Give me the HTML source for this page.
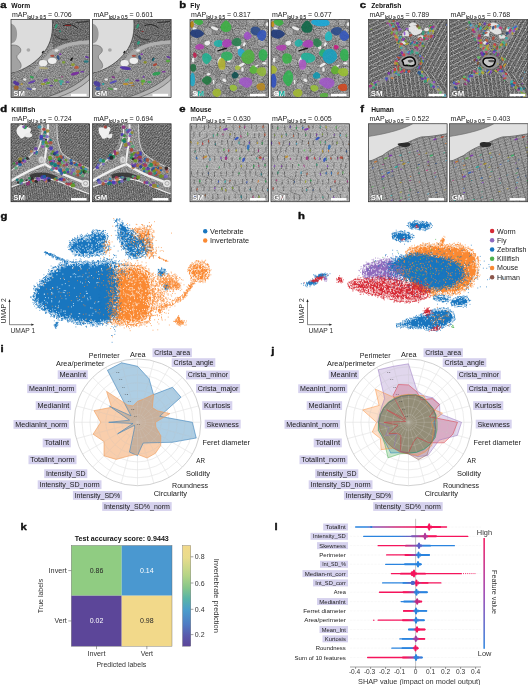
<!DOCTYPE html>
<html lang="en"><head><meta charset="utf-8"><title>Figure</title>
<style>html,body{margin:0;padding:0;background:#fff;}body{width:528px;height:685px;overflow:hidden;}svg{display:block;font-family:"Liberation Sans", sans-serif;}text{white-space:pre;}</style></head><body>
<svg width="528" height="685" viewBox="0 0 528 685">
<rect width="528" height="685" fill="#fff"/>
<defs>
<filter id="nz" x="0" y="0" width="100%" height="100%" color-interpolation-filters="sRGB"><feTurbulence type="fractalNoise" baseFrequency="0.55" numOctaves="2" seed="7"/><feColorMatrix type="matrix" values="0 0 0 0 0.45  0 0 0 0 0.45  0 0 0 0 0.45  2.2 0 0 0 -0.75"/></filter>
<filter id="nzi" x="0" y="0" width="100%" height="100%" color-interpolation-filters="sRGB"><feTurbulence type="fractalNoise" baseFrequency="0.13" numOctaves="3" seed="7"/><feColorMatrix type="matrix" values="1.7 0 0 0 -0.35  1.7 0 0 0 -0.35  1.7 0 0 0 -0.35  0 0 0 0 1"/></filter>
<filter id="nzw" x="0" y="0" width="100%" height="100%" color-interpolation-filters="sRGB"><feTurbulence type="fractalNoise" baseFrequency="0.6" numOctaves="2" seed="11"/><feColorMatrix type="matrix" values="0 0 0 0 1  0 0 0 0 1  0 0 0 0 1  0 2.4 0 0 -0.95"/></filter>
<filter id="bl1" x="-10%" y="-10%" width="120%" height="120%"><feGaussianBlur stdDeviation="1.6"/></filter>
<filter id="bl3" x="-10%" y="-10%" width="120%" height="120%"><feGaussianBlur stdDeviation="3.5"/></filter>
<pattern id="sA" width="27" height="27" patternUnits="userSpaceOnUse" patternTransform="rotate(-25)"><rect x="0" y="0" width="27" height="2.8" fill="#fff" opacity="0.72"/></pattern>
<pattern id="sB" width="27" height="27" patternUnits="userSpaceOnUse" patternTransform="rotate(-62)"><rect x="0" y="0" width="27" height="2.8" fill="#fff" opacity="0.72"/></pattern>
<pattern id="sC" width="27" height="27" patternUnits="userSpaceOnUse" patternTransform="rotate(82)"><rect x="0" y="0" width="27" height="2.8" fill="#fff" opacity="0.72"/></pattern>
<pattern id="sD" width="27" height="27" patternUnits="userSpaceOnUse" patternTransform="rotate(58)"><rect x="0" y="0" width="27" height="2.8" fill="#fff" opacity="0.72"/></pattern>
<pattern id="sE" width="27" height="27" patternUnits="userSpaceOnUse" patternTransform="rotate(-8)"><rect x="0" y="0" width="27" height="2.8" fill="#fff" opacity="0.72"/></pattern>
<pattern id="kA" width="14" height="14" patternUnits="userSpaceOnUse" patternTransform="rotate(-50)"><rect x="0" y="0" width="14" height="3" fill="#ddd" opacity="0.36"/></pattern>
<pattern id="kB" width="14" height="14" patternUnits="userSpaceOnUse" patternTransform="rotate(82)"><rect x="0" y="0" width="14" height="3" fill="#ddd" opacity="0.36"/></pattern>
<pattern id="kC" width="14" height="14" patternUnits="userSpaceOnUse" patternTransform="rotate(-40)"><rect x="0" y="0" width="14" height="3" fill="#ddd" opacity="0.34"/></pattern>
<pattern id="kD" width="14" height="14" patternUnits="userSpaceOnUse" patternTransform="rotate(60)"><rect x="0" y="0" width="14" height="3" fill="#ddd" opacity="0.5"/></pattern>
<pattern id="mH" width="9" height="9" patternUnits="userSpaceOnUse" patternTransform="rotate(0)"><rect x="0" y="0" width="9" height="3" fill="#fff" opacity="0.18"/></pattern>
<pattern id="hA" width="17" height="17" patternUnits="userSpaceOnUse" patternTransform="rotate(-17)"><rect x="0" y="0" width="17" height="3.2" fill="#4a4a4a" opacity="0.5"/></pattern>
<pattern id="hB" width="40" height="40" patternUnits="userSpaceOnUse" patternTransform="rotate(76)"><rect x="0" y="0" width="40" height="5" fill="#3c3c3c" opacity="0.5"/></pattern>
</defs>
<text transform="translate(0.3 7.6) scale(1.14 1)" font-size="9.9" font-weight="bold" fill="#111" stroke="#111" stroke-width=".42" stroke-linejoin="round">a</text>
<text x="11.3" y="7.5" font-size="6.7" font-weight="bold" fill="#111">Worm</text>
<text x="12" y="16.8" font-size="7" fill="#222">mAP<tspan font-size="4.7" dy="1.8" stroke="#222" stroke-width=".12">IoU ≥ 0.5</tspan><tspan dy="-1.8"> = 0.706</tspan></text>
<text x="93.5" y="16.8" font-size="7" fill="#222">mAP<tspan font-size="4.7" dy="1.8" stroke="#222" stroke-width=".12">IoU ≥ 0.5</tspan><tspan dy="-1.8"> = 0.601</tspan></text>
<text transform="translate(179.3 7.6) scale(1.14 1)" font-size="9.9" font-weight="bold" fill="#111" stroke="#111" stroke-width=".42" stroke-linejoin="round">b</text>
<text x="190.3" y="7.5" font-size="6.7" font-weight="bold" fill="#111">Fly</text>
<text x="191" y="16.8" font-size="7" fill="#222">mAP<tspan font-size="4.7" dy="1.8" stroke="#222" stroke-width=".12">IoU ≥ 0.5</tspan><tspan dy="-1.8"> = 0.817</tspan></text>
<text x="272" y="16.8" font-size="7" fill="#222">mAP<tspan font-size="4.7" dy="1.8" stroke="#222" stroke-width=".12">IoU ≥ 0.5</tspan><tspan dy="-1.8"> = 0.677</tspan></text>
<text transform="translate(359.8 7.6) scale(1.14 1)" font-size="9.9" font-weight="bold" fill="#111" stroke="#111" stroke-width=".42" stroke-linejoin="round">c</text>
<text x="371.2" y="7.5" font-size="6.7" font-weight="bold" fill="#111">Zebrafish</text>
<text x="369.5" y="16.8" font-size="7" fill="#222">mAP<tspan font-size="4.7" dy="1.8" stroke="#222" stroke-width=".12">IoU ≥ 0.5</tspan><tspan dy="-1.8"> = 0.789</tspan></text>
<text x="450.6" y="16.8" font-size="7" fill="#222">mAP<tspan font-size="4.7" dy="1.8" stroke="#222" stroke-width=".12">IoU ≥ 0.5</tspan><tspan dy="-1.8"> = 0.768</tspan></text>
<text transform="translate(0.3 111.85) scale(1.14 1)" font-size="9.9" font-weight="bold" fill="#111" stroke="#111" stroke-width=".42" stroke-linejoin="round">d</text>
<text x="11.3" y="111.75" font-size="6.7" font-weight="bold" fill="#111">Killifish</text>
<text x="12" y="121.05" font-size="7" fill="#222">mAP<tspan font-size="4.7" dy="1.8" stroke="#222" stroke-width=".12">IoU ≥ 0.5</tspan><tspan dy="-1.8"> = 0.724</tspan></text>
<text x="93.5" y="121.05" font-size="7" fill="#222">mAP<tspan font-size="4.7" dy="1.8" stroke="#222" stroke-width=".12">IoU ≥ 0.5</tspan><tspan dy="-1.8"> = 0.694</tspan></text>
<text transform="translate(179.3 111.85) scale(1.14 1)" font-size="9.9" font-weight="bold" fill="#111" stroke="#111" stroke-width=".42" stroke-linejoin="round">e</text>
<text x="190.3" y="111.75" font-size="6.7" font-weight="bold" fill="#111">Mouse</text>
<text x="191" y="121.05" font-size="7" fill="#222">mAP<tspan font-size="4.7" dy="1.8" stroke="#222" stroke-width=".12">IoU ≥ 0.5</tspan><tspan dy="-1.8"> = 0.630</tspan></text>
<text x="272" y="121.05" font-size="7" fill="#222">mAP<tspan font-size="4.7" dy="1.8" stroke="#222" stroke-width=".12">IoU ≥ 0.5</tspan><tspan dy="-1.8"> = 0.605</tspan></text>
<text transform="translate(360.2 111.85) scale(1.14 1)" font-size="9.9" font-weight="bold" fill="#111" stroke="#111" stroke-width=".42" stroke-linejoin="round">f</text>
<text x="371.2" y="111.75" font-size="6.7" font-weight="bold" fill="#111">Human</text>
<text x="369.5" y="121.05" font-size="7" fill="#222">mAP<tspan font-size="4.7" dy="1.8" stroke="#222" stroke-width=".12">IoU ≥ 0.5</tspan><tspan dy="-1.8"> = 0.522</tspan></text>
<text x="450.6" y="121.05" font-size="7" fill="#222">mAP<tspan font-size="4.7" dy="1.8" stroke="#222" stroke-width=".12">IoU ≥ 0.5</tspan><tspan dy="-1.8"> = 0.403</tspan></text>
<svg x="11" y="19.5" width="78.6" height="78" viewBox="0 0 506.18 502.32" preserveAspectRatio="none" overflow="hidden">
<rect width="520" height="520" fill="#8a8a8a"/>
<path d="M265,0 L520,0 L520,140 C430,140 340,150 280,200 C250,150 270,60 265,0Z" fill="#6b6b6b"/>
<rect width="520" height="520" filter="url(#nzi)" opacity="0.3" style="mix-blend-mode:overlay"/>
<path d="M0,0 L266,0 C272,75 262,150 212,212 C165,272 95,325 0,345Z" fill="#dcdcdc"/>
<path d="M266,0 C272,75 262,150 212,212 C165,272 95,325 0,345" fill="none" stroke="#3c3c3c" stroke-width="5"/>
<path d="M0,25 C30,35 45,70 38,110 C34,140 20,150 0,155Z" fill="#9a9a9a"/>
<path d="M0,165 C40,160 70,180 62,205 C55,225 30,225 40,250 C55,270 75,290 60,315 C45,335 20,335 0,340Z" fill="#a2a2a2"/>
<path d="M0,165 C40,160 70,180 62,205 C55,225 30,225 40,250 C55,270 75,290 60,315" fill="none" stroke="#666" stroke-width="4"/>
<ellipse cx="112" cy="196" rx="12" ry="11" fill="#a8a8a8" opacity="1"/>
<path d="M262,200 C330,150 420,138 520,132 L520,158 C430,158 350,168 288,215Z" fill="#b0b0b0"/>
<path d="M140,330 C200,270 240,215 262,200 L288,215 C250,245 215,290 160,345Z" fill="#a6a6a6"/>
<path d="M335,40 C370,25 410,35 430,60" fill="none" stroke="#1c1c1c" stroke-width="6"/>
<path d="M275,95 C300,120 330,135 365,130" fill="none" stroke="#2a2a2a" stroke-width="5"/>
<path d="M420,20 L500,12" fill="none" stroke="#222" stroke-width="5"/>
<path d="M150,520 C290,490 430,430 520,335 L520,372 C450,450 330,500 230,520Z" fill="#b2b2b2"/>
<path d="M150,520 C290,490 430,430 520,335" fill="none" stroke="#4a4a4a" stroke-width="4"/>
<path d="M230,520 C330,500 450,450 520,372 L520,520Z" fill="#c6c6c6"/>
<path d="M230,520 C330,500 450,450 520,372" fill="none" stroke="#555" stroke-width="4"/>
<path d="M0,440 C40,470 90,490 150,500 L150,520 L0,520Z" fill="#8c8c8c"/>
<ellipse cx="207" cy="281" rx="27" ry="20" fill="#ececec" opacity="1"/>
<ellipse cx="266" cy="266" rx="28" ry="20" fill="#efefef" opacity="1"/>
<ellipse cx="294" cy="199" rx="12" ry="8" fill="#e6e6e6" opacity="1"/>
<ellipse cx="89" cy="386" rx="10" ry="8" fill="#e6e6e6" opacity="1"/>
<ellipse cx="148" cy="447" rx="14" ry="7" fill="#e2e2e2" opacity="1"/>
<ellipse cx="390" cy="256" rx="6" ry="13" fill="#111" opacity="1" transform="rotate(30 390 256)"/>
<ellipse cx="205" cy="210" rx="5" ry="10" fill="#181818" opacity="1" transform="rotate(35 205 210)"/>
<ellipse cx="291" cy="43" rx="7" ry="16" fill="#2e9e78" opacity="0.9" transform="rotate(25 291 43)"/>
<ellipse cx="366" cy="38" rx="22" ry="4" fill="#8a2020" opacity="0.9"/>
<ellipse cx="316" cy="76" rx="7" ry="5" fill="#1e9e7e" opacity="0.9"/>
<ellipse cx="266" cy="234" rx="14" ry="7" fill="#b04838" opacity="0.9"/>
<ellipse cx="317" cy="223" rx="8" ry="6" fill="#8030b0" opacity="0.9"/>
<ellipse cx="304" cy="246" rx="8" ry="16" fill="#2a4a80" opacity="0.9" transform="rotate(-20 304 246)"/>
<ellipse cx="339" cy="276" rx="10" ry="9" fill="#7aa030" opacity="0.9"/>
<ellipse cx="399" cy="291" rx="12" ry="9" fill="#90a028" opacity="0.9"/>
<ellipse cx="422" cy="308" rx="14" ry="10" fill="#c05838" opacity="0.9"/>
<ellipse cx="412" cy="349" rx="28" ry="9" fill="#7828a0" opacity="0.9" transform="rotate(-15 412 349)"/>
<ellipse cx="459" cy="336" rx="14" ry="5" fill="#7030b0" opacity="0.9"/>
<ellipse cx="489" cy="243" rx="14" ry="6" fill="#6030a0" opacity="0.9" transform="rotate(20 489 243)"/>
<ellipse cx="484" cy="271" rx="16" ry="8" fill="#207880" opacity="0.9"/>
<ellipse cx="209" cy="313" rx="30" ry="7" fill="#b0a878" opacity="0.9" transform="rotate(5 209 313)"/>
<ellipse cx="134" cy="371" rx="14" ry="8" fill="#30a050" opacity="0.9" transform="rotate(20 134 371)"/>
<ellipse cx="134" cy="403" rx="25" ry="7" fill="#6038b0" opacity="0.9" transform="rotate(-20 134 403)"/>
<ellipse cx="222" cy="391" rx="16" ry="8" fill="#7038c0" opacity="0.9" transform="rotate(-25 222 391)"/>
<ellipse cx="206" cy="416" rx="16" ry="7" fill="#98a028" opacity="0.9"/>
<ellipse cx="239" cy="409" rx="14" ry="7" fill="#58a830" opacity="0.9" transform="rotate(-20 239 409)"/>
<ellipse cx="289" cy="393" rx="14" ry="8" fill="#70a838" opacity="0.9"/>
<ellipse cx="324" cy="399" rx="16" ry="10" fill="#40a890" opacity="0.9"/>
<ellipse cx="364" cy="403" rx="14" ry="6" fill="#6848a8" opacity="0.9"/>
<ellipse cx="259" cy="426" rx="12" ry="4" fill="#5828a0" opacity="0.9"/>
<ellipse cx="322" cy="416" rx="6" ry="8" fill="#20b0b0" opacity="0.9"/>
<ellipse cx="34" cy="411" rx="22" ry="12" fill="#5030a0" opacity="0.9" transform="rotate(30 34 411)"/>
<ellipse cx="34" cy="439" rx="16" ry="14" fill="#a06028" opacity="0.9"/>
<ellipse cx="69" cy="416" rx="8" ry="6" fill="#c0a030" opacity="0.9"/>
<ellipse cx="116" cy="446" rx="18" ry="6" fill="#5050b0" opacity="0.9" transform="rotate(15 116 446)"/>
<ellipse cx="329" cy="369" rx="5" ry="5" fill="#a03080" opacity="0.9"/>
</svg>
<text x="13.2" y="96.2" font-size="7.8" font-weight="bold" fill="#000" opacity=".4" stroke="#000" stroke-width="1.2" stroke-opacity=".3">SM</text>
<text x="13.2" y="96.2" font-size="7.8" font-weight="bold" fill="#fff">SM</text>
<rect x="71" y="93.8" width="15.6" height="2.4" fill="#fff"/>
<rect x="11" y="19.5" width="78.6" height="78" fill="none" stroke="#2b2b2b" stroke-width=".7"/>
<svg x="92.5" y="19.5" width="78.6" height="78" viewBox="0 0 506.18 502.32" preserveAspectRatio="none" overflow="hidden">
<rect width="520" height="520" fill="#8a8a8a"/>
<path d="M265,0 L520,0 L520,140 C430,140 340,150 280,200 C250,150 270,60 265,0Z" fill="#6b6b6b"/>
<rect width="520" height="520" filter="url(#nzi)" opacity="0.3" style="mix-blend-mode:overlay"/>
<path d="M0,0 L266,0 C272,75 262,150 212,212 C165,272 95,325 0,345Z" fill="#dcdcdc"/>
<path d="M266,0 C272,75 262,150 212,212 C165,272 95,325 0,345" fill="none" stroke="#3c3c3c" stroke-width="5"/>
<path d="M0,25 C30,35 45,70 38,110 C34,140 20,150 0,155Z" fill="#9a9a9a"/>
<path d="M0,165 C40,160 70,180 62,205 C55,225 30,225 40,250 C55,270 75,290 60,315 C45,335 20,335 0,340Z" fill="#a2a2a2"/>
<path d="M0,165 C40,160 70,180 62,205 C55,225 30,225 40,250 C55,270 75,290 60,315" fill="none" stroke="#666" stroke-width="4"/>
<ellipse cx="112" cy="196" rx="12" ry="11" fill="#a8a8a8" opacity="1"/>
<path d="M262,200 C330,150 420,138 520,132 L520,158 C430,158 350,168 288,215Z" fill="#b0b0b0"/>
<path d="M140,330 C200,270 240,215 262,200 L288,215 C250,245 215,290 160,345Z" fill="#a6a6a6"/>
<path d="M335,40 C370,25 410,35 430,60" fill="none" stroke="#1c1c1c" stroke-width="6"/>
<path d="M275,95 C300,120 330,135 365,130" fill="none" stroke="#2a2a2a" stroke-width="5"/>
<path d="M420,20 L500,12" fill="none" stroke="#222" stroke-width="5"/>
<path d="M150,520 C290,490 430,430 520,335 L520,372 C450,450 330,500 230,520Z" fill="#b2b2b2"/>
<path d="M150,520 C290,490 430,430 520,335" fill="none" stroke="#4a4a4a" stroke-width="4"/>
<path d="M230,520 C330,500 450,450 520,372 L520,520Z" fill="#c6c6c6"/>
<path d="M230,520 C330,500 450,450 520,372" fill="none" stroke="#555" stroke-width="4"/>
<path d="M0,440 C40,470 90,490 150,500 L150,520 L0,520Z" fill="#8c8c8c"/>
<ellipse cx="207" cy="281" rx="27" ry="20" fill="#ececec" opacity="1"/>
<ellipse cx="266" cy="266" rx="28" ry="20" fill="#efefef" opacity="1"/>
<ellipse cx="294" cy="199" rx="12" ry="8" fill="#e6e6e6" opacity="1"/>
<ellipse cx="89" cy="386" rx="10" ry="8" fill="#e6e6e6" opacity="1"/>
<ellipse cx="148" cy="447" rx="14" ry="7" fill="#e2e2e2" opacity="1"/>
<ellipse cx="390" cy="256" rx="6" ry="13" fill="#111" opacity="1" transform="rotate(30 390 256)"/>
<ellipse cx="205" cy="210" rx="5" ry="10" fill="#181818" opacity="1" transform="rotate(35 205 210)"/>
<ellipse cx="291" cy="43" rx="7" ry="16" fill="#2e9e78" opacity="0.9" transform="rotate(25 291 43)"/>
<ellipse cx="322" cy="76" rx="8" ry="4" fill="#903030" opacity="0.9"/>
<ellipse cx="296" cy="150" rx="8" ry="12" fill="#1e9e7e" opacity="0.9" transform="rotate(30 296 150)"/>
<ellipse cx="266" cy="234" rx="14" ry="7" fill="#b04838" opacity="0.9"/>
<ellipse cx="317" cy="223" rx="8" ry="6" fill="#8030b0" opacity="0.9"/>
<ellipse cx="304" cy="246" rx="8" ry="16" fill="#2a4a80" opacity="0.9" transform="rotate(-20 304 246)"/>
<ellipse cx="339" cy="276" rx="10" ry="9" fill="#8a9020" opacity="0.9"/>
<ellipse cx="392" cy="258" rx="6" ry="12" fill="#207888" opacity="0.9" transform="rotate(30 392 258)"/>
<ellipse cx="403" cy="291" rx="14" ry="8" fill="#b04030" opacity="0.9" transform="rotate(-20 403 291)"/>
<ellipse cx="422" cy="308" rx="12" ry="9" fill="#a0a080" opacity="0.9"/>
<ellipse cx="412" cy="349" rx="26" ry="11" fill="#28a050" opacity="0.9" transform="rotate(-10 412 349)"/>
<ellipse cx="459" cy="336" rx="14" ry="5" fill="#8030a0" opacity="0.9"/>
<ellipse cx="489" cy="243" rx="14" ry="6" fill="#6030a0" opacity="0.9" transform="rotate(20 489 243)"/>
<ellipse cx="486" cy="268" rx="14" ry="9" fill="#50a838" opacity="0.9"/>
<ellipse cx="212" cy="313" rx="36" ry="10" fill="#5030a8" opacity="0.9" transform="rotate(8 212 313)"/>
<ellipse cx="134" cy="371" rx="12" ry="6" fill="#803088" opacity="0.9" transform="rotate(20 134 371)"/>
<ellipse cx="134" cy="403" rx="25" ry="7" fill="#5048c0" opacity="0.9" transform="rotate(-20 134 403)"/>
<ellipse cx="222" cy="391" rx="16" ry="8" fill="#50a890" opacity="0.9" transform="rotate(-25 222 391)"/>
<ellipse cx="214" cy="416" rx="20" ry="7" fill="#c09028" opacity="0.9"/>
<ellipse cx="250" cy="409" rx="14" ry="6" fill="#b89030" opacity="0.9" transform="rotate(-10 250 409)"/>
<ellipse cx="289" cy="393" rx="14" ry="7" fill="#602890" opacity="0.9"/>
<ellipse cx="326" cy="397" rx="14" ry="11" fill="#58b030" opacity="0.9"/>
<ellipse cx="366" cy="403" rx="14" ry="7" fill="#38a858" opacity="0.9"/>
<ellipse cx="259" cy="426" rx="12" ry="4" fill="#a07028" opacity="0.9"/>
<ellipse cx="322" cy="416" rx="6" ry="8" fill="#98a830" opacity="0.9"/>
<ellipse cx="30" cy="415" rx="24" ry="16" fill="#4838a0" opacity="0.9" transform="rotate(30 30 415)"/>
<ellipse cx="36" cy="445" rx="16" ry="12" fill="#3858a0" opacity="0.9"/>
<ellipse cx="69" cy="416" rx="8" ry="7" fill="#20a0a0" opacity="0.9"/>
<ellipse cx="116" cy="446" rx="18" ry="7" fill="#509848" opacity="0.9" transform="rotate(15 116 446)"/>
<ellipse cx="329" cy="369" rx="6" ry="6" fill="#7030b0" opacity="0.9"/>
</svg>
<text x="94.7" y="96.2" font-size="7.8" font-weight="bold" fill="#000" opacity=".4" stroke="#000" stroke-width="1.2" stroke-opacity=".3">GM</text>
<text x="94.7" y="96.2" font-size="7.8" font-weight="bold" fill="#fff">GM</text>
<rect x="152.5" y="93.8" width="15.6" height="2.4" fill="#fff"/>
<rect x="92.5" y="19.5" width="78.6" height="78" fill="none" stroke="#2b2b2b" stroke-width=".7"/>
<svg x="190" y="19.5" width="78.6" height="78" viewBox="0 0 506.18 502.32" preserveAspectRatio="none" overflow="hidden">
<rect width="520" height="520" fill="#929292"/>
<path d="M56.3,22.1Q59.2,31.8 57.1,42.2Q55.1,52.7 44.3,59.6Q33.4,66.6 21.9,60.3Q10.3,54.1 4.2,42.9Q-2.0,31.8 6.3,22.6Q14.6,13.5 24.0,7.8Q33.4,2.1 43.4,7.3Q53.4,12.5 56.3,22.1Z" fill="#a0a0a0" stroke="#5e5e5e" stroke-width="3.5"/>
<path d="M89.4,76.0Q94.8,87.1 88.6,97.3Q82.4,107.6 71.8,110.6Q61.2,113.6 48.8,112.4Q36.4,111.1 33.9,99.1Q31.5,87.1 34.3,75.5Q37.2,63.9 49.2,62.8Q61.2,61.7 72.7,63.3Q84.1,65.0 89.4,76.0Z" fill="#9a9a9a" stroke="#5e5e5e" stroke-width="3.5"/>
<path d="M54.0,123.4Q56.2,134.7 52.2,144.2Q48.1,153.7 38.3,161.8Q28.5,169.9 16.0,164.3Q3.6,158.8 1.7,146.7Q-0.2,134.7 1.4,122.3Q2.9,110.0 15.7,107.1Q28.5,104.3 40.1,108.2Q51.8,112.1 54.0,123.4Z" fill="#9a9a9a" stroke="#5e5e5e" stroke-width="3.5"/>
<path d="M80.0,207.5Q87.9,217.3 82.4,229.5Q76.8,241.6 64.2,243.4Q51.7,245.2 41.3,241.3Q30.9,237.5 27.7,227.4Q24.5,217.3 28.5,208.1Q32.6,198.8 42.2,195.4Q51.7,192.0 61.9,194.8Q72.1,197.7 80.0,207.5Z" fill="#8c8c8c" stroke="#5e5e5e" stroke-width="3.5"/>
<path d="M56.0,241.4Q59.0,251.1 56.4,261.1Q53.7,271.2 43.3,275.1Q32.9,279.0 21.2,276.4Q9.4,273.8 7.4,262.5Q5.4,251.1 8.3,240.6Q11.2,230.1 22.0,227.3Q32.9,224.6 42.9,228.2Q52.9,231.7 56.0,241.4Z" fill="#959595" stroke="#5e5e5e" stroke-width="3.5"/>
<path d="M99.4,328.2Q107.1,337.6 98.8,346.3Q90.4,355.1 81.4,362.9Q72.3,370.7 61.9,364.2Q51.4,357.8 45.9,347.7Q40.4,337.6 47.3,328.8Q54.2,320.1 63.3,316.3Q72.3,312.5 82.0,315.6Q91.7,318.8 99.4,328.2Z" fill="#959595" stroke="#5e5e5e" stroke-width="3.5"/>
<path d="M72.6,364.9Q78.5,376.5 73.3,388.8Q68.2,401.1 55.4,403.0Q42.7,404.8 32.4,400.7Q22.0,396.6 16.7,386.6Q11.5,376.5 15.1,364.8Q18.6,353.2 30.7,352.0Q42.7,350.7 54.7,352.1Q66.6,353.4 72.6,364.9Z" fill="#8c8c8c" stroke="#5e5e5e" stroke-width="3.5"/>
<path d="M95.2,443.7Q98.6,455.1 96.3,467.5Q94.0,479.9 81.2,480.9Q68.3,481.9 57.3,479.2Q46.3,476.4 42.6,465.7Q38.9,455.1 44.0,445.8Q49.2,436.5 58.8,432.0Q68.3,427.5 80.1,429.9Q91.8,432.3 95.2,443.7Z" fill="#9a9a9a" stroke="#5e5e5e" stroke-width="3.5"/>
<path d="M45.2,497.7Q46.0,510.2 41.6,519.2Q37.2,528.2 27.9,532.3Q18.6,536.4 6.9,534.6Q-4.8,532.9 -11.4,521.5Q-18.0,510.2 -9.3,500.9Q-0.7,491.6 9.0,488.3Q18.6,485.1 31.5,485.2Q44.3,485.3 45.2,497.7Z" fill="#959595" stroke="#5e5e5e" stroke-width="3.5"/>
<path d="M119.9,10.6Q124.6,22.4 118.1,32.4Q111.6,42.4 101.3,46.0Q90.9,49.7 79.4,47.2Q67.8,44.7 65.9,33.5Q63.9,22.4 64.6,9.9Q65.2,-2.5 78.1,-5.8Q90.9,-9.1 103.1,-5.1Q115.2,-1.2 119.9,10.6Z" fill="#8c8c8c" stroke="#5e5e5e" stroke-width="3.5"/>
<path d="M143.5,67.0Q151.4,76.8 144.8,87.9Q138.3,99.0 126.8,104.5Q115.4,109.9 105.9,102.5Q96.5,95.0 90.8,85.9Q85.1,76.8 90.6,67.5Q96.2,58.3 105.8,50.7Q115.4,43.1 125.5,50.1Q135.7,57.2 143.5,67.0Z" fill="#a0a0a0" stroke="#5e5e5e" stroke-width="3.5"/>
<path d="M116.4,149.7Q125.0,159.0 117.6,169.4Q110.2,179.8 99.5,184.3Q88.7,188.9 76.8,185.4Q65.0,181.9 61.4,170.5Q57.9,159.0 63.2,149.2Q68.4,139.4 78.6,134.7Q88.7,130.0 98.3,135.2Q107.8,140.5 116.4,149.7Z" fill="#8c8c8c" stroke="#5e5e5e" stroke-width="3.5"/>
<path d="M143.2,208.6Q149.0,218.7 143.7,229.3Q138.5,239.9 127.5,243.4Q116.6,246.9 107.2,241.8Q97.9,236.8 93.0,227.7Q88.1,218.7 90.3,207.0Q92.4,195.3 104.5,190.0Q116.6,184.7 127.0,191.6Q137.4,198.5 143.2,208.6Z" fill="#8c8c8c" stroke="#5e5e5e" stroke-width="3.5"/>
<path d="M126.1,261.4Q130.8,272.7 126.4,284.3Q122.0,295.9 110.0,298.6Q98.0,301.2 86.2,298.3Q74.5,295.5 72.0,284.1Q69.5,272.7 72.8,262.1Q76.2,251.6 87.1,245.7Q98.0,239.8 109.7,244.9Q121.4,250.0 126.1,261.4Z" fill="#a0a0a0" stroke="#5e5e5e" stroke-width="3.5"/>
<path d="M141.7,326.3Q146.1,337.5 139.2,346.2Q132.3,355.0 123.3,361.5Q114.2,368.0 104.3,362.4Q94.3,356.8 87.8,347.1Q81.3,337.5 87.0,327.0Q92.6,316.5 103.4,310.3Q114.2,304.1 125.8,309.6Q137.3,315.1 141.7,326.3Z" fill="#8c8c8c" stroke="#5e5e5e" stroke-width="3.5"/>
<path d="M127.9,368.4Q132.0,380.7 127.4,392.6Q122.8,404.5 110.6,406.8Q98.3,409.1 86.0,406.8Q73.7,404.6 68.5,392.7Q63.2,380.7 69.1,369.4Q74.9,358.1 86.6,351.8Q98.3,345.6 111.1,350.8Q123.9,356.0 127.9,368.4Z" fill="#959595" stroke="#5e5e5e" stroke-width="3.5"/>
<path d="M145.7,434.8Q148.1,445.8 144.7,455.9Q141.3,466.0 130.9,472.8Q120.5,479.6 110.4,472.5Q100.3,465.4 97.3,455.6Q94.2,445.8 95.7,434.6Q97.2,423.3 108.9,420.0Q120.5,416.7 131.9,420.2Q143.3,423.7 145.7,434.8Z" fill="#8c8c8c" stroke="#5e5e5e" stroke-width="3.5"/>
<path d="M128.1,494.4Q131.0,505.5 127.8,516.3Q124.6,527.1 113.4,533.3Q102.2,539.4 92.2,532.2Q82.1,524.9 73.9,515.2Q65.7,505.5 74.2,496.0Q82.7,486.6 92.5,480.5Q102.2,474.5 113.7,478.9Q125.1,483.3 128.1,494.4Z" fill="#858585" stroke="#5e5e5e" stroke-width="3.5"/>
<path d="M167.0,22.9Q173.5,32.3 166.4,41.1Q159.4,50.0 150.2,56.0Q141.1,61.9 131.2,56.7Q121.3,51.4 118.2,41.8Q115.0,32.3 118.5,23.0Q122.0,13.8 131.5,9.0Q141.1,4.2 150.8,8.8Q160.5,13.5 167.0,22.9Z" fill="#8c8c8c" stroke="#5e5e5e" stroke-width="3.5"/>
<path d="M198.8,59.7Q200.8,72.0 197.7,83.2Q194.6,94.5 183.0,95.9Q171.4,97.4 161.6,94.2Q151.8,91.0 144.9,81.5Q138.0,72.0 144.2,61.9Q150.5,51.7 161.0,47.7Q171.4,43.6 184.2,45.5Q196.9,47.3 198.8,59.7Z" fill="#858585" stroke="#5e5e5e" stroke-width="3.5"/>
<path d="M187.5,142.9Q189.6,155.3 183.9,164.1Q178.2,172.9 169.1,179.7Q160.0,186.5 150.6,179.9Q141.2,173.4 134.9,164.3Q128.5,155.3 133.9,145.3Q139.3,135.3 149.6,129.8Q160.0,124.4 172.7,127.5Q185.5,130.5 187.5,142.9Z" fill="#a0a0a0" stroke="#5e5e5e" stroke-width="3.5"/>
<path d="M216.6,191.7Q221.5,202.7 215.7,212.8Q209.8,223.0 199.4,225.9Q188.9,228.9 177.6,226.8Q166.2,224.7 161.7,213.7Q157.2,202.7 160.3,190.4Q163.4,178.0 176.2,172.9Q188.9,167.7 200.3,174.2Q211.7,180.7 216.6,191.7Z" fill="#a0a0a0" stroke="#5e5e5e" stroke-width="3.5"/>
<path d="M171.4,265.7Q175.5,276.0 170.9,286.0Q166.4,295.9 156.1,303.2Q145.8,310.5 134.7,304.0Q123.6,297.5 120.2,286.8Q116.8,276.0 118.9,264.0Q120.9,251.9 133.4,248.6Q145.8,245.3 156.5,250.3Q167.2,255.3 171.4,265.7Z" fill="#9a9a9a" stroke="#5e5e5e" stroke-width="3.5"/>
<path d="M222.4,314.2Q229.6,324.8 222.0,335.0Q214.3,345.1 203.8,352.5Q193.3,359.8 180.8,354.5Q168.2,349.2 164.7,337.0Q161.3,324.8 167.3,315.1Q173.3,305.4 183.3,297.5Q193.3,289.6 204.3,296.6Q215.2,303.6 222.4,314.2Z" fill="#858585" stroke="#5e5e5e" stroke-width="3.5"/>
<path d="M175.2,368.3Q178.5,379.9 173.2,389.7Q167.9,399.5 157.8,404.6Q147.6,409.7 138.2,404.0Q128.7,398.3 122.0,389.1Q115.3,379.9 120.7,369.5Q126.2,359.2 136.9,355.7Q147.6,352.2 159.7,354.4Q171.8,356.6 175.2,368.3Z" fill="#959595" stroke="#5e5e5e" stroke-width="3.5"/>
<path d="M215.1,421.6Q220.8,431.4 214.9,441.0Q209.0,450.6 199.1,455.9Q189.2,461.1 180.0,455.1Q170.9,449.0 164.6,440.2Q158.3,431.4 161.4,419.4Q164.5,407.5 176.8,403.3Q189.2,399.0 199.3,405.4Q209.4,411.8 215.1,421.6Z" fill="#a0a0a0" stroke="#5e5e5e" stroke-width="3.5"/>
<path d="M176.4,508.8Q182.4,518.8 177.5,529.8Q172.5,540.8 161.2,546.1Q149.8,551.4 140.3,544.3Q130.9,537.1 123.4,527.9Q115.9,518.8 122.7,508.9Q129.4,499.1 139.6,493.8Q149.8,488.4 160.1,493.6Q170.4,498.8 176.4,508.8Z" fill="#a0a0a0" stroke="#5e5e5e" stroke-width="3.5"/>
<path d="M228.4,16.7Q233.6,25.8 230.7,37.1Q227.7,48.4 216.0,53.8Q204.3,59.2 194.8,51.7Q185.3,44.2 182.1,35.0Q178.9,25.8 180.4,15.0Q182.0,4.2 193.1,-1.0Q204.3,-6.2 213.7,0.7Q223.1,7.6 228.4,16.7Z" fill="#858585" stroke="#5e5e5e" stroke-width="3.5"/>
<path d="M272.8,66.2Q279.4,76.4 273.0,86.7Q266.6,97.0 255.9,102.1Q245.2,107.2 233.5,103.2Q221.7,99.2 217.2,87.8Q212.8,76.4 218.1,65.8Q223.5,55.3 234.4,48.6Q245.2,41.9 255.8,49.0Q266.3,56.0 272.8,66.2Z" fill="#858585" stroke="#5e5e5e" stroke-width="3.5"/>
<path d="M236.2,143.7Q242.4,154.9 235.5,165.3Q228.6,175.8 217.8,181.7Q207.0,187.6 196.8,181.1Q186.6,174.6 184.1,164.7Q181.5,154.9 182.2,143.2Q182.9,131.5 194.9,127.7Q207.0,124.0 218.5,128.2Q230.1,132.5 236.2,143.7Z" fill="#8c8c8c" stroke="#5e5e5e" stroke-width="3.5"/>
<path d="M263.9,190.7Q270.0,199.7 265.8,210.5Q261.5,221.3 250.4,225.5Q239.2,229.7 228.9,224.7Q218.6,219.6 215.4,209.7Q212.1,199.7 214.4,188.8Q216.6,177.8 227.9,172.1Q239.2,166.3 248.5,174.1Q257.7,181.8 263.9,190.7Z" fill="#8c8c8c" stroke="#5e5e5e" stroke-width="3.5"/>
<path d="M231.2,262.0Q235.3,273.9 227.9,282.7Q220.6,291.5 211.5,298.9Q202.4,306.4 189.6,302.6Q176.7,298.8 171.3,286.4Q165.9,273.9 172.4,262.6Q178.9,251.2 190.7,250.0Q202.4,248.8 214.8,249.5Q227.1,250.1 231.2,262.0Z" fill="#9a9a9a" stroke="#5e5e5e" stroke-width="3.5"/>
<path d="M258.4,319.8Q265.5,329.1 258.3,338.3Q251.2,347.5 241.7,352.2Q232.1,356.8 219.5,355.2Q206.9,353.5 206.0,341.3Q205.0,329.1 207.2,318.1Q209.3,307.0 220.7,303.5Q232.1,300.0 241.8,305.2Q251.4,310.5 258.4,319.8Z" fill="#9a9a9a" stroke="#5e5e5e" stroke-width="3.5"/>
<path d="M238.8,363.5Q246.2,372.2 241.8,383.8Q237.3,395.3 225.4,397.6Q213.4,399.8 202.2,396.9Q190.9,394.0 188.8,383.1Q186.7,372.2 189.5,362.0Q192.3,351.8 202.9,346.3Q213.4,340.9 222.5,347.8Q231.5,354.7 238.8,363.5Z" fill="#9a9a9a" stroke="#5e5e5e" stroke-width="3.5"/>
<path d="M255.0,439.6Q259.4,450.2 256.7,462.5Q253.9,474.8 241.3,476.8Q228.6,478.8 219.4,473.4Q210.1,468.0 202.8,459.1Q195.4,450.2 202.4,440.9Q209.4,431.6 219.0,425.2Q228.6,418.8 239.5,423.9Q250.5,428.9 255.0,439.6Z" fill="#858585" stroke="#5e5e5e" stroke-width="3.5"/>
<path d="M247.8,494.5Q249.4,506.5 244.7,515.5Q240.0,524.4 230.7,529.0Q221.5,533.7 209.2,532.0Q196.9,530.3 194.9,518.4Q192.9,506.5 194.4,494.1Q195.8,481.7 208.7,477.5Q221.5,473.2 233.9,477.9Q246.3,482.5 247.8,494.5Z" fill="#a0a0a0" stroke="#5e5e5e" stroke-width="3.5"/>
<path d="M295.3,12.3Q302.1,21.9 297.0,33.1Q291.8,44.3 280.3,45.8Q268.7,47.4 257.1,45.9Q245.4,44.4 243.9,33.1Q242.3,21.9 246.0,12.7Q249.7,3.5 259.2,-2.8Q268.7,-9.1 278.6,-3.2Q288.6,2.7 295.3,12.3Z" fill="#8c8c8c" stroke="#5e5e5e" stroke-width="3.5"/>
<path d="M336.0,72.7Q337.2,84.5 334.9,95.2Q332.7,105.9 321.6,110.4Q310.6,114.9 300.0,109.8Q289.5,104.8 282.6,94.6Q275.7,84.5 280.4,72.1Q285.1,59.8 297.8,57.5Q310.6,55.2 322.7,58.1Q334.8,61.0 336.0,72.7Z" fill="#959595" stroke="#5e5e5e" stroke-width="3.5"/>
<path d="M304.6,123.3Q311.6,133.3 303.8,142.6Q296.1,151.8 286.5,158.3Q277.0,164.7 266.6,159.1Q256.2,153.4 252.6,143.4Q248.9,133.3 252.7,123.4Q256.4,113.4 266.7,107.8Q277.0,102.1 287.4,107.7Q297.7,113.3 304.6,123.3Z" fill="#858585" stroke="#5e5e5e" stroke-width="3.5"/>
<path d="M325.0,183.3Q329.5,194.8 325.3,206.6Q321.1,218.4 309.0,221.2Q296.8,224.1 284.5,221.4Q272.1,218.7 268.9,206.8Q265.6,194.8 269.9,183.9Q274.1,172.9 285.5,168.5Q296.8,164.0 308.7,167.9Q320.6,171.8 325.0,183.3Z" fill="#959595" stroke="#5e5e5e" stroke-width="3.5"/>
<path d="M291.0,243.9Q294.6,253.7 290.6,263.2Q286.6,272.6 276.8,278.1Q267.1,283.6 254.4,280.9Q241.7,278.3 238.0,266.0Q234.3,253.7 240.3,243.7Q246.3,233.7 256.7,229.1Q267.1,224.5 277.2,229.3Q287.4,234.0 291.0,243.9Z" fill="#9a9a9a" stroke="#5e5e5e" stroke-width="3.5"/>
<path d="M337.1,327.5Q342.8,336.8 336.9,345.9Q330.9,355.0 321.5,359.0Q312.2,363.1 302.6,359.2Q292.9,355.4 287.8,346.1Q282.6,336.8 286.9,326.6Q291.2,316.5 301.7,309.6Q312.2,302.7 321.8,310.5Q331.3,318.3 337.1,327.5Z" fill="#959595" stroke="#5e5e5e" stroke-width="3.5"/>
<path d="M289.2,369.8Q296.9,378.8 291.6,390.0Q286.4,401.3 274.8,402.5Q263.1,403.7 250.6,403.4Q238.1,403.0 236.0,390.9Q233.9,378.8 236.5,367.2Q239.2,355.6 251.2,353.2Q263.1,350.8 272.3,355.8Q281.6,360.9 289.2,369.8Z" fill="#8c8c8c" stroke="#5e5e5e" stroke-width="3.5"/>
<path d="M309.1,435.0Q313.3,443.8 311.6,455.0Q309.9,466.3 298.2,468.9Q286.6,471.5 275.0,468.9Q263.3,466.3 258.2,455.1Q253.0,443.8 260.2,434.5Q267.3,425.1 277.0,421.1Q286.6,417.0 295.7,421.6Q304.8,426.2 309.1,435.0Z" fill="#8c8c8c" stroke="#5e5e5e" stroke-width="3.5"/>
<path d="M291.1,482.7Q298.0,493.2 292.0,504.6Q286.0,516.0 274.2,520.6Q262.5,525.1 252.7,518.6Q243.0,512.0 238.0,502.6Q233.0,493.2 238.5,484.2Q244.0,475.3 253.2,466.6Q262.5,457.9 273.3,465.0Q284.1,472.2 291.1,482.7Z" fill="#858585" stroke="#5e5e5e" stroke-width="3.5"/>
<path d="M366.3,5.7Q373.6,15.9 367.2,27.1Q360.8,38.2 349.3,41.7Q337.7,45.2 324.9,43.0Q312.1,40.8 312.1,28.3Q312.2,15.9 315.8,7.0Q319.3,-1.9 328.5,-9.5Q337.7,-17.1 348.3,-10.9Q358.9,-4.6 366.3,5.7Z" fill="#8c8c8c" stroke="#5e5e5e" stroke-width="3.5"/>
<path d="M374.8,75.1Q379.0,86.4 375.8,98.6Q372.6,110.9 360.0,114.8Q347.3,118.7 337.3,112.1Q327.4,105.6 320.1,96.0Q312.9,86.4 320.7,77.3Q328.6,68.3 337.9,62.5Q347.3,56.7 358.9,60.2Q370.6,63.7 374.8,75.1Z" fill="#a0a0a0" stroke="#5e5e5e" stroke-width="3.5"/>
<path d="M358.7,133.6Q360.0,144.9 359.3,156.8Q358.6,168.7 346.3,171.5Q334.0,174.3 322.5,170.8Q311.0,167.2 304.9,156.1Q298.9,144.9 303.7,132.6Q308.6,120.3 321.3,119.3Q334.0,118.2 345.8,120.2Q357.5,122.2 358.7,133.6Z" fill="#9a9a9a" stroke="#5e5e5e" stroke-width="3.5"/>
<path d="M386.9,186.7Q390.3,196.3 387.3,206.2Q384.4,216.1 374.2,219.0Q363.9,222.0 352.8,219.9Q341.7,217.8 335.0,207.0Q328.2,196.3 334.7,185.3Q341.2,174.3 352.6,168.4Q363.9,162.4 373.8,169.8Q383.6,177.2 386.9,186.7Z" fill="#8c8c8c" stroke="#5e5e5e" stroke-width="3.5"/>
<path d="M344.1,254.0Q346.6,266.1 343.6,277.7Q340.5,289.4 328.5,292.9Q316.5,296.4 307.0,290.4Q297.5,284.5 294.2,275.3Q290.9,266.1 291.7,254.5Q292.5,242.9 304.5,238.5Q316.5,234.1 329.0,238.0Q341.5,241.9 344.1,254.0Z" fill="#858585" stroke="#5e5e5e" stroke-width="3.5"/>
<path d="M398.4,316.9Q402.9,326.5 397.8,335.6Q392.7,344.6 383.3,352.0Q374.0,359.5 361.8,354.8Q349.6,350.2 347.3,338.4Q345.1,326.5 350.0,317.3Q355.0,308.1 364.5,304.6Q374.0,301.0 383.9,304.1Q393.9,307.3 398.4,316.9Z" fill="#8c8c8c" stroke="#5e5e5e" stroke-width="3.5"/>
<path d="M347.3,370.9Q351.2,383.0 344.9,392.8Q338.5,402.5 328.4,407.7Q318.4,412.9 308.4,407.6Q298.4,402.3 291.8,392.6Q285.1,383.0 289.6,371.3Q294.1,359.5 306.2,354.2Q318.4,348.9 330.8,353.9Q343.3,358.8 347.3,370.9Z" fill="#a0a0a0" stroke="#5e5e5e" stroke-width="3.5"/>
<path d="M377.1,440.7Q381.8,452.5 376.1,463.4Q370.4,474.2 359.2,480.5Q348.0,486.8 336.4,480.9Q324.9,474.9 319.5,463.7Q314.1,452.5 319.8,441.7Q325.5,430.8 336.8,427.0Q348.0,423.2 360.2,426.0Q372.4,428.9 377.1,440.7Z" fill="#858585" stroke="#5e5e5e" stroke-width="3.5"/>
<path d="M361.0,508.0Q367.6,517.7 361.0,527.5Q354.4,537.2 344.4,544.1Q334.4,551.1 323.9,544.6Q313.4,538.0 310.4,527.9Q307.5,517.7 311.7,508.8Q315.9,499.8 325.1,495.6Q334.4,491.3 344.4,494.8Q354.4,498.3 361.0,508.0Z" fill="#9a9a9a" stroke="#5e5e5e" stroke-width="3.5"/>
<path d="M420.7,9.3Q426.4,19.0 422.6,30.5Q418.7,42.0 406.8,43.0Q394.9,43.9 385.5,40.6Q376.0,37.3 367.3,28.2Q358.7,19.0 364.6,7.1Q370.4,-4.7 382.7,-7.5Q394.9,-10.3 404.9,-5.3Q414.9,-0.4 420.7,9.3Z" fill="#9a9a9a" stroke="#5e5e5e" stroke-width="3.5"/>
<path d="M457.1,62.4Q462.8,71.5 458.2,81.5Q453.5,91.6 443.1,95.6Q432.6,99.6 423.6,94.3Q414.6,89.0 407.6,80.2Q400.7,71.5 404.4,59.6Q408.1,47.8 420.4,43.4Q432.6,39.0 442.0,46.2Q451.4,53.3 457.1,62.4Z" fill="#a0a0a0" stroke="#5e5e5e" stroke-width="3.5"/>
<path d="M416.7,125.4Q421.2,135.8 418.7,148.1Q416.2,160.4 403.5,164.7Q390.8,169.0 381.4,161.5Q371.9,154.1 366.9,144.9Q361.9,135.8 363.8,123.6Q365.7,111.4 378.3,108.8Q390.8,106.2 401.5,110.6Q412.2,115.1 416.7,125.4Z" fill="#8c8c8c" stroke="#5e5e5e" stroke-width="3.5"/>
<path d="M446.9,200.1Q449.7,212.5 446.9,224.9Q444.0,237.3 431.2,240.4Q418.4,243.5 409.0,237.1Q399.6,230.7 391.7,221.6Q383.9,212.5 390.5,202.2Q397.1,191.9 407.7,189.6Q418.4,187.3 431.2,187.5Q444.1,187.6 446.9,200.1Z" fill="#8c8c8c" stroke="#5e5e5e" stroke-width="3.5"/>
<path d="M405.6,255.5Q410.2,267.2 403.9,277.2Q397.7,287.3 387.3,292.0Q376.9,296.8 367.1,291.4Q357.4,286.1 349.8,276.6Q342.3,267.2 349.4,257.3Q356.6,247.4 366.7,242.2Q376.9,237.0 388.9,240.5Q400.9,243.9 405.6,255.5Z" fill="#858585" stroke="#5e5e5e" stroke-width="3.5"/>
<path d="M455.2,311.7Q462.5,321.3 456.8,332.5Q451.2,343.7 439.6,349.7Q428.0,355.7 418.8,347.4Q409.5,339.1 403.3,330.2Q397.0,321.3 402.2,311.2Q407.3,301.2 417.6,298.2Q428.0,295.1 437.9,298.6Q447.8,302.1 455.2,311.7Z" fill="#8c8c8c" stroke="#5e5e5e" stroke-width="3.5"/>
<path d="M412.3,361.6Q413.2,373.6 411.8,385.1Q410.3,396.5 398.5,402.2Q386.7,407.9 376.9,400.2Q367.1,392.5 359.8,383.1Q352.4,373.6 359.3,363.7Q366.2,353.8 376.4,347.7Q386.7,341.7 399.1,345.6Q411.5,349.6 412.3,361.6Z" fill="#858585" stroke="#5e5e5e" stroke-width="3.5"/>
<path d="M451.4,442.4Q456.6,453.4 449.4,462.5Q442.2,471.6 432.8,478.1Q423.4,484.5 412.0,480.0Q400.6,475.5 394.8,464.5Q389.0,453.4 397.1,444.6Q405.3,435.8 414.4,428.7Q423.4,421.5 434.8,426.4Q446.2,431.4 451.4,442.4Z" fill="#858585" stroke="#5e5e5e" stroke-width="3.5"/>
<path d="M418.1,494.3Q423.6,505.0 417.6,515.3Q411.5,525.5 400.9,532.9Q390.4,540.2 378.2,534.4Q366.0,528.7 360.3,516.8Q354.6,505.0 360.8,493.7Q366.9,482.3 378.7,477.8Q390.4,473.2 401.5,478.4Q412.6,483.5 418.1,494.3Z" fill="#a0a0a0" stroke="#5e5e5e" stroke-width="3.5"/>
<path d="M483.6,9.2Q484.0,21.2 483.2,32.8Q482.4,44.4 470.4,46.2Q458.4,48.0 448.2,44.4Q438.1,40.7 435.4,30.9Q432.6,21.2 433.5,9.5Q434.3,-2.1 446.3,-6.1Q458.4,-10.0 470.8,-6.4Q483.1,-2.8 483.6,9.2Z" fill="#a0a0a0" stroke="#5e5e5e" stroke-width="3.5"/>
<path d="M518.3,71.2Q520.8,82.6 518.4,94.0Q516.0,105.4 504.2,106.7Q492.3,107.9 480.4,106.8Q468.4,105.7 463.9,94.1Q459.5,82.6 463.1,70.2Q466.8,57.9 479.6,53.1Q492.3,48.3 504.0,54.1Q515.7,59.9 518.3,71.2Z" fill="#9a9a9a" stroke="#5e5e5e" stroke-width="3.5"/>
<path d="M488.1,139.3Q491.2,151.7 486.2,162.2Q481.3,172.8 470.4,175.0Q459.5,177.3 450.0,173.6Q440.5,170.0 435.4,160.8Q430.2,151.7 432.8,140.0Q435.3,128.3 447.4,125.4Q459.5,122.5 472.3,124.7Q485.1,126.9 488.1,139.3Z" fill="#a0a0a0" stroke="#5e5e5e" stroke-width="3.5"/>
<path d="M514.3,190.2Q520.3,201.6 515.1,213.8Q509.9,225.9 497.4,229.4Q484.8,232.8 474.3,227.4Q463.8,221.9 461.0,211.8Q458.2,201.6 459.8,190.3Q461.4,178.9 473.1,175.0Q484.8,171.0 496.6,174.9Q508.4,178.7 514.3,190.2Z" fill="#a0a0a0" stroke="#5e5e5e" stroke-width="3.5"/>
<path d="M470.5,266.4Q475.2,275.8 473.0,287.6Q470.7,299.3 458.6,304.2Q446.5,309.0 437.2,301.4Q427.9,293.8 419.2,284.8Q410.4,275.8 419.2,266.8Q427.9,257.8 437.2,252.3Q446.5,246.8 456.2,251.9Q465.9,257.0 470.5,266.4Z" fill="#8c8c8c" stroke="#5e5e5e" stroke-width="3.5"/>
<path d="M512.5,315.9Q517.9,327.0 511.8,337.2Q505.6,347.5 495.0,351.8Q484.4,356.2 473.3,352.3Q462.2,348.4 455.5,337.7Q448.8,327.0 456.4,317.1Q464.0,307.3 474.2,303.3Q484.4,299.3 495.7,302.1Q507.1,304.9 512.5,315.9Z" fill="#a0a0a0" stroke="#5e5e5e" stroke-width="3.5"/>
<path d="M488.7,364.5Q490.1,376.2 486.8,386.1Q483.4,395.9 473.2,401.4Q463.1,406.8 451.9,402.4Q440.6,397.9 436.7,387.1Q432.8,376.2 437.7,366.3Q442.5,356.4 452.8,353.4Q463.1,350.5 475.2,351.7Q487.2,352.8 488.7,364.5Z" fill="#9a9a9a" stroke="#5e5e5e" stroke-width="3.5"/>
<path d="M501.2,421.0Q502.2,433.1 499.8,443.8Q497.3,454.5 486.3,456.5Q475.2,458.5 465.5,455.2Q455.8,452.0 450.2,442.6Q444.6,433.1 449.4,423.0Q454.2,412.8 464.7,405.8Q475.2,398.8 487.8,403.9Q500.3,408.9 501.2,421.0Z" fill="#858585" stroke="#5e5e5e" stroke-width="3.5"/>
<path d="M476.7,503.0Q478.7,513.3 477.6,524.6Q476.5,535.9 464.9,537.5Q453.2,539.1 442.9,536.2Q432.6,533.3 428.2,523.3Q423.7,513.3 426.5,501.7Q429.3,490.1 441.2,486.3Q453.2,482.5 464.0,487.6Q474.7,492.6 476.7,503.0Z" fill="#9a9a9a" stroke="#5e5e5e" stroke-width="3.5"/>
<path d="M531.0,23.6Q538.4,32.5 534.4,44.8Q530.3,57.0 517.7,62.2Q505.0,67.5 493.6,61.1Q482.1,54.7 475.5,43.6Q468.8,32.5 477.5,23.5Q486.2,14.4 495.6,10.6Q505.0,6.8 514.3,10.7Q523.5,14.7 531.0,23.6Z" fill="#8c8c8c" stroke="#5e5e5e" stroke-width="3.5"/>
<path d="M562.3,69.0Q567.1,81.5 562.3,94.0Q557.5,106.4 544.7,110.4Q531.8,114.4 521.8,107.6Q511.9,100.8 503.9,91.1Q495.9,81.5 503.0,71.0Q510.1,60.5 521.0,58.7Q531.8,56.8 544.6,56.7Q557.5,56.6 562.3,69.0Z" fill="#858585" stroke="#5e5e5e" stroke-width="3.5"/>
<path d="M547.9,125.6Q553.9,134.7 551.2,147.1Q548.5,159.5 535.7,164.5Q522.9,169.5 513.7,161.1Q504.4,152.7 496.7,143.7Q489.0,134.7 494.2,123.3Q499.3,111.8 511.1,109.4Q522.9,106.9 532.4,111.7Q541.8,116.4 547.9,125.6Z" fill="#9a9a9a" stroke="#5e5e5e" stroke-width="3.5"/>
<path d="M567.4,191.1Q575.1,200.9 567.7,211.1Q560.4,221.2 549.9,224.9Q539.4,228.7 528.5,225.4Q517.5,222.1 511.9,211.5Q506.2,200.9 510.7,189.2Q515.2,177.5 527.3,173.8Q539.4,170.1 549.6,175.7Q559.7,181.3 567.4,191.1Z" fill="#8c8c8c" stroke="#5e5e5e" stroke-width="3.5"/>
<path d="M531.7,263.9Q535.7,274.7 530.4,284.3Q525.1,293.8 515.3,301.9Q505.4,310.0 495.4,302.1Q485.3,294.2 478.6,284.5Q472.0,274.7 479.1,265.5Q486.3,256.2 495.9,248.0Q505.4,239.7 516.6,246.4Q527.8,253.1 531.7,263.9Z" fill="#a0a0a0" stroke="#5e5e5e" stroke-width="3.5"/>
<path d="M567.8,304.2Q573.1,316.0 565.5,325.7Q558.0,335.3 548.1,340.4Q538.1,345.5 528.6,340.0Q519.1,334.4 515.4,325.2Q511.8,316.0 512.7,304.2Q513.7,292.4 525.9,291.2Q538.1,289.9 550.3,291.2Q562.5,292.5 567.8,304.2Z" fill="#858585" stroke="#5e5e5e" stroke-width="3.5"/>
<path d="M526.9,374.4Q531.7,386.7 523.4,395.7Q515.2,404.7 505.9,413.3Q496.6,421.8 486.8,413.7Q477.1,405.6 469.7,396.2Q462.2,386.7 470.4,378.0Q478.5,369.3 487.6,362.9Q496.6,356.5 509.4,359.3Q522.1,362.0 526.9,374.4Z" fill="#858585" stroke="#5e5e5e" stroke-width="3.5"/>
<path d="M569.8,443.3Q573.8,454.5 567.5,463.4Q561.1,472.3 552.0,477.8Q542.8,483.3 530.7,480.6Q518.6,477.8 515.6,466.2Q512.5,454.5 516.3,443.5Q520.1,432.6 531.4,426.4Q542.8,420.2 554.3,426.2Q565.8,432.2 569.8,443.3Z" fill="#858585" stroke="#5e5e5e" stroke-width="3.5"/>
<path d="M541.1,480.2Q543.9,492.0 540.7,503.5Q537.5,514.9 525.6,520.2Q513.8,525.4 501.6,520.5Q489.3,515.7 486.4,503.9Q483.6,492.0 486.2,479.9Q488.7,467.8 501.3,467.5Q513.8,467.2 526.0,467.8Q538.2,468.4 541.1,480.2Z" fill="#9a9a9a" stroke="#5e5e5e" stroke-width="3.5"/>
<rect width="520" height="520" filter="url(#nzi)" opacity="0.28" style="mix-blend-mode:overlay"/>
<ellipse cx="158" cy="57" rx="24" ry="10" fill="#f0f0f0" opacity="0.95" transform="rotate(20 158 57)"/>
<ellipse cx="112" cy="152" rx="18" ry="14" fill="#f0f0f0" opacity="0.95" transform="rotate(-20 112 152)"/>
<ellipse cx="314" cy="178" rx="11" ry="14" fill="#f0f0f0" opacity="0.95"/>
<ellipse cx="190" cy="262" rx="10" ry="22" fill="#f0f0f0" opacity="0.95" transform="rotate(20 190 262)"/>
<ellipse cx="205" cy="315" rx="14" ry="8" fill="#f0f0f0" opacity="0.95"/>
<ellipse cx="332" cy="292" rx="22" ry="9" fill="#f0f0f0" opacity="0.95" transform="rotate(-30 332 292)"/>
<ellipse cx="338" cy="322" rx="8" ry="14" fill="#f0f0f0" opacity="0.95"/>
<ellipse cx="222" cy="392" rx="14" ry="9" fill="#f0f0f0" opacity="0.95" transform="rotate(20 222 392)"/>
<ellipse cx="30" cy="62" rx="14" ry="10" fill="#f0f0f0" opacity="0.95" transform="rotate(30 30 62)"/>
<ellipse cx="478" cy="282" rx="12" ry="8" fill="#f0f0f0" opacity="0.95"/>
<ellipse cx="120" cy="352" rx="12" ry="8" fill="#f0f0f0" opacity="0.95"/>
<ellipse cx="152" cy="402" rx="6" ry="14" fill="#f0f0f0" opacity="0.95"/>
<ellipse cx="250" cy="268" rx="12" ry="8" fill="#f0f0f0" opacity="0.95"/>
<ellipse cx="425" cy="300" rx="18" ry="6" fill="#f0f0f0" opacity="0.95" transform="rotate(-20 425 300)"/>
<ellipse cx="20" cy="262" rx="8" ry="16" fill="#f0f0f0" opacity="0.95"/>
<ellipse cx="500" cy="30" rx="12" ry="12" fill="#f0f0f0" opacity="0.95"/>
<ellipse cx="46" cy="480" rx="20" ry="14" fill="#f0f0f0" opacity="0.95"/>
<ellipse cx="350" cy="160" rx="8" ry="14" fill="#f0f0f0" opacity="0.95" transform="rotate(30 350 160)"/>
<path d="M180,202 L236,184" stroke="#151515" stroke-width="9" stroke-linecap="round"/>
<path d="M24.1,23.7Q25.6,32.0 24.0,40.1Q22.4,48.3 17.2,51.5Q12.0,54.7 7.1,51.0Q2.3,47.3 -1.7,39.6Q-5.8,32.0 -1.5,24.8Q2.8,17.5 7.4,13.1Q12.0,8.6 17.3,12.0Q22.6,15.3 24.1,23.7Z" fill="#b8860b" opacity=".9"/>
<path d="M82.6,10.4Q87.4,17.0 82.9,23.8Q78.3,30.6 68.2,34.4Q58.0,38.2 48.5,33.9Q39.0,29.7 30.8,23.3Q22.6,17.0 27.1,8.2Q31.7,-0.5 44.8,-4.1Q58.0,-7.7 67.9,-1.9Q77.7,3.8 82.6,10.4Z" fill="#3cb043" opacity=".9"/>
<path d="M85.7,81.7Q95.6,92.0 83.8,101.0Q72.1,110.1 58.5,116.1Q45.0,122.2 30.7,116.6Q16.4,111.1 5.8,101.5Q-4.8,92.0 1.8,79.8Q8.4,67.6 26.7,64.2Q45.0,60.7 60.4,66.1Q75.8,71.4 85.7,81.7Z" fill="#1f3a7a" opacity=".9"/>
<path d="M262.8,34.4Q270.5,47.0 265.0,61.9Q259.4,76.7 245.7,79.5Q232.0,82.4 218.9,78.9Q205.8,75.5 198.4,61.2Q190.9,47.0 200.3,34.9Q209.7,22.8 220.8,10.9Q232.0,-0.9 243.6,10.5Q255.1,21.9 262.8,34.4Z" fill="#3cb043" opacity=".9"/>
<path d="M454.0,66.1Q456.5,77.0 454.5,88.3Q452.6,99.7 438.3,102.5Q424.0,105.2 412.1,100.6Q400.1,95.9 394.6,86.5Q389.1,77.0 390.9,64.6Q392.8,52.2 408.4,47.1Q424.0,42.0 437.8,48.6Q451.5,55.1 454.0,66.1Z" fill="#2a4a8a" opacity=".9"/>
<path d="M491.1,88.1Q492.6,104.0 487.7,115.7Q482.7,127.3 473.3,134.5Q464.0,141.6 453.8,135.6Q443.6,129.5 435.6,116.8Q427.5,104.0 434.5,89.9Q441.4,75.8 452.7,70.7Q464.0,65.7 476.7,68.9Q489.5,72.2 491.1,88.1Z" fill="#3355bb" opacity=".9"/>
<path d="M392.8,97.9Q400.9,107.0 393.1,116.5Q385.3,126.0 377.1,129.1Q369.0,132.3 361.3,128.6Q353.7,124.9 348.5,115.9Q343.4,107.0 347.7,97.1Q352.0,87.2 360.5,80.4Q369.0,73.6 376.8,81.2Q384.6,88.8 392.8,97.9Z" fill="#a050c8" opacity=".9"/>
<path d="M89.8,170.6Q92.9,177.0 89.7,183.3Q86.4,189.6 75.2,192.3Q64.0,195.0 50.2,193.7Q36.5,192.5 34.2,184.7Q31.9,177.0 36.3,170.4Q40.6,163.8 52.3,159.1Q64.0,154.4 75.3,159.3Q86.7,164.2 89.8,170.6Z" fill="#b040b0" opacity=".9"/>
<path d="M208.7,141.9Q212.6,152.0 208.6,162.1Q204.7,172.1 192.3,175.7Q180.0,179.4 169.1,174.6Q158.1,169.8 154.3,160.9Q150.5,152.0 156.3,144.7Q162.0,137.3 171.0,134.2Q180.0,131.1 192.4,131.4Q204.9,131.7 208.7,141.9Z" fill="#20b0a8" opacity=".9"/>
<path d="M269.5,143.7Q274.8,154.0 267.9,163.0Q261.1,172.0 249.5,177.5Q238.0,182.9 224.9,178.7Q211.7,174.5 207.7,164.3Q203.7,154.0 208.8,144.6Q213.9,135.2 225.9,128.6Q238.0,122.1 251.1,127.8Q264.3,133.5 269.5,143.7Z" fill="#a840b8" opacity=".9"/>
<path d="M329.4,134.5Q334.1,147.0 328.6,158.7Q323.1,170.5 310.6,171.6Q298.0,172.8 287.5,169.7Q277.0,166.6 269.9,156.8Q262.8,147.0 270.4,137.7Q278.1,128.4 288.0,121.9Q298.0,115.5 311.4,118.7Q324.8,122.0 329.4,134.5Z" fill="#2a8050" opacity=".9"/>
<path d="M42.1,224.5Q44.8,230.0 42.9,236.5Q40.9,243.0 36.0,245.8Q31.0,248.7 26.8,244.9Q22.5,241.1 20.9,235.6Q19.3,230.0 19.9,223.1Q20.4,216.2 25.7,213.3Q31.0,210.5 35.2,214.7Q39.4,219.0 42.1,224.5Z" fill="#c02050" opacity=".9"/>
<path d="M136.6,238.8Q144.9,250.0 136.5,261.1Q128.1,272.1 118.1,282.4Q108.0,292.7 96.7,283.7Q85.4,274.8 81.0,262.4Q76.5,250.0 78.9,235.3Q81.2,220.6 94.6,216.9Q108.0,213.3 118.2,220.4Q128.4,227.6 136.6,238.8Z" fill="#20b090" opacity=".9"/>
<path d="M273.5,227.7Q276.1,240.0 271.3,250.7Q266.5,261.4 252.3,264.3Q238.0,267.2 223.7,264.3Q209.5,261.4 204.3,250.7Q199.2,240.0 200.9,226.7Q202.7,213.5 220.3,208.6Q238.0,203.7 254.4,209.5Q270.8,215.4 273.5,227.7Z" fill="#30b060" opacity=".9"/>
<path d="M352.6,203.6Q359.3,212.0 355.3,223.5Q351.3,235.1 341.2,239.4Q331.0,243.8 322.0,238.2Q312.9,232.5 309.3,222.3Q305.7,212.0 308.2,200.5Q310.8,189.0 320.9,187.3Q331.0,185.6 338.4,190.4Q345.8,195.2 352.6,203.6Z" fill="#28a8d0" opacity=".9"/>
<path d="M413.2,219.8Q420.2,237.0 415.0,256.2Q409.8,275.4 391.9,282.5Q374.0,289.6 356.2,282.4Q338.4,275.1 331.3,256.1Q324.1,237.0 335.6,222.6Q347.0,208.1 360.5,198.3Q374.0,188.4 390.0,195.5Q406.1,202.6 413.2,219.8Z" fill="#50b040" opacity=".9"/>
<path d="M497.4,215.6Q501.6,230.0 496.8,243.5Q491.9,257.1 481.4,263.7Q471.0,270.4 460.2,264.3Q449.3,258.1 443.8,244.1Q438.4,230.0 443.1,215.0Q447.9,200.0 459.4,193.7Q471.0,187.4 482.1,194.3Q493.2,201.3 497.4,215.6Z" fill="#30b050" opacity=".9"/>
<path d="M227.2,275.1Q228.0,290.0 227.3,305.1Q226.6,320.1 216.3,323.1Q206.0,326.1 196.4,322.1Q186.8,318.0 182.7,304.0Q178.7,290.0 181.5,274.3Q184.4,258.5 195.2,251.1Q206.0,243.6 216.2,252.0Q226.4,260.3 227.2,275.1Z" fill="#b0b030" opacity=".9"/>
<path d="M39.6,301.5Q41.4,312.0 38.8,321.5Q36.2,331.0 28.6,334.4Q21.0,337.8 13.2,334.6Q5.5,331.4 2.9,321.7Q0.4,312.0 1.6,300.6Q2.8,289.2 11.9,287.6Q21.0,286.0 29.4,288.5Q37.8,291.0 39.6,301.5Z" fill="#207040" opacity=".9"/>
<path d="M324.2,305.2Q328.1,310.0 324.9,315.3Q321.6,320.6 314.8,323.6Q308.0,326.7 299.6,324.9Q291.2,323.1 290.3,316.5Q289.3,310.0 291.2,304.2Q293.1,298.4 300.6,296.5Q308.0,294.6 314.1,297.5Q320.3,300.5 324.2,305.2Z" fill="#a8c040" opacity=".9"/>
<path d="M433.4,315.4Q441.5,324.0 435.2,334.5Q428.9,344.9 418.5,348.1Q408.0,351.3 398.0,347.6Q388.1,343.9 384.6,334.0Q381.2,324.0 385.9,315.3Q390.6,306.6 399.3,299.0Q408.0,291.4 416.6,299.1Q425.2,306.8 433.4,315.4Z" fill="#58b838" opacity=".9"/>
<path d="M488.8,323.9Q491.6,337.0 488.8,350.0Q485.9,363.0 471.9,364.7Q458.0,366.4 448.4,360.6Q438.8,354.9 432.1,345.9Q425.3,337.0 429.5,325.6Q433.6,314.3 445.8,309.9Q458.0,305.6 472.0,308.2Q486.0,310.8 488.8,323.9Z" fill="#90b838" opacity=".9"/>
<path d="M311.3,352.3Q314.8,360.0 311.4,367.8Q308.0,375.6 299.5,378.5Q291.0,381.4 281.3,379.6Q271.6,377.8 269.2,368.9Q266.8,360.0 270.1,351.9Q273.4,343.9 282.2,339.0Q291.0,334.2 299.3,339.5Q307.7,344.7 311.3,352.3Z" fill="#105050" opacity=".9"/>
<path d="M31.4,370.0Q33.6,387.0 31.9,405.0Q30.2,423.1 22.1,427.6Q14.0,432.1 6.9,425.3Q-0.2,418.5 -4.0,402.8Q-7.8,387.0 -2.9,373.8Q2.1,360.6 8.1,348.6Q14.0,336.6 21.7,344.8Q29.3,352.9 31.4,370.0Z" fill="#20a8c8" opacity=".9"/>
<path d="M139.0,381.9Q141.3,392.0 136.8,400.3Q132.2,408.6 121.6,416.4Q111.0,424.2 99.4,417.1Q87.8,410.1 79.7,401.0Q71.5,392.0 80.2,383.4Q88.9,374.7 100.0,367.8Q111.0,360.9 123.9,366.4Q136.8,371.9 139.0,381.9Z" fill="#207840" opacity=".9"/>
<path d="M398.7,392.4Q403.9,404.0 399.0,415.8Q394.1,427.7 378.5,435.7Q363.0,443.7 349.0,434.5Q335.1,425.3 322.1,414.6Q309.2,404.0 316.9,389.4Q324.6,374.8 343.8,372.8Q363.0,370.9 378.3,375.8Q393.5,380.8 398.7,392.4Z" fill="#a058c8" opacity=".9"/>
<path d="M481.7,421.2Q484.4,432.0 483.0,443.9Q481.5,455.8 467.3,457.4Q453.0,459.0 443.2,453.7Q433.4,448.4 429.3,440.2Q425.2,432.0 429.4,423.9Q433.6,415.8 443.3,412.2Q453.0,408.5 466.0,409.4Q479.0,410.3 481.7,421.2Z" fill="#b88820" opacity=".9"/>
<path d="M301.8,433.6Q307.2,442.0 301.0,449.6Q294.8,457.2 286.4,460.7Q278.0,464.1 270.8,459.6Q263.6,455.1 258.8,448.6Q254.1,442.0 255.8,432.7Q257.5,423.4 267.8,421.3Q278.0,419.2 287.2,422.2Q296.5,425.2 301.8,433.6Z" fill="#98c038" opacity=".9"/>
<path d="M199.4,460.4Q204.6,472.0 198.1,482.3Q191.6,492.6 181.3,497.1Q171.0,501.6 161.8,496.0Q152.6,490.4 146.9,481.2Q141.1,472.0 146.4,462.4Q151.8,452.8 161.4,448.3Q171.0,443.8 182.6,446.3Q194.2,448.8 199.4,460.4Z" fill="#a0b830" opacity=".9"/>
</svg>
<text x="192.2" y="96.2" font-size="7.8" font-weight="bold" fill="#000" opacity=".4" stroke="#000" stroke-width="1.2" stroke-opacity=".3">SM</text>
<text x="192.2" y="96.2" font-size="7.8" font-weight="bold" fill="#fff">SM</text>
<text x="197.4" y="96.2" font-size="7.8" font-weight="bold" fill="#18b0a0">M</text>
<rect x="250" y="93.8" width="15.6" height="2.4" fill="#fff"/>
<rect x="190" y="19.5" width="78.6" height="78" fill="none" stroke="#2b2b2b" stroke-width=".7"/>
<svg x="271" y="19.5" width="78.6" height="78" viewBox="0 0 506.18 502.32" preserveAspectRatio="none" overflow="hidden">
<rect width="520" height="520" fill="#929292"/>
<path d="M56.3,22.1Q59.2,31.8 57.1,42.2Q55.1,52.7 44.3,59.6Q33.4,66.6 21.9,60.3Q10.3,54.1 4.2,42.9Q-2.0,31.8 6.3,22.6Q14.6,13.5 24.0,7.8Q33.4,2.1 43.4,7.3Q53.4,12.5 56.3,22.1Z" fill="#a0a0a0" stroke="#5e5e5e" stroke-width="3.5"/>
<path d="M89.4,76.0Q94.8,87.1 88.6,97.3Q82.4,107.6 71.8,110.6Q61.2,113.6 48.8,112.4Q36.4,111.1 33.9,99.1Q31.5,87.1 34.3,75.5Q37.2,63.9 49.2,62.8Q61.2,61.7 72.7,63.3Q84.1,65.0 89.4,76.0Z" fill="#9a9a9a" stroke="#5e5e5e" stroke-width="3.5"/>
<path d="M54.0,123.4Q56.2,134.7 52.2,144.2Q48.1,153.7 38.3,161.8Q28.5,169.9 16.0,164.3Q3.6,158.8 1.7,146.7Q-0.2,134.7 1.4,122.3Q2.9,110.0 15.7,107.1Q28.5,104.3 40.1,108.2Q51.8,112.1 54.0,123.4Z" fill="#9a9a9a" stroke="#5e5e5e" stroke-width="3.5"/>
<path d="M80.0,207.5Q87.9,217.3 82.4,229.5Q76.8,241.6 64.2,243.4Q51.7,245.2 41.3,241.3Q30.9,237.5 27.7,227.4Q24.5,217.3 28.5,208.1Q32.6,198.8 42.2,195.4Q51.7,192.0 61.9,194.8Q72.1,197.7 80.0,207.5Z" fill="#8c8c8c" stroke="#5e5e5e" stroke-width="3.5"/>
<path d="M56.0,241.4Q59.0,251.1 56.4,261.1Q53.7,271.2 43.3,275.1Q32.9,279.0 21.2,276.4Q9.4,273.8 7.4,262.5Q5.4,251.1 8.3,240.6Q11.2,230.1 22.0,227.3Q32.9,224.6 42.9,228.2Q52.9,231.7 56.0,241.4Z" fill="#959595" stroke="#5e5e5e" stroke-width="3.5"/>
<path d="M99.4,328.2Q107.1,337.6 98.8,346.3Q90.4,355.1 81.4,362.9Q72.3,370.7 61.9,364.2Q51.4,357.8 45.9,347.7Q40.4,337.6 47.3,328.8Q54.2,320.1 63.3,316.3Q72.3,312.5 82.0,315.6Q91.7,318.8 99.4,328.2Z" fill="#959595" stroke="#5e5e5e" stroke-width="3.5"/>
<path d="M72.6,364.9Q78.5,376.5 73.3,388.8Q68.2,401.1 55.4,403.0Q42.7,404.8 32.4,400.7Q22.0,396.6 16.7,386.6Q11.5,376.5 15.1,364.8Q18.6,353.2 30.7,352.0Q42.7,350.7 54.7,352.1Q66.6,353.4 72.6,364.9Z" fill="#8c8c8c" stroke="#5e5e5e" stroke-width="3.5"/>
<path d="M95.2,443.7Q98.6,455.1 96.3,467.5Q94.0,479.9 81.2,480.9Q68.3,481.9 57.3,479.2Q46.3,476.4 42.6,465.7Q38.9,455.1 44.0,445.8Q49.2,436.5 58.8,432.0Q68.3,427.5 80.1,429.9Q91.8,432.3 95.2,443.7Z" fill="#9a9a9a" stroke="#5e5e5e" stroke-width="3.5"/>
<path d="M45.2,497.7Q46.0,510.2 41.6,519.2Q37.2,528.2 27.9,532.3Q18.6,536.4 6.9,534.6Q-4.8,532.9 -11.4,521.5Q-18.0,510.2 -9.3,500.9Q-0.7,491.6 9.0,488.3Q18.6,485.1 31.5,485.2Q44.3,485.3 45.2,497.7Z" fill="#959595" stroke="#5e5e5e" stroke-width="3.5"/>
<path d="M119.9,10.6Q124.6,22.4 118.1,32.4Q111.6,42.4 101.3,46.0Q90.9,49.7 79.4,47.2Q67.8,44.7 65.9,33.5Q63.9,22.4 64.6,9.9Q65.2,-2.5 78.1,-5.8Q90.9,-9.1 103.1,-5.1Q115.2,-1.2 119.9,10.6Z" fill="#8c8c8c" stroke="#5e5e5e" stroke-width="3.5"/>
<path d="M143.5,67.0Q151.4,76.8 144.8,87.9Q138.3,99.0 126.8,104.5Q115.4,109.9 105.9,102.5Q96.5,95.0 90.8,85.9Q85.1,76.8 90.6,67.5Q96.2,58.3 105.8,50.7Q115.4,43.1 125.5,50.1Q135.7,57.2 143.5,67.0Z" fill="#a0a0a0" stroke="#5e5e5e" stroke-width="3.5"/>
<path d="M116.4,149.7Q125.0,159.0 117.6,169.4Q110.2,179.8 99.5,184.3Q88.7,188.9 76.8,185.4Q65.0,181.9 61.4,170.5Q57.9,159.0 63.2,149.2Q68.4,139.4 78.6,134.7Q88.7,130.0 98.3,135.2Q107.8,140.5 116.4,149.7Z" fill="#8c8c8c" stroke="#5e5e5e" stroke-width="3.5"/>
<path d="M143.2,208.6Q149.0,218.7 143.7,229.3Q138.5,239.9 127.5,243.4Q116.6,246.9 107.2,241.8Q97.9,236.8 93.0,227.7Q88.1,218.7 90.3,207.0Q92.4,195.3 104.5,190.0Q116.6,184.7 127.0,191.6Q137.4,198.5 143.2,208.6Z" fill="#8c8c8c" stroke="#5e5e5e" stroke-width="3.5"/>
<path d="M126.1,261.4Q130.8,272.7 126.4,284.3Q122.0,295.9 110.0,298.6Q98.0,301.2 86.2,298.3Q74.5,295.5 72.0,284.1Q69.5,272.7 72.8,262.1Q76.2,251.6 87.1,245.7Q98.0,239.8 109.7,244.9Q121.4,250.0 126.1,261.4Z" fill="#a0a0a0" stroke="#5e5e5e" stroke-width="3.5"/>
<path d="M141.7,326.3Q146.1,337.5 139.2,346.2Q132.3,355.0 123.3,361.5Q114.2,368.0 104.3,362.4Q94.3,356.8 87.8,347.1Q81.3,337.5 87.0,327.0Q92.6,316.5 103.4,310.3Q114.2,304.1 125.8,309.6Q137.3,315.1 141.7,326.3Z" fill="#8c8c8c" stroke="#5e5e5e" stroke-width="3.5"/>
<path d="M127.9,368.4Q132.0,380.7 127.4,392.6Q122.8,404.5 110.6,406.8Q98.3,409.1 86.0,406.8Q73.7,404.6 68.5,392.7Q63.2,380.7 69.1,369.4Q74.9,358.1 86.6,351.8Q98.3,345.6 111.1,350.8Q123.9,356.0 127.9,368.4Z" fill="#959595" stroke="#5e5e5e" stroke-width="3.5"/>
<path d="M145.7,434.8Q148.1,445.8 144.7,455.9Q141.3,466.0 130.9,472.8Q120.5,479.6 110.4,472.5Q100.3,465.4 97.3,455.6Q94.2,445.8 95.7,434.6Q97.2,423.3 108.9,420.0Q120.5,416.7 131.9,420.2Q143.3,423.7 145.7,434.8Z" fill="#8c8c8c" stroke="#5e5e5e" stroke-width="3.5"/>
<path d="M128.1,494.4Q131.0,505.5 127.8,516.3Q124.6,527.1 113.4,533.3Q102.2,539.4 92.2,532.2Q82.1,524.9 73.9,515.2Q65.7,505.5 74.2,496.0Q82.7,486.6 92.5,480.5Q102.2,474.5 113.7,478.9Q125.1,483.3 128.1,494.4Z" fill="#858585" stroke="#5e5e5e" stroke-width="3.5"/>
<path d="M167.0,22.9Q173.5,32.3 166.4,41.1Q159.4,50.0 150.2,56.0Q141.1,61.9 131.2,56.7Q121.3,51.4 118.2,41.8Q115.0,32.3 118.5,23.0Q122.0,13.8 131.5,9.0Q141.1,4.2 150.8,8.8Q160.5,13.5 167.0,22.9Z" fill="#8c8c8c" stroke="#5e5e5e" stroke-width="3.5"/>
<path d="M198.8,59.7Q200.8,72.0 197.7,83.2Q194.6,94.5 183.0,95.9Q171.4,97.4 161.6,94.2Q151.8,91.0 144.9,81.5Q138.0,72.0 144.2,61.9Q150.5,51.7 161.0,47.7Q171.4,43.6 184.2,45.5Q196.9,47.3 198.8,59.7Z" fill="#858585" stroke="#5e5e5e" stroke-width="3.5"/>
<path d="M187.5,142.9Q189.6,155.3 183.9,164.1Q178.2,172.9 169.1,179.7Q160.0,186.5 150.6,179.9Q141.2,173.4 134.9,164.3Q128.5,155.3 133.9,145.3Q139.3,135.3 149.6,129.8Q160.0,124.4 172.7,127.5Q185.5,130.5 187.5,142.9Z" fill="#a0a0a0" stroke="#5e5e5e" stroke-width="3.5"/>
<path d="M216.6,191.7Q221.5,202.7 215.7,212.8Q209.8,223.0 199.4,225.9Q188.9,228.9 177.6,226.8Q166.2,224.7 161.7,213.7Q157.2,202.7 160.3,190.4Q163.4,178.0 176.2,172.9Q188.9,167.7 200.3,174.2Q211.7,180.7 216.6,191.7Z" fill="#a0a0a0" stroke="#5e5e5e" stroke-width="3.5"/>
<path d="M171.4,265.7Q175.5,276.0 170.9,286.0Q166.4,295.9 156.1,303.2Q145.8,310.5 134.7,304.0Q123.6,297.5 120.2,286.8Q116.8,276.0 118.9,264.0Q120.9,251.9 133.4,248.6Q145.8,245.3 156.5,250.3Q167.2,255.3 171.4,265.7Z" fill="#9a9a9a" stroke="#5e5e5e" stroke-width="3.5"/>
<path d="M222.4,314.2Q229.6,324.8 222.0,335.0Q214.3,345.1 203.8,352.5Q193.3,359.8 180.8,354.5Q168.2,349.2 164.7,337.0Q161.3,324.8 167.3,315.1Q173.3,305.4 183.3,297.5Q193.3,289.6 204.3,296.6Q215.2,303.6 222.4,314.2Z" fill="#858585" stroke="#5e5e5e" stroke-width="3.5"/>
<path d="M175.2,368.3Q178.5,379.9 173.2,389.7Q167.9,399.5 157.8,404.6Q147.6,409.7 138.2,404.0Q128.7,398.3 122.0,389.1Q115.3,379.9 120.7,369.5Q126.2,359.2 136.9,355.7Q147.6,352.2 159.7,354.4Q171.8,356.6 175.2,368.3Z" fill="#959595" stroke="#5e5e5e" stroke-width="3.5"/>
<path d="M215.1,421.6Q220.8,431.4 214.9,441.0Q209.0,450.6 199.1,455.9Q189.2,461.1 180.0,455.1Q170.9,449.0 164.6,440.2Q158.3,431.4 161.4,419.4Q164.5,407.5 176.8,403.3Q189.2,399.0 199.3,405.4Q209.4,411.8 215.1,421.6Z" fill="#a0a0a0" stroke="#5e5e5e" stroke-width="3.5"/>
<path d="M176.4,508.8Q182.4,518.8 177.5,529.8Q172.5,540.8 161.2,546.1Q149.8,551.4 140.3,544.3Q130.9,537.1 123.4,527.9Q115.9,518.8 122.7,508.9Q129.4,499.1 139.6,493.8Q149.8,488.4 160.1,493.6Q170.4,498.8 176.4,508.8Z" fill="#a0a0a0" stroke="#5e5e5e" stroke-width="3.5"/>
<path d="M228.4,16.7Q233.6,25.8 230.7,37.1Q227.7,48.4 216.0,53.8Q204.3,59.2 194.8,51.7Q185.3,44.2 182.1,35.0Q178.9,25.8 180.4,15.0Q182.0,4.2 193.1,-1.0Q204.3,-6.2 213.7,0.7Q223.1,7.6 228.4,16.7Z" fill="#858585" stroke="#5e5e5e" stroke-width="3.5"/>
<path d="M272.8,66.2Q279.4,76.4 273.0,86.7Q266.6,97.0 255.9,102.1Q245.2,107.2 233.5,103.2Q221.7,99.2 217.2,87.8Q212.8,76.4 218.1,65.8Q223.5,55.3 234.4,48.6Q245.2,41.9 255.8,49.0Q266.3,56.0 272.8,66.2Z" fill="#858585" stroke="#5e5e5e" stroke-width="3.5"/>
<path d="M236.2,143.7Q242.4,154.9 235.5,165.3Q228.6,175.8 217.8,181.7Q207.0,187.6 196.8,181.1Q186.6,174.6 184.1,164.7Q181.5,154.9 182.2,143.2Q182.9,131.5 194.9,127.7Q207.0,124.0 218.5,128.2Q230.1,132.5 236.2,143.7Z" fill="#8c8c8c" stroke="#5e5e5e" stroke-width="3.5"/>
<path d="M263.9,190.7Q270.0,199.7 265.8,210.5Q261.5,221.3 250.4,225.5Q239.2,229.7 228.9,224.7Q218.6,219.6 215.4,209.7Q212.1,199.7 214.4,188.8Q216.6,177.8 227.9,172.1Q239.2,166.3 248.5,174.1Q257.7,181.8 263.9,190.7Z" fill="#8c8c8c" stroke="#5e5e5e" stroke-width="3.5"/>
<path d="M231.2,262.0Q235.3,273.9 227.9,282.7Q220.6,291.5 211.5,298.9Q202.4,306.4 189.6,302.6Q176.7,298.8 171.3,286.4Q165.9,273.9 172.4,262.6Q178.9,251.2 190.7,250.0Q202.4,248.8 214.8,249.5Q227.1,250.1 231.2,262.0Z" fill="#9a9a9a" stroke="#5e5e5e" stroke-width="3.5"/>
<path d="M258.4,319.8Q265.5,329.1 258.3,338.3Q251.2,347.5 241.7,352.2Q232.1,356.8 219.5,355.2Q206.9,353.5 206.0,341.3Q205.0,329.1 207.2,318.1Q209.3,307.0 220.7,303.5Q232.1,300.0 241.8,305.2Q251.4,310.5 258.4,319.8Z" fill="#9a9a9a" stroke="#5e5e5e" stroke-width="3.5"/>
<path d="M238.8,363.5Q246.2,372.2 241.8,383.8Q237.3,395.3 225.4,397.6Q213.4,399.8 202.2,396.9Q190.9,394.0 188.8,383.1Q186.7,372.2 189.5,362.0Q192.3,351.8 202.9,346.3Q213.4,340.9 222.5,347.8Q231.5,354.7 238.8,363.5Z" fill="#9a9a9a" stroke="#5e5e5e" stroke-width="3.5"/>
<path d="M255.0,439.6Q259.4,450.2 256.7,462.5Q253.9,474.8 241.3,476.8Q228.6,478.8 219.4,473.4Q210.1,468.0 202.8,459.1Q195.4,450.2 202.4,440.9Q209.4,431.6 219.0,425.2Q228.6,418.8 239.5,423.9Q250.5,428.9 255.0,439.6Z" fill="#858585" stroke="#5e5e5e" stroke-width="3.5"/>
<path d="M247.8,494.5Q249.4,506.5 244.7,515.5Q240.0,524.4 230.7,529.0Q221.5,533.7 209.2,532.0Q196.9,530.3 194.9,518.4Q192.9,506.5 194.4,494.1Q195.8,481.7 208.7,477.5Q221.5,473.2 233.9,477.9Q246.3,482.5 247.8,494.5Z" fill="#a0a0a0" stroke="#5e5e5e" stroke-width="3.5"/>
<path d="M295.3,12.3Q302.1,21.9 297.0,33.1Q291.8,44.3 280.3,45.8Q268.7,47.4 257.1,45.9Q245.4,44.4 243.9,33.1Q242.3,21.9 246.0,12.7Q249.7,3.5 259.2,-2.8Q268.7,-9.1 278.6,-3.2Q288.6,2.7 295.3,12.3Z" fill="#8c8c8c" stroke="#5e5e5e" stroke-width="3.5"/>
<path d="M336.0,72.7Q337.2,84.5 334.9,95.2Q332.7,105.9 321.6,110.4Q310.6,114.9 300.0,109.8Q289.5,104.8 282.6,94.6Q275.7,84.5 280.4,72.1Q285.1,59.8 297.8,57.5Q310.6,55.2 322.7,58.1Q334.8,61.0 336.0,72.7Z" fill="#959595" stroke="#5e5e5e" stroke-width="3.5"/>
<path d="M304.6,123.3Q311.6,133.3 303.8,142.6Q296.1,151.8 286.5,158.3Q277.0,164.7 266.6,159.1Q256.2,153.4 252.6,143.4Q248.9,133.3 252.7,123.4Q256.4,113.4 266.7,107.8Q277.0,102.1 287.4,107.7Q297.7,113.3 304.6,123.3Z" fill="#858585" stroke="#5e5e5e" stroke-width="3.5"/>
<path d="M325.0,183.3Q329.5,194.8 325.3,206.6Q321.1,218.4 309.0,221.2Q296.8,224.1 284.5,221.4Q272.1,218.7 268.9,206.8Q265.6,194.8 269.9,183.9Q274.1,172.9 285.5,168.5Q296.8,164.0 308.7,167.9Q320.6,171.8 325.0,183.3Z" fill="#959595" stroke="#5e5e5e" stroke-width="3.5"/>
<path d="M291.0,243.9Q294.6,253.7 290.6,263.2Q286.6,272.6 276.8,278.1Q267.1,283.6 254.4,280.9Q241.7,278.3 238.0,266.0Q234.3,253.7 240.3,243.7Q246.3,233.7 256.7,229.1Q267.1,224.5 277.2,229.3Q287.4,234.0 291.0,243.9Z" fill="#9a9a9a" stroke="#5e5e5e" stroke-width="3.5"/>
<path d="M337.1,327.5Q342.8,336.8 336.9,345.9Q330.9,355.0 321.5,359.0Q312.2,363.1 302.6,359.2Q292.9,355.4 287.8,346.1Q282.6,336.8 286.9,326.6Q291.2,316.5 301.7,309.6Q312.2,302.7 321.8,310.5Q331.3,318.3 337.1,327.5Z" fill="#959595" stroke="#5e5e5e" stroke-width="3.5"/>
<path d="M289.2,369.8Q296.9,378.8 291.6,390.0Q286.4,401.3 274.8,402.5Q263.1,403.7 250.6,403.4Q238.1,403.0 236.0,390.9Q233.9,378.8 236.5,367.2Q239.2,355.6 251.2,353.2Q263.1,350.8 272.3,355.8Q281.6,360.9 289.2,369.8Z" fill="#8c8c8c" stroke="#5e5e5e" stroke-width="3.5"/>
<path d="M309.1,435.0Q313.3,443.8 311.6,455.0Q309.9,466.3 298.2,468.9Q286.6,471.5 275.0,468.9Q263.3,466.3 258.2,455.1Q253.0,443.8 260.2,434.5Q267.3,425.1 277.0,421.1Q286.6,417.0 295.7,421.6Q304.8,426.2 309.1,435.0Z" fill="#8c8c8c" stroke="#5e5e5e" stroke-width="3.5"/>
<path d="M291.1,482.7Q298.0,493.2 292.0,504.6Q286.0,516.0 274.2,520.6Q262.5,525.1 252.7,518.6Q243.0,512.0 238.0,502.6Q233.0,493.2 238.5,484.2Q244.0,475.3 253.2,466.6Q262.5,457.9 273.3,465.0Q284.1,472.2 291.1,482.7Z" fill="#858585" stroke="#5e5e5e" stroke-width="3.5"/>
<path d="M366.3,5.7Q373.6,15.9 367.2,27.1Q360.8,38.2 349.3,41.7Q337.7,45.2 324.9,43.0Q312.1,40.8 312.1,28.3Q312.2,15.9 315.8,7.0Q319.3,-1.9 328.5,-9.5Q337.7,-17.1 348.3,-10.9Q358.9,-4.6 366.3,5.7Z" fill="#8c8c8c" stroke="#5e5e5e" stroke-width="3.5"/>
<path d="M374.8,75.1Q379.0,86.4 375.8,98.6Q372.6,110.9 360.0,114.8Q347.3,118.7 337.3,112.1Q327.4,105.6 320.1,96.0Q312.9,86.4 320.7,77.3Q328.6,68.3 337.9,62.5Q347.3,56.7 358.9,60.2Q370.6,63.7 374.8,75.1Z" fill="#a0a0a0" stroke="#5e5e5e" stroke-width="3.5"/>
<path d="M358.7,133.6Q360.0,144.9 359.3,156.8Q358.6,168.7 346.3,171.5Q334.0,174.3 322.5,170.8Q311.0,167.2 304.9,156.1Q298.9,144.9 303.7,132.6Q308.6,120.3 321.3,119.3Q334.0,118.2 345.8,120.2Q357.5,122.2 358.7,133.6Z" fill="#9a9a9a" stroke="#5e5e5e" stroke-width="3.5"/>
<path d="M386.9,186.7Q390.3,196.3 387.3,206.2Q384.4,216.1 374.2,219.0Q363.9,222.0 352.8,219.9Q341.7,217.8 335.0,207.0Q328.2,196.3 334.7,185.3Q341.2,174.3 352.6,168.4Q363.9,162.4 373.8,169.8Q383.6,177.2 386.9,186.7Z" fill="#8c8c8c" stroke="#5e5e5e" stroke-width="3.5"/>
<path d="M344.1,254.0Q346.6,266.1 343.6,277.7Q340.5,289.4 328.5,292.9Q316.5,296.4 307.0,290.4Q297.5,284.5 294.2,275.3Q290.9,266.1 291.7,254.5Q292.5,242.9 304.5,238.5Q316.5,234.1 329.0,238.0Q341.5,241.9 344.1,254.0Z" fill="#858585" stroke="#5e5e5e" stroke-width="3.5"/>
<path d="M398.4,316.9Q402.9,326.5 397.8,335.6Q392.7,344.6 383.3,352.0Q374.0,359.5 361.8,354.8Q349.6,350.2 347.3,338.4Q345.1,326.5 350.0,317.3Q355.0,308.1 364.5,304.6Q374.0,301.0 383.9,304.1Q393.9,307.3 398.4,316.9Z" fill="#8c8c8c" stroke="#5e5e5e" stroke-width="3.5"/>
<path d="M347.3,370.9Q351.2,383.0 344.9,392.8Q338.5,402.5 328.4,407.7Q318.4,412.9 308.4,407.6Q298.4,402.3 291.8,392.6Q285.1,383.0 289.6,371.3Q294.1,359.5 306.2,354.2Q318.4,348.9 330.8,353.9Q343.3,358.8 347.3,370.9Z" fill="#a0a0a0" stroke="#5e5e5e" stroke-width="3.5"/>
<path d="M377.1,440.7Q381.8,452.5 376.1,463.4Q370.4,474.2 359.2,480.5Q348.0,486.8 336.4,480.9Q324.9,474.9 319.5,463.7Q314.1,452.5 319.8,441.7Q325.5,430.8 336.8,427.0Q348.0,423.2 360.2,426.0Q372.4,428.9 377.1,440.7Z" fill="#858585" stroke="#5e5e5e" stroke-width="3.5"/>
<path d="M361.0,508.0Q367.6,517.7 361.0,527.5Q354.4,537.2 344.4,544.1Q334.4,551.1 323.9,544.6Q313.4,538.0 310.4,527.9Q307.5,517.7 311.7,508.8Q315.9,499.8 325.1,495.6Q334.4,491.3 344.4,494.8Q354.4,498.3 361.0,508.0Z" fill="#9a9a9a" stroke="#5e5e5e" stroke-width="3.5"/>
<path d="M420.7,9.3Q426.4,19.0 422.6,30.5Q418.7,42.0 406.8,43.0Q394.9,43.9 385.5,40.6Q376.0,37.3 367.3,28.2Q358.7,19.0 364.6,7.1Q370.4,-4.7 382.7,-7.5Q394.9,-10.3 404.9,-5.3Q414.9,-0.4 420.7,9.3Z" fill="#9a9a9a" stroke="#5e5e5e" stroke-width="3.5"/>
<path d="M457.1,62.4Q462.8,71.5 458.2,81.5Q453.5,91.6 443.1,95.6Q432.6,99.6 423.6,94.3Q414.6,89.0 407.6,80.2Q400.7,71.5 404.4,59.6Q408.1,47.8 420.4,43.4Q432.6,39.0 442.0,46.2Q451.4,53.3 457.1,62.4Z" fill="#a0a0a0" stroke="#5e5e5e" stroke-width="3.5"/>
<path d="M416.7,125.4Q421.2,135.8 418.7,148.1Q416.2,160.4 403.5,164.7Q390.8,169.0 381.4,161.5Q371.9,154.1 366.9,144.9Q361.9,135.8 363.8,123.6Q365.7,111.4 378.3,108.8Q390.8,106.2 401.5,110.6Q412.2,115.1 416.7,125.4Z" fill="#8c8c8c" stroke="#5e5e5e" stroke-width="3.5"/>
<path d="M446.9,200.1Q449.7,212.5 446.9,224.9Q444.0,237.3 431.2,240.4Q418.4,243.5 409.0,237.1Q399.6,230.7 391.7,221.6Q383.9,212.5 390.5,202.2Q397.1,191.9 407.7,189.6Q418.4,187.3 431.2,187.5Q444.1,187.6 446.9,200.1Z" fill="#8c8c8c" stroke="#5e5e5e" stroke-width="3.5"/>
<path d="M405.6,255.5Q410.2,267.2 403.9,277.2Q397.7,287.3 387.3,292.0Q376.9,296.8 367.1,291.4Q357.4,286.1 349.8,276.6Q342.3,267.2 349.4,257.3Q356.6,247.4 366.7,242.2Q376.9,237.0 388.9,240.5Q400.9,243.9 405.6,255.5Z" fill="#858585" stroke="#5e5e5e" stroke-width="3.5"/>
<path d="M455.2,311.7Q462.5,321.3 456.8,332.5Q451.2,343.7 439.6,349.7Q428.0,355.7 418.8,347.4Q409.5,339.1 403.3,330.2Q397.0,321.3 402.2,311.2Q407.3,301.2 417.6,298.2Q428.0,295.1 437.9,298.6Q447.8,302.1 455.2,311.7Z" fill="#8c8c8c" stroke="#5e5e5e" stroke-width="3.5"/>
<path d="M412.3,361.6Q413.2,373.6 411.8,385.1Q410.3,396.5 398.5,402.2Q386.7,407.9 376.9,400.2Q367.1,392.5 359.8,383.1Q352.4,373.6 359.3,363.7Q366.2,353.8 376.4,347.7Q386.7,341.7 399.1,345.6Q411.5,349.6 412.3,361.6Z" fill="#858585" stroke="#5e5e5e" stroke-width="3.5"/>
<path d="M451.4,442.4Q456.6,453.4 449.4,462.5Q442.2,471.6 432.8,478.1Q423.4,484.5 412.0,480.0Q400.6,475.5 394.8,464.5Q389.0,453.4 397.1,444.6Q405.3,435.8 414.4,428.7Q423.4,421.5 434.8,426.4Q446.2,431.4 451.4,442.4Z" fill="#858585" stroke="#5e5e5e" stroke-width="3.5"/>
<path d="M418.1,494.3Q423.6,505.0 417.6,515.3Q411.5,525.5 400.9,532.9Q390.4,540.2 378.2,534.4Q366.0,528.7 360.3,516.8Q354.6,505.0 360.8,493.7Q366.9,482.3 378.7,477.8Q390.4,473.2 401.5,478.4Q412.6,483.5 418.1,494.3Z" fill="#a0a0a0" stroke="#5e5e5e" stroke-width="3.5"/>
<path d="M483.6,9.2Q484.0,21.2 483.2,32.8Q482.4,44.4 470.4,46.2Q458.4,48.0 448.2,44.4Q438.1,40.7 435.4,30.9Q432.6,21.2 433.5,9.5Q434.3,-2.1 446.3,-6.1Q458.4,-10.0 470.8,-6.4Q483.1,-2.8 483.6,9.2Z" fill="#a0a0a0" stroke="#5e5e5e" stroke-width="3.5"/>
<path d="M518.3,71.2Q520.8,82.6 518.4,94.0Q516.0,105.4 504.2,106.7Q492.3,107.9 480.4,106.8Q468.4,105.7 463.9,94.1Q459.5,82.6 463.1,70.2Q466.8,57.9 479.6,53.1Q492.3,48.3 504.0,54.1Q515.7,59.9 518.3,71.2Z" fill="#9a9a9a" stroke="#5e5e5e" stroke-width="3.5"/>
<path d="M488.1,139.3Q491.2,151.7 486.2,162.2Q481.3,172.8 470.4,175.0Q459.5,177.3 450.0,173.6Q440.5,170.0 435.4,160.8Q430.2,151.7 432.8,140.0Q435.3,128.3 447.4,125.4Q459.5,122.5 472.3,124.7Q485.1,126.9 488.1,139.3Z" fill="#a0a0a0" stroke="#5e5e5e" stroke-width="3.5"/>
<path d="M514.3,190.2Q520.3,201.6 515.1,213.8Q509.9,225.9 497.4,229.4Q484.8,232.8 474.3,227.4Q463.8,221.9 461.0,211.8Q458.2,201.6 459.8,190.3Q461.4,178.9 473.1,175.0Q484.8,171.0 496.6,174.9Q508.4,178.7 514.3,190.2Z" fill="#a0a0a0" stroke="#5e5e5e" stroke-width="3.5"/>
<path d="M470.5,266.4Q475.2,275.8 473.0,287.6Q470.7,299.3 458.6,304.2Q446.5,309.0 437.2,301.4Q427.9,293.8 419.2,284.8Q410.4,275.8 419.2,266.8Q427.9,257.8 437.2,252.3Q446.5,246.8 456.2,251.9Q465.9,257.0 470.5,266.4Z" fill="#8c8c8c" stroke="#5e5e5e" stroke-width="3.5"/>
<path d="M512.5,315.9Q517.9,327.0 511.8,337.2Q505.6,347.5 495.0,351.8Q484.4,356.2 473.3,352.3Q462.2,348.4 455.5,337.7Q448.8,327.0 456.4,317.1Q464.0,307.3 474.2,303.3Q484.4,299.3 495.7,302.1Q507.1,304.9 512.5,315.9Z" fill="#a0a0a0" stroke="#5e5e5e" stroke-width="3.5"/>
<path d="M488.7,364.5Q490.1,376.2 486.8,386.1Q483.4,395.9 473.2,401.4Q463.1,406.8 451.9,402.4Q440.6,397.9 436.7,387.1Q432.8,376.2 437.7,366.3Q442.5,356.4 452.8,353.4Q463.1,350.5 475.2,351.7Q487.2,352.8 488.7,364.5Z" fill="#9a9a9a" stroke="#5e5e5e" stroke-width="3.5"/>
<path d="M501.2,421.0Q502.2,433.1 499.8,443.8Q497.3,454.5 486.3,456.5Q475.2,458.5 465.5,455.2Q455.8,452.0 450.2,442.6Q444.6,433.1 449.4,423.0Q454.2,412.8 464.7,405.8Q475.2,398.8 487.8,403.9Q500.3,408.9 501.2,421.0Z" fill="#858585" stroke="#5e5e5e" stroke-width="3.5"/>
<path d="M476.7,503.0Q478.7,513.3 477.6,524.6Q476.5,535.9 464.9,537.5Q453.2,539.1 442.9,536.2Q432.6,533.3 428.2,523.3Q423.7,513.3 426.5,501.7Q429.3,490.1 441.2,486.3Q453.2,482.5 464.0,487.6Q474.7,492.6 476.7,503.0Z" fill="#9a9a9a" stroke="#5e5e5e" stroke-width="3.5"/>
<path d="M531.0,23.6Q538.4,32.5 534.4,44.8Q530.3,57.0 517.7,62.2Q505.0,67.5 493.6,61.1Q482.1,54.7 475.5,43.6Q468.8,32.5 477.5,23.5Q486.2,14.4 495.6,10.6Q505.0,6.8 514.3,10.7Q523.5,14.7 531.0,23.6Z" fill="#8c8c8c" stroke="#5e5e5e" stroke-width="3.5"/>
<path d="M562.3,69.0Q567.1,81.5 562.3,94.0Q557.5,106.4 544.7,110.4Q531.8,114.4 521.8,107.6Q511.9,100.8 503.9,91.1Q495.9,81.5 503.0,71.0Q510.1,60.5 521.0,58.7Q531.8,56.8 544.6,56.7Q557.5,56.6 562.3,69.0Z" fill="#858585" stroke="#5e5e5e" stroke-width="3.5"/>
<path d="M547.9,125.6Q553.9,134.7 551.2,147.1Q548.5,159.5 535.7,164.5Q522.9,169.5 513.7,161.1Q504.4,152.7 496.7,143.7Q489.0,134.7 494.2,123.3Q499.3,111.8 511.1,109.4Q522.9,106.9 532.4,111.7Q541.8,116.4 547.9,125.6Z" fill="#9a9a9a" stroke="#5e5e5e" stroke-width="3.5"/>
<path d="M567.4,191.1Q575.1,200.9 567.7,211.1Q560.4,221.2 549.9,224.9Q539.4,228.7 528.5,225.4Q517.5,222.1 511.9,211.5Q506.2,200.9 510.7,189.2Q515.2,177.5 527.3,173.8Q539.4,170.1 549.6,175.7Q559.7,181.3 567.4,191.1Z" fill="#8c8c8c" stroke="#5e5e5e" stroke-width="3.5"/>
<path d="M531.7,263.9Q535.7,274.7 530.4,284.3Q525.1,293.8 515.3,301.9Q505.4,310.0 495.4,302.1Q485.3,294.2 478.6,284.5Q472.0,274.7 479.1,265.5Q486.3,256.2 495.9,248.0Q505.4,239.7 516.6,246.4Q527.8,253.1 531.7,263.9Z" fill="#a0a0a0" stroke="#5e5e5e" stroke-width="3.5"/>
<path d="M567.8,304.2Q573.1,316.0 565.5,325.7Q558.0,335.3 548.1,340.4Q538.1,345.5 528.6,340.0Q519.1,334.4 515.4,325.2Q511.8,316.0 512.7,304.2Q513.7,292.4 525.9,291.2Q538.1,289.9 550.3,291.2Q562.5,292.5 567.8,304.2Z" fill="#858585" stroke="#5e5e5e" stroke-width="3.5"/>
<path d="M526.9,374.4Q531.7,386.7 523.4,395.7Q515.2,404.7 505.9,413.3Q496.6,421.8 486.8,413.7Q477.1,405.6 469.7,396.2Q462.2,386.7 470.4,378.0Q478.5,369.3 487.6,362.9Q496.6,356.5 509.4,359.3Q522.1,362.0 526.9,374.4Z" fill="#858585" stroke="#5e5e5e" stroke-width="3.5"/>
<path d="M569.8,443.3Q573.8,454.5 567.5,463.4Q561.1,472.3 552.0,477.8Q542.8,483.3 530.7,480.6Q518.6,477.8 515.6,466.2Q512.5,454.5 516.3,443.5Q520.1,432.6 531.4,426.4Q542.8,420.2 554.3,426.2Q565.8,432.2 569.8,443.3Z" fill="#858585" stroke="#5e5e5e" stroke-width="3.5"/>
<path d="M541.1,480.2Q543.9,492.0 540.7,503.5Q537.5,514.9 525.6,520.2Q513.8,525.4 501.6,520.5Q489.3,515.7 486.4,503.9Q483.6,492.0 486.2,479.9Q488.7,467.8 501.3,467.5Q513.8,467.2 526.0,467.8Q538.2,468.4 541.1,480.2Z" fill="#9a9a9a" stroke="#5e5e5e" stroke-width="3.5"/>
<rect width="520" height="520" filter="url(#nzi)" opacity="0.28" style="mix-blend-mode:overlay"/>
<ellipse cx="158" cy="57" rx="24" ry="10" fill="#f0f0f0" opacity="0.95" transform="rotate(20 158 57)"/>
<ellipse cx="112" cy="152" rx="18" ry="14" fill="#f0f0f0" opacity="0.95" transform="rotate(-20 112 152)"/>
<ellipse cx="314" cy="178" rx="11" ry="14" fill="#f0f0f0" opacity="0.95"/>
<ellipse cx="190" cy="262" rx="10" ry="22" fill="#f0f0f0" opacity="0.95" transform="rotate(20 190 262)"/>
<ellipse cx="205" cy="315" rx="14" ry="8" fill="#f0f0f0" opacity="0.95"/>
<ellipse cx="332" cy="292" rx="22" ry="9" fill="#f0f0f0" opacity="0.95" transform="rotate(-30 332 292)"/>
<ellipse cx="338" cy="322" rx="8" ry="14" fill="#f0f0f0" opacity="0.95"/>
<ellipse cx="222" cy="392" rx="14" ry="9" fill="#f0f0f0" opacity="0.95" transform="rotate(20 222 392)"/>
<ellipse cx="30" cy="62" rx="14" ry="10" fill="#f0f0f0" opacity="0.95" transform="rotate(30 30 62)"/>
<ellipse cx="478" cy="282" rx="12" ry="8" fill="#f0f0f0" opacity="0.95"/>
<ellipse cx="120" cy="352" rx="12" ry="8" fill="#f0f0f0" opacity="0.95"/>
<ellipse cx="152" cy="402" rx="6" ry="14" fill="#f0f0f0" opacity="0.95"/>
<ellipse cx="250" cy="268" rx="12" ry="8" fill="#f0f0f0" opacity="0.95"/>
<ellipse cx="425" cy="300" rx="18" ry="6" fill="#f0f0f0" opacity="0.95" transform="rotate(-20 425 300)"/>
<ellipse cx="20" cy="262" rx="8" ry="16" fill="#f0f0f0" opacity="0.95"/>
<ellipse cx="500" cy="30" rx="12" ry="12" fill="#f0f0f0" opacity="0.95"/>
<ellipse cx="46" cy="480" rx="20" ry="14" fill="#f0f0f0" opacity="0.95"/>
<ellipse cx="350" cy="160" rx="8" ry="14" fill="#f0f0f0" opacity="0.95" transform="rotate(30 350 160)"/>
<path d="M180,202 L236,184" stroke="#151515" stroke-width="9" stroke-linecap="round"/>
<path d="M20.4,22.4Q21.6,30.0 20.3,37.4Q18.9,44.8 14.4,47.7Q10.0,50.6 5.8,47.3Q1.7,43.9 -1.8,36.9Q-5.2,30.0 -1.6,23.4Q2.1,16.8 6.1,12.8Q10.0,8.8 14.5,11.8Q19.1,14.8 20.4,22.4Z" fill="#c89010" opacity=".9"/>
<path d="M78.2,12.8Q83.4,20.0 78.5,27.5Q73.7,34.9 62.8,39.1Q52.0,43.3 41.9,38.6Q31.7,34.0 23.0,27.0Q14.2,20.0 19.1,10.4Q23.9,0.7 38.0,-3.2Q52.0,-7.2 62.5,-0.8Q73.1,5.5 78.2,12.8Z" fill="#3cb043" opacity=".9"/>
<path d="M84.6,84.0Q95.0,95.0 82.7,104.7Q70.4,114.3 56.2,120.9Q42.0,127.4 27.0,121.4Q12.0,115.4 0.9,105.2Q-10.2,95.0 -3.2,81.9Q3.7,68.9 22.9,65.2Q42.0,61.5 58.2,67.2Q74.3,73.0 84.6,84.0Z" fill="#1f3a7a" opacity=".9"/>
<path d="M263.7,36.8Q271.6,50.0 265.9,65.6Q260.1,81.3 246.1,84.2Q232.0,87.2 218.5,83.6Q205.0,80.0 197.4,65.0Q189.8,50.0 199.4,37.2Q209.0,24.5 220.5,12.0Q232.0,-0.4 243.9,11.6Q255.8,23.6 263.7,36.8Z" fill="#0e6848" opacity=".9"/>
<path d="M374.7,13.1Q379.2,22.0 375.7,31.2Q372.1,40.5 346.1,42.8Q320.0,45.0 298.3,41.2Q276.5,37.4 266.4,29.7Q256.3,22.0 259.7,11.9Q263.1,1.8 291.6,-2.3Q320.0,-6.5 345.1,-1.2Q370.2,4.2 374.7,13.1Z" fill="#18a8d8" opacity=".9"/>
<path d="M456.9,64.7Q458.8,77.0 452.7,86.0Q446.7,95.0 435.3,100.5Q424.0,106.0 411.6,101.4Q399.2,96.7 389.5,86.9Q379.7,77.0 388.1,66.1Q396.6,55.2 410.3,51.3Q424.0,47.4 439.5,49.9Q454.9,52.4 456.9,64.7Z" fill="#2a4a8a" opacity=".9"/>
<path d="M499.7,96.3Q509.8,108.0 500.1,120.2Q490.3,132.4 480.2,136.5Q470.0,140.5 460.4,135.7Q450.9,131.0 444.4,119.5Q437.9,108.0 443.3,95.2Q448.7,82.5 459.4,73.8Q470.0,65.0 479.8,74.8Q489.5,84.6 499.7,96.3Z" fill="#3355bb" opacity=".9"/>
<path d="M393.0,99.4Q395.5,110.0 392.8,120.5Q390.2,131.0 381.1,135.5Q372.0,140.0 360.8,137.9Q349.6,135.8 347.8,122.9Q346.0,110.0 349.5,99.0Q353.0,88.1 362.5,80.2Q372.0,72.3 381.2,80.5Q390.4,88.7 393.0,99.4Z" fill="#20b8c0" opacity=".9"/>
<path d="M98.0,171.7Q102.6,180.0 97.9,188.2Q93.2,196.4 78.6,199.4Q64.0,202.4 51.0,198.5Q38.1,194.6 33.5,187.3Q29.0,180.0 35.9,174.0Q42.7,168.0 53.3,165.4Q64.0,162.9 78.7,163.2Q93.5,163.4 98.0,171.7Z" fill="#b040b0" opacity=".9"/>
<path d="M203.6,143.0Q207.9,152.0 202.3,159.9Q196.7,167.9 187.4,172.7Q178.0,177.5 167.3,173.8Q156.6,170.1 153.4,161.0Q150.2,152.0 154.3,143.7Q158.4,135.4 168.2,129.7Q178.0,123.9 188.7,128.9Q199.3,133.9 203.6,143.0Z" fill="#20b0a8" opacity=".9"/>
<path d="M270.6,146.4Q275.7,158.0 269.7,168.9Q263.6,179.8 249.8,180.9Q236.0,181.9 224.4,179.1Q212.9,176.2 205.1,167.1Q197.3,158.0 205.7,149.4Q214.1,140.7 225.0,134.7Q236.0,128.7 250.7,131.8Q265.5,134.8 270.6,146.4Z" fill="#a840b8" opacity=".9"/>
<path d="M323.7,140.9Q329.9,150.0 325.4,160.7Q320.9,171.4 309.4,176.1Q298.0,180.8 288.2,174.6Q278.4,168.3 274.7,159.2Q271.1,150.0 272.3,138.6Q273.6,127.3 285.8,122.5Q298.0,117.8 307.7,124.8Q317.4,131.9 323.7,140.9Z" fill="#2a8050" opacity=".9"/>
<path d="M435.3,173.6Q439.7,178.0 435.2,182.4Q430.7,186.7 425.4,190.8Q420.0,194.8 414.0,191.3Q408.0,187.8 405.6,182.9Q403.2,178.0 404.5,172.2Q405.7,166.4 412.9,165.0Q420.0,163.5 425.4,166.4Q430.9,169.2 435.3,173.6Z" fill="#c81880" opacity=".9"/>
<path d="M134.1,241.0Q136.4,255.0 132.3,267.1Q128.2,279.2 116.1,282.5Q104.0,285.8 91.9,282.6Q79.7,279.3 75.4,267.1Q71.0,255.0 72.5,240.0Q74.0,225.0 89.0,219.4Q104.0,213.8 118.0,220.5Q131.9,227.1 134.1,241.0Z" fill="#38b048" opacity=".9"/>
<path d="M279.2,233.9Q292.1,244.0 284.4,257.9Q276.8,271.7 257.4,276.9Q238.0,282.1 220.7,275.4Q203.5,268.7 196.6,256.3Q189.7,244.0 194.6,230.2Q199.4,216.4 218.7,214.4Q238.0,212.3 252.1,218.1Q266.3,223.8 279.2,233.9Z" fill="#20b098" opacity=".9"/>
<path d="M352.5,204.8Q356.2,214.0 353.5,224.2Q350.8,234.5 341.4,238.3Q332.0,242.1 322.7,238.2Q313.4,234.3 309.6,224.2Q305.9,214.0 311.9,206.3Q317.9,198.6 324.9,193.3Q332.0,188.1 340.4,191.9Q348.8,195.7 352.5,204.8Z" fill="#28b070" opacity=".9"/>
<path d="M423.0,219.9Q429.9,238.0 422.0,255.0Q414.0,272.0 397.0,280.4Q380.0,288.8 362.3,281.1Q344.6,273.4 335.7,255.7Q326.9,238.0 334.6,219.1Q342.3,200.3 361.1,192.3Q380.0,184.4 398.1,193.1Q416.1,201.9 423.0,219.9Z" fill="#18a0c0" opacity=".9"/>
<path d="M498.7,216.7Q499.6,232.0 498.9,247.5Q498.1,263.0 486.0,266.1Q474.0,269.2 462.8,265.0Q451.6,260.8 446.9,246.4Q442.1,232.0 445.5,215.8Q448.8,199.6 461.4,192.0Q474.0,184.3 485.9,192.9Q497.8,201.4 498.7,216.7Z" fill="#30b050" opacity=".9"/>
<path d="M226.3,277.7Q228.4,292.0 225.4,305.0Q222.3,317.9 213.1,322.5Q204.0,327.1 194.7,322.8Q185.3,318.4 182.3,305.2Q179.3,292.0 180.7,276.5Q182.1,261.0 193.1,258.8Q204.0,256.6 214.1,260.0Q224.2,263.4 226.3,277.7Z" fill="#a858c0" opacity=".9"/>
<path d="M35.8,313.1Q40.6,322.0 36.6,331.8Q32.6,341.6 24.3,347.3Q16.0,352.9 5.7,349.6Q-4.5,346.2 -5.7,334.1Q-6.8,322.0 -4.5,311.2Q-2.2,300.5 6.9,296.9Q16.0,293.4 23.5,298.8Q31.0,304.3 35.8,313.1Z" fill="#a8b830" opacity=".9"/>
<path d="M438.4,317.1Q446.9,326.0 440.3,336.9Q433.7,347.7 422.9,351.1Q412.0,354.4 401.6,350.6Q391.3,346.7 387.7,336.4Q384.1,326.0 389.0,317.0Q393.9,307.9 403.0,300.0Q412.0,292.0 420.9,300.1Q429.9,308.1 438.4,317.1Z" fill="#60b030" opacity=".9"/>
<path d="M494.9,327.8Q497.9,340.0 494.8,352.1Q491.8,364.2 476.9,365.7Q462.0,367.3 451.8,362.0Q441.6,356.6 434.3,348.3Q427.1,340.0 431.6,329.4Q436.0,318.9 449.0,314.9Q462.0,310.8 477.0,313.3Q491.9,315.7 494.9,327.8Z" fill="#98c030" opacity=".9"/>
<path d="M316.0,354.3Q319.8,362.0 316.1,369.8Q312.4,377.6 303.2,380.5Q294.0,383.4 283.5,381.6Q273.0,379.8 270.4,370.9Q267.8,362.0 271.4,353.9Q274.9,345.9 284.5,341.0Q294.0,336.2 303.0,341.5Q312.1,346.7 316.0,354.3Z" fill="#1098b0" opacity=".9"/>
<path d="M33.4,377.1Q35.7,395.0 33.9,413.9Q32.0,432.9 23.0,437.6Q14.0,442.3 6.1,435.2Q-1.8,428.1 -6.0,411.5Q-10.3,395.0 -4.7,381.1Q0.8,367.2 7.4,354.7Q14.0,342.1 22.5,350.6Q31.0,359.2 33.4,377.1Z" fill="#3050c0" opacity=".9"/>
<path d="M141.8,359.5Q144.1,378.0 139.4,393.3Q134.6,408.5 123.3,422.9Q112.0,437.2 99.7,424.2Q87.4,411.3 78.7,394.6Q70.0,378.0 79.3,362.1Q88.5,346.2 100.3,333.5Q112.0,320.8 125.7,330.9Q139.4,340.9 141.8,359.5Z" fill="#30b050" opacity=".9"/>
<path d="M406.8,395.7Q412.7,408.0 407.1,420.6Q401.5,433.1 383.8,441.6Q366.0,450.1 350.0,440.4Q334.1,430.6 319.3,419.3Q304.5,408.0 313.4,392.5Q322.2,377.0 344.1,374.9Q366.0,372.8 383.4,378.0Q400.9,383.3 406.8,395.7Z" fill="#a058c8" opacity=".9"/>
<path d="M488.6,425.6Q491.5,436.0 490.0,447.4Q488.4,458.8 473.2,460.3Q458.0,461.9 447.5,456.8Q437.1,451.7 432.7,443.9Q428.3,436.0 432.8,428.2Q437.3,420.5 447.7,417.0Q458.0,413.5 471.9,414.3Q485.7,415.2 488.6,425.6Z" fill="#d04820" opacity=".9"/>
<path d="M304.0,435.6Q309.8,444.0 303.1,451.6Q296.3,459.2 287.1,462.7Q278.0,466.1 270.1,461.6Q262.2,457.1 257.1,450.6Q252.0,444.0 253.8,434.7Q255.7,425.4 266.8,423.3Q278.0,421.2 288.1,424.2Q298.2,427.2 304.0,435.6Z" fill="#98c038" opacity=".9"/>
<path d="M200.4,462.4Q206.0,474.0 199.1,484.3Q192.1,494.6 181.0,499.1Q170.0,503.6 160.1,498.0Q150.3,492.4 144.1,483.2Q138.0,474.0 143.7,464.4Q149.4,454.8 159.7,450.3Q170.0,445.8 182.4,448.3Q194.9,450.8 200.4,462.4Z" fill="#a0b830" opacity=".9"/>
<path d="M367.5,481.7Q368.2,488.0 366.7,493.9Q365.2,499.8 352.6,502.2Q340.0,504.7 328.7,501.6Q317.4,498.6 314.5,493.3Q311.6,488.0 314.8,482.9Q318.1,477.8 329.0,475.2Q340.0,472.6 353.4,474.0Q366.8,475.5 367.5,481.7Z" fill="#58b040" opacity=".9"/>
</svg>
<text x="273.2" y="96.2" font-size="7.8" font-weight="bold" fill="#000" opacity=".4" stroke="#000" stroke-width="1.2" stroke-opacity=".3">GM</text>
<text x="273.2" y="96.2" font-size="7.8" font-weight="bold" fill="#fff">GM</text>
<text x="278.4" y="96.2" font-size="7.8" font-weight="bold" fill="#18b0a0">M</text>
<rect x="331" y="93.8" width="15.6" height="2.4" fill="#fff"/>
<rect x="271" y="19.5" width="78.6" height="78" fill="none" stroke="#2b2b2b" stroke-width=".7"/>
<svg x="368.5" y="19.5" width="78.6" height="78" viewBox="0 0 506.18 502.32" preserveAspectRatio="none" overflow="hidden">
<rect width="520" height="520" fill="#686868"/>
<path d="M0,0 L150,0 L235,210 L195,300 L0,440Z" fill="url(#sA)"/>
<path d="M400,0 L520,0 L520,420 L345,315 L320,210Z" fill="url(#sB)"/>
<path d="M0,440 L195,300 L300,345 L520,520 L0,520Z" fill="url(#sC)"/>
<path d="M345,315 L520,420 L520,520 L300,345Z" fill="url(#sD)"/>
<path d="M0,0 L150,0 L235,210 L195,300 L0,440Z" fill="url(#sD)" opacity=".18"/>
<path d="M400,0 L520,0 L520,420 L345,315 L320,210Z" fill="url(#sA)" opacity=".18"/>
<path d="M0,440 L195,300 L300,345 L520,520 L0,520Z" fill="url(#sE)" opacity=".18"/>
<path d="M120,0 L440,0 L420,60 L320,215 L235,215 L150,40Z" fill="#7e7e7e"/>
<rect width="520" height="520" filter="url(#nzi)" opacity="0.35" style="mix-blend-mode:overlay"/>
<path d="M338.4,64.4Q353.0,70.0 345.1,78.8Q337.2,87.6 326.1,93.8Q315.0,100.0 299.3,101.4Q283.6,102.7 278.7,92.5Q273.9,82.3 264.8,76.2Q255.7,70.0 256.4,59.9Q257.2,49.8 270.6,43.8Q284.0,37.9 298.5,40.9Q313.1,43.8 318.4,51.3Q323.8,58.8 338.4,64.4Z" fill="#ececec" opacity=".9"/>
<path d="M257.9,86.9Q260.4,92.0 262.6,100.2Q264.8,108.4 254.7,106.7Q244.6,105.0 239.4,106.6Q234.2,108.3 225.0,108.1Q215.8,108.0 217.3,100.0Q218.9,92.0 222.6,87.5Q226.4,83.0 230.3,79.4Q234.2,75.8 241.6,71.3Q249.0,66.8 252.2,74.3Q255.5,81.8 257.9,86.9Z" fill="#ececec" opacity=".9"/>
<path d="M353.8,106.6Q353.8,112.0 353.3,117.2Q352.8,122.4 347.8,126.7Q342.7,130.9 335.8,129.0Q328.9,127.1 326.5,122.7Q324.2,118.3 319.0,115.1Q313.8,112.0 319.3,109.0Q324.8,106.1 327.8,103.9Q330.8,101.7 335.2,101.1Q339.6,100.6 346.7,100.8Q353.7,101.1 353.8,106.6Z" fill="#ececec" opacity=".9"/>
<path d="M238.6,147.7Q241.2,150.0 242.1,154.4Q242.9,158.8 237.3,158.9Q231.6,159.0 228.1,158.8Q224.6,158.6 222.3,156.7Q220.0,154.7 214.7,152.4Q209.4,150.0 210.4,145.1Q211.3,140.2 217.8,140.3Q224.2,140.4 228.0,140.3Q231.9,140.2 233.9,142.8Q235.9,145.3 238.6,147.7Z" fill="#ececec" opacity=".9"/>
<path d="M311.3,28.7Q316.2,32.0 310.1,35.0Q304.0,37.9 297.6,39.0Q291.1,40.1 283.2,42.4Q275.3,44.8 267.9,42.2Q260.5,39.6 259.4,35.8Q258.2,32.0 263.4,29.5Q268.6,26.9 272.0,23.1Q275.4,19.3 284.7,19.7Q294.0,20.1 300.2,22.7Q306.4,25.3 311.3,28.7Z" fill="#ececec" opacity=".9"/>
<path d="M387.4,58.7Q386.7,62.0 389.5,66.3Q392.4,70.7 386.9,73.1Q381.4,75.5 375.3,74.8Q369.3,74.1 363.1,72.5Q356.9,71.0 357.4,66.5Q358.0,62.0 360.8,59.2Q363.7,56.3 367.6,55.5Q371.6,54.7 376.0,52.7Q380.4,50.6 384.3,53.0Q388.1,55.4 387.4,58.7Z" fill="#ececec" opacity=".9"/>
<path d="M125,10 L240,225" stroke="#969696" stroke-width="26" stroke-linecap="round" opacity=".75"/>
<path d="M430,45 L300,215" stroke="#969696" stroke-width="26" stroke-linecap="round" opacity=".75"/>
<path d="M10,440 L215,325" stroke="#969696" stroke-width="26" stroke-linecap="round" opacity=".75"/>
<path d="M325,335 L495,495" stroke="#969696" stroke-width="26" stroke-linecap="round" opacity=".75"/>
<ellipse cx="260" cy="274" rx="62" ry="46" fill="#969696" opacity="0.95"/>
<path d="M298.1,264.3Q300.7,272.0 302.2,281.4Q303.8,290.7 291.5,296.2Q279.3,301.6 266.1,298.1Q252.9,294.6 238.4,295.8Q223.9,297.1 224.9,287.5Q225.9,278.0 219.3,270.8Q212.7,263.5 222.2,258.1Q231.7,252.7 241.4,247.0Q251.0,241.2 265.6,241.1Q280.2,241.0 287.9,248.8Q295.6,256.6 298.1,264.3Z" fill="#c6c6c6" stroke="#060606" stroke-width="10" stroke-linejoin="round"/>
<path d="M287.8,264.8Q295.5,268.0 287.8,271.2Q280.0,274.3 272.3,277.1Q264.6,279.8 259.7,275.7Q254.7,271.7 252.7,267.5Q250.7,263.4 258.2,260.9Q265.6,258.3 272.9,260.0Q280.2,261.6 287.8,264.8Z" fill="#2a2a2a" opacity=".7"/>
<ellipse cx="203.57" cy="174.6" rx="7.52" ry="7.65" fill="#98a028" opacity="0.88" transform="rotate(119.46 203.57 174.6)"/>
<ellipse cx="210.69" cy="181.96" rx="8.17" ry="7.05" fill="#30b0b0" opacity="0.88" transform="rotate(2.19 210.69 181.96)"/>
<ellipse cx="134.76" cy="11.36" rx="7.81" ry="6.25" fill="#7aa030" opacity="0.88" transform="rotate(75.42 134.76 11.36)"/>
<ellipse cx="149.71" cy="26.98" rx="7.59" ry="5.96" fill="#30a050" opacity="0.88" transform="rotate(17.5 149.71 26.98)"/>
<ellipse cx="144.25" cy="34.37" rx="7.5" ry="6.95" fill="#c05838" opacity="0.88" transform="rotate(33.94 144.25 34.37)"/>
<ellipse cx="193.92" cy="148.5" rx="9.43" ry="8.39" fill="#98a028" opacity="0.88" transform="rotate(37.26 193.92 148.5)"/>
<ellipse cx="185.23" cy="150.03" rx="7.03" ry="5.25" fill="#c0a030" opacity="0.88" transform="rotate(67.18 185.23 150.03)"/>
<ellipse cx="222.06" cy="226.28" rx="9.38" ry="8.35" fill="#c04080" opacity="0.88" transform="rotate(145.83 222.06 226.28)"/>
<ellipse cx="161.69" cy="8.8" rx="7.06" ry="7.93" fill="#b04838" opacity="0.88" transform="rotate(166.06 161.69 8.8)"/>
<ellipse cx="182.24" cy="130.65" rx="12.8" ry="7.86" fill="#c05838" opacity="0.88" transform="rotate(49.97 182.24 130.65)"/>
<ellipse cx="194.27" cy="141.39" rx="12.91" ry="5.85" fill="#207880" opacity="0.88" transform="rotate(111.29 194.27 141.39)"/>
<ellipse cx="171.87" cy="97.22" rx="10.61" ry="7.33" fill="#a03080" opacity="0.88" transform="rotate(142.13 171.87 97.22)"/>
<ellipse cx="173.62" cy="106.43" rx="10.74" ry="8.6" fill="#d08040" opacity="0.88" transform="rotate(71.52 173.62 106.43)"/>
<ellipse cx="160.05" cy="61.59" rx="11.8" ry="8.71" fill="#b04838" opacity="0.88" transform="rotate(104.75 160.05 61.59)"/>
<ellipse cx="180.63" cy="116.29" rx="9.7" ry="8.55" fill="#c0a030" opacity="0.88" transform="rotate(37.18 180.63 116.29)"/>
<ellipse cx="123.4" cy="25.34" rx="7.81" ry="5.36" fill="#a03080" opacity="0.88" transform="rotate(3.63 123.4 25.34)"/>
<ellipse cx="138.15" cy="35.58" rx="11.65" ry="5.03" fill="#9050d0" opacity="0.88" transform="rotate(65.42 138.15 35.58)"/>
<ellipse cx="179.67" cy="127.41" rx="7.11" ry="6.73" fill="#c04080" opacity="0.88" transform="rotate(44.5 179.67 127.41)"/>
<ellipse cx="180.82" cy="88.3" rx="11.21" ry="6.16" fill="#60c060" opacity="0.88" transform="rotate(116.82 180.82 88.3)"/>
<ellipse cx="229.98" cy="228.35" rx="10.72" ry="8.09" fill="#d04040" opacity="0.88" transform="rotate(88.8 229.98 228.35)"/>
<ellipse cx="153.69" cy="92.13" rx="12.11" ry="6.94" fill="#a03080" opacity="0.88" transform="rotate(153.5 153.69 92.13)"/>
<ellipse cx="150.74" cy="86.84" rx="12.37" ry="8.61" fill="#7aa030" opacity="0.88" transform="rotate(115.04 150.74 86.84)"/>
<ellipse cx="211.73" cy="158.03" rx="11.51" ry="7.99" fill="#d04040" opacity="0.88" transform="rotate(7.02 211.73 158.03)"/>
<ellipse cx="159.79" cy="43.78" rx="9.34" ry="7.19" fill="#30b0b0" opacity="0.88" transform="rotate(55.27 159.79 43.78)"/>
<ellipse cx="359.14" cy="117.68" rx="7.77" ry="8.52" fill="#4060d0" opacity="0.88" transform="rotate(120.25 359.14 117.68)"/>
<ellipse cx="399.75" cy="42.56" rx="11.68" ry="6.36" fill="#30a050" opacity="0.88" transform="rotate(179.4 399.75 42.56)"/>
<ellipse cx="337.04" cy="152.14" rx="7.58" ry="6.22" fill="#b04838" opacity="0.88" transform="rotate(89.15 337.04 152.14)"/>
<ellipse cx="360.36" cy="127.54" rx="9.85" ry="6.57" fill="#805030" opacity="0.88" transform="rotate(133.15 360.36 127.54)"/>
<ellipse cx="401.95" cy="49.22" rx="8.86" ry="7.2" fill="#c05838" opacity="0.88" transform="rotate(82.01 401.95 49.22)"/>
<ellipse cx="351.92" cy="169.97" rx="11.66" ry="6.93" fill="#7aa030" opacity="0.88" transform="rotate(32.08 351.92 169.97)"/>
<ellipse cx="395.55" cy="72.87" rx="9.81" ry="8.41" fill="#98a028" opacity="0.88" transform="rotate(114.55 395.55 72.87)"/>
<ellipse cx="407.54" cy="58.69" rx="8.3" ry="8.6" fill="#207880" opacity="0.88" transform="rotate(130.96 407.54 58.69)"/>
<ellipse cx="314.74" cy="191.01" rx="9.61" ry="6.89" fill="#a03080" opacity="0.88" transform="rotate(93.35 314.74 191.01)"/>
<ellipse cx="324.52" cy="165.91" rx="12.84" ry="7.24" fill="#a03080" opacity="0.88" transform="rotate(146.57 324.52 165.91)"/>
<ellipse cx="415.52" cy="74.57" rx="8.71" ry="8.67" fill="#b0b030" opacity="0.88" transform="rotate(23.16 415.52 74.57)"/>
<ellipse cx="412.72" cy="49.67" rx="10.57" ry="7.02" fill="#8030b0" opacity="0.88" transform="rotate(20.95 412.72 49.67)"/>
<ellipse cx="413.21" cy="107.6" rx="10.2" ry="7.41" fill="#9050d0" opacity="0.88" transform="rotate(79.55 413.21 107.6)"/>
<ellipse cx="365.88" cy="105.73" rx="11.3" ry="7.87" fill="#c05838" opacity="0.88" transform="rotate(149.67 365.88 105.73)"/>
<ellipse cx="309.37" cy="175.19" rx="10.38" ry="7.51" fill="#c05838" opacity="0.88" transform="rotate(43.75 309.37 175.19)"/>
<ellipse cx="385.11" cy="84.83" rx="8.4" ry="5.38" fill="#30b0b0" opacity="0.88" transform="rotate(96.45 385.11 84.83)"/>
<ellipse cx="375.98" cy="123.75" rx="11.38" ry="7.04" fill="#c04080" opacity="0.88" transform="rotate(15.91 375.98 123.75)"/>
<ellipse cx="420.26" cy="44.21" rx="7.18" ry="6.02" fill="#a03080" opacity="0.88" transform="rotate(47.31 420.26 44.21)"/>
<ellipse cx="404.37" cy="108.19" rx="12.4" ry="8.71" fill="#b04838" opacity="0.88" transform="rotate(121.71 404.37 108.19)"/>
<ellipse cx="385.78" cy="109.12" rx="7.37" ry="7.96" fill="#c05838" opacity="0.88" transform="rotate(28.37 385.78 109.12)"/>
<ellipse cx="348.03" cy="154.49" rx="7.26" ry="7.41" fill="#207880" opacity="0.88" transform="rotate(70.05 348.03 154.49)"/>
<ellipse cx="196.3" cy="322.38" rx="10.37" ry="6.85" fill="#98a028" opacity="0.88" transform="rotate(137.35 196.3 322.38)"/>
<ellipse cx="194.45" cy="356.28" rx="11.67" ry="7.11" fill="#40a890" opacity="0.88" transform="rotate(18.86 194.45 356.28)"/>
<ellipse cx="42.25" cy="406.7" rx="10.73" ry="5.48" fill="#8030b0" opacity="0.88" transform="rotate(154.53 42.25 406.7)"/>
<ellipse cx="49.47" cy="420.49" rx="7" ry="5.21" fill="#30a050" opacity="0.88" transform="rotate(163.74 49.47 420.49)"/>
<ellipse cx="215.97" cy="333.08" rx="10.81" ry="6.51" fill="#6038b0" opacity="0.88" transform="rotate(109.82 215.97 333.08)"/>
<ellipse cx="131.3" cy="346.96" rx="8.91" ry="8.74" fill="#8030b0" opacity="0.88" transform="rotate(1.96 131.3 346.96)"/>
<ellipse cx="21.3" cy="415.6" rx="10.03" ry="6.9" fill="#7aa030" opacity="0.88" transform="rotate(37.86 21.3 415.6)"/>
<ellipse cx="209.84" cy="323.75" rx="12.88" ry="8.05" fill="#2a4a80" opacity="0.88" transform="rotate(30.79 209.84 323.75)"/>
<ellipse cx="210.18" cy="333.5" rx="8.82" ry="6.87" fill="#b04838" opacity="0.88" transform="rotate(21.42 210.18 333.5)"/>
<ellipse cx="10.83" cy="428.39" rx="12.69" ry="8.89" fill="#a03080" opacity="0.88" transform="rotate(172.01 10.83 428.39)"/>
<ellipse cx="177.06" cy="336.17" rx="8.56" ry="5.11" fill="#2e9e78" opacity="0.88" transform="rotate(57.35 177.06 336.17)"/>
<ellipse cx="62.68" cy="396.82" rx="8.86" ry="5.1" fill="#8030b0" opacity="0.88" transform="rotate(15.24 62.68 396.82)"/>
<ellipse cx="115.53" cy="383.39" rx="8.85" ry="6.12" fill="#60c060" opacity="0.88" transform="rotate(165.05 115.53 383.39)"/>
<ellipse cx="32.05" cy="438.51" rx="9.58" ry="7.82" fill="#2e9e78" opacity="0.88" transform="rotate(159.72 32.05 438.51)"/>
<ellipse cx="155.78" cy="334.07" rx="8.55" ry="5.06" fill="#9050d0" opacity="0.88" transform="rotate(94.69 155.78 334.07)"/>
<ellipse cx="177.1" cy="345.67" rx="8.89" ry="5.41" fill="#3070c0" opacity="0.88" transform="rotate(18.79 177.1 345.67)"/>
<ellipse cx="115.29" cy="379.76" rx="11.4" ry="7.74" fill="#4060d0" opacity="0.88" transform="rotate(178.93 115.29 379.76)"/>
<ellipse cx="152.33" cy="377.37" rx="9.71" ry="6.39" fill="#d08040" opacity="0.88" transform="rotate(12.58 152.33 377.37)"/>
<ellipse cx="118.76" cy="382.79" rx="7.7" ry="5.26" fill="#6038b0" opacity="0.88" transform="rotate(104.2 118.76 382.79)"/>
<ellipse cx="170.21" cy="322.96" rx="11.86" ry="8.22" fill="#d04040" opacity="0.88" transform="rotate(83.13 170.21 322.96)"/>
<ellipse cx="47.28" cy="419.14" rx="7.95" ry="7.09" fill="#207880" opacity="0.88" transform="rotate(100.72 47.28 419.14)"/>
<ellipse cx="167.52" cy="338.73" rx="8.21" ry="6.15" fill="#7aa030" opacity="0.88" transform="rotate(166.38 167.52 338.73)"/>
<ellipse cx="204.04" cy="321.19" rx="11.99" ry="7.91" fill="#60c060" opacity="0.88" transform="rotate(82.09 204.04 321.19)"/>
<ellipse cx="450.23" cy="451.98" rx="8.8" ry="5.47" fill="#b0b030" opacity="0.88" transform="rotate(35.54 450.23 451.98)"/>
<ellipse cx="373.01" cy="380.54" rx="12.17" ry="7.39" fill="#30b0b0" opacity="0.88" transform="rotate(148.98 373.01 380.54)"/>
<ellipse cx="417.24" cy="432.08" rx="12.19" ry="8.49" fill="#6038b0" opacity="0.88" transform="rotate(32.34 417.24 432.08)"/>
<ellipse cx="331.29" cy="339.89" rx="10.02" ry="7.52" fill="#2a4a80" opacity="0.88" transform="rotate(33.8 331.29 339.89)"/>
<ellipse cx="399.77" cy="417.68" rx="12.95" ry="5.23" fill="#30a050" opacity="0.88" transform="rotate(51.19 399.77 417.68)"/>
<ellipse cx="493.7" cy="489.12" rx="8.99" ry="5.98" fill="#50b0d0" opacity="0.88" transform="rotate(76.87 493.7 489.12)"/>
<ellipse cx="331.53" cy="350.19" rx="8.3" ry="7.89" fill="#c04080" opacity="0.88" transform="rotate(149.78 331.53 350.19)"/>
<ellipse cx="383.59" cy="383.65" rx="9.74" ry="7.15" fill="#c0a030" opacity="0.88" transform="rotate(174.81 383.59 383.65)"/>
<ellipse cx="325.72" cy="342.81" rx="10.49" ry="7.05" fill="#50b0d0" opacity="0.88" transform="rotate(128.97 325.72 342.81)"/>
<ellipse cx="320.87" cy="340.2" rx="10.08" ry="5.16" fill="#2a4a80" opacity="0.88" transform="rotate(119.44 320.87 340.2)"/>
<ellipse cx="480" cy="504.09" rx="12.59" ry="6.55" fill="#2e9e78" opacity="0.88" transform="rotate(98.79 480 504.09)"/>
<ellipse cx="346.49" cy="381.4" rx="10.85" ry="7.23" fill="#6038b0" opacity="0.88" transform="rotate(173.09 346.49 381.4)"/>
<ellipse cx="360.79" cy="371.08" rx="8.52" ry="7.61" fill="#60c060" opacity="0.88" transform="rotate(133.73 360.79 371.08)"/>
<ellipse cx="405.68" cy="427.89" rx="11.15" ry="6.36" fill="#40a890" opacity="0.88" transform="rotate(133.63 405.68 427.89)"/>
<ellipse cx="331.67" cy="355.36" rx="8.08" ry="5.5" fill="#30b0b0" opacity="0.88" transform="rotate(27.26 331.67 355.36)"/>
<ellipse cx="343.9" cy="361.47" rx="8.36" ry="7.37" fill="#2e9e78" opacity="0.88" transform="rotate(38 343.9 361.47)"/>
<ellipse cx="375.43" cy="393.89" rx="7.82" ry="7.87" fill="#c0a030" opacity="0.88" transform="rotate(19.66 375.43 393.89)"/>
<ellipse cx="366.19" cy="377.07" rx="12" ry="7.25" fill="#8030b0" opacity="0.88" transform="rotate(57.4 366.19 377.07)"/>
<ellipse cx="345.02" cy="337.82" rx="7.74" ry="7.53" fill="#b0b030" opacity="0.88" transform="rotate(39.82 345.02 337.82)"/>
<ellipse cx="463.48" cy="471.32" rx="10.81" ry="7" fill="#60c060" opacity="0.88" transform="rotate(127.22 463.48 471.32)"/>
<ellipse cx="365.98" cy="398.37" rx="12.1" ry="8.68" fill="#2e9e78" opacity="0.88" transform="rotate(159.73 365.98 398.37)"/>
<ellipse cx="422.19" cy="403.08" rx="7.25" ry="8.65" fill="#9050d0" opacity="0.88" transform="rotate(75.45 422.19 403.08)"/>
<ellipse cx="329.51" cy="347.32" rx="10.97" ry="8.13" fill="#2a4a80" opacity="0.88" transform="rotate(59.01 329.51 347.32)"/>
<ellipse cx="278.78" cy="149.41" rx="10.63" ry="5.89" fill="#98a028" opacity="0.88" transform="rotate(2.5 278.78 149.41)"/>
<ellipse cx="314.17" cy="161.8" rx="10.33" ry="5.83" fill="#c04080" opacity="0.88" transform="rotate(72.49 314.17 161.8)"/>
<ellipse cx="333.26" cy="116.96" rx="9.5" ry="5.54" fill="#805030" opacity="0.88" transform="rotate(170.74 333.26 116.96)"/>
<ellipse cx="315.67" cy="43.25" rx="10.5" ry="8.33" fill="#805030" opacity="0.88" transform="rotate(95.94 315.67 43.25)"/>
<ellipse cx="323.16" cy="126.95" rx="8.5" ry="6.54" fill="#b04838" opacity="0.88" transform="rotate(159.41 323.16 126.95)"/>
<ellipse cx="358.33" cy="119.59" rx="8.31" ry="5.16" fill="#30a050" opacity="0.88" transform="rotate(23.54 358.33 119.59)"/>
<ellipse cx="193.84" cy="46.64" rx="9.86" ry="7.22" fill="#6038b0" opacity="0.88" transform="rotate(30.3 193.84 46.64)"/>
<ellipse cx="187.79" cy="25.75" rx="11.66" ry="8.63" fill="#8030b0" opacity="0.88" transform="rotate(34.78 187.79 25.75)"/>
<ellipse cx="247.88" cy="157.33" rx="12.8" ry="6.31" fill="#b0b030" opacity="0.88" transform="rotate(154.23 247.88 157.33)"/>
<ellipse cx="353.33" cy="78.96" rx="9.3" ry="5.42" fill="#2e9e78" opacity="0.88" transform="rotate(171.4 353.33 78.96)"/>
<ellipse cx="297.87" cy="147.54" rx="8.08" ry="7.54" fill="#c04080" opacity="0.88" transform="rotate(101.13 297.87 147.54)"/>
<ellipse cx="273.88" cy="154.92" rx="10.8" ry="6.72" fill="#207880" opacity="0.88" transform="rotate(134.31 273.88 154.92)"/>
<ellipse cx="311.89" cy="167.47" rx="12.33" ry="7.24" fill="#7aa030" opacity="0.88" transform="rotate(175.59 311.89 167.47)"/>
<ellipse cx="271.84" cy="102.21" rx="12.07" ry="7.41" fill="#b04838" opacity="0.88" transform="rotate(146.56 271.84 102.21)"/>
<ellipse cx="351.04" cy="92.49" rx="9.99" ry="8.9" fill="#2e9e78" opacity="0.88" transform="rotate(4.08 351.04 92.49)"/>
<ellipse cx="178.92" cy="55.39" rx="11.14" ry="7.39" fill="#805030" opacity="0.88" transform="rotate(97.23 178.92 55.39)"/>
<ellipse cx="204.36" cy="114.05" rx="11.02" ry="6.57" fill="#30b0b0" opacity="0.88" transform="rotate(142.66 204.36 114.05)"/>
<ellipse cx="342.57" cy="128.7" rx="8.23" ry="8.89" fill="#c04080" opacity="0.88" transform="rotate(119.17 342.57 128.7)"/>
<ellipse cx="265.06" cy="212.6" rx="10.62" ry="5.43" fill="#4060d0" opacity="0.88" transform="rotate(99.77 265.06 212.6)"/>
<ellipse cx="282.59" cy="147.93" rx="7.87" ry="6.2" fill="#4060d0" opacity="0.88" transform="rotate(104.77 282.59 147.93)"/>
<ellipse cx="305.9" cy="179.25" rx="10.99" ry="6.16" fill="#a03080" opacity="0.88" transform="rotate(178.88 305.9 179.25)"/>
<ellipse cx="312.11" cy="151.49" rx="9.04" ry="7.75" fill="#207880" opacity="0.88" transform="rotate(43.56 312.11 151.49)"/>
<ellipse cx="279.89" cy="203.78" rx="9.92" ry="6.36" fill="#207880" opacity="0.88" transform="rotate(103.45 279.89 203.78)"/>
<ellipse cx="296.63" cy="161.92" rx="10.46" ry="5.88" fill="#40a890" opacity="0.88" transform="rotate(178.66 296.63 161.92)"/>
<ellipse cx="237.54" cy="137.81" rx="10.85" ry="7.5" fill="#7aa030" opacity="0.88" transform="rotate(46.86 237.54 137.81)"/>
<ellipse cx="201.2" cy="64.24" rx="11.97" ry="7.75" fill="#9050d0" opacity="0.88" transform="rotate(172.05 201.2 64.24)"/>
<ellipse cx="225.78" cy="128.7" rx="9.28" ry="8.69" fill="#8030b0" opacity="0.88" transform="rotate(145.37 225.78 128.7)"/>
<ellipse cx="248.56" cy="60.26" rx="10.1" ry="6.33" fill="#9050d0" opacity="0.88" transform="rotate(6.19 248.56 60.26)"/>
<ellipse cx="232.03" cy="89.79" rx="12.61" ry="6.01" fill="#9050d0" opacity="0.88" transform="rotate(88.81 232.03 89.79)"/>
<ellipse cx="326.41" cy="53.37" rx="10.87" ry="8.96" fill="#7aa030" opacity="0.88" transform="rotate(129.52 326.41 53.37)"/>
<ellipse cx="282.48" cy="208.59" rx="11.1" ry="8.31" fill="#2e9e78" opacity="0.88" transform="rotate(69.59 282.48 208.59)"/>
<ellipse cx="203.18" cy="231.55" rx="12.64" ry="5.68" fill="#2a4a80" opacity="0.88" transform="rotate(172.46 203.18 231.55)"/>
<ellipse cx="240.72" cy="336.52" rx="8.86" ry="7.44" fill="#3070c0" opacity="0.88" transform="rotate(21.42 240.72 336.52)"/>
<ellipse cx="323.87" cy="308.68" rx="11.49" ry="6.63" fill="#30b0b0" opacity="0.88" transform="rotate(150.08 323.87 308.68)"/>
<ellipse cx="336.09" cy="283.62" rx="9.12" ry="7.95" fill="#c05838" opacity="0.88" transform="rotate(106.25 336.09 283.62)"/>
<ellipse cx="266.45" cy="218.55" rx="11.82" ry="8.8" fill="#40a890" opacity="0.88" transform="rotate(1.11 266.45 218.55)"/>
<ellipse cx="173.58" cy="279.5" rx="12.02" ry="8.91" fill="#d08040" opacity="0.88" transform="rotate(111.75 173.58 279.5)"/>
<ellipse cx="228.65" cy="328.88" rx="11.33" ry="8.93" fill="#c05838" opacity="0.88" transform="rotate(48.99 228.65 328.88)"/>
<ellipse cx="348.58" cy="243.33" rx="11.24" ry="6.83" fill="#98a028" opacity="0.88" transform="rotate(123.01 348.58 243.33)"/>
<ellipse cx="263.24" cy="333.81" rx="8.73" ry="6.21" fill="#c05838" opacity="0.88" transform="rotate(105.06 263.24 333.81)"/>
<ellipse cx="348.43" cy="245.74" rx="9.55" ry="5.32" fill="#9050d0" opacity="0.88" transform="rotate(67.36 348.43 245.74)"/>
<ellipse cx="183.51" cy="284.26" rx="12.69" ry="6.91" fill="#98a028" opacity="0.88" transform="rotate(63.79 183.51 284.26)"/>
<ellipse cx="259.41" cy="217.71" rx="8.56" ry="8.64" fill="#c04080" opacity="0.88" transform="rotate(76.21 259.41 217.71)"/>
<ellipse cx="258.33" cy="213.4" rx="8.79" ry="5.03" fill="#4060d0" opacity="0.88" transform="rotate(85.12 258.33 213.4)"/>
<ellipse cx="251.67" cy="210.43" rx="7.15" ry="6.78" fill="#50b0d0" opacity="0.88" transform="rotate(110.79 251.67 210.43)"/>
<ellipse cx="346.61" cy="271.75" rx="8.9" ry="6.41" fill="#98a028" opacity="0.88" transform="rotate(103.63 346.61 271.75)"/>
<ellipse cx="333.44" cy="313.78" rx="8.99" ry="5.37" fill="#805030" opacity="0.88" transform="rotate(113.44 333.44 313.78)"/>
<ellipse cx="344.19" cy="269.62" rx="7.8" ry="6.77" fill="#7aa030" opacity="0.88" transform="rotate(176.39 344.19 269.62)"/>
<ellipse cx="334.09" cy="236.98" rx="7.7" ry="6.96" fill="#6038b0" opacity="0.88" transform="rotate(179.13 334.09 236.98)"/>
<ellipse cx="258.06" cy="334.22" rx="7.8" ry="7.42" fill="#d04040" opacity="0.88" transform="rotate(118.16 258.06 334.22)"/>
<ellipse cx="331.19" cy="232.36" rx="7.95" ry="5.34" fill="#50b0d0" opacity="0.88" transform="rotate(76.04 331.19 232.36)"/>
<ellipse cx="215.4" cy="212.99" rx="9.57" ry="7.2" fill="#8030b0" opacity="0.88" transform="rotate(49.21 215.4 212.99)"/>
<ellipse cx="193.63" cy="321.68" rx="12.99" ry="6.44" fill="#b04838" opacity="0.88" transform="rotate(80.69 193.63 321.68)"/>
<ellipse cx="326.79" cy="308.55" rx="13" ry="5.81" fill="#8030b0" opacity="0.88" transform="rotate(108.56 326.79 308.55)"/>
<ellipse cx="193.75" cy="246.74" rx="12.1" ry="7.92" fill="#b04838" opacity="0.88" transform="rotate(7.2 193.75 246.74)"/>
<ellipse cx="214.05" cy="335.5" rx="12.64" ry="5.97" fill="#c04080" opacity="0.88" transform="rotate(154.33 214.05 335.5)"/>
<ellipse cx="192.14" cy="301.89" rx="8.8" ry="6.57" fill="#b04838" opacity="0.88" transform="rotate(131.73 192.14 301.89)"/>
<ellipse cx="179.33" cy="267.25" rx="11.24" ry="5.93" fill="#c04080" opacity="0.88" transform="rotate(18.19 179.33 267.25)"/>
<ellipse cx="352.19" cy="268.32" rx="8.69" ry="6.06" fill="#3070c0" opacity="0.88" transform="rotate(95.71 352.19 268.32)"/>
<ellipse cx="311.96" cy="215.93" rx="11.71" ry="8.53" fill="#40a890" opacity="0.88" transform="rotate(11.99 311.96 215.93)"/>
<ellipse cx="259.53" cy="292.09" rx="5" ry="4" fill="#60c060" opacity="0.85"/>
<ellipse cx="168.49" cy="299.91" rx="5" ry="4" fill="#a03080" opacity="0.85"/>
<ellipse cx="222.43" cy="135.61" rx="5" ry="4" fill="#9050d0" opacity="0.85"/>
<ellipse cx="241.78" cy="189.81" rx="5" ry="4" fill="#207880" opacity="0.85"/>
<ellipse cx="445.49" cy="432.47" rx="5" ry="4" fill="#3070c0" opacity="0.85"/>
<ellipse cx="502.32" cy="35.23" rx="5" ry="4" fill="#4060d0" opacity="0.85"/>
<ellipse cx="150.41" cy="38.21" rx="5" ry="4" fill="#805030" opacity="0.85"/>
<ellipse cx="415.41" cy="88.39" rx="5" ry="4" fill="#b0b030" opacity="0.85"/>
<ellipse cx="64.74" cy="394.52" rx="5" ry="4" fill="#7aa030" opacity="0.85"/>
<ellipse cx="17.87" cy="63.1" rx="5" ry="4" fill="#7aa030" opacity="0.85"/>
<ellipse cx="183.57" cy="252.04" rx="5" ry="4" fill="#4060d0" opacity="0.85"/>
<ellipse cx="115.27" cy="393.25" rx="5" ry="4" fill="#6038b0" opacity="0.85"/>
</svg>
<text x="370.7" y="96.2" font-size="7.8" font-weight="bold" fill="#000" opacity=".4" stroke="#000" stroke-width="1.2" stroke-opacity=".3">SM</text>
<text x="370.7" y="96.2" font-size="7.8" font-weight="bold" fill="#fff">SM</text>
<rect x="428.5" y="93.8" width="15.6" height="2.4" fill="#fff"/>
<rect x="368.5" y="19.5" width="78.6" height="78" fill="none" stroke="#2b2b2b" stroke-width=".7"/>
<svg x="449.6" y="19.5" width="78.4" height="78" viewBox="0 0 504.9 502.32" preserveAspectRatio="none" overflow="hidden">
<rect width="520" height="520" fill="#686868"/>
<path d="M0,0 L150,0 L235,210 L195,300 L0,440Z" fill="url(#sA)"/>
<path d="M400,0 L520,0 L520,420 L345,315 L320,210Z" fill="url(#sB)"/>
<path d="M0,440 L195,300 L300,345 L520,520 L0,520Z" fill="url(#sC)"/>
<path d="M345,315 L520,420 L520,520 L300,345Z" fill="url(#sD)"/>
<path d="M0,0 L150,0 L235,210 L195,300 L0,440Z" fill="url(#sD)" opacity=".18"/>
<path d="M400,0 L520,0 L520,420 L345,315 L320,210Z" fill="url(#sA)" opacity=".18"/>
<path d="M0,440 L195,300 L300,345 L520,520 L0,520Z" fill="url(#sE)" opacity=".18"/>
<path d="M120,0 L440,0 L420,60 L320,215 L235,215 L150,40Z" fill="#7e7e7e"/>
<rect width="520" height="520" filter="url(#nzi)" opacity="0.35" style="mix-blend-mode:overlay"/>
<path d="M327.4,64.0Q329.3,70.0 333.3,78.8Q337.3,87.6 325.5,92.5Q313.7,97.4 300.8,95.9Q287.8,94.3 281.4,88.1Q275.0,81.8 262.8,75.9Q250.6,70.0 255.2,60.5Q259.7,51.0 273.6,48.0Q287.5,45.0 300.0,45.1Q312.4,45.2 319.0,51.6Q325.5,57.9 327.4,64.0Z" fill="#ececec" opacity=".9"/>
<path d="M257.2,85.0Q253.3,92.0 254.6,97.3Q256.0,102.5 251.6,107.4Q247.3,112.3 241.4,108.4Q235.5,104.5 226.8,105.5Q218.0,106.5 220.4,99.3Q222.7,92.0 224.4,87.4Q226.0,82.8 230.8,81.4Q235.7,79.9 242.6,72.7Q249.5,65.4 255.4,71.7Q261.2,78.0 257.2,85.0Z" fill="#ececec" opacity=".9"/>
<path d="M358.1,106.1Q361.0,112.0 356.8,117.1Q352.7,122.3 345.8,121.9Q338.9,121.5 334.3,123.3Q329.7,125.1 324.3,123.3Q318.9,121.4 320.0,116.7Q321.1,112.0 317.1,105.6Q313.0,99.2 321.2,98.8Q329.5,98.4 334.5,99.7Q339.5,101.0 347.4,100.6Q355.3,100.2 358.1,106.1Z" fill="#ececec" opacity=".9"/>
<path d="M238.7,147.0Q239.2,150.0 242.3,155.1Q245.4,160.3 239.1,161.1Q232.8,161.9 227.8,162.4Q222.9,162.9 219.8,159.8Q216.7,156.7 214.4,153.3Q212.2,150.0 215.2,147.1Q218.3,144.3 221.6,143.2Q224.9,142.2 229.6,138.1Q234.4,134.0 236.3,139.0Q238.2,144.0 238.7,147.0Z" fill="#ececec" opacity=".9"/>
<path d="M313.3,28.5Q319.3,32.0 310.8,34.7Q302.4,37.4 299.6,42.6Q296.9,47.7 285.3,47.4Q273.6,47.0 265.7,43.8Q257.7,40.5 254.4,36.2Q251.1,32.0 256.0,28.2Q260.9,24.5 267.8,21.5Q274.8,18.5 282.9,21.3Q291.0,24.0 299.1,24.6Q307.2,25.1 313.3,28.5Z" fill="#ececec" opacity=".9"/>
<path d="M391.0,59.1Q395.2,62.0 390.0,64.5Q384.8,66.9 383.2,71.5Q381.6,76.0 375.1,75.9Q368.5,75.7 365.8,71.9Q363.0,68.0 361.9,65.0Q360.7,62.0 361.6,58.9Q362.6,55.8 366.5,54.1Q370.5,52.5 376.2,49.9Q381.9,47.4 384.3,51.8Q386.8,56.1 391.0,59.1Z" fill="#ececec" opacity=".9"/>
<path d="M125,10 L240,225" stroke="#969696" stroke-width="26" stroke-linecap="round" opacity=".75"/>
<path d="M430,45 L300,215" stroke="#969696" stroke-width="26" stroke-linecap="round" opacity=".75"/>
<path d="M10,440 L215,325" stroke="#969696" stroke-width="26" stroke-linecap="round" opacity=".75"/>
<path d="M325,335 L495,495" stroke="#969696" stroke-width="26" stroke-linecap="round" opacity=".75"/>
<ellipse cx="260" cy="274" rx="62" ry="46" fill="#969696" opacity="0.95"/>
<path d="M294.0,264.2Q292.0,272.0 289.9,278.1Q287.8,284.2 283.0,292.2Q278.2,300.1 264.2,303.2Q250.3,306.3 239.7,299.7Q229.2,293.1 222.6,286.5Q216.0,279.9 215.4,271.9Q214.8,263.9 220.3,256.1Q225.8,248.3 239.2,248.2Q252.6,248.0 264.9,246.6Q277.2,245.2 286.6,250.8Q296.0,256.5 294.0,264.2Z" fill="#c6c6c6" stroke="#060606" stroke-width="10" stroke-linejoin="round"/>
<path d="M289.1,263.4Q293.6,268.0 287.4,271.5Q281.1,275.0 273.6,275.8Q266.1,276.6 259.0,274.5Q252.0,272.3 248.5,267.2Q245.1,262.0 255.3,260.1Q265.6,258.3 275.0,258.6Q284.5,258.9 289.1,263.4Z" fill="#2a2a2a" opacity=".7"/>
<ellipse cx="156.89" cy="77.72" rx="11.88" ry="8.11" fill="#a03080" opacity="0.88" transform="rotate(28.78 156.89 77.72)"/>
<ellipse cx="126.67" cy="19.26" rx="10.12" ry="7.63" fill="#30a050" opacity="0.88" transform="rotate(73.26 126.67 19.26)"/>
<ellipse cx="223.88" cy="230.61" rx="12.3" ry="6.96" fill="#c0a030" opacity="0.88" transform="rotate(120.05 223.88 230.61)"/>
<ellipse cx="236.35" cy="209.34" rx="8.48" ry="7.25" fill="#c04080" opacity="0.88" transform="rotate(144.95 236.35 209.34)"/>
<ellipse cx="235.71" cy="164.78" rx="7.31" ry="6.03" fill="#98a028" opacity="0.88" transform="rotate(6.26 235.71 164.78)"/>
<ellipse cx="151.28" cy="64.68" rx="9.37" ry="8.48" fill="#d04040" opacity="0.88" transform="rotate(161.85 151.28 64.68)"/>
<ellipse cx="238.44" cy="221.26" rx="8.51" ry="8.84" fill="#805030" opacity="0.88" transform="rotate(164.06 238.44 221.26)"/>
<ellipse cx="193.18" cy="106" rx="12.72" ry="8.6" fill="#a03080" opacity="0.88" transform="rotate(143.14 193.18 106)"/>
<ellipse cx="236.08" cy="194.32" rx="10.49" ry="8.4" fill="#98a028" opacity="0.88" transform="rotate(24.98 236.08 194.32)"/>
<ellipse cx="199.85" cy="132.67" rx="7.84" ry="7.88" fill="#c0a030" opacity="0.88" transform="rotate(123.35 199.85 132.67)"/>
<ellipse cx="219.49" cy="223.24" rx="10.86" ry="8.41" fill="#4060d0" opacity="0.88" transform="rotate(75.8 219.49 223.24)"/>
<ellipse cx="201.3" cy="158.09" rx="11.51" ry="8.25" fill="#7aa030" opacity="0.88" transform="rotate(24.04 201.3 158.09)"/>
<ellipse cx="133.75" cy="31.54" rx="9.68" ry="5.56" fill="#2a4a80" opacity="0.88" transform="rotate(117.96 133.75 31.54)"/>
<ellipse cx="138.11" cy="37.98" rx="10.23" ry="6.3" fill="#50b0d0" opacity="0.88" transform="rotate(159.83 138.11 37.98)"/>
<ellipse cx="187.01" cy="148.6" rx="8.21" ry="7.98" fill="#8030b0" opacity="0.88" transform="rotate(108.7 187.01 148.6)"/>
<ellipse cx="162.49" cy="129.55" rx="11.47" ry="5.23" fill="#2e9e78" opacity="0.88" transform="rotate(69.78 162.49 129.55)"/>
<ellipse cx="236.3" cy="189.5" rx="12.13" ry="5.93" fill="#30b0b0" opacity="0.88" transform="rotate(108.93 236.3 189.5)"/>
<ellipse cx="201.9" cy="175.09" rx="8.47" ry="5.62" fill="#b0b030" opacity="0.88" transform="rotate(162.14 201.9 175.09)"/>
<ellipse cx="173.4" cy="65.69" rx="12.69" ry="5.39" fill="#60c060" opacity="0.88" transform="rotate(10.81 173.4 65.69)"/>
<ellipse cx="193.68" cy="137.72" rx="8.94" ry="7.07" fill="#98a028" opacity="0.88" transform="rotate(125.9 193.68 137.72)"/>
<ellipse cx="189.33" cy="120.98" rx="11.89" ry="8.91" fill="#a03080" opacity="0.88" transform="rotate(11.76 189.33 120.98)"/>
<ellipse cx="202.21" cy="150.63" rx="9.52" ry="8.47" fill="#d04040" opacity="0.88" transform="rotate(13.2 202.21 150.63)"/>
<ellipse cx="217.87" cy="185.5" rx="10.73" ry="5.08" fill="#d04040" opacity="0.88" transform="rotate(127.02 217.87 185.5)"/>
<ellipse cx="191.62" cy="104.57" rx="10.08" ry="8.5" fill="#b04838" opacity="0.88" transform="rotate(40.59 191.62 104.57)"/>
<ellipse cx="430.77" cy="58.74" rx="11.23" ry="8.27" fill="#b0b030" opacity="0.88" transform="rotate(76.87 430.77 58.74)"/>
<ellipse cx="323.17" cy="178.2" rx="9.39" ry="6.31" fill="#30a050" opacity="0.88" transform="rotate(113.73 323.17 178.2)"/>
<ellipse cx="294.65" cy="200.97" rx="9.95" ry="7.87" fill="#207880" opacity="0.88" transform="rotate(140.31 294.65 200.97)"/>
<ellipse cx="342.48" cy="146.94" rx="11.55" ry="7.67" fill="#60c060" opacity="0.88" transform="rotate(125.82 342.48 146.94)"/>
<ellipse cx="340.53" cy="160.59" rx="9.32" ry="7.46" fill="#805030" opacity="0.88" transform="rotate(173.47 340.53 160.59)"/>
<ellipse cx="278.39" cy="195.57" rx="7.04" ry="6.25" fill="#98a028" opacity="0.88" transform="rotate(157.62 278.39 195.57)"/>
<ellipse cx="331.47" cy="162.66" rx="10.13" ry="7.48" fill="#c0a030" opacity="0.88" transform="rotate(133.62 331.47 162.66)"/>
<ellipse cx="366.44" cy="120.95" rx="7.65" ry="8.82" fill="#30b0b0" opacity="0.88" transform="rotate(77.99 366.44 120.95)"/>
<ellipse cx="351.23" cy="167.6" rx="8.13" ry="5.33" fill="#2e9e78" opacity="0.88" transform="rotate(57.98 351.23 167.6)"/>
<ellipse cx="387.13" cy="80.71" rx="12.07" ry="5.61" fill="#9050d0" opacity="0.88" transform="rotate(91.27 387.13 80.71)"/>
<ellipse cx="405.22" cy="90.27" rx="7.94" ry="6.57" fill="#c0a030" opacity="0.88" transform="rotate(78.64 405.22 90.27)"/>
<ellipse cx="364.95" cy="161.5" rx="8.68" ry="5.7" fill="#c0a030" opacity="0.88" transform="rotate(111.91 364.95 161.5)"/>
<ellipse cx="410.03" cy="56.39" rx="9.1" ry="7.52" fill="#30b0b0" opacity="0.88" transform="rotate(66.18 410.03 56.39)"/>
<ellipse cx="421.38" cy="58.58" rx="10.48" ry="6.59" fill="#c04080" opacity="0.88" transform="rotate(126.07 421.38 58.58)"/>
<ellipse cx="385.84" cy="75.95" rx="7.57" ry="6.24" fill="#c04080" opacity="0.88" transform="rotate(66.7 385.84 75.95)"/>
<ellipse cx="428.99" cy="45.04" rx="8" ry="7.28" fill="#3070c0" opacity="0.88" transform="rotate(95.29 428.99 45.04)"/>
<ellipse cx="419.6" cy="50.29" rx="10.31" ry="5.9" fill="#4060d0" opacity="0.88" transform="rotate(166.53 419.6 50.29)"/>
<ellipse cx="305.45" cy="187.79" rx="7.11" ry="7.33" fill="#b04838" opacity="0.88" transform="rotate(78.44 305.45 187.79)"/>
<ellipse cx="306.65" cy="175.02" rx="7.91" ry="6.99" fill="#805030" opacity="0.88" transform="rotate(109.17 306.65 175.02)"/>
<ellipse cx="350.4" cy="151.24" rx="9.83" ry="8.2" fill="#40a890" opacity="0.88" transform="rotate(27.49 350.4 151.24)"/>
<ellipse cx="413.54" cy="73.76" rx="7.06" ry="8.23" fill="#9050d0" opacity="0.88" transform="rotate(12.17 413.54 73.76)"/>
<ellipse cx="122.38" cy="394.47" rx="11.07" ry="5.76" fill="#6038b0" opacity="0.88" transform="rotate(63.43 122.38 394.47)"/>
<ellipse cx="39.52" cy="414.74" rx="11.74" ry="6.6" fill="#8030b0" opacity="0.88" transform="rotate(18.74 39.52 414.74)"/>
<ellipse cx="198.62" cy="329.02" rx="10.23" ry="6.63" fill="#30b0b0" opacity="0.88" transform="rotate(34.84 198.62 329.02)"/>
<ellipse cx="201.34" cy="322.75" rx="8.31" ry="7.01" fill="#b0b030" opacity="0.88" transform="rotate(63.41 201.34 322.75)"/>
<ellipse cx="121.38" cy="382.69" rx="10.77" ry="5.7" fill="#30b0b0" opacity="0.88" transform="rotate(66.33 121.38 382.69)"/>
<ellipse cx="111.91" cy="391.78" rx="7.11" ry="6.12" fill="#8030b0" opacity="0.88" transform="rotate(39.12 111.91 391.78)"/>
<ellipse cx="165.05" cy="342.77" rx="12.42" ry="7.13" fill="#2a4a80" opacity="0.88" transform="rotate(174.63 165.05 342.77)"/>
<ellipse cx="101.79" cy="416.19" rx="11.76" ry="5.04" fill="#a03080" opacity="0.88" transform="rotate(31.2 101.79 416.19)"/>
<ellipse cx="59.84" cy="401.45" rx="7.15" ry="6.5" fill="#b0b030" opacity="0.88" transform="rotate(29.07 59.84 401.45)"/>
<ellipse cx="189.98" cy="313.65" rx="8.24" ry="8.99" fill="#d08040" opacity="0.88" transform="rotate(51.47 189.98 313.65)"/>
<ellipse cx="99.74" cy="383.78" rx="11.6" ry="8.82" fill="#b04838" opacity="0.88" transform="rotate(43.18 99.74 383.78)"/>
<ellipse cx="128.07" cy="362.52" rx="12.2" ry="7.29" fill="#2e9e78" opacity="0.88" transform="rotate(164.1 128.07 362.52)"/>
<ellipse cx="212.14" cy="341.7" rx="11.53" ry="8.94" fill="#b0b030" opacity="0.88" transform="rotate(37.96 212.14 341.7)"/>
<ellipse cx="37.83" cy="438.18" rx="12.37" ry="7.06" fill="#2a4a80" opacity="0.88" transform="rotate(29 37.83 438.18)"/>
<ellipse cx="142.88" cy="358.72" rx="10.68" ry="6.86" fill="#50b0d0" opacity="0.88" transform="rotate(135.25 142.88 358.72)"/>
<ellipse cx="143.3" cy="364.97" rx="9.27" ry="6.96" fill="#6038b0" opacity="0.88" transform="rotate(7.29 143.3 364.97)"/>
<ellipse cx="191.75" cy="351.42" rx="8.23" ry="8.16" fill="#40a890" opacity="0.88" transform="rotate(105.56 191.75 351.42)"/>
<ellipse cx="173.83" cy="346.37" rx="12.96" ry="6.51" fill="#c0a030" opacity="0.88" transform="rotate(5.89 173.83 346.37)"/>
<ellipse cx="160.71" cy="335.09" rx="12.2" ry="6.19" fill="#c04080" opacity="0.88" transform="rotate(35.45 160.71 335.09)"/>
<ellipse cx="55.61" cy="412.12" rx="9.9" ry="5.22" fill="#a03080" opacity="0.88" transform="rotate(164.95 55.61 412.12)"/>
<ellipse cx="27.31" cy="407.33" rx="9" ry="6.42" fill="#4060d0" opacity="0.88" transform="rotate(113.13 27.31 407.33)"/>
<ellipse cx="128.92" cy="364.44" rx="11.51" ry="6.5" fill="#6038b0" opacity="0.88" transform="rotate(132.17 128.92 364.44)"/>
<ellipse cx="93.96" cy="369.25" rx="7.75" ry="8.58" fill="#60c060" opacity="0.88" transform="rotate(152.58 93.96 369.25)"/>
<ellipse cx="470.16" cy="484.13" rx="10.8" ry="5.58" fill="#6038b0" opacity="0.88" transform="rotate(18.76 470.16 484.13)"/>
<ellipse cx="426.61" cy="437.23" rx="10.88" ry="7.06" fill="#7aa030" opacity="0.88" transform="rotate(89.56 426.61 437.23)"/>
<ellipse cx="443.71" cy="451.76" rx="9.01" ry="7.6" fill="#a03080" opacity="0.88" transform="rotate(1.65 443.71 451.76)"/>
<ellipse cx="456" cy="482.88" rx="8.7" ry="6.05" fill="#3070c0" opacity="0.88" transform="rotate(10.88 456 482.88)"/>
<ellipse cx="461.44" cy="447.6" rx="12.98" ry="5.93" fill="#30b0b0" opacity="0.88" transform="rotate(79.88 461.44 447.6)"/>
<ellipse cx="415.98" cy="408.86" rx="12.77" ry="6.5" fill="#d04040" opacity="0.88" transform="rotate(3.83 415.98 408.86)"/>
<ellipse cx="481.48" cy="492.71" rx="9.66" ry="7.59" fill="#b0b030" opacity="0.88" transform="rotate(92.48 481.48 492.71)"/>
<ellipse cx="356.48" cy="377.68" rx="11.74" ry="5.08" fill="#d04040" opacity="0.88" transform="rotate(161.58 356.48 377.68)"/>
<ellipse cx="465.67" cy="472.88" rx="11.49" ry="6.38" fill="#7aa030" opacity="0.88" transform="rotate(29.71 465.67 472.88)"/>
<ellipse cx="478.37" cy="444.24" rx="8.96" ry="6.31" fill="#207880" opacity="0.88" transform="rotate(173.62 478.37 444.24)"/>
<ellipse cx="402.3" cy="408.46" rx="7.95" ry="5.61" fill="#d08040" opacity="0.88" transform="rotate(20.12 402.3 408.46)"/>
<ellipse cx="414.73" cy="421.72" rx="7.69" ry="6.62" fill="#2a4a80" opacity="0.88" transform="rotate(36.57 414.73 421.72)"/>
<ellipse cx="447.3" cy="443.37" rx="8.46" ry="7.4" fill="#2a4a80" opacity="0.88" transform="rotate(44.05 447.3 443.37)"/>
<ellipse cx="399.25" cy="403.21" rx="11.73" ry="8.71" fill="#30b0b0" opacity="0.88" transform="rotate(119.43 399.25 403.21)"/>
<ellipse cx="328.88" cy="333.97" rx="12.48" ry="6.43" fill="#3070c0" opacity="0.88" transform="rotate(6.18 328.88 333.97)"/>
<ellipse cx="402.92" cy="421.98" rx="12.35" ry="8.09" fill="#4060d0" opacity="0.88" transform="rotate(86.79 402.92 421.98)"/>
<ellipse cx="340.52" cy="331.43" rx="8.54" ry="6.89" fill="#6038b0" opacity="0.88" transform="rotate(95.51 340.52 331.43)"/>
<ellipse cx="363.92" cy="349.5" rx="9.05" ry="7.66" fill="#d04040" opacity="0.88" transform="rotate(47.54 363.92 349.5)"/>
<ellipse cx="481.88" cy="480.48" rx="10.51" ry="6.95" fill="#7aa030" opacity="0.88" transform="rotate(135.62 481.88 480.48)"/>
<ellipse cx="346.47" cy="363.07" rx="8.85" ry="5.45" fill="#9050d0" opacity="0.88" transform="rotate(121.89 346.47 363.07)"/>
<ellipse cx="466.15" cy="493.83" rx="11.96" ry="7.05" fill="#2a4a80" opacity="0.88" transform="rotate(112.99 466.15 493.83)"/>
<ellipse cx="401.38" cy="415.17" rx="10.34" ry="6.46" fill="#207880" opacity="0.88" transform="rotate(8.41 401.38 415.17)"/>
<ellipse cx="438.28" cy="427.92" rx="11.62" ry="5.07" fill="#805030" opacity="0.88" transform="rotate(36.04 438.28 427.92)"/>
<ellipse cx="183.2" cy="62.33" rx="12.21" ry="6.35" fill="#9050d0" opacity="0.88" transform="rotate(139.23 183.2 62.33)"/>
<ellipse cx="194.58" cy="28.72" rx="8.49" ry="6.42" fill="#c0a030" opacity="0.88" transform="rotate(34.16 194.58 28.72)"/>
<ellipse cx="242.31" cy="48.67" rx="8.09" ry="6.47" fill="#7aa030" opacity="0.88" transform="rotate(59.13 242.31 48.67)"/>
<ellipse cx="197" cy="52.4" rx="7.87" ry="7.72" fill="#30b0b0" opacity="0.88" transform="rotate(121.64 197 52.4)"/>
<ellipse cx="173.54" cy="42.44" rx="8.48" ry="8.99" fill="#40a890" opacity="0.88" transform="rotate(100.78 173.54 42.44)"/>
<ellipse cx="223.28" cy="68.86" rx="11.33" ry="5.11" fill="#4060d0" opacity="0.88" transform="rotate(49.12 223.28 68.86)"/>
<ellipse cx="371.57" cy="88.56" rx="10.68" ry="7.98" fill="#2a4a80" opacity="0.88" transform="rotate(156.98 371.57 88.56)"/>
<ellipse cx="199.04" cy="57.23" rx="12.87" ry="7" fill="#30b0b0" opacity="0.88" transform="rotate(119.85 199.04 57.23)"/>
<ellipse cx="226.32" cy="59.33" rx="12.41" ry="6.52" fill="#98a028" opacity="0.88" transform="rotate(138.6 226.32 59.33)"/>
<ellipse cx="295.77" cy="46.18" rx="11.28" ry="8.02" fill="#c05838" opacity="0.88" transform="rotate(81.78 295.77 46.18)"/>
<ellipse cx="361.68" cy="55.97" rx="10.82" ry="5.45" fill="#805030" opacity="0.88" transform="rotate(104.92 361.68 55.97)"/>
<ellipse cx="258.45" cy="56.36" rx="8.75" ry="8.07" fill="#b0b030" opacity="0.88" transform="rotate(99.74 258.45 56.36)"/>
<ellipse cx="226.04" cy="27.36" rx="9.46" ry="8.17" fill="#6038b0" opacity="0.88" transform="rotate(83.39 226.04 27.36)"/>
<ellipse cx="188.61" cy="44.2" rx="8.59" ry="6.4" fill="#805030" opacity="0.88" transform="rotate(62.1 188.61 44.2)"/>
<ellipse cx="241.69" cy="156.78" rx="10.79" ry="8.27" fill="#6038b0" opacity="0.88" transform="rotate(142.99 241.69 156.78)"/>
<ellipse cx="380" cy="55.34" rx="7.26" ry="8.16" fill="#30b0b0" opacity="0.88" transform="rotate(38.36 380 55.34)"/>
<ellipse cx="249.2" cy="188.69" rx="8.04" ry="7.29" fill="#d08040" opacity="0.88" transform="rotate(41.74 249.2 188.69)"/>
<ellipse cx="221.7" cy="89.46" rx="11.3" ry="7.43" fill="#207880" opacity="0.88" transform="rotate(17.55 221.7 89.46)"/>
<ellipse cx="248.82" cy="166.56" rx="8.52" ry="5.87" fill="#c0a030" opacity="0.88" transform="rotate(69.13 248.82 166.56)"/>
<ellipse cx="286.31" cy="174.49" rx="12.57" ry="5.16" fill="#98a028" opacity="0.88" transform="rotate(57.82 286.31 174.49)"/>
<ellipse cx="281.97" cy="120.34" rx="12.25" ry="8.98" fill="#b04838" opacity="0.88" transform="rotate(111.22 281.97 120.34)"/>
<ellipse cx="238.67" cy="134.22" rx="11.27" ry="8.73" fill="#c05838" opacity="0.88" transform="rotate(33.64 238.67 134.22)"/>
<ellipse cx="255.83" cy="34.3" rx="12.28" ry="8.65" fill="#b04838" opacity="0.88" transform="rotate(162.27 255.83 34.3)"/>
<ellipse cx="281.01" cy="53.31" rx="12.6" ry="8.27" fill="#2a4a80" opacity="0.88" transform="rotate(110.93 281.01 53.31)"/>
<ellipse cx="240.54" cy="180.14" rx="12.93" ry="7.08" fill="#b0b030" opacity="0.88" transform="rotate(114.38 240.54 180.14)"/>
<ellipse cx="327.3" cy="53.67" rx="12.71" ry="8.86" fill="#c04080" opacity="0.88" transform="rotate(16.2 327.3 53.67)"/>
<ellipse cx="311.86" cy="42.2" rx="12.18" ry="8.15" fill="#50b0d0" opacity="0.88" transform="rotate(134.96 311.86 42.2)"/>
<ellipse cx="234.65" cy="86.59" rx="11.58" ry="5.9" fill="#b04838" opacity="0.88" transform="rotate(166.89 234.65 86.59)"/>
<ellipse cx="390.98" cy="66.85" rx="10.92" ry="7.23" fill="#a03080" opacity="0.88" transform="rotate(70.63 390.98 66.85)"/>
<ellipse cx="291.59" cy="161.06" rx="10.06" ry="8.65" fill="#d04040" opacity="0.88" transform="rotate(36.39 291.59 161.06)"/>
<ellipse cx="265.14" cy="334.93" rx="8.75" ry="8.35" fill="#9050d0" opacity="0.88" transform="rotate(99.24 265.14 334.93)"/>
<ellipse cx="245.11" cy="331.49" rx="10.43" ry="6.27" fill="#4060d0" opacity="0.88" transform="rotate(134.18 245.11 331.49)"/>
<ellipse cx="168.12" cy="259.4" rx="10.8" ry="8.71" fill="#6038b0" opacity="0.88" transform="rotate(36.65 168.12 259.4)"/>
<ellipse cx="298.06" cy="332.31" rx="12.76" ry="5.66" fill="#b0b030" opacity="0.88" transform="rotate(33.4 298.06 332.31)"/>
<ellipse cx="303.41" cy="218.88" rx="10.58" ry="6.08" fill="#805030" opacity="0.88" transform="rotate(46.27 303.41 218.88)"/>
<ellipse cx="320.68" cy="224.41" rx="10.77" ry="5.46" fill="#98a028" opacity="0.88" transform="rotate(101.37 320.68 224.41)"/>
<ellipse cx="352.23" cy="301.73" rx="8.02" ry="5.04" fill="#d08040" opacity="0.88" transform="rotate(91.12 352.23 301.73)"/>
<ellipse cx="287.15" cy="210.81" rx="10.84" ry="7.79" fill="#9050d0" opacity="0.88" transform="rotate(152.53 287.15 210.81)"/>
<ellipse cx="187.64" cy="313.8" rx="8.08" ry="5.77" fill="#30b0b0" opacity="0.88" transform="rotate(52.53 187.64 313.8)"/>
<ellipse cx="202.25" cy="314.89" rx="11.02" ry="8.97" fill="#b0b030" opacity="0.88" transform="rotate(113.33 202.25 314.89)"/>
<ellipse cx="314.78" cy="224.25" rx="10.52" ry="8.57" fill="#8030b0" opacity="0.88" transform="rotate(120.81 314.78 224.25)"/>
<ellipse cx="258.83" cy="345.81" rx="10.18" ry="7.05" fill="#6038b0" opacity="0.88" transform="rotate(122.23 258.83 345.81)"/>
<ellipse cx="338.63" cy="258.13" rx="8.11" ry="6.34" fill="#30a050" opacity="0.88" transform="rotate(30.8 338.63 258.13)"/>
<ellipse cx="187.09" cy="244.4" rx="10.16" ry="8.68" fill="#60c060" opacity="0.88" transform="rotate(15.2 187.09 244.4)"/>
<ellipse cx="352.8" cy="255.2" rx="9.89" ry="8.44" fill="#60c060" opacity="0.88" transform="rotate(32.8 352.8 255.2)"/>
<ellipse cx="342.42" cy="258.8" rx="8.82" ry="8.14" fill="#c05838" opacity="0.88" transform="rotate(26.29 342.42 258.8)"/>
<ellipse cx="338.42" cy="250" rx="10.76" ry="5.66" fill="#c0a030" opacity="0.88" transform="rotate(61.72 338.42 250)"/>
<ellipse cx="221.93" cy="222.24" rx="10.08" ry="5.72" fill="#2a4a80" opacity="0.88" transform="rotate(176.47 221.93 222.24)"/>
<ellipse cx="356.14" cy="291.7" rx="11.8" ry="6.35" fill="#c0a030" opacity="0.88" transform="rotate(143.21 356.14 291.7)"/>
<ellipse cx="182.78" cy="282.04" rx="11.36" ry="6.61" fill="#805030" opacity="0.88" transform="rotate(103.66 182.78 282.04)"/>
<ellipse cx="313.3" cy="325.12" rx="7.53" ry="8.37" fill="#c04080" opacity="0.88" transform="rotate(71.72 313.3 325.12)"/>
<ellipse cx="206.84" cy="216.41" rx="11.57" ry="8.54" fill="#8030b0" opacity="0.88" transform="rotate(74.05 206.84 216.41)"/>
<ellipse cx="212.37" cy="229.86" rx="11.76" ry="7.83" fill="#6038b0" opacity="0.88" transform="rotate(43.44 212.37 229.86)"/>
<ellipse cx="252.32" cy="338.85" rx="10.36" ry="5.93" fill="#b0b030" opacity="0.88" transform="rotate(139.98 252.32 338.85)"/>
<ellipse cx="198.56" cy="315.76" rx="12.67" ry="8.62" fill="#207880" opacity="0.88" transform="rotate(56.35 198.56 315.76)"/>
<ellipse cx="304.85" cy="223.52" rx="11.95" ry="7.74" fill="#2e9e78" opacity="0.88" transform="rotate(173.1 304.85 223.52)"/>
<ellipse cx="329.66" cy="306.15" rx="10.99" ry="8.63" fill="#d04040" opacity="0.88" transform="rotate(84.49 329.66 306.15)"/>
<ellipse cx="284.88" cy="204.28" rx="8.98" ry="5.91" fill="#6038b0" opacity="0.88" transform="rotate(13.61 284.88 204.28)"/>
<ellipse cx="306.91" cy="226.79" rx="11.5" ry="5.31" fill="#a03080" opacity="0.88" transform="rotate(113.18 306.91 226.79)"/>
<ellipse cx="162.55" cy="260.58" rx="10.08" ry="6.96" fill="#805030" opacity="0.88" transform="rotate(135.42 162.55 260.58)"/>
<ellipse cx="82.59" cy="379.75" rx="5" ry="4" fill="#c0a030" opacity="0.85"/>
<ellipse cx="483.48" cy="339.15" rx="5" ry="4" fill="#50b0d0" opacity="0.85"/>
<ellipse cx="105.5" cy="376.4" rx="5" ry="4" fill="#30a050" opacity="0.85"/>
<ellipse cx="148.12" cy="104.81" rx="5" ry="4" fill="#c05838" opacity="0.85"/>
<ellipse cx="334.23" cy="103.22" rx="5" ry="4" fill="#40a890" opacity="0.85"/>
<ellipse cx="309.39" cy="285.01" rx="5" ry="4" fill="#b0b030" opacity="0.85"/>
<ellipse cx="108.85" cy="60.93" rx="5" ry="4" fill="#c0a030" opacity="0.85"/>
<ellipse cx="150.63" cy="52.83" rx="5" ry="4" fill="#4060d0" opacity="0.85"/>
<ellipse cx="467.94" cy="413.53" rx="5" ry="4" fill="#8030b0" opacity="0.85"/>
<ellipse cx="353.79" cy="393.48" rx="5" ry="4" fill="#30a050" opacity="0.85"/>
<ellipse cx="468.92" cy="376.74" rx="5" ry="4" fill="#3070c0" opacity="0.85"/>
<ellipse cx="182.59" cy="181.96" rx="5" ry="4" fill="#50b0d0" opacity="0.85"/>
</svg>
<text x="451.8" y="96.2" font-size="7.8" font-weight="bold" fill="#000" opacity=".4" stroke="#000" stroke-width="1.2" stroke-opacity=".3">GM</text>
<text x="451.8" y="96.2" font-size="7.8" font-weight="bold" fill="#fff">GM</text>
<rect x="509.6" y="93.8" width="15.6" height="2.4" fill="#fff"/>
<rect x="449.6" y="19.5" width="78.4" height="78" fill="none" stroke="#2b2b2b" stroke-width=".7"/>
<svg x="11" y="123.75" width="78.6" height="78" viewBox="0 0 506.18 502.32" preserveAspectRatio="none" overflow="hidden">
<rect width="520" height="520" fill="#8e8e8e"/>
<path d="M0,0 L186,0 C184,60 176,110 150,160 C110,215 55,255 0,300Z" fill="#666"/>
<path d="M0,0 L186,0 C184,60 176,110 150,160 C110,215 55,255 0,300Z" fill="url(#kC)"/>
<path d="M298,0 L520,0 L520,292 C450,272 380,232 330,190 C300,150 296,80 298,0Z" fill="#666"/>
<path d="M298,0 L520,0 L520,292 C450,272 380,232 330,190 C300,150 296,80 298,0Z" fill="url(#kA)"/>
<path d="M0,412 C60,386 140,362 225,358 C290,360 350,392 400,416 C440,434 480,448 520,460 L520,520 L0,520Z" fill="#666"/>
<path d="M0,412 C60,386 140,362 225,358 C290,360 350,392 400,416 C440,434 480,448 520,460 L520,520 L0,520Z" fill="url(#kB)"/>
<rect width="520" height="520" filter="url(#nzi)" opacity="0.32" style="mix-blend-mode:overlay"/>
<path d="M120,330 C170,306 250,310 300,342 L292,364 C240,340 178,338 128,352Z" fill="#2e2e2e" opacity=".85"/>
<path d="M330,300 C380,320 440,335 500,350 L500,372 C430,356 370,340 322,318Z" fill="#6a6a6a" opacity=".7"/>
<path d="M238,0 C244,80 228,160 214,250" fill="none" stroke="#efefef" stroke-width="13"/>
<path d="M200,0 C204,70 196,130 170,175" fill="none" stroke="#efefef" stroke-width="7"/>
<path d="M0,368 C60,332 130,292 214,262" fill="none" stroke="#efefef" stroke-width="15"/>
<path d="M214,256 C300,318 400,352 520,396" fill="none" stroke="#efefef" stroke-width="15"/>
<path d="M0,408 C90,366 210,340 300,368 C360,392 440,432 520,456" fill="none" stroke="#efefef" stroke-width="7"/>
<path d="M160,172 C120,222 60,262 0,302" fill="none" stroke="#dcdcdc" stroke-width="7"/>
<path d="M296,0 C296,80 300,150 332,192 C380,232 450,272 520,292" fill="none" stroke="#d8d8d8" stroke-width="6"/>
<path d="M128.5,41.1Q125.4,56.0 117.7,65.1Q109.9,74.2 99.4,76.8Q88.8,79.4 78.6,89.8Q68.4,100.2 59.9,89.9Q51.5,79.6 45.0,72.4Q38.4,65.2 36.0,55.4Q33.5,45.6 37.4,34.1Q41.2,22.5 53.9,12.1Q66.6,1.7 81.0,11.2Q95.4,20.7 113.4,23.5Q131.5,26.3 128.5,41.1Z" fill="#f0f0f0"/>
<path d="M136.1,69.2Q140.7,78.0 131.5,83.1Q122.4,88.1 116.2,89.0Q110.0,89.8 104.3,88.6Q98.7,87.3 90.3,82.6Q82.0,78.0 87.6,71.1Q93.2,64.3 101.6,59.1Q110.0,54.0 120.7,57.2Q131.4,60.5 136.1,69.2Z" fill="#eaeaea"/>
<ellipse cx="196" cy="232" rx="20" ry="24" fill="#bcbcbc" opacity="1"/>
<ellipse cx="196" cy="232" rx="12" ry="16" fill="none" stroke="#f2f2f2" stroke-width="4"/>
<ellipse cx="480" cy="384" rx="26" ry="24" fill="#e4e4e4" opacity="1"/>
<ellipse cx="480" cy="384" rx="13" ry="12" fill="none" stroke="#8a8a8a" stroke-width="4"/>
<ellipse cx="225.72" cy="103.7" rx="7.87" ry="6.74" fill="#282828" opacity="0.9"/>
<ellipse cx="210.75" cy="108.34" rx="10.61" ry="10.81" fill="#7a68c0" opacity="0.9"/>
<ellipse cx="194.63" cy="95.59" rx="10.87" ry="11.78" fill="#2060a8" opacity="0.9"/>
<ellipse cx="206.22" cy="130.72" rx="8.89" ry="7.73" fill="#3898b0" opacity="0.9"/>
<ellipse cx="254.65" cy="105.62" rx="7.66" ry="8.26" fill="#0f7878" opacity="0.9"/>
<ellipse cx="219.42" cy="55.87" rx="8.53" ry="8.62" fill="#0f7878" opacity="0.9"/>
<ellipse cx="213.46" cy="77.49" rx="9.33" ry="8.72" fill="#2f9080" opacity="0.9"/>
<ellipse cx="203.82" cy="145.96" rx="10.11" ry="9.82" fill="#8850b0" opacity="0.9"/>
<ellipse cx="236.51" cy="46.81" rx="11.32" ry="11.54" fill="#908a30" opacity="0.9"/>
<ellipse cx="230.72" cy="126.91" rx="9.81" ry="8.89" fill="#8a2f78" opacity="0.9"/>
<ellipse cx="195.29" cy="83.72" rx="12.44" ry="13.11" fill="#4a38b8" opacity="0.9"/>
<ellipse cx="233.28" cy="82.75" rx="10.94" ry="10.34" fill="#7a68c0" opacity="0.9"/>
<ellipse cx="233.55" cy="126.92" rx="9.21" ry="8.14" fill="#908a30" opacity="0.9"/>
<ellipse cx="232.2" cy="144.44" rx="9.26" ry="9.47" fill="#3a8a3a" opacity="0.9"/>
<ellipse cx="226.26" cy="119.89" rx="10.7" ry="11.56" fill="#6a981f" opacity="0.9"/>
<ellipse cx="207.8" cy="116.15" rx="10.42" ry="10.69" fill="#2f9080" opacity="0.9"/>
<ellipse cx="211.49" cy="35.41" rx="10.87" ry="10.25" fill="#b0403a" opacity="0.9"/>
<ellipse cx="255.77" cy="122.51" rx="12.27" ry="11.63" fill="#a85038" opacity="0.9"/>
<ellipse cx="241.27" cy="114.5" rx="7.64" ry="7.28" fill="#8850b0" opacity="0.9"/>
<ellipse cx="183.19" cy="20.16" rx="12.8" ry="11.08" fill="#3898b0" opacity="0.9"/>
<ellipse cx="90.18" cy="23.12" rx="11.73" ry="11.77" fill="#1f8f4f" opacity="0.9"/>
<ellipse cx="81.84" cy="19.74" rx="9.96" ry="8.72" fill="#8850b0" opacity="0.9"/>
<ellipse cx="253.4" cy="231.07" rx="11.5" ry="10.12" fill="#1f8f4f" opacity="0.9"/>
<ellipse cx="287.91" cy="190.06" rx="8.6" ry="8.9" fill="#3a8a3a" opacity="0.9"/>
<ellipse cx="280.75" cy="195.6" rx="11.36" ry="10.63" fill="#282828" opacity="0.9"/>
<ellipse cx="316.7" cy="213.61" rx="12.3" ry="11.6" fill="#c07a48" opacity="0.9"/>
<ellipse cx="274.13" cy="254.87" rx="8.32" ry="7.55" fill="#58a878" opacity="0.9"/>
<ellipse cx="297.28" cy="200.52" rx="9.94" ry="9.93" fill="#3898b0" opacity="0.9"/>
<ellipse cx="275.37" cy="241.34" rx="8.54" ry="7.91" fill="#8a2f78" opacity="0.9"/>
<ellipse cx="306.96" cy="227.72" rx="9.78" ry="9.02" fill="#6a981f" opacity="0.9"/>
<ellipse cx="262.04" cy="192.4" rx="8.16" ry="7.49" fill="#3a8a3a" opacity="0.9"/>
<ellipse cx="296.16" cy="212.49" rx="10.56" ry="10.21" fill="#a85038" opacity="0.9"/>
<ellipse cx="268.68" cy="246.06" rx="10.95" ry="11.02" fill="#8a2f78" opacity="0.9"/>
<ellipse cx="296.52" cy="199.9" rx="10.15" ry="10.56" fill="#2f9080" opacity="0.9"/>
<ellipse cx="293.59" cy="188.73" rx="8.51" ry="8.17" fill="#8850b0" opacity="0.9"/>
<ellipse cx="279.67" cy="257.54" rx="8.55" ry="7.41" fill="#2f9080" opacity="0.9"/>
<ellipse cx="297.54" cy="180.95" rx="8.09" ry="8.15" fill="#4a38b8" opacity="0.9"/>
<ellipse cx="251.27" cy="218.74" rx="12.78" ry="13.09" fill="#6a981f" opacity="0.9"/>
<ellipse cx="264.72" cy="241.45" rx="12.96" ry="11.05" fill="#7a68c0" opacity="0.9"/>
<ellipse cx="257.35" cy="158.44" rx="12.63" ry="13.28" fill="#4a38b8" opacity="0.9"/>
<ellipse cx="270.91" cy="180.76" rx="8.49" ry="7.36" fill="#6a981f" opacity="0.9"/>
<ellipse cx="283.09" cy="190.41" rx="10.62" ry="11.35" fill="#2a4098" opacity="0.9"/>
<ellipse cx="255.63" cy="247.04" rx="10.88" ry="10.55" fill="#a83a58" opacity="0.9"/>
<ellipse cx="262.4" cy="256.25" rx="11.73" ry="11.89" fill="#0f7878" opacity="0.9"/>
<ellipse cx="311.79" cy="269.35" rx="12.83" ry="12.1" fill="#3898b0" opacity="0.9"/>
<ellipse cx="281.67" cy="266.59" rx="11.07" ry="9.66" fill="#2f9080" opacity="0.9"/>
<ellipse cx="324.47" cy="250.11" rx="11.36" ry="11.45" fill="#58a878" opacity="0.9"/>
<ellipse cx="299.34" cy="286.81" rx="8.34" ry="8.89" fill="#7a68c0" opacity="0.9"/>
<ellipse cx="481.15" cy="293.77" rx="10.43" ry="11.15" fill="#3898b0" opacity="0.9"/>
<ellipse cx="261.84" cy="295.28" rx="10.37" ry="9.07" fill="#3898b0" opacity="0.9"/>
<ellipse cx="463.46" cy="299.16" rx="11.74" ry="10.8" fill="#3a8a3a" opacity="0.9"/>
<ellipse cx="291.34" cy="288.03" rx="8.5" ry="9.35" fill="#a83a58" opacity="0.9"/>
<ellipse cx="336.68" cy="250.44" rx="7.78" ry="7.05" fill="#58a878" opacity="0.9"/>
<ellipse cx="358.81" cy="261.95" rx="9.53" ry="9.85" fill="#8a2f78" opacity="0.9"/>
<ellipse cx="285.54" cy="266.68" rx="11.27" ry="11.92" fill="#0f7878" opacity="0.9"/>
<ellipse cx="313.71" cy="242.9" rx="10.13" ry="9.13" fill="#4a38b8" opacity="0.9"/>
<ellipse cx="362.46" cy="296.18" rx="12.39" ry="12.55" fill="#2f9080" opacity="0.9"/>
<ellipse cx="269.31" cy="288.21" rx="11.4" ry="11.04" fill="#58a878" opacity="0.9"/>
<ellipse cx="454.58" cy="283.82" rx="9.2" ry="8.92" fill="#2a4098" opacity="0.9"/>
<ellipse cx="333.19" cy="217.95" rx="7.98" ry="8.15" fill="#2a4098" opacity="0.9"/>
<ellipse cx="417.21" cy="260.9" rx="12.21" ry="10.57" fill="#2060a8" opacity="0.9"/>
<ellipse cx="322.57" cy="247.45" rx="8.39" ry="7.36" fill="#58a878" opacity="0.9"/>
<ellipse cx="340.53" cy="268.16" rx="8.42" ry="8.05" fill="#a85038" opacity="0.9"/>
<ellipse cx="399.61" cy="293.89" rx="9.63" ry="8.88" fill="#1f8f4f" opacity="0.9"/>
<ellipse cx="386.17" cy="236.22" rx="9.17" ry="8.75" fill="#2060a8" opacity="0.9"/>
<ellipse cx="316.95" cy="231.66" rx="11.09" ry="10.61" fill="#1f8f4f" opacity="0.9"/>
<ellipse cx="313.92" cy="264.33" rx="12.54" ry="13.16" fill="#908a30" opacity="0.9"/>
<ellipse cx="388.29" cy="254.7" rx="10.59" ry="10.71" fill="#2a4098" opacity="0.9"/>
<ellipse cx="343.4" cy="242.49" rx="7.87" ry="7.48" fill="#8850b0" opacity="0.9"/>
<ellipse cx="317.66" cy="227.15" rx="12.23" ry="11.57" fill="#4a38b8" opacity="0.9"/>
<ellipse cx="305.65" cy="268.55" rx="8.09" ry="7.66" fill="#2a4098" opacity="0.9"/>
<ellipse cx="321.49" cy="215.46" rx="12.47" ry="12.32" fill="#a85038" opacity="0.9"/>
<ellipse cx="314.31" cy="251.08" rx="7.75" ry="8.02" fill="#8a2f78" opacity="0.9"/>
<ellipse cx="274.1" cy="287.73" rx="9.43" ry="8.41" fill="#8850b0" opacity="0.9"/>
<ellipse cx="429.65" cy="265.66" rx="9.31" ry="7.97" fill="#1f8f4f" opacity="0.9"/>
<ellipse cx="408.77" cy="252.87" rx="7.97" ry="7.06" fill="#a85038" opacity="0.9"/>
<ellipse cx="313.12" cy="235.32" rx="10.97" ry="9.93" fill="#282828" opacity="0.9"/>
<ellipse cx="311.05" cy="226.83" rx="9.91" ry="10.69" fill="#1f8f4f" opacity="0.9"/>
<ellipse cx="304.7" cy="255.22" rx="8.71" ry="9.32" fill="#a85038" opacity="0.9"/>
<ellipse cx="443.32" cy="266.14" rx="12.66" ry="11.08" fill="#a83a58" opacity="0.9"/>
<ellipse cx="464.7" cy="278.74" rx="9.94" ry="9.01" fill="#6a981f" opacity="0.9"/>
<ellipse cx="354.02" cy="235.11" rx="8.02" ry="8.71" fill="#6a981f" opacity="0.9"/>
<ellipse cx="326.03" cy="318.86" rx="11.36" ry="10.44" fill="#2a4098" opacity="0.9"/>
<ellipse cx="319.39" cy="316.23" rx="7.85" ry="7.27" fill="#2f9080" opacity="0.9"/>
<ellipse cx="323.11" cy="304.39" rx="9.99" ry="9.84" fill="#4a38b8" opacity="0.9"/>
<ellipse cx="316.01" cy="300.12" rx="12.62" ry="12.79" fill="#2060a8" opacity="0.9"/>
<ellipse cx="367.88" cy="310.94" rx="7.65" ry="8.29" fill="#4a38b8" opacity="0.9"/>
<ellipse cx="399.16" cy="298.23" rx="11.83" ry="12.49" fill="#7a68c0" opacity="0.9"/>
<ellipse cx="471.65" cy="309.94" rx="11.24" ry="9.87" fill="#282828" opacity="0.9"/>
<ellipse cx="461.83" cy="334.21" rx="9.51" ry="10.3" fill="#58a878" opacity="0.9"/>
<ellipse cx="392.02" cy="318.85" rx="9.86" ry="10.27" fill="#8850b0" opacity="0.9"/>
<ellipse cx="337.74" cy="300.72" rx="9.22" ry="10" fill="#c07a48" opacity="0.9"/>
<ellipse cx="404.78" cy="322.12" rx="9.59" ry="8.86" fill="#58a878" opacity="0.9"/>
<ellipse cx="501.1" cy="311.84" rx="8.64" ry="7.97" fill="#58a878" opacity="0.9"/>
<ellipse cx="480.89" cy="308.27" rx="9.53" ry="8.86" fill="#3a8a3a" opacity="0.9"/>
<ellipse cx="447.22" cy="312.17" rx="12.38" ry="12.55" fill="#0f7878" opacity="0.9"/>
<ellipse cx="439.96" cy="307.72" rx="9.5" ry="8.26" fill="#908a30" opacity="0.9"/>
<ellipse cx="345.04" cy="313.08" rx="9.6" ry="10.42" fill="#1f8f4f" opacity="0.9"/>
<ellipse cx="430.05" cy="329.82" rx="9.42" ry="10.27" fill="#a85038" opacity="0.9"/>
<ellipse cx="429.95" cy="308.19" rx="11.1" ry="11.2" fill="#b07030" opacity="0.9"/>
<ellipse cx="32.25" cy="283.62" rx="10.94" ry="10.59" fill="#58a878" opacity="0.9"/>
<ellipse cx="131.22" cy="178.22" rx="8.14" ry="7.69" fill="#c07a48" opacity="0.9"/>
<ellipse cx="151.9" cy="188.63" rx="8.19" ry="8.17" fill="#6840a8" opacity="0.9"/>
<ellipse cx="67.82" cy="251.33" rx="9.81" ry="8.41" fill="#a83a58" opacity="0.9"/>
<ellipse cx="19.54" cy="255.5" rx="7.81" ry="8.1" fill="#3a8a3a" opacity="0.9"/>
<ellipse cx="92.81" cy="224.38" rx="7.72" ry="7.37" fill="#2f9080" opacity="0.9"/>
<ellipse cx="165.41" cy="181.93" rx="7.96" ry="7.9" fill="#2060a8" opacity="0.9"/>
<ellipse cx="164.72" cy="191.97" rx="8.06" ry="7.1" fill="#2f9080" opacity="0.9"/>
<ellipse cx="60.09" cy="265.03" rx="7.66" ry="7.65" fill="#3898b0" opacity="0.9"/>
<ellipse cx="159.68" cy="161.42" rx="12.05" ry="10.94" fill="#6840a8" opacity="0.9"/>
<ellipse cx="87.58" cy="241.13" rx="10.96" ry="11.42" fill="#8850b0" opacity="0.9"/>
<ellipse cx="76.51" cy="236.12" rx="8.79" ry="8.52" fill="#2a4098" opacity="0.9"/>
<ellipse cx="38.8" cy="252.82" rx="8.93" ry="7.8" fill="#8a2f78" opacity="0.9"/>
<ellipse cx="59.8" cy="228.74" rx="12.88" ry="13.12" fill="#908a30" opacity="0.9"/>
<ellipse cx="57.19" cy="261.24" rx="12.36" ry="12.64" fill="#2060a8" opacity="0.9"/>
<ellipse cx="55.44" cy="245.13" rx="9.64" ry="9.49" fill="#282828" opacity="0.9"/>
<ellipse cx="106.03" cy="223.2" rx="9.79" ry="10.22" fill="#282828" opacity="0.9"/>
<ellipse cx="65.09" cy="381.17" rx="12.58" ry="11.65" fill="#7a68c0" opacity="0.9"/>
<ellipse cx="162.41" cy="370.7" rx="12.51" ry="10.98" fill="#282828" opacity="0.9"/>
<ellipse cx="217.28" cy="339.61" rx="10.34" ry="10.98" fill="#282828" opacity="0.9"/>
<ellipse cx="201.56" cy="345.39" rx="12.86" ry="13.62" fill="#4a38b8" opacity="0.9"/>
<ellipse cx="230.5" cy="363.81" rx="8.33" ry="7.79" fill="#7a68c0" opacity="0.9"/>
<ellipse cx="46.06" cy="379.25" rx="8.26" ry="7.42" fill="#282828" opacity="0.9"/>
<ellipse cx="136.27" cy="356.3" rx="12.08" ry="12.26" fill="#282828" opacity="0.9"/>
<ellipse cx="294.78" cy="362.39" rx="9.59" ry="8.55" fill="#a83a58" opacity="0.9"/>
<ellipse cx="290.1" cy="352.34" rx="10.58" ry="9.07" fill="#2f9080" opacity="0.9"/>
<ellipse cx="223.53" cy="361.69" rx="11.04" ry="11.79" fill="#4a38b8" opacity="0.9"/>
<ellipse cx="67.01" cy="365.25" rx="12.65" ry="11.06" fill="#1f8f4f" opacity="0.9"/>
<ellipse cx="233.11" cy="350.42" rx="9" ry="8.6" fill="#8850b0" opacity="0.9"/>
<ellipse cx="235.81" cy="365.96" rx="12.32" ry="12.94" fill="#4a38b8" opacity="0.9"/>
<ellipse cx="214.96" cy="341.74" rx="12.07" ry="12.98" fill="#2060a8" opacity="0.9"/>
<ellipse cx="59.92" cy="380.71" rx="8.9" ry="8" fill="#2f9080" opacity="0.9"/>
<ellipse cx="176.41" cy="357.39" rx="12.52" ry="12.52" fill="#8850b0" opacity="0.9"/>
<ellipse cx="39.72" cy="361" rx="8.77" ry="8.76" fill="#0f7878" opacity="0.9"/>
<ellipse cx="225.97" cy="369.26" rx="10.73" ry="11.49" fill="#c07a48" opacity="0.9"/>
<ellipse cx="216.59" cy="361.71" rx="9" ry="9.47" fill="#8850b0" opacity="0.9"/>
<ellipse cx="245.21" cy="355.54" rx="11.91" ry="12.11" fill="#2a4098" opacity="0.9"/>
<ellipse cx="99.54" cy="363.72" rx="7.58" ry="6.65" fill="#282828" opacity="0.9"/>
<ellipse cx="121.29" cy="370.35" rx="9.5" ry="9.84" fill="#2a4098" opacity="0.9"/>
<ellipse cx="283.16" cy="357.83" rx="9.28" ry="9.4" fill="#908a30" opacity="0.9"/>
<ellipse cx="130.54" cy="374.6" rx="8.08" ry="7.28" fill="#58a878" opacity="0.9"/>
<ellipse cx="245.29" cy="365.47" rx="9.63" ry="9.94" fill="#282828" opacity="0.9"/>
<ellipse cx="116.38" cy="375.21" rx="7.77" ry="6.69" fill="#b0403a" opacity="0.9"/>
<ellipse cx="143.17" cy="367.71" rx="9.37" ry="8.3" fill="#a85038" opacity="0.9"/>
<ellipse cx="108.6" cy="385.85" rx="12.63" ry="12.41" fill="#8a2f78" opacity="0.9"/>
<ellipse cx="119.66" cy="351.39" rx="8.49" ry="8.01" fill="#1f8f4f" opacity="0.9"/>
<ellipse cx="168.23" cy="351.19" rx="7.58" ry="6.96" fill="#6840a8" opacity="0.9"/>
<ellipse cx="371.59" cy="386.8" rx="10.66" ry="9.24" fill="#2060a8" opacity="0.9"/>
<ellipse cx="327.28" cy="358.15" rx="12.26" ry="11.21" fill="#4a38b8" opacity="0.9"/>
<ellipse cx="341.17" cy="360.37" rx="9.97" ry="9.74" fill="#b0403a" opacity="0.9"/>
<ellipse cx="314.26" cy="357.52" rx="8.19" ry="7.95" fill="#2a4098" opacity="0.9"/>
<ellipse cx="370.68" cy="388.57" rx="11.71" ry="10.2" fill="#a83a58" opacity="0.9"/>
<ellipse cx="400.71" cy="387.41" rx="8.75" ry="8.53" fill="#1f8f4f" opacity="0.9"/>
<ellipse cx="357.27" cy="387.14" rx="8.22" ry="7.28" fill="#b0403a" opacity="0.9"/>
<ellipse cx="386.62" cy="387.46" rx="10" ry="11" fill="#b0403a" opacity="0.9"/>
<ellipse cx="397.5" cy="396.65" rx="11.85" ry="10.32" fill="#3898b0" opacity="0.9"/>
<ellipse cx="398" cy="398" rx="15" ry="12.8" fill="#6a981f" opacity="0.9"/>
</svg>
<text x="13.2" y="200.45" font-size="7.8" font-weight="bold" fill="#000" opacity=".4" stroke="#000" stroke-width="1.2" stroke-opacity=".3">SM</text>
<text x="13.2" y="200.45" font-size="7.8" font-weight="bold" fill="#fff">SM</text>
<rect x="71" y="198.05" width="15.6" height="2.4" fill="#fff"/>
<rect x="11" y="123.75" width="78.6" height="78" fill="none" stroke="#2b2b2b" stroke-width=".7"/>
<svg x="92.5" y="123.75" width="78.6" height="78" viewBox="0 0 506.18 502.32" preserveAspectRatio="none" overflow="hidden">
<rect width="520" height="520" fill="#8e8e8e"/>
<path d="M0,0 L186,0 C184,60 176,110 150,160 C110,215 55,255 0,300Z" fill="#666"/>
<path d="M0,0 L186,0 C184,60 176,110 150,160 C110,215 55,255 0,300Z" fill="url(#kC)"/>
<path d="M298,0 L520,0 L520,292 C450,272 380,232 330,190 C300,150 296,80 298,0Z" fill="#666"/>
<path d="M298,0 L520,0 L520,292 C450,272 380,232 330,190 C300,150 296,80 298,0Z" fill="url(#kA)"/>
<path d="M0,412 C60,386 140,362 225,358 C290,360 350,392 400,416 C440,434 480,448 520,460 L520,520 L0,520Z" fill="#666"/>
<path d="M0,412 C60,386 140,362 225,358 C290,360 350,392 400,416 C440,434 480,448 520,460 L520,520 L0,520Z" fill="url(#kB)"/>
<rect width="520" height="520" filter="url(#nzi)" opacity="0.32" style="mix-blend-mode:overlay"/>
<path d="M120,330 C170,306 250,310 300,342 L292,364 C240,340 178,338 128,352Z" fill="#2e2e2e" opacity=".85"/>
<path d="M330,300 C380,320 440,335 500,350 L500,372 C430,356 370,340 322,318Z" fill="#6a6a6a" opacity=".7"/>
<path d="M238,0 C244,80 228,160 214,250" fill="none" stroke="#efefef" stroke-width="13"/>
<path d="M200,0 C204,70 196,130 170,175" fill="none" stroke="#efefef" stroke-width="7"/>
<path d="M0,368 C60,332 130,292 214,262" fill="none" stroke="#efefef" stroke-width="15"/>
<path d="M214,256 C300,318 400,352 520,396" fill="none" stroke="#efefef" stroke-width="15"/>
<path d="M0,408 C90,366 210,340 300,368 C360,392 440,432 520,456" fill="none" stroke="#efefef" stroke-width="7"/>
<path d="M160,172 C120,222 60,262 0,302" fill="none" stroke="#dcdcdc" stroke-width="7"/>
<path d="M296,0 C296,80 300,150 332,192 C380,232 450,272 520,292" fill="none" stroke="#d8d8d8" stroke-width="6"/>
<path d="M113.8,43.9Q106.2,56.0 105.3,63.6Q104.5,71.3 99.4,80.3Q94.3,89.4 81.3,95.3Q68.2,101.1 60.7,89.5Q53.2,77.9 48.4,70.9Q43.5,64.0 41.4,55.5Q39.3,47.0 38.9,33.4Q38.4,19.9 54.7,23.4Q71.0,27.0 85.3,20.0Q99.6,13.0 110.5,22.3Q121.4,31.7 113.8,43.9Z" fill="#f0f0f0"/>
<path d="M128.3,69.4Q125.6,78.0 125.8,84.5Q126.0,91.1 118.0,93.2Q110.0,95.2 102.8,92.5Q95.5,89.8 87.4,83.9Q79.3,78.0 89.4,73.7Q99.5,69.4 104.8,68.2Q110.0,66.9 120.5,63.9Q131.0,60.8 128.3,69.4Z" fill="#eaeaea"/>
<ellipse cx="196" cy="232" rx="20" ry="24" fill="#bcbcbc" opacity="1"/>
<ellipse cx="196" cy="232" rx="12" ry="16" fill="none" stroke="#f2f2f2" stroke-width="4"/>
<ellipse cx="480" cy="384" rx="26" ry="24" fill="#e4e4e4" opacity="1"/>
<ellipse cx="480" cy="384" rx="13" ry="12" fill="none" stroke="#8a8a8a" stroke-width="4"/>
<ellipse cx="243.34" cy="66.39" rx="9.32" ry="8.77" fill="#3898b0" opacity="0.9"/>
<ellipse cx="238.25" cy="40.57" rx="10.72" ry="10.58" fill="#6840a8" opacity="0.9"/>
<ellipse cx="241.49" cy="126.78" rx="8.62" ry="9.13" fill="#6a981f" opacity="0.9"/>
<ellipse cx="199.8" cy="21.44" rx="12.28" ry="12.43" fill="#8a2f78" opacity="0.9"/>
<ellipse cx="223.7" cy="42.37" rx="9.52" ry="8.88" fill="#3898b0" opacity="0.9"/>
<ellipse cx="240.56" cy="77.72" rx="9.11" ry="9.05" fill="#8850b0" opacity="0.9"/>
<ellipse cx="205.32" cy="105.66" rx="12.79" ry="13.99" fill="#3a8a3a" opacity="0.9"/>
<ellipse cx="243.83" cy="119.7" rx="8.47" ry="8.52" fill="#c07a48" opacity="0.9"/>
<ellipse cx="245.55" cy="126.13" rx="8.45" ry="7.25" fill="#58a878" opacity="0.9"/>
<ellipse cx="191.75" cy="70.14" rx="11.18" ry="10.3" fill="#4a38b8" opacity="0.9"/>
<ellipse cx="194.92" cy="107.56" rx="8.58" ry="8.27" fill="#1f8f4f" opacity="0.9"/>
<ellipse cx="204.46" cy="77.91" rx="10.59" ry="9.31" fill="#3a8a3a" opacity="0.9"/>
<ellipse cx="223.24" cy="134.24" rx="12.78" ry="11.51" fill="#908a30" opacity="0.9"/>
<ellipse cx="205.45" cy="114.85" rx="10.12" ry="9.86" fill="#0f7878" opacity="0.9"/>
<ellipse cx="229.14" cy="51.26" rx="10.87" ry="10.97" fill="#6840a8" opacity="0.9"/>
<ellipse cx="233.07" cy="130.22" rx="11.89" ry="11.9" fill="#8850b0" opacity="0.9"/>
<ellipse cx="216.47" cy="149.04" rx="8.9" ry="9.27" fill="#8850b0" opacity="0.9"/>
<ellipse cx="254.85" cy="57.2" rx="9.56" ry="8.8" fill="#908a30" opacity="0.9"/>
<ellipse cx="259.61" cy="145.41" rx="10.62" ry="10.66" fill="#58a878" opacity="0.9"/>
<ellipse cx="213.3" cy="137.6" rx="12.71" ry="13.55" fill="#908a30" opacity="0.9"/>
<ellipse cx="86.09" cy="20.7" rx="10.32" ry="10.61" fill="#0f7878" opacity="0.9"/>
<ellipse cx="83.03" cy="20.29" rx="11.44" ry="11.05" fill="#b0403a" opacity="0.9"/>
<ellipse cx="275.47" cy="222.03" rx="10.37" ry="9.72" fill="#8a2f78" opacity="0.9"/>
<ellipse cx="253.31" cy="199.34" rx="10.69" ry="9.53" fill="#3a8a3a" opacity="0.9"/>
<ellipse cx="308.49" cy="217.78" rx="8.85" ry="9.48" fill="#8a2f78" opacity="0.9"/>
<ellipse cx="295.69" cy="222.06" rx="10.48" ry="9.54" fill="#b07030" opacity="0.9"/>
<ellipse cx="270.07" cy="189.16" rx="7.68" ry="7.71" fill="#b07030" opacity="0.9"/>
<ellipse cx="269.63" cy="193.27" rx="11.98" ry="11.27" fill="#6a981f" opacity="0.9"/>
<ellipse cx="251.62" cy="218.21" rx="11.39" ry="10.36" fill="#1f8f4f" opacity="0.9"/>
<ellipse cx="302.26" cy="228.04" rx="9.53" ry="9.93" fill="#a85038" opacity="0.9"/>
<ellipse cx="250.76" cy="168.82" rx="11.31" ry="12.13" fill="#b0403a" opacity="0.9"/>
<ellipse cx="254.74" cy="261.63" rx="8.5" ry="7.3" fill="#8850b0" opacity="0.9"/>
<ellipse cx="262.25" cy="278.93" rx="12.08" ry="13.23" fill="#b07030" opacity="0.9"/>
<ellipse cx="299.35" cy="217.37" rx="9.15" ry="9.87" fill="#282828" opacity="0.9"/>
<ellipse cx="305" cy="200.56" rx="12.83" ry="11.67" fill="#2060a8" opacity="0.9"/>
<ellipse cx="261.5" cy="226.54" rx="9.26" ry="8.09" fill="#282828" opacity="0.9"/>
<ellipse cx="306.08" cy="188.48" rx="12.48" ry="12.15" fill="#4a38b8" opacity="0.9"/>
<ellipse cx="275.74" cy="238.43" rx="12.22" ry="11.33" fill="#6a981f" opacity="0.9"/>
<ellipse cx="281.06" cy="201.92" rx="12.38" ry="12.89" fill="#6840a8" opacity="0.9"/>
<ellipse cx="263.99" cy="272.48" rx="11.38" ry="9.81" fill="#2a4098" opacity="0.9"/>
<ellipse cx="275.26" cy="267.24" rx="12.91" ry="13.54" fill="#6840a8" opacity="0.9"/>
<ellipse cx="303.66" cy="224.19" rx="11.68" ry="11.18" fill="#6840a8" opacity="0.9"/>
<ellipse cx="305.06" cy="214.73" rx="12.64" ry="11.46" fill="#b0403a" opacity="0.9"/>
<ellipse cx="292.93" cy="188.8" rx="10.21" ry="9.89" fill="#b07030" opacity="0.9"/>
<ellipse cx="410.31" cy="252" rx="11.27" ry="12.12" fill="#7a68c0" opacity="0.9"/>
<ellipse cx="320.14" cy="266.11" rx="7.99" ry="8.51" fill="#6840a8" opacity="0.9"/>
<ellipse cx="410.14" cy="293.64" rx="12.28" ry="12.34" fill="#8a2f78" opacity="0.9"/>
<ellipse cx="310.72" cy="241.8" rx="11.26" ry="11.94" fill="#6840a8" opacity="0.9"/>
<ellipse cx="409.28" cy="288.29" rx="11.63" ry="10.29" fill="#0f7878" opacity="0.9"/>
<ellipse cx="403.03" cy="291" rx="10.56" ry="11.05" fill="#b0403a" opacity="0.9"/>
<ellipse cx="476.59" cy="294.42" rx="9.19" ry="9.44" fill="#8a2f78" opacity="0.9"/>
<ellipse cx="357.19" cy="287.48" rx="8.76" ry="8.19" fill="#2a4098" opacity="0.9"/>
<ellipse cx="310.33" cy="277.48" rx="10.79" ry="11.38" fill="#2a4098" opacity="0.9"/>
<ellipse cx="324.9" cy="265.74" rx="8.74" ry="8" fill="#908a30" opacity="0.9"/>
<ellipse cx="476.44" cy="288.36" rx="11.4" ry="10.57" fill="#b0403a" opacity="0.9"/>
<ellipse cx="304.51" cy="256.79" rx="8.02" ry="8.42" fill="#c07a48" opacity="0.9"/>
<ellipse cx="393.8" cy="287.03" rx="8.29" ry="7.95" fill="#2060a8" opacity="0.9"/>
<ellipse cx="408.21" cy="293.8" rx="9.23" ry="9.79" fill="#c07a48" opacity="0.9"/>
<ellipse cx="337.53" cy="294.09" rx="11.29" ry="11.98" fill="#3898b0" opacity="0.9"/>
<ellipse cx="389.9" cy="255.14" rx="11.72" ry="10.73" fill="#c07a48" opacity="0.9"/>
<ellipse cx="373.53" cy="269.58" rx="9.93" ry="9.23" fill="#58a878" opacity="0.9"/>
<ellipse cx="440.93" cy="297.53" rx="7.91" ry="7.94" fill="#2060a8" opacity="0.9"/>
<ellipse cx="341.49" cy="231.2" rx="12.78" ry="13.17" fill="#2060a8" opacity="0.9"/>
<ellipse cx="304.44" cy="242.59" rx="8.45" ry="8.26" fill="#282828" opacity="0.9"/>
<ellipse cx="377.71" cy="264.43" rx="12.44" ry="13.13" fill="#1f8f4f" opacity="0.9"/>
<ellipse cx="345.87" cy="298.69" rx="11.69" ry="12.05" fill="#8850b0" opacity="0.9"/>
<ellipse cx="475.07" cy="285.75" rx="11.39" ry="11.79" fill="#282828" opacity="0.9"/>
<ellipse cx="304.99" cy="249.66" rx="8.24" ry="8.89" fill="#7a68c0" opacity="0.9"/>
<ellipse cx="329.54" cy="259.99" rx="7.86" ry="6.72" fill="#6840a8" opacity="0.9"/>
<ellipse cx="428.49" cy="284.79" rx="8.49" ry="7.37" fill="#2a4098" opacity="0.9"/>
<ellipse cx="414.74" cy="258.48" rx="12.8" ry="12.16" fill="#3a8a3a" opacity="0.9"/>
<ellipse cx="358.22" cy="293.49" rx="10.33" ry="9.2" fill="#6840a8" opacity="0.9"/>
<ellipse cx="415.89" cy="265.59" rx="9.67" ry="8.92" fill="#3a8a3a" opacity="0.9"/>
<ellipse cx="339.64" cy="267.46" rx="12.28" ry="12.3" fill="#a83a58" opacity="0.9"/>
<ellipse cx="400.72" cy="247.83" rx="12.96" ry="13.12" fill="#b07030" opacity="0.9"/>
<ellipse cx="367.01" cy="271.12" rx="8.83" ry="7.97" fill="#2f9080" opacity="0.9"/>
<ellipse cx="438.15" cy="285.14" rx="11.07" ry="9.7" fill="#b07030" opacity="0.9"/>
<ellipse cx="407.09" cy="265.99" rx="9.39" ry="8.36" fill="#b0403a" opacity="0.9"/>
<ellipse cx="289.66" cy="269.9" rx="9.03" ry="8.48" fill="#b07030" opacity="0.9"/>
<ellipse cx="388.71" cy="296.85" rx="11.44" ry="10.8" fill="#2a4098" opacity="0.9"/>
<ellipse cx="420.7" cy="258.5" rx="11.5" ry="9.82" fill="#c07a48" opacity="0.9"/>
<ellipse cx="352.85" cy="233.64" rx="12.73" ry="12.32" fill="#a85038" opacity="0.9"/>
<ellipse cx="408.48" cy="322.48" rx="12.72" ry="13.53" fill="#b0403a" opacity="0.9"/>
<ellipse cx="405.64" cy="315.63" rx="10.54" ry="8.96" fill="#0f7878" opacity="0.9"/>
<ellipse cx="441.48" cy="337.62" rx="12.69" ry="11.68" fill="#6a981f" opacity="0.9"/>
<ellipse cx="364.67" cy="306.69" rx="8.37" ry="8.38" fill="#6a981f" opacity="0.9"/>
<ellipse cx="346.43" cy="305.34" rx="8.77" ry="8.76" fill="#58a878" opacity="0.9"/>
<ellipse cx="415.36" cy="310.46" rx="8.93" ry="8.2" fill="#7a68c0" opacity="0.9"/>
<ellipse cx="480.47" cy="308.95" rx="9.68" ry="8.33" fill="#c07a48" opacity="0.9"/>
<ellipse cx="330.56" cy="289.18" rx="10.29" ry="10.39" fill="#6a981f" opacity="0.9"/>
<ellipse cx="458.33" cy="338.59" rx="8.44" ry="7.89" fill="#908a30" opacity="0.9"/>
<ellipse cx="428.89" cy="313.65" rx="12.35" ry="10.86" fill="#b07030" opacity="0.9"/>
<ellipse cx="423.47" cy="301.73" rx="8.69" ry="7.49" fill="#c07a48" opacity="0.9"/>
<ellipse cx="397.06" cy="304.41" rx="11.4" ry="11.86" fill="#6a981f" opacity="0.9"/>
<ellipse cx="414.41" cy="299.92" rx="7.68" ry="6.91" fill="#b07030" opacity="0.9"/>
<ellipse cx="332.57" cy="305.6" rx="7.98" ry="6.93" fill="#2060a8" opacity="0.9"/>
<ellipse cx="371.33" cy="319.67" rx="12.93" ry="12.04" fill="#a83a58" opacity="0.9"/>
<ellipse cx="466.63" cy="342.17" rx="7.77" ry="6.93" fill="#2a4098" opacity="0.9"/>
<ellipse cx="472.43" cy="338.96" rx="13" ry="12.66" fill="#7a68c0" opacity="0.9"/>
<ellipse cx="400.76" cy="320.77" rx="8.75" ry="8.58" fill="#2f9080" opacity="0.9"/>
<ellipse cx="152.76" cy="193.09" rx="12.06" ry="13.25" fill="#58a878" opacity="0.9"/>
<ellipse cx="104.47" cy="221.74" rx="8.31" ry="8.01" fill="#2060a8" opacity="0.9"/>
<ellipse cx="112.31" cy="215.67" rx="12.3" ry="12.58" fill="#6a981f" opacity="0.9"/>
<ellipse cx="116.33" cy="203.12" rx="11.65" ry="11.31" fill="#0f7878" opacity="0.9"/>
<ellipse cx="148.75" cy="194.21" rx="10.82" ry="10.27" fill="#a83a58" opacity="0.9"/>
<ellipse cx="36.53" cy="263.73" rx="8.33" ry="7.08" fill="#2060a8" opacity="0.9"/>
<ellipse cx="143.83" cy="179.68" rx="10.24" ry="10.61" fill="#8a2f78" opacity="0.9"/>
<ellipse cx="133.9" cy="211.72" rx="11.91" ry="12.22" fill="#1f8f4f" opacity="0.9"/>
<ellipse cx="30.54" cy="281.48" rx="11.18" ry="10.61" fill="#4a38b8" opacity="0.9"/>
<ellipse cx="148.41" cy="188.41" rx="9.55" ry="10.23" fill="#8a2f78" opacity="0.9"/>
<ellipse cx="37.26" cy="266.19" rx="9.83" ry="9.14" fill="#7a68c0" opacity="0.9"/>
<ellipse cx="53.06" cy="234.8" rx="11.88" ry="12.73" fill="#3898b0" opacity="0.9"/>
<ellipse cx="112.56" cy="220.43" rx="12.25" ry="10.53" fill="#4a38b8" opacity="0.9"/>
<ellipse cx="159.07" cy="189.06" rx="10.33" ry="10.32" fill="#b07030" opacity="0.9"/>
<ellipse cx="69.51" cy="258.65" rx="9.89" ry="9.87" fill="#7a68c0" opacity="0.9"/>
<ellipse cx="121.65" cy="218.54" rx="12.83" ry="14.1" fill="#282828" opacity="0.9"/>
<ellipse cx="70.49" cy="239.62" rx="11.08" ry="11.87" fill="#1f8f4f" opacity="0.9"/>
<ellipse cx="138.69" cy="382.21" rx="11.47" ry="10.88" fill="#7a68c0" opacity="0.9"/>
<ellipse cx="38.24" cy="363.16" rx="10.71" ry="9.92" fill="#2a4098" opacity="0.9"/>
<ellipse cx="152.38" cy="379.06" rx="9.89" ry="9.2" fill="#908a30" opacity="0.9"/>
<ellipse cx="68.94" cy="386.36" rx="11.59" ry="10.51" fill="#a85038" opacity="0.9"/>
<ellipse cx="272.72" cy="345.16" rx="9.89" ry="9.68" fill="#8850b0" opacity="0.9"/>
<ellipse cx="216.36" cy="357.49" rx="11.26" ry="9.84" fill="#7a68c0" opacity="0.9"/>
<ellipse cx="103.77" cy="385.06" rx="9.8" ry="10.74" fill="#0f7878" opacity="0.9"/>
<ellipse cx="114.52" cy="381.26" rx="12.33" ry="12.74" fill="#1f8f4f" opacity="0.9"/>
<ellipse cx="188.33" cy="345.15" rx="9.37" ry="9.26" fill="#2060a8" opacity="0.9"/>
<ellipse cx="206.46" cy="352.54" rx="8.59" ry="7.91" fill="#2f9080" opacity="0.9"/>
<ellipse cx="207.3" cy="354.65" rx="12.2" ry="10.88" fill="#282828" opacity="0.9"/>
<ellipse cx="230.47" cy="356.7" rx="12.19" ry="12.03" fill="#58a878" opacity="0.9"/>
<ellipse cx="114.47" cy="367.52" rx="10.04" ry="8.63" fill="#b0403a" opacity="0.9"/>
<ellipse cx="174.55" cy="376.45" rx="8.5" ry="8.78" fill="#0f7878" opacity="0.9"/>
<ellipse cx="148.58" cy="380.38" rx="9.28" ry="9.79" fill="#8850b0" opacity="0.9"/>
<ellipse cx="40.54" cy="373.35" rx="7.67" ry="8.28" fill="#4a38b8" opacity="0.9"/>
<ellipse cx="112.63" cy="355.99" rx="8.05" ry="8.77" fill="#3898b0" opacity="0.9"/>
<ellipse cx="45.91" cy="376.3" rx="12.6" ry="13.1" fill="#7a68c0" opacity="0.9"/>
<ellipse cx="110.59" cy="377.12" rx="9.38" ry="8.86" fill="#2060a8" opacity="0.9"/>
<ellipse cx="272.34" cy="349.19" rx="8.25" ry="8.11" fill="#8850b0" opacity="0.9"/>
<ellipse cx="261.28" cy="339.71" rx="9.4" ry="8.66" fill="#58a878" opacity="0.9"/>
<ellipse cx="189.24" cy="370.32" rx="11.41" ry="11.14" fill="#7a68c0" opacity="0.9"/>
<ellipse cx="271.19" cy="350.69" rx="7.79" ry="7.15" fill="#a85038" opacity="0.9"/>
<ellipse cx="194.88" cy="348.24" rx="11.81" ry="11.49" fill="#6840a8" opacity="0.9"/>
<ellipse cx="154.85" cy="347.78" rx="12.24" ry="11.03" fill="#a83a58" opacity="0.9"/>
<ellipse cx="294.81" cy="344.31" rx="12.49" ry="12.72" fill="#6a981f" opacity="0.9"/>
<ellipse cx="85.85" cy="370.83" rx="8.94" ry="8.26" fill="#8850b0" opacity="0.9"/>
<ellipse cx="134.27" cy="376.34" rx="12.06" ry="12.34" fill="#4a38b8" opacity="0.9"/>
<ellipse cx="193.69" cy="345.88" rx="8.23" ry="8.27" fill="#58a878" opacity="0.9"/>
<ellipse cx="159.19" cy="359.32" rx="10.54" ry="11.27" fill="#c07a48" opacity="0.9"/>
<ellipse cx="374.24" cy="395.67" rx="9.42" ry="9.21" fill="#6840a8" opacity="0.9"/>
<ellipse cx="360.12" cy="382.93" rx="7.91" ry="8.66" fill="#58a878" opacity="0.9"/>
<ellipse cx="336.58" cy="378.42" rx="9.04" ry="9.87" fill="#a83a58" opacity="0.9"/>
<ellipse cx="350.18" cy="379.7" rx="11.38" ry="11.33" fill="#6840a8" opacity="0.9"/>
<ellipse cx="393.76" cy="404.88" rx="9.67" ry="8.34" fill="#c07a48" opacity="0.9"/>
<ellipse cx="414.5" cy="405.35" rx="9.46" ry="9.24" fill="#908a30" opacity="0.9"/>
<ellipse cx="418.78" cy="401.43" rx="8.52" ry="7.76" fill="#3898b0" opacity="0.9"/>
<ellipse cx="404.3" cy="405.18" rx="7.75" ry="7.38" fill="#c07a48" opacity="0.9"/>
<ellipse cx="394.16" cy="384.94" rx="8.02" ry="7.59" fill="#8850b0" opacity="0.9"/>
<ellipse cx="398" cy="398" rx="15" ry="13.26" fill="#908a30" opacity="0.9"/>
</svg>
<text x="94.7" y="200.45" font-size="7.8" font-weight="bold" fill="#000" opacity=".4" stroke="#000" stroke-width="1.2" stroke-opacity=".3">GM</text>
<text x="94.7" y="200.45" font-size="7.8" font-weight="bold" fill="#fff">GM</text>
<rect x="152.5" y="198.05" width="15.6" height="2.4" fill="#fff"/>
<rect x="92.5" y="123.75" width="78.6" height="78" fill="none" stroke="#2b2b2b" stroke-width=".7"/>
<svg x="190" y="123.75" width="78.6" height="78" viewBox="0 0 506.18 502.32" preserveAspectRatio="none" overflow="hidden">
<rect width="520" height="520" fill="#a6a6a6"/>
<rect width="520" height="520" fill="url(#mH)"/>
<path d="M92.47,35.97L62.28,57.7M193.4,38.75L176.95,59.2M232.82,35.7L289.24,61.34M320.47,30.12L327.57,64.09M471.37,29.17L481.99,60.4M509.28,38.11L524.02,63.49M25.18,79.85L5.08,108.62M109.57,83.54L52.15,112.68M149.85,88.73L80.51,112.81M258.53,85.02L242.18,106.32M289.24,85.34L271.23,115.5M327.57,88.09L316.4,106.07M370.46,79.19L316.4,106.07M415.7,89.33L383.81,106.24M481.99,84.4L464.87,109.16M52.15,136.68L32.63,165.36M80.51,136.81L60.59,155.89M119.66,128.23L109.94,157.75M161.71,138.92L217.97,160.3M242.18,130.32L250.5,164.26M271.23,139.5L296.66,157.07M316.4,130.07L377.06,154.26M383.81,130.24L414.96,161.06M503.67,131.72L488.15,155.35M109.94,181.75L127.25,213.17M217.97,184.3L233.46,204.35M250.5,188.26L233.46,204.35M377.06,178.26L355.22,206.77M414.96,185.06L391.38,208.68M440.58,182.39L391.38,208.68M488.15,179.35L428.84,214.92M524.24,184.73L471.23,215.19M127.25,237.17L108.87,265.26M199.77,236.24L257.86,258.08M391.38,232.68L441.66,254.82M508.63,233.73L483.96,255.11M136.13,285.56L117.47,309.28M186.55,288.72L158.34,313.07M296.12,282.29L275.59,309.67M328.95,285.15L355.6,309.02M365.62,279.61L355.6,309.02M410.69,286.88L386.19,304.59M441.66,278.82L460.19,312.36M529.21,281.53L546.74,306.92M10.54,333.18L62.8,359.02M81.21,335.16L138.4,359.11M117.47,333.28L102.21,362.38M200.33,335.21L225.35,358.93M355.6,333.02L365.49,362.18M421.99,328.15L488.76,355.51M460.19,336.36L488.76,355.51M546.74,330.92L526.18,357.91M62.8,383.02L91.44,406.51M102.21,386.38L45.55,409.8M184.06,386.31L159.75,406.43M225.35,382.93L204.23,409.57M258.04,380.4L204.23,409.57M292.56,387.08L275.15,406.14M339.25,382.62L275.15,406.14M440.79,385.64L426.54,405.76M488.76,379.51L468.41,407.71M526.18,381.91L499.83,414.34M45.55,433.8L63.82,458.72M159.75,430.43L178.77,455.99M275.15,430.14L331.53,461.79M315.2,429.73L331.53,461.79M388.49,431.56L405.47,459.54M426.54,429.76L443.15,462.58M468.41,431.71L489.23,463.49M547.01,430.17L516.74,460.19M63.82,482.72L81.11,514.59M147.46,482.32L81.11,514.59M178.77,479.99L121.2,510.41M224.27,487.64L200.73,514.13M331.53,485.79L355.59,514.18M364.41,480.67L309.79,514.26M443.15,486.58L424.18,515.25M489.23,487.49L471.47,511.85M516.74,484.19L471.47,511.85M565.95,483.96L538.06,510.93" fill="none" stroke="#505050" stroke-width="3.4" opacity=".6"/>
<path d="M9.42,13.53l1.75,26M41.45,6.39l-1.71,26M92.47,10.97l0.34,26M118.8,7.18l1.52,26M167.32,8.29l-2.43,26M193.4,13.75l-2.41,26M232.82,10.7l-2.57,26M277.67,8.53l1.99,26M320.47,5.12l2.16,26M353.47,4.36l-3,26M396.52,4.74l1.33,26M428.18,12.99l-2.41,26M471.37,4.17l0.03,26M509.28,13.11l-0.1,26M539.42,12.08l-0.5,26M25.18,54.85l-0.36,26M62.28,56.7l0.36,26M109.57,58.54l-1.55,26M149.85,63.73l-0.08,26M176.95,58.2l2.24,26M212.9,60l0.1,26M258.53,60.02l-1.86,26M289.24,60.34l0.2,26M327.57,63.09l1.1,26M370.46,54.19l1.97,26M415.7,64.33l2.14,26M444.64,64.16l-0.82,26M481.99,59.4l-2.21,26M554.98,53.45l-0.95,26M5.08,107.62l2.98,26M80.51,111.81l0.38,26M119.66,103.23l2.04,26M161.71,113.92l1.99,26M205.68,108.28l-1,26M242.18,105.32l1.89,26M271.23,114.5l-2.27,26M316.4,105.07l1.22,26M349.72,112.27l-2.33,26M383.81,105.24l2.8,26M432.25,105.83l-1.54,26M464.87,108.16l-0.29,26M503.67,106.72l0.85,26M538.48,112.61l2.25,26M32.63,164.36l-0.86,26M60.59,154.89l2.24,26M109.94,156.75l1.35,26M179.51,161.04l2.89,26M217.97,159.3l1.19,26M250.5,163.26l0.15,26M296.66,156.07l0.88,26M332.65,160.67l1.54,26M377.06,153.26l2.68,26M414.96,160.06l-1.88,26M440.58,157.39l0.9,26M488.15,154.35l1.7,26M524.24,159.73l0.62,26M562.04,153.32l-1.57,26M43.31,205.23l-0.68,26M86.97,203.22l1.51,26M127.25,212.17l0.01,26M159.71,210.22l0.01,26M199.77,211.24l2.97,26M233.46,203.35l-0.54,26M270.32,214.2l1.76,26M320.8,206.17l1.63,26M355.22,205.77l-2.81,26M471.23,214.19l-2.49,26M508.63,208.73l1.88,26M537.8,212.94l-0.09,26M108.87,264.26l-2,26M222.22,254.44l-1.62,26M257.86,257.08l-2.08,26M296.12,257.29l2.42,26M328.95,260.15l1.24,26M365.62,254.61l-0.68,26M410.69,261.88l-0.65,26M441.66,253.82l2.71,26M483.96,254.11l0.09,26M529.21,256.53l2.49,26M554.19,258.81l-1.76,26M10.54,308.18l0.26,26M49.06,303.88l1.28,26M81.21,310.16l-0.62,26M117.47,308.28l1.16,26M158.34,312.07l-1.2,26M200.33,310.21l1.15,26M235.16,308.92l-0.49,26M275.59,308.67l0.44,26M315.5,308.96l-2.32,26M355.6,308.02l1.55,26M386.19,303.59l0.72,26M421.99,303.15l1.53,26M460.19,311.36l2.9,26M506.09,306.63l-2.64,26M546.74,305.92l-2.6,26M27.64,361.34l-1.88,26M62.8,358.02l-2.33,26M102.21,361.38l1.28,26M138.4,358.11l-1.47,26M184.06,361.31l-2.3,26M225.35,357.93l2.36,26M258.04,355.4l-1.1,26M292.56,362.08l-2.95,26M339.25,357.62l-0.22,26M365.49,361.18l0.76,26M403.19,356.21l-2.35,26M488.76,354.51l-0.37,26M526.18,356.91l1.45,26M560.02,359.74l0.36,26M10.06,409.75l-2.91,26M45.55,408.8l-2.7,26M91.44,405.51l-2.23,26M123.65,405.99l0.43,26M159.75,405.43l-0.32,26M204.23,408.57l2.77,26M231.56,412.77l1.16,26M275.15,405.14l0.42,26M315.2,404.73l1.56,26M352.61,411.54l1.28,26M388.49,406.56l2.75,26M426.54,404.76l-2.32,26M468.41,406.71l-2.97,26M499.83,413.34l-1.44,26M547.01,405.17l1.58,26M31.01,454.94l2.71,26M63.82,457.72l2.39,26M99.02,453.15l-1.02,26M147.46,457.32l-0.94,26M178.77,454.99l1.88,26M224.27,462.64l-1.63,26M251.34,464.12l0.06,26M291.39,453.73l0.15,26M331.53,460.79l-2.3,26M364.41,455.67l-0.86,26M405.47,458.54l-2.03,26M443.15,461.58l-2.54,26M489.23,462.49l-2.77,26M516.74,459.19l-1.41,26M565.95,458.96l-0.21,26M10.43,513.13l-2.67,26M51.29,505.01l-2.02,26M81.11,513.59l-2.51,26M121.2,509.41l-1.37,26M164.2,507.39l-1.03,26M200.73,513.13l-2.3,26M238.87,508.55l-0.38,26M272.43,510.94l-0.02,26M309.79,513.26l2.55,26M355.59,513.18l0.43,26M391.07,514.1l-0.88,26M424.18,514.25l-0.22,26M471.47,510.85l1.03,26M497.72,506.17l0.86,26M538.06,509.93l1.49,26" fill="none" stroke="#444" stroke-width="4.6" opacity=".75" stroke-linecap="round"/>
<rect width="520" height="520" filter="url(#nzi)" opacity="0.26" style="mix-blend-mode:overlay"/>
<ellipse cx="195.08" cy="24.01" rx="3.5" ry="6.96" fill="#d08040" opacity="0.85" transform="rotate(-11.3 195.08 24.01)"/>
<ellipse cx="318.95" cy="19.44" rx="4.4" ry="6.56" fill="#c05838" opacity="0.85" transform="rotate(-6.03 318.95 19.44)"/>
<ellipse cx="352.8" cy="21.47" rx="3.81" ry="8.52" fill="#a03080" opacity="0.85" transform="rotate(10 352.8 21.47)"/>
<ellipse cx="470.19" cy="20" rx="4.59" ry="8.04" fill="#c05838" opacity="0.85" transform="rotate(-4.04 470.19 20)"/>
<ellipse cx="151.09" cy="76.45" rx="3.87" ry="8.81" fill="#40a890" opacity="0.85" transform="rotate(-12.84 151.09 76.45)"/>
<ellipse cx="175.42" cy="70.61" rx="3.94" ry="6.58" fill="#30a050" opacity="0.85" transform="rotate(19.92 175.42 70.61)"/>
<ellipse cx="212.25" cy="68.08" rx="3.71" ry="6.07" fill="#c04080" opacity="0.85" transform="rotate(9.59 212.25 68.08)"/>
<ellipse cx="259.14" cy="68.22" rx="4.11" ry="6.51" fill="#98a028" opacity="0.85" transform="rotate(20.01 259.14 68.22)"/>
<ellipse cx="327.69" cy="80.81" rx="3.65" ry="9.52" fill="#c04080" opacity="0.85" transform="rotate(-22.58 327.69 80.81)"/>
<ellipse cx="371.56" cy="65.3" rx="3.6" ry="9.06" fill="#60c060" opacity="0.85" transform="rotate(4.95 371.56 65.3)"/>
<ellipse cx="482.26" cy="70.9" rx="4.54" ry="9.09" fill="#c05838" opacity="0.85" transform="rotate(-4.94 482.26 70.9)"/>
<ellipse cx="555.13" cy="67.5" rx="5.01" ry="8.1" fill="#c0a030" opacity="0.85" transform="rotate(-2.49 555.13 67.5)"/>
<ellipse cx="5.52" cy="118.17" rx="4.08" ry="8.05" fill="#c0a030" opacity="0.85" transform="rotate(-22.33 5.52 118.17)"/>
<ellipse cx="50.28" cy="125.57" rx="5.02" ry="8.9" fill="#c0a030" opacity="0.85" transform="rotate(2.57 50.28 125.57)"/>
<ellipse cx="81.65" cy="128.68" rx="4.22" ry="8.57" fill="#d04040" opacity="0.85" transform="rotate(-7.84 81.65 128.68)"/>
<ellipse cx="119.31" cy="112.18" rx="4.3" ry="7.87" fill="#b04838" opacity="0.85" transform="rotate(-3.52 119.31 112.18)"/>
<ellipse cx="162.63" cy="131.42" rx="3.35" ry="7.72" fill="#207880" opacity="0.85" transform="rotate(9.04 162.63 131.42)"/>
<ellipse cx="315.8" cy="123.06" rx="4.01" ry="9.65" fill="#30b0b0" opacity="0.85" transform="rotate(4.82 315.8 123.06)"/>
<ellipse cx="382.2" cy="122.45" rx="4.84" ry="8.12" fill="#6038b0" opacity="0.85" transform="rotate(-0.16 382.2 122.45)"/>
<ellipse cx="434.02" cy="123.48" rx="4.6" ry="6.47" fill="#c0a030" opacity="0.85" transform="rotate(2.43 434.02 123.48)"/>
<ellipse cx="464.84" cy="125.85" rx="3.93" ry="9.41" fill="#30a050" opacity="0.85" transform="rotate(7.35 464.84 125.85)"/>
<ellipse cx="539.58" cy="123.47" rx="3.48" ry="8.66" fill="#8030b0" opacity="0.85" transform="rotate(15.57 539.58 123.47)"/>
<ellipse cx="32.75" cy="178.68" rx="3.22" ry="6.29" fill="#2e9e78" opacity="0.85" transform="rotate(8.13 32.75 178.68)"/>
<ellipse cx="218.92" cy="167.39" rx="4.43" ry="8.93" fill="#60c060" opacity="0.85" transform="rotate(23.9 218.92 167.39)"/>
<ellipse cx="249.12" cy="173.3" rx="4.06" ry="8.36" fill="#d04040" opacity="0.85" transform="rotate(0.97 249.12 173.3)"/>
<ellipse cx="297.63" cy="172.12" rx="4.29" ry="8.48" fill="#b0b030" opacity="0.85" transform="rotate(15.43 297.63 172.12)"/>
<ellipse cx="375.42" cy="166.43" rx="3.46" ry="7.86" fill="#30a050" opacity="0.85" transform="rotate(2.56 375.42 166.43)"/>
<ellipse cx="440.85" cy="174" rx="3.72" ry="7.66" fill="#a03080" opacity="0.85" transform="rotate(7.31 440.85 174)"/>
<ellipse cx="42.7" cy="220.66" rx="5.18" ry="8.12" fill="#3070c0" opacity="0.85" transform="rotate(-24.95 42.7 220.66)"/>
<ellipse cx="85.03" cy="219.16" rx="4.06" ry="6.09" fill="#c05838" opacity="0.85" transform="rotate(-10.96 85.03 219.16)"/>
<ellipse cx="129.14" cy="229.59" rx="4.82" ry="9.37" fill="#50b0d0" opacity="0.85" transform="rotate(1.05 129.14 229.59)"/>
<ellipse cx="198.86" cy="220.62" rx="4.52" ry="7.26" fill="#9050d0" opacity="0.85" transform="rotate(-0.89 198.86 220.62)"/>
<ellipse cx="233.69" cy="213.58" rx="4.85" ry="7.13" fill="#3070c0" opacity="0.85" transform="rotate(18 233.69 213.58)"/>
<ellipse cx="321.43" cy="222.47" rx="5.05" ry="8.6" fill="#30a050" opacity="0.85" transform="rotate(23.52 321.43 222.47)"/>
<ellipse cx="429.4" cy="224.33" rx="4.83" ry="6.84" fill="#2e9e78" opacity="0.85" transform="rotate(-19.6 429.4 224.33)"/>
<ellipse cx="471.95" cy="227.49" rx="3.99" ry="6.82" fill="#8030b0" opacity="0.85" transform="rotate(15.72 471.95 227.49)"/>
<ellipse cx="507.79" cy="216.94" rx="4.21" ry="7.15" fill="#3070c0" opacity="0.85" transform="rotate(-3.22 507.79 216.94)"/>
<ellipse cx="110.06" cy="275.8" rx="4.55" ry="7.68" fill="#30a050" opacity="0.85" transform="rotate(0.17 110.06 275.8)"/>
<ellipse cx="188.4" cy="280.68" rx="3.62" ry="7.59" fill="#30a050" opacity="0.85" transform="rotate(10.69 188.4 280.68)"/>
<ellipse cx="330.48" cy="272.9" rx="4.55" ry="6.81" fill="#b0b030" opacity="0.85" transform="rotate(6.69 330.48 272.9)"/>
<ellipse cx="410.73" cy="273.09" rx="4.61" ry="9.27" fill="#30a050" opacity="0.85" transform="rotate(12.67 410.73 273.09)"/>
<ellipse cx="442.46" cy="271.37" rx="4.38" ry="6.1" fill="#c04080" opacity="0.85" transform="rotate(-10.86 442.46 271.37)"/>
<ellipse cx="482.58" cy="266.39" rx="4.51" ry="7.16" fill="#30a050" opacity="0.85" transform="rotate(6.12 482.58 266.39)"/>
<ellipse cx="528.61" cy="273.7" rx="3.42" ry="8.02" fill="#c05838" opacity="0.85" transform="rotate(14.27 528.61 273.7)"/>
<ellipse cx="118.27" cy="318.46" rx="3.92" ry="6.41" fill="#2a4a80" opacity="0.85" transform="rotate(-2.12 118.27 318.46)"/>
<ellipse cx="315.54" cy="319.49" rx="3.68" ry="7.41" fill="#30a050" opacity="0.85" transform="rotate(23.81 315.54 319.49)"/>
<ellipse cx="458.71" cy="325.71" rx="4.24" ry="8.86" fill="#207880" opacity="0.85" transform="rotate(-0.87 458.71 325.71)"/>
<ellipse cx="546.15" cy="320.24" rx="4.91" ry="7.04" fill="#50b0d0" opacity="0.85" transform="rotate(-24.92 546.15 320.24)"/>
<ellipse cx="63.4" cy="369.95" rx="5.19" ry="8.75" fill="#30a050" opacity="0.85" transform="rotate(-6.93 63.4 369.95)"/>
<ellipse cx="183.44" cy="372.41" rx="4" ry="7.92" fill="#4060d0" opacity="0.85" transform="rotate(17.54 183.44 372.41)"/>
<ellipse cx="225.85" cy="372.95" rx="4.11" ry="9.02" fill="#30b0b0" opacity="0.85" transform="rotate(21.89 225.85 372.95)"/>
<ellipse cx="257.38" cy="367.91" rx="3.31" ry="6.67" fill="#c05838" opacity="0.85" transform="rotate(21.5 257.38 367.91)"/>
<ellipse cx="366.41" cy="376.86" rx="3.77" ry="7.87" fill="#4060d0" opacity="0.85" transform="rotate(7.29 366.41 376.86)"/>
<ellipse cx="439.46" cy="370.68" rx="4.25" ry="9.92" fill="#d08040" opacity="0.85" transform="rotate(16 439.46 370.68)"/>
<ellipse cx="487.28" cy="371.36" rx="4.49" ry="6.88" fill="#30a050" opacity="0.85" transform="rotate(-7.4 487.28 371.36)"/>
<ellipse cx="46.22" cy="421.91" rx="3.89" ry="8.56" fill="#c05838" opacity="0.85" transform="rotate(17.05 46.22 421.91)"/>
<ellipse cx="159.97" cy="414.36" rx="4.07" ry="7.38" fill="#9050d0" opacity="0.85" transform="rotate(19.02 159.97 414.36)"/>
<ellipse cx="205.75" cy="419.8" rx="4.26" ry="9.35" fill="#7aa030" opacity="0.85" transform="rotate(11.17 205.75 419.8)"/>
<ellipse cx="230.28" cy="429.2" rx="4.02" ry="8.49" fill="#b0b030" opacity="0.85" transform="rotate(-13.19 230.28 429.2)"/>
<ellipse cx="274.14" cy="413.89" rx="4.86" ry="8.12" fill="#7aa030" opacity="0.85" transform="rotate(-23.4 274.14 413.89)"/>
<ellipse cx="387.84" cy="423.72" rx="4.85" ry="6.3" fill="#207880" opacity="0.85" transform="rotate(17.68 387.84 423.72)"/>
<ellipse cx="500.36" cy="425.78" rx="4.16" ry="6.03" fill="#50b0d0" opacity="0.85" transform="rotate(-3.27 500.36 425.78)"/>
<ellipse cx="548.62" cy="422.15" rx="4.11" ry="8.47" fill="#c05838" opacity="0.85" transform="rotate(-7.48 548.62 422.15)"/>
<ellipse cx="31.04" cy="467.48" rx="4.33" ry="7.18" fill="#4060d0" opacity="0.85" transform="rotate(0.34 31.04 467.48)"/>
<ellipse cx="97.83" cy="461.77" rx="4.72" ry="7.22" fill="#805030" opacity="0.85" transform="rotate(6.22 97.83 461.77)"/>
<ellipse cx="330.01" cy="470.9" rx="4.53" ry="9.92" fill="#207880" opacity="0.85" transform="rotate(-11.32 330.01 470.9)"/>
<ellipse cx="407.08" cy="471.21" rx="3.25" ry="8.56" fill="#c04080" opacity="0.85" transform="rotate(-8.24 407.08 471.21)"/>
<ellipse cx="444.74" cy="470.82" rx="4.92" ry="8.59" fill="#7aa030" opacity="0.85" transform="rotate(-2.34 444.74 470.82)"/>
<ellipse cx="517.94" cy="467.61" rx="4.11" ry="9.27" fill="#98a028" opacity="0.85" transform="rotate(-16.08 517.94 467.61)"/>
<ellipse cx="566.43" cy="467.15" rx="4.85" ry="6.49" fill="#98a028" opacity="0.85" transform="rotate(-19.85 566.43 467.15)"/>
<ellipse cx="82.64" cy="527.09" rx="4.13" ry="8.8" fill="#207880" opacity="0.85" transform="rotate(13.64 82.64 527.09)"/>
<ellipse cx="121.84" cy="517.63" rx="3.45" ry="8.17" fill="#d08040" opacity="0.85" transform="rotate(20.06 121.84 517.63)"/>
<ellipse cx="163.23" cy="524.74" rx="4.57" ry="9.95" fill="#40a890" opacity="0.85" transform="rotate(-4.65 163.23 524.74)"/>
<ellipse cx="353.61" cy="524.83" rx="3.21" ry="9.46" fill="#3070c0" opacity="0.85" transform="rotate(9.59 353.61 524.83)"/>
<ellipse cx="390.22" cy="529.87" rx="4.04" ry="9.33" fill="#7aa030" opacity="0.85" transform="rotate(-20.13 390.22 529.87)"/>
<ellipse cx="536.42" cy="523.83" rx="4.7" ry="9.17" fill="#30a050" opacity="0.85" transform="rotate(-18.38 536.42 523.83)"/>
<ellipse cx="300" cy="95" rx="15" ry="8" fill="#3050c0" opacity="0.9" transform="rotate(-30 300 95)"/>
<ellipse cx="375" cy="150" rx="9" ry="17" fill="#3070c0" opacity="0.9" transform="rotate(10 375 150)"/>
<ellipse cx="345" cy="232" rx="8" ry="15" fill="#3050c0" opacity="0.9" transform="rotate(20 345 232)"/>
<ellipse cx="232" cy="222" rx="8" ry="12" fill="#a03080" opacity="0.9"/>
<ellipse cx="100" cy="212" rx="12" ry="7" fill="#c09030" opacity="0.9" transform="rotate(-20 100 212)"/>
<ellipse cx="452" cy="218" rx="10" ry="9" fill="#b04838" opacity="0.9"/>
<ellipse cx="228" cy="35" rx="16" ry="7" fill="#8030b0" opacity="0.9" transform="rotate(-15 228 35)"/>
</svg>
<text x="192.2" y="200.45" font-size="7.8" font-weight="bold" fill="#000" opacity=".4" stroke="#000" stroke-width="1.2" stroke-opacity=".3">SM</text>
<text x="192.2" y="200.45" font-size="7.8" font-weight="bold" fill="#fff">SM</text>
<rect x="250" y="198.05" width="15.6" height="2.4" fill="#fff"/>
<rect x="190" y="123.75" width="78.6" height="78" fill="none" stroke="#2b2b2b" stroke-width=".7"/>
<svg x="271" y="123.75" width="78.6" height="78" viewBox="0 0 506.18 502.32" preserveAspectRatio="none" overflow="hidden">
<rect width="520" height="520" fill="#a6a6a6"/>
<rect width="520" height="520" fill="url(#mH)"/>
<path d="M87.09,36.28L98.75,57.81M124.74,32.6L176.55,64.65M165.24,34.92L176.55,64.65M203.94,35.94L223.85,57.62M317.12,30.01L364.3,55.62M383.83,37.41L408.42,62.74M421.46,38.4L445.96,62.93M470.77,30.59L445.96,62.93M507.17,36.79L555.94,54.79M144.68,85.3L80.53,111.93M176.55,88.65L201.53,109.02M252.04,86.01L242.88,115.54M332.91,82.74L272.38,109.25M364.3,79.62L317.27,112.16M408.42,86.74L350.75,109.4M445.96,86.93L462.88,114.77M525.17,81.86L540.32,114.62M80.53,135.93L63,155.97M118.79,138.67L98.43,156.17M242.88,139.54L253.2,162.11M272.38,133.25L289.66,165.97M350.75,133.4L334.38,162.56M396.55,131.31L371.74,159.97M462.88,138.77L486.25,165.3M501.56,139.1L563.1,156.12M63,179.97L42,210.12M177.32,184.8L167.69,207.69M289.66,189.97L239.57,213.95M334.38,186.56L315.22,207.64M415.59,188.72L386.35,210M486.25,189.3L498.01,209.94M563.1,180.12L498.01,209.94M87.33,232.22L70.03,262.5M195.12,238.25L214.41,264.41M461.55,233.69L450.73,262.72M70.03,286.5L43.66,306.17M98.38,287.12L85.78,313.05M178.51,282.4L161.15,312.56M253.11,288.47L194.49,308.66M335.17,284.37L317.53,308.47M364.38,287.88L317.53,308.47M405.79,278.29L388.19,308.21M450.73,286.72L461.23,305.07M483.4,280.23L461.23,305.07M563.65,283.87L508.8,307.78M85.78,337.05L148.55,364.97M128.24,338.24L148.55,364.97M161.15,336.56L148.55,364.97M194.49,332.66L187.49,357.31M283,336.04L300.59,359.67M433.1,330.08L490.66,356.95M461.23,329.07L490.66,356.95M547.64,331.76L561.31,356.32M33.71,380.34L44.51,414.24M254.84,380.02L272.27,415.15M300.59,383.67L231.17,411.78M370.77,381.03L351.3,411.86M443.81,386.3L383.53,406.43M490.66,380.95L425.15,408.43M44.51,438.24L104.4,454.99M128.84,439.94L185.27,462.27M159.28,432.86L148.5,464.75M200.62,437.03L223.38,465.5M272.27,439.15L263.61,463.24M312.81,439.33L333.95,459.43M351.3,435.86L370.03,457.25M383.53,430.43L448.65,455.04M425.15,432.43L448.65,455.04M548.48,438.29L528.11,460.45M30.71,489.78L8.19,515.47M70.2,485.61L53.87,514.78M104.4,478.99L126.62,507.47M185.27,486.27L157.58,515.82M223.38,489.5L237.89,505.06M263.61,487.24L237.89,505.06M333.95,483.43L356.23,507.22M370.03,481.25L318.61,504.98M402.48,485.42L394.03,513.61M490.92,488.84L434.38,506.09M528.11,484.45L541.92,504.98" fill="none" stroke="#505050" stroke-width="3.4" opacity=".6"/>
<path d="M8.33,5.77l2.6,26M43.32,13.97l-2.46,26M87.09,11.28l2.7,26M124.74,7.6l-2.03,26M165.24,9.92l-1.72,26M203.94,10.94l0.06,26M242.75,8.27l2.46,26M271.17,4.8l-1.18,26M317.12,5.01l-2.09,26M354.17,10.45l2.68,26M421.46,13.4l0.24,26M507.17,11.79l2.4,26M23.73,63.96l-1.62,26M69.64,64.76l0.84,26M98.75,56.81l1.69,26M144.68,60.3l2.75,26M176.55,63.65l-0.51,26M223.85,56.62l-0.4,26M252.04,61.01l2.38,26M293.7,60.96l-1.04,26M332.91,57.74l-2.66,26M364.3,54.62l-1.33,26M408.42,61.74l-0.41,26M445.96,61.93l-2.87,26M485.56,63.56l1.02,26M525.17,56.86l0.72,26M3.55,113.35l-1.06,26M80.53,110.93l-2.94,26M118.79,113.67l1.24,26M164.18,112l0.65,26M201.53,108.02l-2.05,26M242.88,114.54l0.79,26M272.38,108.25l-1.86,26M317.27,111.16l1.59,26M350.75,108.4l-2.19,26M396.55,106.31l2.88,26M423.96,111.23l-1,26M462.88,113.77l1.76,26M501.56,114.1l1.91,26M540.32,113.62l-1.24,26M32.52,161.78l-0.38,26M63,154.97l0.06,26M98.43,155.17l-2.87,26M145.33,153.77l-1.41,26M177.32,159.8l0.84,26M253.2,161.11l-0.32,26M334.38,161.56l0.83,26M371.74,158.97l-1.71,26M415.59,163.72l-1.28,26M451.51,153.36l-1.97,26M486.25,164.3l0.62,26M563.1,155.12l2.24,26M13.19,212.4l1.07,26M42,209.12l0.28,26M87.33,207.22l0.67,26M167.69,206.69l-2.89,26M195.12,213.25l-0.99,26M239.57,212.95l2.31,26M281.16,206.35l2.97,26M315.22,206.64l1.85,26M356.16,211.3l2.02,26M386.35,209l1.54,26M429.32,205.8l-1.71,26M461.55,208.69l2.45,26M498.01,208.94l-0.06,26M548.16,212.91l2.55,26M22.76,262.91l0.16,26M70.03,261.5l-0.51,26M98.38,262.12l-0.6,26M138.74,262.64l-1.24,26M295.19,254.78l-1.42,26M364.38,262.88l-0.9,26M405.79,253.29l-2.09,26M450.73,261.72l-1.49,26M483.4,255.23l-2.83,26M523.38,260.04l2.77,26M563.65,258.87l-2.52,26M10.95,311.65l-0.22,26M43.66,305.17l-1.34,26M85.78,312.05l1.99,26M161.15,311.56l-1.2,26M194.49,307.66l-0.4,26M231.94,313.02l-1.65,26M283,311.04l2.34,26M317.53,307.47l2.07,26M356.13,304.02l0.55,26M388.19,307.21l2.08,26M433.1,305.08l-1.58,26M461.23,304.07l-0.54,26M508.8,306.78l0.72,26M547.64,306.76l-0.49,26M33.71,355.34l-1.24,26M72.63,364.68l-1.6,26M110.3,361.3l1.02,26M148.55,363.97l-2.53,26M187.49,356.31l1.74,26M254.84,355.02l0.85,26M300.59,358.67l2.16,26M333.42,363.64l-0.16,26M370.77,356.03l0.47,26M411.6,359.39l2.54,26M443.81,361.3l-1.96,26M490.66,355.95l1.17,26M527.38,362.04l2.57,26M561.31,355.32l-1.35,26M12.31,406.38l0.6,26M82.79,404.11l-2.51,26M128.84,414.94l-1.75,26M200.62,412.03l2.61,26M231.17,410.78l-1.53,26M272.27,414.15l-2.67,26M312.81,414.33l2.6,26M383.53,405.43l-0.12,26M425.15,407.43l0.91,26M461.42,408.05l1.67,26M498.23,409.8l-0.04,26M548.48,413.29l-2.87,26M30.71,464.78l-1.46,26M70.2,460.61l0.27,26M104.4,453.99l-2.71,26M148.5,463.75l0.89,26M185.27,461.27l-0.5,26M263.61,462.24l-1.29,26M288.23,464.37l1.15,26M333.95,458.43l1.48,26M370.03,456.25l-0.8,26M402.48,460.42l2.33,26M448.65,454.04l-2.3,26M490.92,463.84l-2.74,26M528.11,459.45l2.31,26M559.39,458.65l-2.75,26M8.19,514.47l0.34,26M53.87,513.78l-2.67,26M86.28,509.13l2.04,26M126.62,506.47l1.71,26M157.58,514.82l-2.53,26M196.77,506.24l1.95,26M237.89,504.06l1.54,26M276.33,504.92l-1.98,26M318.61,503.98l0.15,26M356.23,506.22l-1.02,26M394.03,512.61l-0.49,26M434.38,505.09l2.97,26M472.79,504.78l0.63,26M501.92,503.09l3,26M541.92,503.98l-0.39,26" fill="none" stroke="#444" stroke-width="4.6" opacity=".75" stroke-linecap="round"/>
<rect width="520" height="520" filter="url(#nzi)" opacity="0.26" style="mix-blend-mode:overlay"/>
<ellipse cx="43.96" cy="27.4" rx="4.2" ry="6.17" fill="#30a050" opacity="0.85" transform="rotate(19.1 43.96 27.4)"/>
<ellipse cx="123.47" cy="20.11" rx="3.95" ry="9.06" fill="#6038b0" opacity="0.85" transform="rotate(1.89 123.47 20.11)"/>
<ellipse cx="163.95" cy="27.25" rx="4.13" ry="7.96" fill="#30a050" opacity="0.85" transform="rotate(19.72 163.95 27.25)"/>
<ellipse cx="205.4" cy="26" rx="5.06" ry="6.49" fill="#3070c0" opacity="0.85" transform="rotate(18.67 205.4 26)"/>
<ellipse cx="243.21" cy="19" rx="3.88" ry="8.06" fill="#805030" opacity="0.85" transform="rotate(-15.53 243.21 19)"/>
<ellipse cx="318.07" cy="20.2" rx="4.14" ry="6.45" fill="#40a890" opacity="0.85" transform="rotate(8.26 318.07 20.2)"/>
<ellipse cx="354.97" cy="21.79" rx="3.92" ry="9.39" fill="#b0b030" opacity="0.85" transform="rotate(-11.44 354.97 21.79)"/>
<ellipse cx="419.8" cy="24.26" rx="3.86" ry="8.27" fill="#60c060" opacity="0.85" transform="rotate(17.01 419.8 24.26)"/>
<ellipse cx="23.64" cy="73.46" rx="3.7" ry="6.19" fill="#7aa030" opacity="0.85" transform="rotate(-19.76 23.64 73.46)"/>
<ellipse cx="69.35" cy="80.88" rx="3.35" ry="9.02" fill="#98a028" opacity="0.85" transform="rotate(13.14 69.35 80.88)"/>
<ellipse cx="97.5" cy="69.36" rx="3.63" ry="6.74" fill="#40a890" opacity="0.85" transform="rotate(-23.7 97.5 69.36)"/>
<ellipse cx="145.39" cy="78.24" rx="3.21" ry="7.63" fill="#c05838" opacity="0.85" transform="rotate(-1.51 145.39 78.24)"/>
<ellipse cx="224.12" cy="72.55" rx="3.31" ry="6.91" fill="#30a050" opacity="0.85" transform="rotate(-21.52 224.12 72.55)"/>
<ellipse cx="294.23" cy="70.05" rx="4.09" ry="7.87" fill="#8030b0" opacity="0.85" transform="rotate(4.73 294.23 70.05)"/>
<ellipse cx="331.22" cy="68.35" rx="4.37" ry="6.46" fill="#7aa030" opacity="0.85" transform="rotate(-16.47 331.22 68.35)"/>
<ellipse cx="406.78" cy="70.75" rx="3.43" ry="6.43" fill="#9050d0" opacity="0.85" transform="rotate(11.98 406.78 70.75)"/>
<ellipse cx="446.47" cy="73.71" rx="4.14" ry="6.86" fill="#50b0d0" opacity="0.85" transform="rotate(-1.92 446.47 73.71)"/>
<ellipse cx="484.56" cy="76.62" rx="3.8" ry="7.75" fill="#60c060" opacity="0.85" transform="rotate(16.74 484.56 76.62)"/>
<ellipse cx="3.33" cy="125.02" rx="4.63" ry="9.71" fill="#6038b0" opacity="0.85" transform="rotate(-5.37 3.33 125.02)"/>
<ellipse cx="53.38" cy="125.66" rx="5.04" ry="9.63" fill="#c05838" opacity="0.85" transform="rotate(-21.57 53.38 125.66)"/>
<ellipse cx="119.13" cy="130.08" rx="3.8" ry="6.02" fill="#6038b0" opacity="0.85" transform="rotate(23.69 119.13 130.08)"/>
<ellipse cx="164.7" cy="128.51" rx="4.82" ry="6.23" fill="#50b0d0" opacity="0.85" transform="rotate(18.91 164.7 128.51)"/>
<ellipse cx="241.13" cy="125.21" rx="3.88" ry="7.18" fill="#805030" opacity="0.85" transform="rotate(17.35 241.13 125.21)"/>
<ellipse cx="317.97" cy="119.61" rx="4.22" ry="8.14" fill="#60c060" opacity="0.85" transform="rotate(-13.04 317.97 119.61)"/>
<ellipse cx="349.57" cy="119.26" rx="3.45" ry="8.1" fill="#40a890" opacity="0.85" transform="rotate(-24.85 349.57 119.26)"/>
<ellipse cx="425.77" cy="123.7" rx="3.67" ry="8.66" fill="#7aa030" opacity="0.85" transform="rotate(1.42 425.77 123.7)"/>
<ellipse cx="501.64" cy="131.25" rx="3.25" ry="6.19" fill="#805030" opacity="0.85" transform="rotate(8.46 501.64 131.25)"/>
<ellipse cx="215.26" cy="172.08" rx="4.99" ry="7.44" fill="#60c060" opacity="0.85" transform="rotate(-24.73 215.26 172.08)"/>
<ellipse cx="252.11" cy="171.53" rx="3.37" ry="8.06" fill="#7aa030" opacity="0.85" transform="rotate(-10.21 252.11 171.53)"/>
<ellipse cx="332.66" cy="177.31" rx="4.18" ry="9.98" fill="#c0a030" opacity="0.85" transform="rotate(-13.25 332.66 177.31)"/>
<ellipse cx="370.43" cy="174" rx="3.93" ry="7.76" fill="#d08040" opacity="0.85" transform="rotate(-14.96 370.43 174)"/>
<ellipse cx="486.09" cy="178.3" rx="5.03" ry="7.21" fill="#2a4a80" opacity="0.85" transform="rotate(-4.01 486.09 178.3)"/>
<ellipse cx="525.31" cy="172.96" rx="3.61" ry="7.61" fill="#c04080" opacity="0.85" transform="rotate(6.18 525.31 172.96)"/>
<ellipse cx="126.17" cy="226.21" rx="3.64" ry="7.22" fill="#a03080" opacity="0.85" transform="rotate(-10.43 126.17 226.21)"/>
<ellipse cx="280.63" cy="222.79" rx="5" ry="8.04" fill="#d04040" opacity="0.85" transform="rotate(-10.88 280.63 222.79)"/>
<ellipse cx="314" cy="223.48" rx="3.27" ry="9.76" fill="#9050d0" opacity="0.85" transform="rotate(6.84 314 223.48)"/>
<ellipse cx="356.41" cy="228.09" rx="3.4" ry="9.32" fill="#40a890" opacity="0.85" transform="rotate(9.78 356.41 228.09)"/>
<ellipse cx="385.19" cy="222.25" rx="5" ry="6.9" fill="#c05838" opacity="0.85" transform="rotate(-9.29 385.19 222.25)"/>
<ellipse cx="429.95" cy="222.99" rx="3.45" ry="7.37" fill="#a03080" opacity="0.85" transform="rotate(22.92 429.95 222.99)"/>
<ellipse cx="460.43" cy="221.78" rx="3.22" ry="8.92" fill="#805030" opacity="0.85" transform="rotate(11.77 460.43 221.78)"/>
<ellipse cx="547.44" cy="225" rx="4.01" ry="7.82" fill="#b0b030" opacity="0.85" transform="rotate(17.67 547.44 225)"/>
<ellipse cx="22.49" cy="272.39" rx="4.17" ry="7.81" fill="#9050d0" opacity="0.85" transform="rotate(23.79 22.49 272.39)"/>
<ellipse cx="68.06" cy="273.6" rx="3.65" ry="7" fill="#8030b0" opacity="0.85" transform="rotate(16.14 68.06 273.6)"/>
<ellipse cx="177.88" cy="265.82" rx="4.46" ry="6.86" fill="#30a050" opacity="0.85" transform="rotate(-19.05 177.88 265.82)"/>
<ellipse cx="212.86" cy="271.79" rx="3.49" ry="9.86" fill="#a03080" opacity="0.85" transform="rotate(-13.9 212.86 271.79)"/>
<ellipse cx="295.48" cy="263.79" rx="4.79" ry="7.49" fill="#2e9e78" opacity="0.85" transform="rotate(-16.22 295.48 263.79)"/>
<ellipse cx="364.26" cy="273.13" rx="4.7" ry="6.64" fill="#9050d0" opacity="0.85" transform="rotate(5.67 364.26 273.13)"/>
<ellipse cx="563.03" cy="269.1" rx="4.3" ry="8.26" fill="#c0a030" opacity="0.85" transform="rotate(10.21 563.03 269.1)"/>
<ellipse cx="45.12" cy="314.75" rx="4.17" ry="8.54" fill="#2e9e78" opacity="0.85" transform="rotate(4.5 45.12 314.75)"/>
<ellipse cx="193.83" cy="315.67" rx="4.07" ry="9.78" fill="#50b0d0" opacity="0.85" transform="rotate(5.64 193.83 315.67)"/>
<ellipse cx="232.2" cy="323.6" rx="3.9" ry="8.16" fill="#c05838" opacity="0.85" transform="rotate(10.33 232.2 323.6)"/>
<ellipse cx="317.9" cy="325.33" rx="3.47" ry="8.91" fill="#9050d0" opacity="0.85" transform="rotate(-22.65 317.9 325.33)"/>
<ellipse cx="355.09" cy="318.92" rx="4.65" ry="7.74" fill="#3070c0" opacity="0.85" transform="rotate(13.51 355.09 318.92)"/>
<ellipse cx="389.36" cy="318.8" rx="4.27" ry="9.67" fill="#3070c0" opacity="0.85" transform="rotate(2.19 389.36 318.8)"/>
<ellipse cx="431.42" cy="319.33" rx="4.2" ry="8.8" fill="#d08040" opacity="0.85" transform="rotate(21.59 431.42 319.33)"/>
<ellipse cx="463.01" cy="314.63" rx="3.85" ry="8.08" fill="#60c060" opacity="0.85" transform="rotate(7.84 463.01 314.63)"/>
<ellipse cx="507.13" cy="323.3" rx="3.24" ry="9.47" fill="#c05838" opacity="0.85" transform="rotate(-19.63 507.13 323.3)"/>
<ellipse cx="35.28" cy="364.22" rx="4.47" ry="6.14" fill="#c04080" opacity="0.85" transform="rotate(-12.96 35.28 364.22)"/>
<ellipse cx="150.5" cy="374.31" rx="3.53" ry="7.31" fill="#2a4a80" opacity="0.85" transform="rotate(9.57 150.5 374.31)"/>
<ellipse cx="222.93" cy="372.65" rx="4.52" ry="9.7" fill="#98a028" opacity="0.85" transform="rotate(11.64 222.93 372.65)"/>
<ellipse cx="256.69" cy="366.45" rx="5.09" ry="6.89" fill="#30a050" opacity="0.85" transform="rotate(0.01 256.69 366.45)"/>
<ellipse cx="411.53" cy="371.51" rx="3.89" ry="7.63" fill="#d04040" opacity="0.85" transform="rotate(20.83 411.53 371.51)"/>
<ellipse cx="492.22" cy="371.45" rx="3.99" ry="7.57" fill="#a03080" opacity="0.85" transform="rotate(2.9 492.22 371.45)"/>
<ellipse cx="560.6" cy="372.19" rx="4.55" ry="7.55" fill="#d08040" opacity="0.85" transform="rotate(7.26 560.6 372.19)"/>
<ellipse cx="14.15" cy="416.51" rx="5.15" ry="7.79" fill="#b04838" opacity="0.85" transform="rotate(-2.01 14.15 416.51)"/>
<ellipse cx="229.24" cy="426.42" rx="3.55" ry="7.06" fill="#30b0b0" opacity="0.85" transform="rotate(-9.66 229.24 426.42)"/>
<ellipse cx="271.52" cy="427.58" rx="3.39" ry="6.18" fill="#2a4a80" opacity="0.85" transform="rotate(16.44 271.52 427.58)"/>
<ellipse cx="383.98" cy="422.67" rx="3.42" ry="7.19" fill="#4060d0" opacity="0.85" transform="rotate(-3.86 383.98 422.67)"/>
<ellipse cx="549.26" cy="427.42" rx="4.13" ry="6.61" fill="#50b0d0" opacity="0.85" transform="rotate(14.34 549.26 427.42)"/>
<ellipse cx="69.51" cy="475.7" rx="4.88" ry="6.66" fill="#d04040" opacity="0.85" transform="rotate(8.77 69.51 475.7)"/>
<ellipse cx="333.77" cy="473.07" rx="4.11" ry="6.36" fill="#40a890" opacity="0.85" transform="rotate(-20.16 333.77 473.07)"/>
<ellipse cx="404.06" cy="475.31" rx="4.56" ry="7.23" fill="#9050d0" opacity="0.85" transform="rotate(0.65 404.06 475.31)"/>
<ellipse cx="557.77" cy="470.2" rx="3.5" ry="8.98" fill="#b0b030" opacity="0.85" transform="rotate(2.2 557.77 470.2)"/>
<ellipse cx="53.39" cy="524.78" rx="3.28" ry="6.21" fill="#60c060" opacity="0.85" transform="rotate(-4.82 53.39 524.78)"/>
<ellipse cx="84.8" cy="524.74" rx="4.32" ry="9.94" fill="#2a4a80" opacity="0.85" transform="rotate(10.94 84.8 524.74)"/>
<ellipse cx="124.77" cy="519.76" rx="3.37" ry="6.93" fill="#4060d0" opacity="0.85" transform="rotate(21.65 124.77 519.76)"/>
<ellipse cx="155.83" cy="526.34" rx="4.1" ry="9.79" fill="#30a050" opacity="0.85" transform="rotate(17.05 155.83 526.34)"/>
<ellipse cx="195.21" cy="523.4" rx="4.14" ry="8.14" fill="#b04838" opacity="0.85" transform="rotate(-18.83 195.21 523.4)"/>
<ellipse cx="317.41" cy="515.6" rx="4.22" ry="8.59" fill="#2a4a80" opacity="0.85" transform="rotate(-7.95 317.41 515.6)"/>
<ellipse cx="355.36" cy="522.5" rx="4.26" ry="9.76" fill="#30a050" opacity="0.85" transform="rotate(-11.91 355.36 522.5)"/>
<ellipse cx="392.74" cy="528.87" rx="3.84" ry="9.39" fill="#6038b0" opacity="0.85" transform="rotate(5.57 392.74 528.87)"/>
<ellipse cx="501.13" cy="513.5" rx="3.44" ry="6.39" fill="#d08040" opacity="0.85" transform="rotate(4.85 501.13 513.5)"/>
<ellipse cx="300" cy="95" rx="15" ry="8" fill="#3050c0" opacity="0.9" transform="rotate(-30 300 95)"/>
<ellipse cx="375" cy="150" rx="9" ry="17" fill="#3070c0" opacity="0.9" transform="rotate(10 375 150)"/>
<ellipse cx="345" cy="232" rx="8" ry="15" fill="#3050c0" opacity="0.9" transform="rotate(20 345 232)"/>
<ellipse cx="232" cy="222" rx="8" ry="12" fill="#a03080" opacity="0.9"/>
<ellipse cx="100" cy="212" rx="12" ry="7" fill="#c09030" opacity="0.9" transform="rotate(-20 100 212)"/>
<ellipse cx="452" cy="218" rx="10" ry="9" fill="#b04838" opacity="0.9"/>
<ellipse cx="228" cy="35" rx="16" ry="7" fill="#8030b0" opacity="0.9" transform="rotate(-15 228 35)"/>
</svg>
<text x="273.2" y="200.45" font-size="7.8" font-weight="bold" fill="#000" opacity=".4" stroke="#000" stroke-width="1.2" stroke-opacity=".3">GM</text>
<text x="273.2" y="200.45" font-size="7.8" font-weight="bold" fill="#fff">GM</text>
<rect x="331" y="198.05" width="15.6" height="2.4" fill="#fff"/>
<rect x="271" y="123.75" width="78.6" height="78" fill="none" stroke="#2b2b2b" stroke-width=".7"/>
<svg x="368.5" y="123.75" width="78.6" height="78" viewBox="0 0 506.18 502.32" preserveAspectRatio="none" overflow="hidden">
<rect width="520" height="520" fill="#9a9a9a"/>
<rect width="520" height="520" fill="url(#hA)"/>
<rect width="520" height="520" fill="url(#hB)"/>
<rect width="520" height="520" filter="url(#nzi)" opacity="0.22" style="mix-blend-mode:overlay"/>
<path d="M0,240 C30,240 60,215 90,205 C140,165 180,150 215,135 C260,120 300,95 340,85 C400,84 450,74 520,62 L520,0 L0,0Z" fill="#e0e0e0"/>
<path d="M0,0 L285,0 C225,34 130,62 0,82Z" fill="#8e8e8e"/>
<path d="M285,0 C225,34 130,62 0,82" fill="none" stroke="#6a6a6a" stroke-width="4"/>
<path d="M0,240 C30,240 60,215 90,205 C140,165 180,150 215,135 C260,120 300,95 340,85 C400,84 450,74 520,62" fill="none" stroke="#5a5a5a" stroke-width="5"/>
<path d="M270.5,129.1Q273.9,135.0 267.2,139.8Q260.4,144.6 250.1,148.8Q239.8,152.9 226.7,150.4Q213.7,147.8 203.4,144.3Q193.1,140.7 188.2,134.3Q183.3,127.8 199.3,125.6Q215.4,123.3 227.0,121.6Q238.6,119.8 252.8,121.4Q267.0,123.1 270.5,129.1Z" fill="#2c2c2c"/>
<ellipse cx="206.08" cy="203.29" rx="8.66" ry="3.55" fill="#30b0b0" opacity="0.85" transform="rotate(-18 206.08 203.29)"/>
<ellipse cx="264.08" cy="184.01" rx="8.33" ry="2.21" fill="#40a890" opacity="0.85" transform="rotate(-18 264.08 184.01)"/>
<ellipse cx="315.32" cy="175.16" rx="5.42" ry="3.48" fill="#6038b0" opacity="0.85" transform="rotate(-18 315.32 175.16)"/>
<ellipse cx="497.65" cy="126.68" rx="5.47" ry="3.58" fill="#d08040" opacity="0.85" transform="rotate(-18 497.65 126.68)"/>
<ellipse cx="29.92" cy="284.65" rx="8.27" ry="2.38" fill="#4060d0" opacity="0.85" transform="rotate(-18 29.92 284.65)"/>
<ellipse cx="94.53" cy="261.61" rx="8.03" ry="2.41" fill="#a03080" opacity="0.85" transform="rotate(-18 94.53 261.61)"/>
<ellipse cx="213.57" cy="236.2" rx="8.21" ry="2.51" fill="#b0b030" opacity="0.85" transform="rotate(-18 213.57 236.2)"/>
<ellipse cx="326.2" cy="198.03" rx="5.19" ry="3.4" fill="#d04040" opacity="0.85" transform="rotate(-18 326.2 198.03)"/>
<ellipse cx="372.74" cy="189.12" rx="6.86" ry="2.79" fill="#c0a030" opacity="0.85" transform="rotate(-18 372.74 189.12)"/>
<ellipse cx="84.94" cy="295.74" rx="6.99" ry="2.62" fill="#3070c0" opacity="0.85" transform="rotate(-18 84.94 295.74)"/>
<ellipse cx="139.93" cy="283.86" rx="5.04" ry="2.39" fill="#7aa030" opacity="0.85" transform="rotate(-18 139.93 283.86)"/>
<ellipse cx="194.59" cy="264.23" rx="6.42" ry="2.45" fill="#8030b0" opacity="0.85" transform="rotate(-18 194.59 264.23)"/>
<ellipse cx="256.82" cy="250.79" rx="7.79" ry="2.24" fill="#50b0d0" opacity="0.85" transform="rotate(-18 256.82 250.79)"/>
<ellipse cx="486.91" cy="186.01" rx="6.14" ry="3.33" fill="#40a890" opacity="0.85" transform="rotate(-18 486.91 186.01)"/>
<ellipse cx="88.29" cy="319.47" rx="5.11" ry="2.62" fill="#50b0d0" opacity="0.85" transform="rotate(-18 88.29 319.47)"/>
<ellipse cx="153.38" cy="305" rx="7.45" ry="3.58" fill="#6038b0" opacity="0.85" transform="rotate(-18 153.38 305)"/>
<ellipse cx="210.62" cy="292.88" rx="6" ry="3.57" fill="#8030b0" opacity="0.85" transform="rotate(-18 210.62 292.88)"/>
<ellipse cx="323.92" cy="262.69" rx="7.93" ry="2.98" fill="#2a4a80" opacity="0.85" transform="rotate(-18 323.92 262.69)"/>
<ellipse cx="384.07" cy="246" rx="6.94" ry="3.26" fill="#8030b0" opacity="0.85" transform="rotate(-18 384.07 246)"/>
<ellipse cx="91.49" cy="355.61" rx="8.26" ry="3.53" fill="#207880" opacity="0.85" transform="rotate(-18 91.49 355.61)"/>
<ellipse cx="153.96" cy="336.27" rx="8.47" ry="2.51" fill="#2a4a80" opacity="0.85" transform="rotate(-18 153.96 336.27)"/>
<ellipse cx="317.76" cy="284.69" rx="8.57" ry="2.7" fill="#60c060" opacity="0.85" transform="rotate(-18 317.76 284.69)"/>
<ellipse cx="384.91" cy="268.52" rx="6.25" ry="3.29" fill="#805030" opacity="0.85" transform="rotate(-18 384.91 268.52)"/>
<ellipse cx="435.62" cy="254.96" rx="7.77" ry="2.97" fill="#2a4a80" opacity="0.85" transform="rotate(-18 435.62 254.96)"/>
<ellipse cx="499.82" cy="237.46" rx="7.66" ry="2.95" fill="#50b0d0" opacity="0.85" transform="rotate(-18 499.82 237.46)"/>
<ellipse cx="25.8" cy="405.48" rx="7.25" ry="3.22" fill="#60c060" opacity="0.85" transform="rotate(-18 25.8 405.48)"/>
<ellipse cx="270.52" cy="339.89" rx="5.28" ry="3.25" fill="#d08040" opacity="0.85" transform="rotate(-18 270.52 339.89)"/>
<ellipse cx="326.09" cy="318.02" rx="6.72" ry="2.86" fill="#2e9e78" opacity="0.85" transform="rotate(-18 326.09 318.02)"/>
<ellipse cx="376.56" cy="299.71" rx="8.16" ry="3.37" fill="#c04080" opacity="0.85" transform="rotate(-18 376.56 299.71)"/>
<ellipse cx="96.68" cy="412.82" rx="6.34" ry="3.45" fill="#60c060" opacity="0.85" transform="rotate(-18 96.68 412.82)"/>
<ellipse cx="206.85" cy="378.34" rx="7.26" ry="3.44" fill="#c0a030" opacity="0.85" transform="rotate(-18 206.85 378.34)"/>
<ellipse cx="267.32" cy="365.52" rx="8.02" ry="2.66" fill="#a03080" opacity="0.85" transform="rotate(-18 267.32 365.52)"/>
<ellipse cx="426.86" cy="316.18" rx="7.66" ry="2.84" fill="#a03080" opacity="0.85" transform="rotate(-18 426.86 316.18)"/>
<ellipse cx="328.44" cy="375.39" rx="5.51" ry="3.16" fill="#c05838" opacity="0.85" transform="rotate(-18 328.44 375.39)"/>
<ellipse cx="431.67" cy="342.2" rx="6" ry="3.45" fill="#3070c0" opacity="0.85" transform="rotate(-18 431.67 342.2)"/>
<ellipse cx="83.88" cy="479.02" rx="6.42" ry="3.23" fill="#30a050" opacity="0.85" transform="rotate(-18 83.88 479.02)"/>
<ellipse cx="147.78" cy="462.55" rx="6.55" ry="3.07" fill="#30b0b0" opacity="0.85" transform="rotate(-18 147.78 462.55)"/>
<ellipse cx="207.57" cy="440.7" rx="8.76" ry="3.13" fill="#b0b030" opacity="0.85" transform="rotate(-18 207.57 440.7)"/>
<ellipse cx="268.43" cy="426.15" rx="7.08" ry="3.03" fill="#30a050" opacity="0.85" transform="rotate(-18 268.43 426.15)"/>
<ellipse cx="150.67" cy="492.32" rx="8.21" ry="2.66" fill="#6038b0" opacity="0.85" transform="rotate(-18 150.67 492.32)"/>
<ellipse cx="209.81" cy="475.87" rx="6.3" ry="3.44" fill="#60c060" opacity="0.85" transform="rotate(-18 209.81 475.87)"/>
<ellipse cx="259.32" cy="458.96" rx="7.91" ry="3.2" fill="#30b0b0" opacity="0.85" transform="rotate(-18 259.32 458.96)"/>
<ellipse cx="319.72" cy="443.08" rx="5.12" ry="2.21" fill="#4060d0" opacity="0.85" transform="rotate(-18 319.72 443.08)"/>
<ellipse cx="30.91" cy="545.25" rx="8.98" ry="3.19" fill="#9050d0" opacity="0.85" transform="rotate(-18 30.91 545.25)"/>
<ellipse cx="81.82" cy="535.65" rx="8.96" ry="2.83" fill="#60c060" opacity="0.85" transform="rotate(-18 81.82 535.65)"/>
<ellipse cx="204.74" cy="496.51" rx="8.1" ry="2.79" fill="#a03080" opacity="0.85" transform="rotate(-18 204.74 496.51)"/>
<ellipse cx="261.76" cy="485.33" rx="6.57" ry="2.67" fill="#50b0d0" opacity="0.85" transform="rotate(-18 261.76 485.33)"/>
<ellipse cx="384.18" cy="451.38" rx="6.94" ry="2.89" fill="#50b0d0" opacity="0.85" transform="rotate(-18 384.18 451.38)"/>
<ellipse cx="436.35" cy="443.5" rx="8.92" ry="2.37" fill="#2a4a80" opacity="0.85" transform="rotate(-18 436.35 443.5)"/>
<ellipse cx="491.87" cy="425.93" rx="5.7" ry="2.44" fill="#c0a030" opacity="0.85" transform="rotate(-18 491.87 425.93)"/>
<ellipse cx="45" cy="245" rx="12" ry="5" fill="#c07030" opacity="0.9" transform="rotate(-22 45 245)"/>
<ellipse cx="112" cy="222" rx="12" ry="5" fill="#58a838" opacity="0.9" transform="rotate(-22 112 222)"/>
<ellipse cx="142" cy="205" rx="12" ry="5" fill="#8030b0" opacity="0.9" transform="rotate(-22 142 205)"/>
<ellipse cx="178" cy="278" rx="12" ry="5" fill="#20a8a0" opacity="0.9" transform="rotate(-22 178 278)"/>
<ellipse cx="228" cy="258" rx="12" ry="5" fill="#b09028" opacity="0.9" transform="rotate(-22 228 258)"/>
<ellipse cx="128" cy="315" rx="12" ry="5" fill="#3060c0" opacity="0.9" transform="rotate(-22 128 315)"/>
<ellipse cx="405" cy="205" rx="12" ry="5" fill="#30b060" opacity="0.9" transform="rotate(-22 405 205)"/>
<ellipse cx="95" cy="340" rx="12" ry="5" fill="#7038c0" opacity="0.9" transform="rotate(-22 95 340)"/>
<ellipse cx="428" cy="100" rx="12" ry="5" fill="#8030b0" opacity="0.9" transform="rotate(-22 428 100)"/>
<ellipse cx="475" cy="85" rx="12" ry="5" fill="#b04838" opacity="0.9" transform="rotate(-22 475 85)"/>
</svg>
<text x="370.7" y="200.45" font-size="7.8" font-weight="bold" fill="#000" opacity=".4" stroke="#000" stroke-width="1.2" stroke-opacity=".3">SM</text>
<text x="370.7" y="200.45" font-size="7.8" font-weight="bold" fill="#fff">SM</text>
<rect x="428.5" y="198.05" width="15.6" height="2.4" fill="#fff"/>
<rect x="368.5" y="123.75" width="78.6" height="78" fill="none" stroke="#2b2b2b" stroke-width=".7"/>
<svg x="449.6" y="123.75" width="78.4" height="78" viewBox="0 0 504.9 502.32" preserveAspectRatio="none" overflow="hidden">
<rect width="520" height="520" fill="#9a9a9a"/>
<rect width="520" height="520" fill="url(#hA)"/>
<rect width="520" height="520" fill="url(#hB)"/>
<rect width="520" height="520" filter="url(#nzi)" opacity="0.22" style="mix-blend-mode:overlay"/>
<path d="M0,240 C30,240 60,215 90,205 C140,165 180,150 215,135 C260,120 300,95 340,85 C400,84 450,74 520,62 L520,0 L0,0Z" fill="#e0e0e0"/>
<path d="M0,0 L285,0 C225,34 130,62 0,82Z" fill="#8e8e8e"/>
<path d="M285,0 C225,34 130,62 0,82" fill="none" stroke="#6a6a6a" stroke-width="4"/>
<path d="M0,240 C30,240 60,215 90,205 C140,165 180,150 215,135 C260,120 300,95 340,85 C400,84 450,74 520,62" fill="none" stroke="#5a5a5a" stroke-width="5"/>
<path d="M270.2,128.3Q268.6,135.0 266.4,140.5Q264.2,145.9 251.1,147.4Q238.1,148.9 222.8,150.5Q207.6,152.1 202.7,146.1Q197.8,140.0 194.7,134.5Q191.5,129.0 199.0,123.1Q206.5,117.1 222.7,118.1Q238.9,119.1 255.3,120.3Q271.7,121.5 270.2,128.3Z" fill="#2c2c2c"/>
<ellipse cx="34.63" cy="250.58" rx="7.34" ry="2.7" fill="#6038b0" opacity="0.85" transform="rotate(-18 34.63 250.58)"/>
<ellipse cx="86.08" cy="239.81" rx="5.11" ry="2.56" fill="#50b0d0" opacity="0.85" transform="rotate(-18 86.08 239.81)"/>
<ellipse cx="199.99" cy="201.39" rx="8.42" ry="3.11" fill="#2e9e78" opacity="0.85" transform="rotate(-18 199.99 201.39)"/>
<ellipse cx="260.76" cy="190.05" rx="8.63" ry="3.58" fill="#b0b030" opacity="0.85" transform="rotate(-18 260.76 190.05)"/>
<ellipse cx="503.21" cy="117.34" rx="7.2" ry="2.45" fill="#a03080" opacity="0.85" transform="rotate(-18 503.21 117.34)"/>
<ellipse cx="39.8" cy="279.94" rx="6.76" ry="2.21" fill="#3070c0" opacity="0.85" transform="rotate(-18 39.8 279.94)"/>
<ellipse cx="94.6" cy="267.43" rx="8.73" ry="3.1" fill="#d08040" opacity="0.85" transform="rotate(-18 94.6 267.43)"/>
<ellipse cx="204.63" cy="231.52" rx="6.31" ry="2.94" fill="#4060d0" opacity="0.85" transform="rotate(-18 204.63 231.52)"/>
<ellipse cx="269.26" cy="214.9" rx="6.11" ry="3.47" fill="#50b0d0" opacity="0.85" transform="rotate(-18 269.26 214.9)"/>
<ellipse cx="321.73" cy="196.56" rx="5.21" ry="2.85" fill="#d08040" opacity="0.85" transform="rotate(-18 321.73 196.56)"/>
<ellipse cx="499.59" cy="152.6" rx="8.54" ry="2.45" fill="#98a028" opacity="0.85" transform="rotate(-18 499.59 152.6)"/>
<ellipse cx="91.21" cy="296.13" rx="7.23" ry="2.9" fill="#98a028" opacity="0.85" transform="rotate(-18 91.21 296.13)"/>
<ellipse cx="202.93" cy="260.58" rx="7.75" ry="2.4" fill="#9050d0" opacity="0.85" transform="rotate(-18 202.93 260.58)"/>
<ellipse cx="379.42" cy="215.84" rx="7.21" ry="2.77" fill="#b0b030" opacity="0.85" transform="rotate(-18 379.42 215.84)"/>
<ellipse cx="502.82" cy="180.7" rx="8.23" ry="2.57" fill="#c0a030" opacity="0.85" transform="rotate(-18 502.82 180.7)"/>
<ellipse cx="83.48" cy="329.17" rx="5.01" ry="3.54" fill="#b04838" opacity="0.85" transform="rotate(-18 83.48 329.17)"/>
<ellipse cx="147.99" cy="310.74" rx="7.21" ry="2.69" fill="#6038b0" opacity="0.85" transform="rotate(-18 147.99 310.74)"/>
<ellipse cx="195.59" cy="291.82" rx="8.36" ry="2.54" fill="#3070c0" opacity="0.85" transform="rotate(-18 195.59 291.82)"/>
<ellipse cx="255.72" cy="279.65" rx="8.53" ry="3.51" fill="#b0b030" opacity="0.85" transform="rotate(-18 255.72 279.65)"/>
<ellipse cx="328.53" cy="261.37" rx="8.08" ry="2.42" fill="#4060d0" opacity="0.85" transform="rotate(-18 328.53 261.37)"/>
<ellipse cx="377.55" cy="239.62" rx="7.15" ry="2.79" fill="#50b0d0" opacity="0.85" transform="rotate(-18 377.55 239.62)"/>
<ellipse cx="444.83" cy="232.15" rx="5.3" ry="3.58" fill="#2a4a80" opacity="0.85" transform="rotate(-18 444.83 232.15)"/>
<ellipse cx="22.91" cy="364.78" rx="5.8" ry="3.26" fill="#c04080" opacity="0.85" transform="rotate(-18 22.91 364.78)"/>
<ellipse cx="85.12" cy="357.54" rx="6.94" ry="2.32" fill="#b04838" opacity="0.85" transform="rotate(-18 85.12 357.54)"/>
<ellipse cx="269.92" cy="306.71" rx="7.93" ry="2.86" fill="#2e9e78" opacity="0.85" transform="rotate(-18 269.92 306.71)"/>
<ellipse cx="310.18" cy="284.2" rx="6.2" ry="2.32" fill="#805030" opacity="0.85" transform="rotate(-18 310.18 284.2)"/>
<ellipse cx="426.18" cy="252.71" rx="6.3" ry="2.33" fill="#9050d0" opacity="0.85" transform="rotate(-18 426.18 252.71)"/>
<ellipse cx="142.07" cy="365.92" rx="5.16" ry="3.09" fill="#207880" opacity="0.85" transform="rotate(-18 142.07 365.92)"/>
<ellipse cx="206.78" cy="349.89" rx="8.87" ry="3.5" fill="#3070c0" opacity="0.85" transform="rotate(-18 206.78 349.89)"/>
<ellipse cx="261.76" cy="340.69" rx="7.72" ry="2.24" fill="#c0a030" opacity="0.85" transform="rotate(-18 261.76 340.69)"/>
<ellipse cx="438.73" cy="287.18" rx="8.56" ry="3.45" fill="#2a4a80" opacity="0.85" transform="rotate(-18 438.73 287.18)"/>
<ellipse cx="90.91" cy="414.93" rx="5.24" ry="2.34" fill="#3070c0" opacity="0.85" transform="rotate(-18 90.91 414.93)"/>
<ellipse cx="212.81" cy="378.6" rx="8.14" ry="3.38" fill="#9050d0" opacity="0.85" transform="rotate(-18 212.81 378.6)"/>
<ellipse cx="322.56" cy="353.37" rx="6.24" ry="2.6" fill="#8030b0" opacity="0.85" transform="rotate(-18 322.56 353.37)"/>
<ellipse cx="372.44" cy="330.05" rx="8.5" ry="2.33" fill="#50b0d0" opacity="0.85" transform="rotate(-18 372.44 330.05)"/>
<ellipse cx="431.71" cy="317.55" rx="8.91" ry="2.34" fill="#30a050" opacity="0.85" transform="rotate(-18 431.71 317.55)"/>
<ellipse cx="93.33" cy="443.64" rx="8.49" ry="3.49" fill="#6038b0" opacity="0.85" transform="rotate(-18 93.33 443.64)"/>
<ellipse cx="326.67" cy="381.83" rx="6.34" ry="2.86" fill="#207880" opacity="0.85" transform="rotate(-18 326.67 381.83)"/>
<ellipse cx="440.93" cy="343.41" rx="8.41" ry="2.38" fill="#3070c0" opacity="0.85" transform="rotate(-18 440.93 343.41)"/>
<ellipse cx="490.14" cy="336.78" rx="5.16" ry="2.29" fill="#2a4a80" opacity="0.85" transform="rotate(-18 490.14 336.78)"/>
<ellipse cx="32.29" cy="493.28" rx="6.43" ry="2.61" fill="#30b0b0" opacity="0.85" transform="rotate(-18 32.29 493.28)"/>
<ellipse cx="83.48" cy="470.65" rx="8.26" ry="3.43" fill="#c04080" opacity="0.85" transform="rotate(-18 83.48 470.65)"/>
<ellipse cx="208.26" cy="438.76" rx="5.49" ry="2.52" fill="#2e9e78" opacity="0.85" transform="rotate(-18 208.26 438.76)"/>
<ellipse cx="433.44" cy="379.56" rx="7.33" ry="3.31" fill="#50b0d0" opacity="0.85" transform="rotate(-18 433.44 379.56)"/>
<ellipse cx="501.06" cy="367.02" rx="5.79" ry="2.64" fill="#30a050" opacity="0.85" transform="rotate(-18 501.06 367.02)"/>
<ellipse cx="26.29" cy="517.82" rx="6.79" ry="2.58" fill="#b04838" opacity="0.85" transform="rotate(-18 26.29 517.82)"/>
<ellipse cx="97.44" cy="505.5" rx="8.73" ry="2.97" fill="#30a050" opacity="0.85" transform="rotate(-18 97.44 505.5)"/>
<ellipse cx="154.82" cy="488.07" rx="8.36" ry="3.48" fill="#40a890" opacity="0.85" transform="rotate(-18 154.82 488.07)"/>
<ellipse cx="209.88" cy="472.41" rx="6.18" ry="2.74" fill="#207880" opacity="0.85" transform="rotate(-18 209.88 472.41)"/>
<ellipse cx="322.04" cy="435.96" rx="8.93" ry="2.22" fill="#c0a030" opacity="0.85" transform="rotate(-18 322.04 435.96)"/>
<ellipse cx="373.51" cy="418.42" rx="5.9" ry="2.81" fill="#c0a030" opacity="0.85" transform="rotate(-18 373.51 418.42)"/>
<ellipse cx="429.83" cy="413.12" rx="7.95" ry="2.52" fill="#8030b0" opacity="0.85" transform="rotate(-18 429.83 413.12)"/>
<ellipse cx="97.2" cy="536.56" rx="5.9" ry="3.01" fill="#30a050" opacity="0.85" transform="rotate(-18 97.2 536.56)"/>
<ellipse cx="150.88" cy="517.89" rx="6.55" ry="3.42" fill="#b0b030" opacity="0.85" transform="rotate(-18 150.88 517.89)"/>
<ellipse cx="270.63" cy="490.95" rx="7.68" ry="3.46" fill="#30a050" opacity="0.85" transform="rotate(-18 270.63 490.95)"/>
<ellipse cx="45" cy="245" rx="12" ry="5" fill="#c07030" opacity="0.9" transform="rotate(-22 45 245)"/>
<ellipse cx="112" cy="222" rx="12" ry="5" fill="#58a838" opacity="0.9" transform="rotate(-22 112 222)"/>
<ellipse cx="142" cy="205" rx="12" ry="5" fill="#8030b0" opacity="0.9" transform="rotate(-22 142 205)"/>
<ellipse cx="178" cy="278" rx="12" ry="5" fill="#20a8a0" opacity="0.9" transform="rotate(-22 178 278)"/>
<ellipse cx="228" cy="258" rx="12" ry="5" fill="#b09028" opacity="0.9" transform="rotate(-22 228 258)"/>
<ellipse cx="128" cy="315" rx="12" ry="5" fill="#3060c0" opacity="0.9" transform="rotate(-22 128 315)"/>
<ellipse cx="405" cy="205" rx="12" ry="5" fill="#30b060" opacity="0.9" transform="rotate(-22 405 205)"/>
<ellipse cx="95" cy="340" rx="12" ry="5" fill="#7038c0" opacity="0.9" transform="rotate(-22 95 340)"/>
<ellipse cx="428" cy="100" rx="12" ry="5" fill="#8030b0" opacity="0.9" transform="rotate(-22 428 100)"/>
<ellipse cx="475" cy="85" rx="12" ry="5" fill="#b04838" opacity="0.9" transform="rotate(-22 475 85)"/>
</svg>
<text x="451.8" y="200.45" font-size="7.8" font-weight="bold" fill="#000" opacity=".4" stroke="#000" stroke-width="1.2" stroke-opacity=".3">GM</text>
<text x="451.8" y="200.45" font-size="7.8" font-weight="bold" fill="#fff">GM</text>
<rect x="509.6" y="198.05" width="15.6" height="2.4" fill="#fff"/>
<rect x="449.6" y="123.75" width="78.4" height="78" fill="none" stroke="#2b2b2b" stroke-width=".7"/>
<text transform="translate(0.4 218.9) scale(1.14 1)" font-size="9.9" font-weight="bold" fill="#111" stroke="#111" stroke-width=".42" stroke-linejoin="round">g</text>
<path d="M99.0,284.0Q100.0,272.0 111.5,269.0Q122.9,266.0 130.2,266.5Q137.5,267.0 142.2,269.6Q146.9,272.3 148.9,278.1Q151.0,283.8 151.5,291.1Q152.0,298.3 151.0,303.6Q150.0,308.8 149.0,314.6Q148.0,320.5 139.7,322.1Q131.3,323.8 123.7,323.1Q116.0,322.5 108.0,320.2Q100.0,318.0 99.0,307.0Q98.0,296.0 99.0,284.0Z" fill="#fa8932"/>
<path d="M35.9,302.5Q33.0,298.5 34.9,293.0Q36.8,287.5 40.9,283.2Q45.0,279.0 50.1,273.6Q55.2,268.2 61.0,266.0Q66.7,263.8 73.0,263.2Q79.2,262.6 86.5,263.0Q93.8,263.4 99.0,262.7Q104.2,262.0 106.2,261.0Q108.3,260.0 110.9,262.5Q113.5,265.0 113.5,274.4Q113.5,283.8 113.2,291.1Q113.0,298.3 112.8,305.6Q112.5,313.0 111.2,316.5Q110.0,320.0 107.1,321.2Q104.2,322.5 99.0,323.0Q93.8,323.5 85.4,322.8Q77.0,322.0 68.7,319.8Q60.4,317.5 54.5,315.1Q48.5,312.6 43.6,309.6Q38.8,306.5 35.9,302.5Z" fill="#1976bf"/>
<path d="M70.4,245.2Q70.8,242.0 75.0,239.6Q79.2,237.2 85.1,236.7Q91.0,236.2 92.4,233.6Q93.8,231.0 97.9,231.3Q102.0,231.7 104.5,233.8Q107.0,235.8 106.1,238.9Q105.2,242.0 106.5,245.2Q107.8,248.3 104.9,250.8Q102.0,253.2 94.8,254.2Q87.5,255.3 81.2,254.8Q75.0,254.3 72.5,251.3Q70.0,248.3 70.4,245.2Z" fill="#1976bf"/>
<path d="M138.0,238.0Q133.0,229.0 136.3,229.8Q139.6,230.5 144.1,228.8Q148.5,227.0 149.5,231.4Q150.5,235.8 151.0,242.1Q151.5,248.3 153.2,251.2Q155.0,254.2 151.4,255.3Q147.9,256.5 145.4,251.8Q143.0,247.0 138.0,238.0Z" fill="#fa8932"/>
<path d="M123.0,224.9Q116.9,219.8 117.8,227.8Q118.8,235.8 121.9,243.7Q125.0,251.5 128.2,254.8Q131.3,258.0 136.2,257.0Q141.2,256.0 143.8,253.2Q146.5,250.4 143.8,244.4Q141.2,238.5 135.2,234.2Q129.2,230.0 123.0,224.9Z" fill="#1976bf"/>
<path d="M208.1,269.4Q208.6,271.5 208.1,273.6Q207.6,275.8 206.3,277.5Q205.0,279.2 203.1,280.1Q201.1,281.1 199.0,281.1Q196.9,281.1 194.9,280.1Q193.0,279.2 191.7,277.5Q190.4,275.8 189.9,273.6Q189.4,271.5 189.9,269.4Q190.4,267.2 191.7,265.5Q193.0,263.8 194.9,262.9Q196.9,261.9 199.0,261.9Q201.1,261.9 203.1,262.9Q205.0,263.8 206.3,265.5Q207.6,267.2 208.1,269.4Z" fill="#fa8932"/>
<g transform="scale(.1)">
<path d="M1285 3244h8M1186 3240h8M1374 2603h8M1216 2644h8M1175 3248h8M1506 3066h8M1094 2678h8M1451 2683h8M1179 2667h8M1386 3268h8M1259 2661h8M1492 2772h8M1545 2962h8M1138 3233h8M1531 3100h8M1513 2763h8M1515 2887h8M1329 3260h8M1351 3255h8M1134 3238h8M1547 2859h8M1508 2796h8M1396 3248h8M1510 3151h8M1506 2792h8M1216 2613h8M1489 2777h8M1201 3233h8M1402 3233h8M1101 3217h8M1508 2822h8M1497 3184h8M1500 2754h8M1327 3248h8M1509 2822h8M1521 2946h8M1569 2949h8M1516 2854h8M947 2877h8M1497 3106h8M1233 3232h8M1210 3233h8M1528 2921h8M1523 3019h8M1521 2958h8M1263 3251h8M1514 2817h8M1298 2663h8M1480 3206h8M1185 2663h8M1542 3043h8M1127 2634h8M1421 3218h8M1508 3144h8M1506 3140h8M1441 2702h8M1497 3105h8M1516 2842h8M1511 2833h8M1446 3239h8M1513 3102h8M1338 2654h8M1462 2713h8M1482 2751h8M1302 3242h8M1488 3200h8M1332 2658h8M1444 2703h8M1498 3168h8M1426 2687h8M1530 2957h8M1263 2641h8M1539 3008h8M1524 2932h8M1527 2932h8M1090 3207h8M1460 2715h8M1520 2933h8M1522 2849h8M949 3019h8M1427 2686h8M1267 2655h8M1251 2649h8M1416 2676h8M1465 2711h8M1530 2901h8M1507 3066h8M1553 2961h8M991 2789h8M1512 3041h8M1218 3234h8M1472 2715h8M1097 3224h8M1288 3243h8M1466 2707h8M1523 2902h8M1395 2677h8M1188 2661h8M1309 3271h8M1425 2692h8M1362 2663h8M1074 2699h8M1506 2769h8M1525 2953h8M1360 3242h8M1377 2650h8M1498 3170h8M1349 2658h8M1504 3097h8M1542 2943h8M1334 2664h8M1253 3245h8M1284 2621h8M1539 2857h8M1374 3231h8M1545 3037h8M1487 3227h8M1536 2948h8M1465 3216h8M1422 2676h8M1494 2741h8M1522 2996h8M1306 3244h8M1085 3211h8M1329 3242h8M1516 3008h8M1070 3226h8M1194 2647h8M1192 3234h8M1501 3236h8M1484 2728h8M1258 2660h8M1102 3210h8M1271 3255h8M1495 3121h8M1488 3156h8M1516 2861h8M1227 2660h8M1297 2662h8M1535 2794h8M1137 2664h8M1342 3232h8M1119 3245h8M1540 2891h8M1521 3079h8M1310 2664h8M1522 3027h8M1526 2884h8M1490 2744h8M1150 2646h8M1318 2655h8M1517 3045h8M1139 2682h8M1526 3078h8M1377 2630h8M1344 2661h8M1538 2963h8M1196 2661h8M1513 2837h8M1355 2663h8M1540 3090h8M1507 3111h8M1110 3227h8M1343 3241h8M1365 3256h8M1116 3238h8M1062 2700h8M1181 2661h8M1256 3244h8M1454 3213h8M1510 2822h8M1274 3235h8M1525 2915h8M1492 3139h8M1238 2655h8M1510 2825h8M1250 2619h8M1491 3175h8M1530 2816h8M1521 2952h8M1493 2791h8M1389 2678h8M1146 2676h8M1416 2620h8M1485 2762h8M1436 2670h8M1363 2667h8M1518 2921h8M1511 3088h8M1510 3108h8M1315 3244h8M1147 2678h8M1175 2672h8M1514 2895h8M1506 3134h8M1168 3236h8M1493 3155h8M1379 3229h8M1310 2636h8M1313 2656h8M1517 3021h8M1454 3222h8M1535 2903h8M1491 3187h8M1551 2858h8M1521 2930h8M1519 2932h8M1261 3269h8M1512 3077h8M1366 3230h8M1437 3220h8M1429 2699h8M1481 2747h8M1389 3231h8M995 3139h8M1272 2639h8M1514 2860h8M1182 2660h8M1075 3230h8M1351 3249h8M1181 3228h8M1298 3307h8M1500 3136h8M1525 2891h8M1517 2899h8M1522 3005h8M1292 3237h8M1481 2729h8M1509 2807h8M1500 3107h8M1378 2659h8M1063 3236h8M1460 2659h8M1461 3213h8M1504 3068h8M1470 2725h8M1491 3199h8M1490 3196h8M1236 3250h8M1357 3241h8M1541 2939h8M1197 3258h8M1538 2968h8M1518 3018h8M1528 2754h8M1522 2913h8M1486 2706h8M1502 3168h8M1174 3238h8M1513 2742h8M1350 2633h8M990 2781h8M1519 2803h8M1487 3164h8M1218 2643h8M1521 2973h8M1527 2794h8M1373 3236h8M1386 2671h8M1213 2652h8M1454 2708h8M1252 2639h8M1265 2642h8M1515 3157h8M1489 2765h8M1455 2710h8M1543 2778h8M1492 3191h8M1476 2733h8M1416 2692h8M1362 3251h8M1479 3211h8M1517 2943h8M1309 3257h8M1370 2655h8M1490 2724h8M1525 3020h8M1527 2897h8M1422 2675h8M1391 3223h8M1136 3223h8M1283 3269h8M1485 2758h8M1176 2636h8M1466 3208h8M1101 3222h8M1109 3222h8M1340 2648h8M1396 2655h8M1337 3242h8M971 2850h8M1156 3225h8M1465 3228h8M1453 2710h8M1543 2987h8M985 2826h8M1370 2668h8M1186 2660h8M1385 2655h8M1144 2678h8M1296 2640h8M1180 2671h8M1453 2709h8M1190 3235h8M1322 2661h8M1411 2650h8M1487 3188h8M1510 3079h8M1484 2720h8M1481 2744h8M1415 3251h8M1103 3211h8M1467 3224h8M1455 3221h8M1473 3228h8M1165 3231h8M1337 3263h8M1521 2804h8M1213 3251h8M1367 3233h8M1155 2646h8M1147 3225h8M1485 2766h8M1140 2682h8M1110 3224h8M1479 3212h8M1566 2977h8M1506 2826h8M1077 3223h8M1479 2746h8M1535 3014h8M1530 3010h8M1314 2647h8M1518 3036h8M1358 3233h8M1504 2731h8M1212 3236h8M1409 3228h8M1106 3220h8M1291 3238h8M1472 3210h8M1496 3184h8M1164 2672h8M1504 3076h8M1193 3247h8M1516 2761h8M1506 3161h8M1463 3233h8M1317 3251h8M1527 2830h8M1306 2652h8M1226 2645h8M1496 3116h8M1315 3245h8M1547 2942h8M1166 3239h8M1442 3217h8M1178 3236h8M1257 2662h8M1511 2853h8M1302 2628h8M1233 2636h8M1450 2707h8M1373 3231h8M1188 2654h8M1522 2915h8M1407 2669h8M1524 3058h8M1417 3230h8M1223 3251h8M1405 2678h8M1219 3232h8M1163 3267h8M1416 2661h8M1503 3114h8M1504 3117h8M1240 2657h8M1519 2745h8M1304 2654h8M1232 2650h8M1525 2954h8M1445 3250h8M1535 2808h8M1519 2907h8M1289 3244h8M1359 2665h8M1520 3057h8M1504 3100h8M1436 2698h8M1537 2946h8M1107 3210h8M1430 2692h8M1517 3058h8M1261 2662h8M1514 2894h8M1331 3241h8M1401 2682h8M1530 2849h8M1401 2652h8M1337 2666h8M1303 3247h8M1185 2661h8M1532 2967h8M1074 2691h8M1502 3123h8M1155 3239h8M1270 2659h8M1034 3234h8M1177 2667h8M1371 2656h8M1476 2731h8M1403 3225h8M1464 3264h8M1333 3253h8M1493 3136h8M1238 2656h8M1191 2662h8M1276 2663h8M1363 3261h8M1547 2964h8M1436 2676h8M1487 2691h8M1483 3196h8M1397 2660h8M1513 3031h8M1523 2910h8M1556 2861h8M1520 2976h8M1508 2822h8M1509 3109h8M1436 2689h8M1545 3014h8M1521 2936h8M1400 3221h8M1542 2958h8M992 3095h8M1192 3250h8M1434 3240h8M1438 3222h8M1263 3262h8M1502 3087h8M1520 3023h8M1537 2867h8M1260 3261h8M1517 2932h8M1232 3247h8M1499 3205h8M1415 3226h8M1532 3088h8M1375 3233h8M1168 2676h8M1530 2915h8M1268 2626h8M1495 3150h8M1326 2655h8M1083 2689h8M1510 3102h8M1160 2676h8M1523 2917h8M1421 3223h8M1468 2715h8M1452 2670h8M1481 2728h8M1509 3040h8M1494 3192h8M1490 3193h8M1466 2718h8M1493 2766h8M1252 3234h8M1409 2683h8M1507 2786h8M1524 3157h8M1491 3173h8M1191 3229h8M1252 3238h8M1567 2943h8M1475 2723h8M1278 3242h8M1413 3248h8M1156 3226h8M1181 2646h8M1526 2947h8M1275 2653h8M1014 2702h8M1363 3249h8M1281 2641h8M1513 2874h8M1358 3254h8M1479 2690h8M1300 3254h8M1419 2689h8M1199 3245h8M1513 2844h8M1545 3063h8M1293 3286h8M1522 2889h8M1525 2970h8M1506 3150h8M1491 3143h8M1457 2687h8M1530 2885h8M1160 2676h8M1426 2696h8M1238 3279h8M1160 2674h8M1270 3238h8M1494 2787h8M1530 2977h8M1245 2645h8M1286 2658h8M1518 2892h8M1154 2653h8M1393 3256h8M1524 3046h8M1500 3161h8M1523 2959h8M1218 2648h8M1466 3214h8M1490 2735h8M1239 2601h8M1520 2816h8M1280 3267h8M1083 3221h8M1467 2721h8M1363 3230h8M1376 3233h8M1335 2655h8M1461 2707h8M1521 2957h8M1584 3074h8M1330 3241h8M1319 3250h8M1528 2809h8M1120 3228h8M1231 2656h8M1478 2723h8M1276 3243h8M1534 2926h8M1403 3250h8M1504 3116h8M1388 2663h8" stroke="#fa8932" stroke-width="8" fill="none"/>
<path d="M554 2678h8M920 3244h8M1041 2617h8M489 2730h8M772 2624h8M970 3266h8M651 3194h8M802 2625h8M1127 3085h8M987 3250h8M1120 3160h8M303 2970h8M355 2908h8M1142 2852h8M867 3229h8M489 2746h8M380 3056h8M396 3081h8M1145 2862h8M725 2627h8M605 2661h8M486 2747h8M333 2966h8M1030 2621h8M1138 2871h8M1111 3193h8M585 3200h8M713 3220h8M1135 2976h8M342 2940h8M578 2668h8M1168 2954h8M456 3125h8M1138 2935h8M1092 3205h8M1123 2635h8M446 3109h8M800 3232h8M714 2628h8M1142 2962h8M621 3186h8M399 2832h8M672 2614h8M1111 3230h8M619 3180h8M906 3233h8M924 3244h8M533 3148h8M751 2620h8M666 2636h8M853 2627h8M560 3182h8M1097 2613h8M983 2619h8M665 2628h8M1101 3221h8M1135 2817h8M578 3181h8M733 2617h8M596 2632h8M1152 3118h8M1015 2617h8M366 3047h8M732 2623h8M1067 3237h8M537 3161h8M437 3100h8M989 3233h8M493 2744h8M518 3140h8M395 3075h8M1143 3179h8M814 2621h8M869 2625h8M1146 3191h8M1089 2605h8M878 2620h8M1152 2832h8M1049 3227h8M1142 2879h8M1150 2764h8M429 3094h8M326 2997h8M1130 2996h8M362 3049h8M1094 2602h8M1038 2591h8M978 3232h8M332 2988h8M1101 2615h8M408 2808h8M303 2971h8M987 2627h8M1166 2666h8M490 3130h8M1131 2971h8M788 2619h8M680 3220h8M802 3230h8M618 3183h8M1138 2900h8M937 2632h8M338 3006h8M614 2649h8M666 2634h8M824 3233h8M1133 2943h8M916 2611h8M378 2860h8M1142 3139h8M525 3165h8M983 3236h8M371 2846h8M491 3129h8M410 3092h8M744 2625h8M797 3240h8M659 2641h8M497 3136h8M1136 2825h8M756 2595h8M538 3168h8M484 2753h8M423 3091h8M595 3203h8M1135 3158h8M1084 2600h8M786 3222h8M1116 3168h8M1147 2965h8M1133 2907h8M477 2738h8M932 2605h8M1141 2916h8M1142 3006h8M1138 3039h8M1134 2868h8M1137 2977h8M731 3232h8M1137 2721h8M598 3173h8M614 3181h8M1178 3114h8M477 3126h8M639 2639h8M1135 2876h8M1141 2763h8M631 3188h8M527 2683h8M1149 2659h8M668 2631h8M1064 2603h8M755 3244h8M517 2705h8M1141 2726h8M1137 2800h8M317 2965h8M349 2903h8M351 3044h8M366 2831h8M656 2640h8M1134 2903h8M333 2966h8M674 2600h8M1144 2741h8M970 3237h8M1151 2853h8M1130 3041h8M806 3226h8M1132 3155h8M466 3115h8M924 3236h8M1065 3215h8M1138 2850h8M761 3232h8M538 3148h8M794 3225h8M1023 3228h8M1139 2713h8M1162 3004h8M394 2798h8M425 3090h8M513 2720h8M1109 3181h8M1037 2598h8M1140 2744h8M979 2624h8M998 3231h8M1140 2716h8M535 2693h8M880 2621h8M989 3239h8M1137 2997h8M1121 2636h8M757 2622h8M825 3236h8M338 2954h8M886 3237h8M872 3230h8M623 3203h8M716 2631h8M1166 2826h8M617 2641h8M514 2710h8M553 2667h8M1062 2607h8M1077 3210h8M616 3182h8M1139 3080h8M966 3246h8M612 3203h8M986 3241h8M789 2622h8M1118 2632h8M1164 2726h8M1130 3120h8M723 2632h8M656 2636h8M516 2715h8M1162 2831h8M331 2885h8M941 2626h8M355 2896h8M1143 2742h8M937 2631h8M1061 2587h8M1141 3005h8M681 3200h8M1087 2599h8M1148 2886h8M1153 2859h8M1070 2592h8M750 2624h8M1158 3047h8M843 3235h8M1167 2924h8M1161 3054h8M1138 2810h8M684 2609h8M695 2629h8M679 3196h8M338 2952h8M1002 2603h8M993 2622h8M952 3236h8M739 3220h8M1134 2636h8M331 3042h8M657 2638h8M1137 3123h8M1136 2777h8M379 3066h8M1131 3084h8M776 2616h8M1140 2661h8M784 3244h8M1157 2877h8M891 2623h8M394 3104h8M725 3209h8M827 3229h8M1089 3208h8M1132 3004h8M1028 2612h8M327 3004h8M592 2647h8M471 2767h8M379 3054h8M1038 2603h8M341 2928h8M928 3255h8M855 3264h8M956 3267h8M1117 2591h8M1140 2673h8M597 3175h8M334 2991h8M1143 2832h8M873 3238h8M838 2615h8M637 2646h8M355 2888h8M930 3237h8M1140 3010h8M736 3231h8M1021 3245h8M999 3249h8M611 3203h8M343 3061h8M812 3227h8M1139 2849h8M1146 2840h8M1137 2738h8M442 2775h8M1070 2606h8M1139 2664h8M1149 2836h8M1151 2755h8M444 2774h8M484 2753h8M1142 2682h8M356 2902h8M1136 2772h8M830 3238h8M609 3185h8M356 2885h8M1127 2640h8M582 3180h8M976 2611h8M904 3259h8M1072 3214h8M800 3225h8M1138 2668h8M504 3148h8M1133 2935h8M851 2629h8M798 3223h8M542 3156h8M605 2655h8M612 2645h8M949 2623h8M393 2818h8M1133 3168h8M1143 2742h8M1141 2659h8M1119 3164h8M417 2815h8M423 2805h8M328 2955h8M1127 3119h8M831 3241h8M1137 2889h8M371 2860h8M795 2606h8M333 2971h8M714 3207h8M1149 2679h8M1055 3222h8M1117 3153h8M450 3134h8M345 2934h8M539 3170h8M1133 2893h8M396 2845h8M536 3176h8M545 3154h8M965 3257h8M1121 3151h8M499 2737h8M702 3206h8M1129 3034h8M1138 2753h8M796 3244h8M833 3231h8M345 2867h8M507 2660h8M599 2627h8M620 3181h8M1017 2619h8M1141 2677h8M928 2630h8M1134 3072h8M1132 3004h8M1136 2761h8M778 3223h8M668 3205h8M1157 2762h8M837 2622h8M429 2785h8M1152 2769h8M831 2627h8M1034 2618h8M1131 2944h8M931 2629h8M705 2616h8M1129 3024h8M1141 2815h8M850 3231h8M919 3253h8M1123 2613h8M1022 2604h8M491 2746h8M983 3234h8M1143 2915h8M414 3090h8M455 2767h8M769 3243h8M1137 3166h8M716 3218h8M441 3100h8M370 3072h8M1135 3059h8M1147 2956h8M334 2927h8M818 2626h8M807 2599h8M1140 2914h8M1132 2971h8M1140 2843h8M335 2897h8M511 3160h8M877 2631h8M1150 2952h8M1158 2798h8M667 2638h8M385 2847h8M539 3165h8M558 2677h8M1148 3007h8M1051 2616h8M1146 2661h8M1120 2619h8M1150 2632h8M801 3224h8M1136 2652h8M343 2926h8M461 2758h8M487 2707h8M1137 2679h8M395 2839h8M978 2618h8M426 2808h8M584 2641h8M1160 2731h8M373 2850h8M1145 2715h8M416 3087h8M550 2665h8M754 3217h8M610 3190h8M696 2615h8M966 2618h8M1130 3035h8M451 2765h8M378 3055h8M504 2716h8M1135 2764h8M769 3224h8M1136 2816h8M1114 3165h8M308 2978h8M326 3026h8M1161 2667h8M681 2630h8M1048 2615h8M359 3043h8M613 2658h8M1141 2671h8M960 2625h8M1078 3213h8M510 2707h8M1137 2653h8M935 2616h8M457 3113h8M585 2667h8M962 2625h8M1133 2905h8M1010 3233h8M448 2789h8M1058 3233h8M716 2625h8M345 2933h8M587 2668h8M997 2614h8M974 3236h8M822 3230h8M655 2619h8M1136 2742h8M778 3232h8M979 2607h8M1155 2854h8M337 2947h8M835 3243h8M716 3210h8M411 3085h8M450 2789h8M983 2613h8M1144 2976h8M320 2993h8M347 2888h8M444 2778h8M531 2674h8M450 3129h8M1138 3075h8M333 2950h8M1122 3143h8M356 3024h8M944 2621h8M685 3208h8M335 2994h8M1135 2818h8M699 3205h8M568 3161h8M750 2626h8M1130 2995h8M566 3164h8M934 3245h8M1098 3202h8M379 3074h8M923 2620h8M1054 2606h8M502 2734h8M331 2967h8M334 2971h8M946 2632h8M1144 2905h8M1141 2709h8M335 2998h8M341 2947h8M875 3231h8M977 2606h8M721 3207h8M1136 3130h8M484 2695h8M889 3235h8M1107 3202h8M1043 3225h8M1105 3196h8M397 3074h8M1004 2622h8M1036 2619h8M1130 2992h8M1130 3110h8M394 2816h8M558 2673h8M727 3219h8M413 2811h8M1001 2625h8M1030 3241h8M1131 2624h8M404 2833h8M770 3228h8M873 2612h8M1135 2951h8M354 2899h8M362 2887h8M342 3032h8M1075 3243h8M1139 2740h8M662 3191h8M808 3251h8M413 2802h8M347 2903h8M1104 3197h8M539 2676h8M576 3198h8M1073 3221h8M540 2669h8M698 3202h8M1118 3180h8M578 3165h8M1138 2958h8M352 2908h8M766 3231h8M1123 2637h8M330 2995h8M1161 3003h8M667 2635h8M577 2663h8M497 2728h8M1108 3189h8M1146 2929h8M1135 3020h8M1022 3253h8M1150 2691h8M979 3233h8M1138 2695h8M1122 3168h8M970 2606h8M1132 3131h8M1119 3205h8M564 3185h8M769 3245h8M336 2854h8M1138 3047h8M1172 2855h8M1074 2598h8M688 3215h8M672 3197h8M343 3007h8M525 2672h8M1149 2811h8M837 2622h8M930 3249h8M1137 2854h8M331 2991h8M1033 2620h8M763 2623h8M705 3211h8M1143 2854h8M513 3145h8M441 2798h8M745 2628h8M1110 2623h8M1143 2732h8M452 2772h8M1131 3029h8M761 3222h8M925 2633h8M482 3125h8M346 3021h8M329 2987h8M1136 2843h8M430 3099h8M966 2620h8M916 3238h8M854 2624h8M617 2626h8M1175 2727h8M1020 3236h8M513 2707h8M1126 2621h8M439 3105h8M847 2613h8M989 3235h8M423 2805h8M1141 2969h8M565 3171h8M1112 2595h8M992 2626h8M497 2740h8M800 2620h8M1148 3111h8M865 2612h8M422 3101h8M1085 3207h8M1143 3085h8M531 3157h8M671 3211h8M809 2615h8M1142 2670h8M386 3069h8M1150 2921h8M409 3088h8M821 3232h8M896 2630h8M908 2631h8M428 3100h8M1111 3199h8M911 2630h8M1150 2722h8M753 3219h8M705 2615h8M516 2686h8M999 3233h8M1176 2793h8M984 3233h8M1039 2620h8M1137 2897h8M941 2632h8M673 2622h8M1135 2633h8M1145 2939h8M473 2741h8M547 3156h8M795 3239h8M571 3170h8M1132 2946h8M674 3205h8M397 3077h8M366 2880h8M1134 2881h8M980 3243h8M1138 3088h8M453 2764h8M611 3188h8M1154 2620h8M1151 2936h8M1138 2997h8M591 2664h8M729 2631h8M522 2703h8M503 3167h8M1150 3142h8M730 2600h8M575 2658h8M976 2615h8M464 2756h8M1139 2790h8M435 2748h8M921 2622h8M793 2615h8M381 2861h8M600 2653h8M1058 3257h8M361 3034h8M1152 2770h8M644 3186h8M1149 2808h8M1136 2934h8M346 3011h8M1071 2587h8M861 3263h8M351 2866h8M516 2713h8M1160 3048h8M1043 2576h8M854 2609h8M399 2812h8M688 3201h8M580 2670h8M1001 3233h8M1136 2721h8M802 3242h8M1109 3188h8M1012 2623h8M424 2790h8M1130 3084h8M539 3208h8M489 2748h8M828 2625h8M718 3207h8M851 3236h8M985 3233h8M566 3170h8M923 3262h8M922 2610h8M521 2706h8M1060 3218h8M866 2628h8M1051 3222h8M637 2644h8M551 3156h8M896 2623h8M1142 2964h8M1141 2813h8M426 2810h8M1134 2634h8M899 3240h8M1139 2886h8M1047 3224h8M961 3238h8M1157 2678h8M643 2628h8M351 3020h8M362 2891h8M392 2847h8M669 2614h8M340 2867h8M412 2815h8M1061 3230h8M493 2743h8M1140 2671h8M1178 2797h8M1142 2829h8M504 2710h8M510 2706h8M500 3141h8M562 3182h8M1182 2795h8M1138 2915h8M745 2630h8M851 3234h8M488 2742h8M397 2836h8M601 2654h8M645 3189h8M340 3008h8M621 2651h8M591 3171h8M381 3069h8M512 3152h8M550 3155h8M430 2777h8M943 3252h8M757 2613h8M1140 2727h8M622 3196h8M538 3154h8M1136 2844h8M1137 2786h8M732 2621h8M328 2959h8M848 3230h8M392 3078h8M569 3166h8M547 3155h8M912 3238h8M1141 2917h8M587 3172h8M1137 2832h8M1094 3212h8M521 3141h8M420 2806h8M755 3269h8M1147 2899h8M337 2869h8M834 2618h8M513 2713h8M1170 2907h8M330 2999h8M670 3218h8M1079 2596h8M726 2632h8M904 2632h8M459 3130h8M1137 3037h8M740 2628h8M421 2806h8M1137 2693h8M585 3167h8M529 2676h8M1113 2607h8M1033 2619h8M512 2718h8M861 3272h8M1114 3165h8M457 3123h8M358 3081h8M1122 2621h8M1094 2594h8M330 2987h8M1019 2619h8M1147 2970h8M589 2652h8M1030 2591h8M421 2804h8M723 2616h8M1003 2583h8M1175 2938h8M813 3248h8M1143 2835h8M480 2716h8M1140 3004h8M675 3196h8M888 3235h8M1127 3073h8M1144 2788h8M1136 2756h8M507 2728h8M628 2651h8M758 3227h8M1151 2895h8M1010 3236h8M828 3228h8M1045 3225h8M1154 2759h8M516 3144h8M1132 2641h8M373 3057h8" stroke="#1976bf" stroke-width="8" fill="none"/>
<path d="M700 2431h8M917 2345h8M689 2408h8M889 2574h8M701 2440h8M735 2402h8M793 2548h8M918 2555h8M689 2450h8M924 2320h8M1079 2488h8M1019 2315h8M776 2546h8M839 2364h8M810 2363h8M878 2357h8M924 2324h8M765 2545h8M829 2565h8M1076 2465h8M887 2347h8M970 2545h8M927 2329h8M869 2334h8M698 2477h8M738 2540h8M925 2312h8M1069 2386h8M862 2350h8M953 2555h8M879 2347h8M774 2382h8M918 2548h8M891 2363h8M1055 2412h8M721 2513h8M723 2394h8M1064 2411h8M1030 2529h8M819 2551h8M799 2359h8M1063 2397h8M1072 2508h8M1073 2376h8M822 2354h8M1063 2418h8M833 2557h8M924 2555h8M860 2555h8M888 2362h8M1075 2359h8M721 2412h8M830 2552h8M905 2553h8M964 2309h8M872 2569h8M860 2366h8M922 2337h8M791 2547h8M707 2508h8M697 2495h8M706 2493h8M1073 2492h8M771 2379h8M719 2517h8M972 2551h8M724 2512h8M801 2559h8M980 2311h8M705 2494h8M690 2445h8M901 2362h8M726 2516h8M840 2365h8M745 2378h8M748 2542h8M913 2354h8M956 2544h8M788 2552h8M839 2362h8M988 2311h8M719 2520h8M712 2405h8M910 2552h8M1002 2541h8M1027 2304h8M1076 2365h8M815 2557h8M699 2444h8M896 2359h8M733 2404h8M1036 2521h8M700 2490h8M847 2362h8M786 2373h8M789 2552h8M1070 2499h8M916 2547h8M922 2327h8M1064 2348h8M742 2394h8M1073 2461h8M753 2385h8M1073 2490h8M879 2576h8M969 2541h8M1072 2466h8M1057 2405h8M749 2557h8M788 2550h8M907 2565h8M864 2360h8M1056 2424h8M1074 2503h8M856 2365h8M804 2366h8M910 2352h8M862 2365h8M709 2505h8M1070 2380h8M911 2348h8M815 2370h8M877 2355h8M1105 2478h8M898 2352h8M723 2511h8M839 2574h8M1019 2317h8M970 2543h8M808 2565h8M915 2316h8M1048 2326h8M786 2558h8M941 2307h8M964 2543h8M1027 2313h8M988 2309h8M1093 2464h8M847 2555h8M695 2490h8M693 2463h8M853 2352h8M700 2485h8M886 2364h8M865 2364h8M1066 2395h8M1051 2305h8M770 2371h8M1056 2409h8M915 2328h8M857 2565h8M1043 2523h8M933 2299h8M798 2588h8M965 2297h8M923 2550h8M719 2405h8M876 2360h8M1032 2542h8M982 2312h8M748 2392h8M987 2561h8M758 2550h8M1053 2505h8M756 2552h8M810 2367h8M998 2313h8M798 2351h8M704 2437h8M961 2551h8M770 2382h8M733 2395h8M1073 2468h8M704 2420h8M1003 2308h8M850 2561h8M922 2566h8M739 2399h8M689 2467h8M1033 2306h8M1073 2370h8M963 2551h8M1076 2464h8M887 2363h8M1026 2530h8M1048 2547h8M757 2546h8M771 2359h8M810 2344h8M769 2379h8M1073 2467h8M717 2404h8M720 2389h8M841 2551h8M1028 2322h8M1061 2427h8M722 2513h8M1035 2539h8M889 2555h8M907 2346h8M1018 2550h8M726 2540h8M1075 2367h8M1070 2359h8M1068 2356h8M1027 2315h8M892 2559h8M832 2561h8M702 2428h8M1064 2499h8M891 2558h8M826 2555h8M699 2432h8M1009 2534h8M955 2298h8M1069 2498h8M894 2560h8M981 2313h8M989 2304h8M969 2305h8M918 2325h8M744 2559h8M1054 2423h8M980 2551h8M690 2426h8M1000 2537h8M741 2380h8M914 2349h8M860 2354h8M944 2309h8M753 2548h8M700 2456h8M866 2364h8M908 2345h8M921 2303h8M930 2314h8M1056 2503h8M716 2518h8M990 2537h8M992 2311h8M712 2510h8M694 2428h8M1008 2544h8M973 2307h8M706 2491h8M917 2329h8M1067 2355h8M972 2554h8M910 2552h8M1073 2364h8M1080 2502h8M928 2549h8M1016 2315h8M1082 2473h8M685 2456h8M1055 2425h8M860 2365h8M676 2472h8M989 2558h8M1058 2415h8M1059 2400h8M681 2495h8M1034 2307h8M777 2380h8M701 2471h8M767 2385h8M1068 2457h8M869 2555h8M698 2472h8M995 2308h8M798 2549h8M1069 2365h8M984 2555h8M726 2399h8M860 2554h8M695 2496h8M1065 2392h8M990 2308h8M697 2499h8M781 2556h8M1042 2523h8M947 2563h8M936 2547h8M817 2367h8M1082 2490h8M1086 2455h8M1070 2362h8M1069 2335h8M1080 2486h8M1069 2440h8M1057 2521h8M943 2544h8M934 2550h8M1017 2316h8" stroke="#1976bf" stroke-width="8" fill="none"/>
<path d="M1329 2317h8M1494 2575h8M1494 2295h8M1391 2296h8M1558 2514h8M1469 2272h8M1528 2492h8M1515 2423h8M1469 2259h8M1357 2346h8M1510 2252h8M1470 2553h8M1520 2450h8M1416 2295h8M1476 2562h8M1553 2528h8M1519 2362h8M1321 2297h8M1359 2291h8M1353 2335h8M1459 2276h8M1529 2380h8M1537 2554h8M1532 2498h8M1494 2294h8M1474 2560h8M1507 2320h8M1517 2479h8M1492 2269h8M1536 2310h8M1476 2266h8M1350 2337h8M1523 2363h8M1430 2284h8M1390 2284h8M1365 2288h8M1435 2258h8M1555 2557h8M1470 2552h8M1463 2536h8M1355 2342h8M1424 2291h8M1450 2535h8M1342 2352h8M1396 2298h8M1549 2533h8M1346 2293h8M1558 2475h8M1469 2551h8M1335 2324h8M1396 2302h8M1491 2292h8M1381 2300h8M1441 2276h8M1511 2560h8M1518 2557h8M1516 2386h8M1514 2289h8M1527 2452h8M1512 2419h8M1422 2465h8M1489 2586h8M1510 2393h8M1554 2520h8M1515 2426h8M1405 2271h8M1319 2285h8M1415 2296h8M1396 2302h8M1347 2291h8M1525 2493h8M1330 2302h8M1521 2393h8M1490 2288h8M1522 2327h8M1373 2286h8M1519 2475h8M1310 2306h8M1509 2405h8M1532 2580h8M1368 2295h8M1499 2564h8M1396 2297h8M1424 2294h8M1443 2281h8M1510 2392h8M1504 2270h8M1344 2290h8M1498 2565h8M1352 2337h8M1525 2480h8M1540 2370h8M1530 2571h8M1353 2275h8M1342 2313h8M1319 2286h8M1502 2272h8M1512 2251h8M1518 2438h8M1404 2288h8M1514 2456h8M1517 2462h8M1492 2287h8M1489 2225h8M1455 2280h8M1527 2558h8M1562 2504h8M1446 2285h8M1339 2286h8M1350 2328h8M1556 2491h8M1516 2346h8M1512 2443h8M1513 2557h8M1467 2551h8M1462 2534h8M1361 2289h8M1426 2291h8M1465 2549h8M1365 2363h8M1346 2293h8M1492 2296h8M1348 2326h8M1520 2466h8M1501 2265h8M1492 2573h8M1561 2536h8M1495 2310h8M1490 2573h8M1507 2335h8M1494 2261h8M1336 2302h8M1383 2289h8M1377 2299h8M1458 2547h8M1517 2424h8M1378 2283h8M1487 2580h8M1517 2363h8M1506 2348h8M1516 2457h8M1526 2566h8M1539 2521h8" stroke="#fa8932" stroke-width="8" fill="none"/>
<path d="M1217 2226h8M1340 2576h8M1205 2404h8M1398 2374h8M1169 2311h8M1352 2337h8M1185 2350h8M1446 2417h8M1171 2374h8M1306 2310h8M1462 2488h8M1474 2516h8M1405 2563h8M1204 2398h8M1349 2583h8M1216 2431h8M1393 2564h8M1223 2241h8M1191 2188h8M1196 2407h8M1313 2592h8M1374 2336h8M1314 2308h8M1218 2209h8M1169 2387h8M1153 2266h8M1271 2278h8M1166 2253h8M1193 2394h8M1466 2459h8M1212 2442h8M1424 2557h8M1214 2461h8M1477 2481h8M1171 2192h8M1452 2519h8M1432 2551h8M1181 2349h8M1387 2577h8M1469 2506h8M1442 2451h8M1305 2306h8M1282 2581h8M1197 2191h8M1428 2391h8M1468 2502h8M1174 2277h8M1161 2199h8M1155 2258h8M1329 2308h8M1416 2382h8M1434 2545h8M1253 2518h8M1264 2539h8M1434 2434h8M1326 2314h8M1257 2542h8M1318 2315h8M1399 2374h8M1445 2544h8M1221 2240h8M1434 2432h8M1170 2205h8M1186 2196h8M1278 2550h8M1212 2430h8M1159 2204h8M1423 2407h8M1316 2313h8M1365 2581h8M1174 2202h8M1251 2551h8M1206 2222h8M1391 2567h8M1320 2314h8M1364 2335h8M1267 2278h8M1148 2307h8M1179 2335h8M1196 2427h8M1204 2401h8M1163 2258h8M1333 2577h8M1220 2444h8M1161 2196h8M1184 2209h8M1462 2450h8M1237 2487h8M1174 2252h8M1328 2579h8M1190 2214h8M1204 2463h8M1181 2356h8M1179 2317h8M1338 2320h8M1273 2258h8M1424 2390h8M1364 2572h8M1214 2425h8M1467 2476h8M1368 2353h8M1299 2568h8M1241 2257h8M1275 2546h8M1295 2564h8M1395 2572h8M1223 2451h8M1429 2407h8M1182 2336h8M1465 2499h8M1460 2547h8M1351 2341h8M1451 2532h8M1257 2530h8M1171 2243h8M1187 2351h8M1153 2215h8M1444 2440h8M1454 2461h8M1477 2494h8M1271 2542h8M1169 2223h8M1187 2203h8M1355 2581h8M1178 2348h8M1365 2573h8M1430 2411h8M1401 2371h8M1230 2232h8M1229 2468h8M1426 2563h8M1432 2401h8M1470 2488h8M1222 2239h8M1343 2582h8M1399 2573h8M1210 2472h8M1174 2255h8M1166 2354h8M1211 2499h8M1348 2325h8M1284 2567h8M1460 2477h8M1164 2212h8M1457 2430h8M1454 2519h8M1254 2519h8M1458 2536h8M1220 2487h8M1364 2576h8M1293 2250h8M1179 2307h8M1178 2339h8M1183 2371h8M1212 2446h8M1276 2286h8M1411 2565h8M1233 2250h8M1450 2522h8M1394 2372h8M1314 2315h8M1446 2569h8M1334 2326h8M1468 2444h8M1292 2563h8M1263 2532h8M1273 2281h8M1316 2301h8M1164 2200h8M1151 2208h8M1337 2579h8M1296 2571h8M1180 2321h8M1252 2260h8M1269 2545h8M1231 2469h8M1329 2578h8M1333 2328h8M1234 2488h8M1305 2308h8M1191 2417h8M1152 2208h8M1184 2376h8M1237 2483h8M1209 2231h8M1215 2468h8M1158 2214h8M1205 2409h8M1442 2407h8M1196 2389h8M1208 2445h8M1417 2561h8M1190 2387h8M1229 2462h8M1454 2474h8M1178 2291h8M1417 2556h8M1212 2429h8M1319 2303h8M1288 2286h8M1469 2464h8M1348 2573h8M1354 2318h8M1441 2543h8M1306 2574h8M1270 2277h8M1281 2284h8M1171 2233h8M1216 2435h8M1299 2581h8M1448 2458h8M1400 2572h8M1164 2220h8M1190 2363h8M1406 2576h8M1465 2504h8M1360 2587h8M1385 2355h8M1461 2518h8M1314 2316h8M1188 2369h8M1179 2326h8M1164 2188h8M1362 2349h8M1198 2410h8M1142 2225h8M1375 2583h8M1170 2325h8M1225 2229h8M1167 2205h8M1388 2339h8M1252 2526h8M1173 2369h8M1231 2494h8M1177 2331h8M1432 2416h8M1372 2572h8M1273 2274h8M1487 2504h8M1218 2232h8M1452 2454h8M1370 2353h8M1180 2382h8M1351 2337h8M1186 2356h8M1262 2247h8M1368 2578h8M1355 2577h8M1174 2259h8M1296 2287h8M1137 2201h8M1436 2437h8M1461 2495h8M1398 2374h8M1171 2300h8M1428 2393h8M1194 2375h8M1334 2296h8M1261 2527h8M1278 2549h8M1300 2572h8M1400 2352h8M1331 2318h8M1168 2260h8" stroke="#1976bf" stroke-width="8" fill="none"/>
<path d="M1939 2797h8M2023 2809h8M2074 2646h8M2005 2814h8M2041 2796h8M1994 2618h8M1909 2773h8M2071 2770h8M2040 2617h8M2073 2637h8M1971 2617h8M2050 2806h8M1912 2774h8M2085 2723h8M1878 2702h8M1895 2733h8M2024 2623h8M2058 2644h8M1912 2777h8M2006 2813h8M2107 2698h8M2099 2708h8M2005 2618h8M2092 2681h8M1979 2611h8M2070 2644h8M1917 2628h8M1988 2821h8M1956 2809h8M1931 2794h8M2053 2602h8M2089 2691h8M1905 2783h8M1898 2661h8M2075 2788h8M1890 2718h8M2089 2750h8M1899 2673h8M1898 2743h8M1993 2814h8M2057 2643h8M2026 2827h8M1960 2606h8M2080 2690h8M2046 2609h8M2082 2688h8M1879 2682h8M1891 2716h8M2069 2771h8M1904 2788h8M1957 2805h8M1968 2617h8M2090 2705h8M2085 2723h8M1889 2676h8M2047 2810h8M2067 2776h8M1901 2661h8M2087 2719h8M2020 2624h8M2030 2621h8M1980 2619h8M1919 2644h8M1951 2806h8M1884 2701h8M1895 2723h8M2068 2648h8M2018 2620h8M2026 2807h8M2070 2773h8M1941 2823h8M1895 2705h8M1912 2657h8M1984 2610h8M1931 2635h8M2077 2788h8M1939 2796h8M1895 2663h8M1888 2676h8M1957 2623h8M1993 2619h8M2018 2622h8M2000 2822h8M1948 2804h8M1966 2815h8M2028 2624h8M2078 2771h8M2087 2725h8M2081 2746h8M2078 2647h8M1899 2737h8M2026 2624h8M2080 2765h8M2052 2639h8M2080 2665h8M2085 2705h8M2052 2796h8M1913 2770h8M2056 2786h8M1909 2663h8M1958 2810h8M2083 2730h8M1873 2698h8M1894 2726h8M2061 2781h8M2066 2654h8M1952 2809h8M2051 2639h8M1894 2737h8M1905 2801h8M2077 2673h8M2035 2630h8M1896 2654h8M1914 2657h8M2067 2643h8M1917 2776h8M1901 2646h8M1905 2669h8M2076 2655h8M1911 2643h8M1921 2648h8M1897 2740h8M2017 2622h8M2086 2701h8M1874 2716h8M1921 2799h8M2047 2822h8M1902 2672h8M2051 2797h8M1955 2610h8M2054 2643h8M2066 2784h8M2016 2603h8M1892 2731h8M1951 2803h8M2077 2649h8M2079 2669h8M2066 2772h8M1891 2708h8M1902 2760h8M1948 2801h8M2070 2781h8M2012 2815h8M1914 2655h8M2105 2748h8M2067 2785h8M2038 2632h8M2073 2763h8M1889 2693h8M2088 2720h8M1901 2758h8M1894 2707h8M1948 2806h8M2040 2627h8M1889 2738h8M2078 2749h8M2025 2816h8M1945 2813h8M2093 2740h8M1940 2630h8M1926 2790h8M1884 2674h8M1910 2782h8M2079 2757h8M1978 2611h8M1918 2630h8M1937 2815h8M2092 2719h8M1894 2714h8M1894 2696h8M2001 2813h8M2067 2656h8M1895 2721h8M1902 2677h8M1965 2621h8M1880 2703h8M1947 2620h8M2083 2760h8M2084 2695h8M1907 2767h8M2089 2710h8M1985 2618h8M2071 2653h8M2093 2758h8M1967 2607h8M2052 2638h8M1893 2707h8M1894 2714h8M2053 2789h8M1981 2817h8M2089 2663h8M2065 2776h8M1936 2797h8M1895 2733h8M1959 2814h8M1993 2816h8M2049 2807h8M1932 2793h8" stroke="#fa8932" stroke-width="8" fill="none"/>
<path d="M468 2531h8M654 2621h8M610 2599h8M506 2537h8M469 2533h8M466 2526h8M566 2591h8M463 2531h8M521 2557h8M631 2603h8M526 2547h8M589 2595h8M506 2541h8M577 2587h8M510 2555h8M539 2560h8M511 2541h8M640 2616h8M564 2569h8M571 2579h8M479 2536h8M661 2602h8M659 2632h8M468 2533h8M506 2547h8M499 2537h8M475 2537h8M498 2534h8M561 2596h8M523 2543h8M499 2546h8M641 2604h8M646 2613h8M641 2616h8M575 2569h8M599 2594h8M503 2547h8M439 2525h8M459 2525h8M624 2612h8M566 2580h8M594 2579h8M458 2522h8M616 2597h8M583 2582h8M468 2531h8M482 2547h8M557 2593h8M558 2570h8M497 2542h8M553 2573h8M646 2612h8M640 2628h8M527 2578h8M453 2525h8M576 2598h8M625 2597h8M453 2523h8M556 2576h8M441 2521h8M595 2582h8M556 2581h8M455 2532h8M574 2576h8M576 2582h8M520 2547h8M530 2560h8M450 2517h8M534 2565h8M492 2554h8M456 2537h8M515 2569h8M558 2569h8M641 2601h8M490 2538h8M566 2590h8M648 2608h8M571 2581h8M494 2544h8M575 2590h8M570 2577h8M502 2552h8M634 2595h8M522 2559h8M453 2548h8M464 2536h8M479 2541h8M540 2557h8M573 2577h8M640 2614h8M495 2548h8M552 2559h8M617 2591h8M495 2538h8M608 2587h8M550 2558h8M473 2532h8M646 2623h8M624 2586h8M454 2521h8M493 2551h8M622 2591h8M576 2575h8M501 2548h8M517 2562h8M622 2610h8M609 2599h8M470 2525h8M638 2620h8M578 2575h8M658 2618h8M537 2543h8M592 2588h8M528 2565h8M482 2542h8M594 2583h8M573 2585h8M598 2605h8M527 2575h8M668 2616h8" stroke="#1976bf" stroke-width="8" fill="none"/>
<path d="M566 3250h8M536 3251h8M551 3279h8M572 3233h8M551 3248h8M562 3241h8M550 3246h8M549 3247h8M561 3230h8M571 3231h8M541 3259h8M566 3239h8M549 3254h8M564 3268h8M556 3284h8M553 3260h8M576 3249h8M549 3250h8M562 3236h8M568 3256h8M566 3227h8M554 3252h8M563 3230h8M565 3225h8M561 3232h8M559 3260h8M576 3224h8M551 3258h8M576 3227h8M553 3277h8M548 3241h8M566 3222h8M547 3269h8M553 3229h8M548 3267h8M562 3264h8M565 3246h8M558 3261h8M564 3252h8M542 3248h8" stroke="#1976bf" stroke-width="8" fill="none"/>
<path d="M1601 2750h8M1640 2713h8M1594 2727h8M1634 2728h8M1607 2736h8M1614 2698h8M1612 2687h8M1604 2733h8M1587 2699h8M1619 2735h8M1606 2725h8M1604 2741h8M1635 2694h8M1609 2725h8M1612 2690h8M1618 2725h8M1578 2751h8M1645 2700h8M1574 2739h8M1641 2753h8M1603 2773h8M1577 2712h8M1626 2734h8M1579 2725h8M1595 2717h8M1613 2678h8M1613 2739h8M1602 2728h8M1632 2712h8M1582 2700h8M1598 2763h8M1633 2741h8M1631 2746h8M1671 2738h8M1582 2757h8M1642 2693h8M1646 2699h8M1623 2735h8M1649 2700h8M1603 2731h8M1596 2717h8M1641 2725h8M1611 2753h8M1619 2731h8M1612 2762h8M1625 2747h8M1614 2723h8M1621 2722h8M1624 2725h8M1613 2724h8M1584 2699h8M1656 2715h8M1612 2712h8M1597 2704h8M1594 2736h8M1637 2711h8M1597 2713h8M1605 2738h8M1587 2742h8M1584 2724h8M1601 2721h8M1618 2726h8M1600 2729h8M1618 2756h8M1636 2735h8M1619 2723h8M1599 2726h8M1585 2730h8M1646 2741h8M1584 2747h8M1624 2700h8M1627 2691h8M1590 2716h8M1646 2726h8M1600 2738h8M1582 2696h8M1628 2727h8M1630 2743h8M1604 2756h8M1622 2721h8M1585 2725h8M1616 2732h8M1620 2759h8M1605 2697h8M1610 2728h8M1607 2726h8M1605 2706h8M1622 2738h8M1659 2738h8M1596 2714h8M1595 2731h8M1648 2694h8M1592 2715h8M1607 2731h8M1592 2735h8M1602 2738h8M1631 2742h8M1643 2703h8M1612 2726h8M1604 2735h8M1619 2745h8M1614 2683h8M1627 2718h8M1615 2757h8M1605 2745h8M1595 2756h8M1605 2716h8M1578 2693h8M1599 2727h8M1596 2727h8" stroke="#1976bf" stroke-width="8" fill="none"/>
<path d="M1625 2891h8M1650 2899h8M1650 2878h8M1656 2864h8M1674 2852h8M1687 2862h8M1647 2860h8M1666 2868h8M1687 2865h8M1650 2880h8M1676 2892h8M1667 2863h8M1693 2879h8M1659 2888h8M1639 2873h8M1671 2857h8M1678 2869h8M1669 2852h8M1629 2860h8M1661 2863h8M1694 2867h8M1675 2859h8M1666 2850h8M1653 2838h8M1649 2853h8M1664 2855h8M1653 2885h8M1657 2860h8M1650 2886h8M1649 2890h8M1651 2871h8M1648 2879h8M1637 2868h8M1660 2844h8M1669 2892h8M1647 2841h8M1666 2868h8M1643 2846h8M1638 2863h8M1658 2873h8M1660 2853h8M1656 2869h8M1702 2871h8M1659 2868h8M1664 2897h8M1684 2859h8M1666 2880h8M1668 2832h8M1667 2885h8M1653 2860h8M1641 2864h8M1663 2887h8M1647 2883h8M1680 2868h8M1670 2851h8M1670 2840h8M1661 2871h8M1659 2873h8M1658 2860h8M1643 2858h8M1649 2888h8M1649 2882h8M1657 2879h8M1657 2875h8M1658 2863h8M1683 2879h8M1655 2850h8M1663 2873h8M1666 2847h8M1638 2861h8M1635 2870h8M1643 2863h8M1660 2856h8M1641 2862h8M1648 2876h8M1683 2872h8M1661 2868h8M1657 2868h8M1640 2873h8M1657 2881h8" stroke="#1976bf" stroke-width="8" fill="none"/>
<path d="M1678 2874h8M1653 2787h8M1735 2747h8M1677 2820h8M1710 2777h8M1727 2766h8M1581 2771h8M1690 2807h8M1580 2811h8M1610 2847h8M1581 2752h8M1616 2783h8M1596 2797h8M1745 2855h8M1597 2836h8M1683 2759h8M1682 2852h8M1547 2839h8M1792 2775h8M1652 2812h8M1632 2867h8M1621 2891h8M1599 2786h8M1642 2740h8M1708 2799h8M1658 2824h8M1667 2797h8M1642 2801h8M1721 2754h8M1659 2792h8M1692 2810h8M1760 2797h8M1684 2784h8M1614 2821h8M1720 2799h8M1803 2855h8M1652 2810h8M1768 2761h8M1762 2768h8M1660 2783h8M1725 2917h8M1705 2800h8M1655 2827h8M1641 2873h8M1637 2803h8M1695 2816h8M1622 2745h8M1643 2787h8M1595 2736h8M1689 2827h8M1607 2812h8M1685 2848h8M1653 2821h8M1622 2817h8M1687 2855h8M1662 2901h8M1685 2739h8M1656 2799h8M1695 2786h8M1738 2821h8M1720 2819h8M1612 2828h8M1697 2862h8M1606 2800h8M1689 2798h8M1705 2767h8M1705 2794h8M1678 2739h8M1700 2800h8M1683 2871h8M1701 2815h8M1701 2868h8M1683 2846h8M1697 2822h8M1595 2800h8M1661 2822h8M1747 2774h8M1583 2783h8M1734 2913h8M1744 2861h8M1644 2792h8M1624 2824h8M1643 2833h8M1746 2781h8M1836 2848h8M1603 2769h8M1751 2787h8M1665 2792h8M1690 2769h8M1657 2811h8M1719 2883h8M1690 2758h8M1658 2843h8M1633 2788h8M1796 2847h8M1641 2824h8M1616 2819h8M1703 2872h8M1756 2748h8M1690 2791h8M1752 2759h8M1772 2847h8M1746 2834h8M1718 2793h8M1727 2872h8M1710 2817h8M1661 2844h8M1764 2883h8M1658 2776h8M1749 2830h8M1738 2749h8M1748 2821h8M1737 2817h8M1717 2839h8M1593 2735h8M1679 2839h8M1700 2826h8M1713 2795h8M1592 2818h8M1708 2883h8M1672 2807h8M1735 2763h8M1720 2807h8M1672 2832h8M1707 2720h8M1704 2843h8M1750 2834h8M1762 2783h8M1723 2852h8M1664 2823h8M1690 2798h8M1706 2805h8M1621 2842h8M1668 2847h8M1631 2773h8M1679 2826h8M1676 2751h8M1632 2743h8M1618 2810h8M1690 2835h8M1643 2800h8M1647 2757h8M1826 2801h8M1672 2865h8M1741 2852h8M1699 2835h8M1725 2786h8M1691 2837h8M1778 2807h8M1621 2782h8M1724 2877h8M1698 2853h8M1678 2744h8M1717 2819h8M1637 2833h8M1730 2799h8M1757 2833h8M1746 2739h8M1698 2820h8M1716 2855h8M1634 2828h8M1670 2822h8M1755 2855h8M1713 2781h8M1705 2831h8M1504 2810h8M1621 2819h8M1758 2856h8M1601 2830h8M1604 2879h8M1812 2796h8M1676 2791h8M1681 2831h8M1756 2768h8M1688 2751h8M1665 2803h8M1629 2842h8M1693 2911h8M1690 2862h8M1627 2824h8M1669 2845h8M1692 2833h8M1731 2860h8M1668 2765h8M1674 2862h8M1677 2793h8M1764 2823h8M1722 2808h8M1617 2784h8M1617 2762h8M1594 2816h8M1591 2825h8M1720 2841h8M1690 2863h8M1652 2840h8M1630 2836h8M1658 2867h8M1709 2805h8M1660 2887h8M1763 2819h8M1814 2893h8M1691 2825h8M1722 2841h8M1689 2865h8M1674 2754h8M1688 2816h8M1605 2818h8M1687 2773h8M1671 2763h8M1698 2784h8M1688 2759h8M1722 2792h8M1571 2759h8M1705 2881h8M1747 2852h8M1660 2879h8M1594 2803h8M1631 2812h8M1735 2851h8M1738 2811h8M1643 2801h8M1660 2797h8M1643 2760h8M1632 2744h8M1704 2815h8M1727 2832h8M1747 2936h8M1692 2869h8M1656 2847h8M1633 2831h8M1629 2792h8M1738 2816h8M1630 2782h8M1759 2822h8M1777 2877h8M1634 2775h8M1690 2808h8M1598 2813h8M1750 2873h8M1565 2856h8M1721 2761h8M1707 2879h8M1654 2832h8M1552 2819h8M1647 2850h8M1636 2795h8M1615 2900h8M1727 2872h8M1631 2789h8M1552 2747h8M1690 2844h8M1666 2814h8M1759 2854h8M1673 2786h8M1628 2788h8M1597 2816h8M1617 2849h8M1617 2860h8M1605 2817h8M1651 2873h8M1705 2782h8M1724 2810h8M1660 2772h8M1573 2777h8M1626 2816h8M1657 2803h8M1636 2820h8M1696 2844h8M1728 2904h8M1619 2745h8M1704 2777h8M1722 2864h8M1573 2767h8M1621 2756h8M1634 2796h8M1696 2848h8M1720 2813h8M1704 2848h8M1579 2735h8M1610 2798h8M1655 2788h8M1706 2755h8M1703 2816h8M1674 2869h8M1710 2730h8M1695 2817h8M1583 2796h8M1761 2776h8M1639 2754h8M1567 2789h8M1741 2852h8M1645 2855h8M1645 2831h8M1707 2867h8M1642 2858h8M1660 2815h8M1650 2865h8M1769 2785h8M1693 2787h8M1756 2829h8M1714 2782h8M1654 2837h8M1603 2791h8M1706 2949h8M1751 2874h8M1648 2793h8M1684 2771h8M1728 2802h8M1627 2807h8M1866 2867h8M1648 2822h8M1591 2835h8M1606 2779h8M1733 2843h8M1550 2807h8M1683 2817h8M1650 2816h8M1610 2854h8M1661 2845h8M1775 2831h8M1729 2786h8M1669 2761h8M1709 2880h8M1620 2816h8M1601 2802h8M1630 2732h8M1654 2783h8M1668 2764h8M1780 2841h8M1680 2817h8" stroke="#fa8932" stroke-width="8" fill="none"/>
<path d="M1754 2849h8M1771 2850h8M1783 2876h8M1755 2800h8M1712 2875h8M1775 2877h8M1701 2915h8M1701 2875h8M1779 2895h8M1767 2811h8M1774 2874h8M1768 2888h8M1758 2862h8M1744 2803h8M1786 2832h8M1784 2889h8M1747 2858h8M1756 2788h8M1687 2868h8M1730 2873h8M1716 2895h8M1750 2860h8M1799 2906h8M1735 2848h8M1780 2848h8M1720 2864h8M1742 2827h8M1770 2837h8M1798 2781h8M1769 2848h8M1792 2847h8M1764 2875h8M1766 2838h8M1761 2894h8M1796 2883h8M1777 2839h8M1806 2831h8M1746 2843h8M1765 2847h8M1684 2815h8M1755 2829h8M1732 2893h8M1776 2853h8M1659 2827h8M1721 2852h8M1729 2898h8M1758 2893h8M1690 2849h8M1693 2893h8M1736 2890h8M1768 2867h8M1761 2822h8M1735 2861h8M1731 2818h8M1794 2863h8M1738 2810h8M1776 2835h8M1755 2839h8M1749 2857h8M1752 2854h8M1804 2870h8M1750 2877h8M1706 2842h8M1723 2823h8M1767 2870h8M1787 2833h8M1788 2859h8M1731 2862h8M1753 2854h8M1785 2792h8M1792 2871h8M1712 2829h8M1792 2859h8M1761 2856h8M1687 2842h8M1776 2841h8M1673 2860h8M1726 2864h8M1735 2854h8M1767 2850h8M1785 2868h8M1741 2843h8M1734 2854h8M1767 2886h8M1755 2865h8M1691 2828h8M1744 2820h8M1765 2865h8M1788 2848h8M1765 2847h8M1707 2890h8M1754 2845h8M1760 2877h8M1783 2877h8M1768 2823h8M1762 2897h8M1699 2885h8M1738 2881h8M1766 2808h8M1741 2858h8M1707 2844h8M1747 2870h8M1728 2827h8M1751 2820h8M1777 2870h8M1753 2890h8M1745 2838h8M1718 2830h8M1778 2856h8M1767 2869h8" stroke="#fa8932" stroke-width="8" fill="none"/>
<path d="M1894 2861h8M1890 2894h8M1869 2937h8M1870 2912h8M1853 2947h8M1918 2861h8M1910 2848h8M1910 2875h8M1890 2863h8M1886 2884h8M1929 2842h8M1906 2844h8M1916 2827h8M1879 2887h8M1874 2876h8M1899 2876h8M1854 2935h8M1923 2818h8M1904 2881h8M1939 2836h8M1835 2920h8M1869 2923h8M1864 2930h8M1897 2884h8M1830 2977h8M1838 2928h8M1905 2827h8M1856 2951h8M1863 2928h8M1861 2902h8M1932 2800h8M1913 2862h8M1863 2931h8M1847 2924h8M1893 2857h8M1851 2934h8M1903 2841h8M1857 2909h8M1927 2834h8M1852 2943h8M1913 2861h8M1846 2952h8M1890 2883h8M1945 2837h8M1836 2930h8M1867 2916h8M1838 2963h8M1898 2863h8M1844 2951h8M1849 2925h8M1850 2942h8M1847 2976h8M1859 2903h8M1906 2831h8M1911 2809h8M1863 2898h8M1953 2808h8M1899 2867h8M1916 2851h8M1905 2880h8M1873 2912h8M1847 2954h8M1901 2872h8M1896 2901h8M1878 2900h8M1844 2928h8M1907 2863h8M1841 2947h8M1842 2944h8M1876 2893h8M1890 2857h8M1883 2846h8M1904 2852h8M1858 2928h8M1873 2918h8M1929 2835h8M1921 2833h8M1883 2892h8M1910 2843h8M1903 2858h8M1873 2897h8M1895 2887h8M1838 2954h8M1892 2856h8M1886 2881h8M1918 2843h8M1901 2869h8M1855 2951h8M1931 2810h8M1902 2887h8M1878 2911h8M1844 2956h8M1842 2935h8M1881 2855h8M1886 2885h8M1920 2868h8M1894 2907h8M1876 2910h8M1905 2859h8M1900 2868h8M1879 2884h8M1866 2908h8M1926 2839h8M1866 2956h8M1837 2960h8M1902 2881h8M1932 2831h8M1888 2865h8M1918 2839h8M1871 2910h8" stroke="#fa8932" stroke-width="8" fill="none"/>
<path d="M1581 3095h8M1626 3074h8M1723 3040h8M1590 3108h8M1582 3103h8M1563 3100h8M1775 3024h8M1702 3049h8M1656 3056h8M1594 3112h8M1667 3064h8M1685 3022h8M1840 2965h8M1831 2991h8M1675 3052h8M1622 3117h8M1612 3068h8M1768 3013h8M1815 2955h8M1761 3011h8M1703 3059h8M1732 3006h8M1693 3042h8M1783 3000h8M1828 2965h8M1777 2994h8M1751 3023h8M1796 2991h8M1687 3055h8M1647 3048h8M1636 3068h8M1850 2954h8M1627 3076h8M1774 3004h8M1837 2972h8M1663 3048h8M1662 3065h8M1781 2995h8M1580 3115h8M1744 3036h8M1717 3057h8M1579 3100h8M1758 3001h8M1724 3009h8M1793 2974h8M1597 3099h8M1753 3021h8M1738 3004h8M1754 2989h8M1585 3069h8M1650 3064h8M1662 3066h8M1620 3069h8M1823 2992h8M1668 3036h8M1645 3068h8M1626 3080h8M1836 2977h8M1625 3069h8M1678 3047h8M1719 3024h8M1666 3046h8M1593 3094h8M1797 2990h8M1788 2977h8M1754 3014h8M1602 3106h8M1826 2974h8M1824 2975h8M1765 2999h8M1638 3089h8M1614 3093h8M1781 2977h8M1767 3018h8M1595 3126h8M1630 3094h8M1799 2972h8M1594 3098h8M1663 3056h8M1815 2960h8M1718 3007h8M1664 3047h8M1776 2985h8M1822 2948h8M1827 2980h8M1661 3028h8M1599 3102h8M1766 2996h8M1588 3091h8M1740 2993h8M1640 3091h8M1659 3088h8M1607 3076h8M1725 3043h8M1720 3039h8M1760 2999h8M1655 3054h8M1605 3124h8M1562 3095h8M1801 2985h8M1784 3000h8M1579 3113h8M1787 2976h8M1856 2964h8M1709 3019h8M1635 3053h8M1652 3057h8M1756 3008h8M1697 3048h8M1796 2974h8M1799 3014h8M1721 3002h8M1710 3055h8M1624 3065h8M1779 2985h8M1804 3004h8M1772 2978h8M1798 2992h8M1768 2973h8M1586 3109h8M1698 3044h8M1800 2966h8M1608 3061h8M1585 3102h8M1800 3007h8M1650 3052h8M1788 2999h8M1754 2979h8M1690 3048h8M1696 3075h8M1823 2967h8M1785 3017h8M1608 3067h8M1642 3073h8M1722 3038h8M1675 3056h8M1690 3027h8M1724 3042h8M1729 3044h8M1619 3099h8M1617 3065h8M1823 2951h8M1807 2998h8M1610 3101h8M1564 3077h8M1775 3003h8M1594 3081h8M1697 3033h8M1656 3075h8M1725 3038h8" stroke="#fa8932" stroke-width="8" fill="none"/>
<path d="M1779 3242h8M1788 3240h8M1830 3239h8M1800 3218h8M1810 3217h8M1821 3216h8M1768 3231h8M1792 3218h8M1771 3209h8M1817 3242h8M1788 3232h8M1861 3210h8M1773 3223h8M1767 3202h8M1777 3192h8M1814 3214h8M1777 3243h8M1780 3222h8M1804 3223h8M1749 3211h8M1779 3251h8M1798 3206h8M1845 3252h8M1813 3237h8M1805 3247h8M1805 3219h8M1775 3230h8M1789 3199h8M1814 3206h8M1749 3210h8M1793 3217h8M1787 3232h8M1771 3239h8M1825 3232h8M1812 3229h8M1858 3249h8M1761 3212h8M1822 3230h8M1826 3242h8M1760 3239h8M1763 3192h8M1800 3215h8M1750 3224h8M1759 3211h8M1828 3220h8M1837 3205h8M1801 3239h8M1758 3208h8M1790 3254h8M1771 3218h8M1798 3229h8M1854 3228h8M1779 3198h8M1773 3185h8M1780 3207h8M1731 3213h8M1768 3226h8M1747 3214h8M1821 3224h8M1798 3219h8M1781 3219h8M1805 3247h8M1809 3205h8M1829 3223h8M1757 3208h8M1792 3235h8M1790 3206h8M1756 3211h8M1793 3244h8M1838 3211h8M1791 3211h8M1781 3223h8M1786 3207h8M1812 3225h8M1764 3191h8M1820 3233h8M1767 3216h8M1787 3223h8M1834 3224h8M1740 3215h8M1749 3193h8M1788 3221h8M1766 3211h8M1825 3228h8M1817 3203h8M1781 3213h8M1796 3233h8M1799 3260h8M1807 3228h8M1773 3225h8" stroke="#fa8932" stroke-width="8" fill="none"/>
<path d="M1793 3202h8M1782 3175h8M1776 3185h8M1784 3195h8M1777 3174h8M1789 3180h8M1761 3193h8M1784 3184h8M1794 3192h8M1771 3175h8M1785 3180h8M1782 3197h8M1778 3172h8M1793 3188h8M1789 3188h8M1789 3179h8M1794 3216h8M1782 3197h8M1785 3173h8M1783 3157h8M1781 3178h8M1781 3161h8M1773 3171h8M1788 3207h8" stroke="#fa8932" stroke-width="8" fill="none"/>
<path d="M1638 2897h8M1511 3088h8M1571 3056h8M1523 2734h8M1571 2919h8M1580 2978h8M1535 2782h8M1464 3183h8M1625 3004h8M1601 2841h8M1590 3156h8M1497 2905h8M1642 3126h8M1650 2981h8M1587 3051h8M1550 3016h8M1592 2836h8M1515 3141h8M1586 2896h8M1656 2973h8M1574 3298h8M1570 2998h8M1565 2835h8M1526 3302h8M1525 3093h8M1536 2979h8M1489 2942h8M1584 2899h8M1569 2903h8M1622 3041h8M1597 3037h8M1642 3039h8M1577 2852h8M1556 3079h8M1663 2878h8M1594 2980h8M1567 3019h8M1570 3041h8M1536 3066h8M1667 2817h8M1552 2962h8M1639 3049h8M1543 3198h8M1626 2958h8M1745 3060h8M1596 2769h8M1549 2994h8M1619 3002h8M1501 3081h8M1621 2845h8M1600 2967h8M1653 3066h8M1651 2776h8M1489 3024h8M1623 2930h8M1568 2846h8M1589 2976h8M1495 3037h8M1620 2950h8M1597 2902h8M1642 2941h8M1682 2882h8M1565 2931h8M1539 2995h8M1569 2786h8M1606 3006h8M1678 3171h8M1721 2935h8M1579 2930h8M1623 3010h8M1668 3077h8M1615 2888h8M1582 3007h8M1660 3046h8M1612 3169h8M1562 2848h8M1533 2987h8M1602 3112h8M1515 2995h8M1549 2883h8M1648 3199h8M1584 2866h8M1566 3071h8M1604 2958h8M1609 2942h8M1572 2862h8M1637 3013h8M1609 3028h8M1566 3147h8M1640 2889h8M1533 2857h8M1587 2907h8M1601 2937h8M1589 2858h8M1590 2928h8M1524 3153h8M1514 3083h8M1647 2917h8M1556 3120h8M1535 3011h8M1600 2926h8M1580 2965h8M1659 2921h8M1610 3079h8M1555 2895h8M1629 2991h8M1610 3176h8M1677 2952h8M1713 2961h8M1615 2943h8M1684 3102h8M1475 3143h8M1567 2847h8M1577 2828h8M1611 2950h8M1614 3189h8M1596 2768h8M1547 3154h8M1699 2996h8M1608 2915h8M1513 3106h8M1554 3027h8M1574 2967h8M1544 2979h8M1524 2783h8M1559 2978h8M1604 2994h8M1610 2928h8M1634 2989h8M1579 2911h8M1664 3013h8M1586 2859h8M1602 2965h8M1669 3016h8M1601 3112h8M1670 2999h8M1604 3055h8M1676 2879h8M1532 2792h8M1500 2932h8M1536 2773h8M1579 2891h8M1575 2966h8M1581 3194h8M1595 2725h8M1634 2912h8M1587 2950h8M1672 2916h8M1642 3056h8M1529 3113h8M1451 2909h8M1621 2924h8M1507 2928h8M1623 2978h8M1673 3052h8M1645 2731h8M1570 2992h8M1476 2932h8M1541 3094h8M1513 2913h8M1571 3150h8M1618 3201h8M1684 2830h8M1613 2860h8M1542 2913h8M1539 2974h8M1598 2931h8M1678 2981h8M1559 3023h8M1607 3048h8M1547 2945h8M1610 3056h8M1511 3088h8M1620 3009h8M1565 3014h8M1525 3057h8M1546 3153h8M1632 2954h8M1575 3006h8M1492 3118h8M1532 3083h8M1541 2981h8M1616 3082h8M1634 2954h8M1537 2776h8M1590 2844h8M1622 3066h8M1587 3061h8M1547 2899h8M1539 2921h8M1603 2974h8M1602 2982h8M1656 3024h8M1548 2886h8M1632 3000h8M1689 3250h8M1552 3123h8M1572 3010h8M1595 3128h8M1523 3026h8M1668 2873h8M1574 3030h8M1640 3035h8M1553 2936h8M1605 3123h8M1667 2939h8M1571 3159h8M1679 2883h8M1597 2996h8M1531 3002h8M1555 2932h8M1594 3093h8M1530 2731h8M1574 2947h8M1604 3105h8M1626 2932h8M1612 3042h8M1488 3218h8M1489 3124h8M1695 2994h8M1575 2827h8M1598 2996h8M1572 2795h8M1575 2883h8M1563 3060h8M1661 2991h8M1610 3003h8M1596 2948h8M1612 3090h8M1585 2970h8M1581 2991h8M1501 3071h8M1586 2964h8M1504 3041h8M1587 3123h8M1525 3037h8M1570 2948h8M1594 3104h8M1628 2996h8M1590 3130h8M1560 3081h8M1536 3077h8M1573 3221h8M1558 3079h8M1509 3256h8M1680 3133h8M1550 2939h8M1531 3155h8M1640 2874h8M1558 2851h8M1577 2888h8M1551 2863h8M1560 2982h8M1551 2858h8M1563 3038h8M1637 2915h8M1535 3035h8M1486 3074h8M1633 2813h8M1607 3015h8M1591 3038h8M1642 2868h8M1613 3147h8M1582 2906h8M1560 2816h8M1542 2933h8M1491 2921h8M1511 2910h8M1600 2902h8M1559 2927h8M1636 2965h8M1550 3091h8M1487 2903h8M1640 3002h8M1574 3010h8M1635 2991h8M1513 3100h8M1521 3105h8M1535 3000h8M1596 2825h8M1612 2972h8M1539 3077h8M1550 2892h8M1486 3085h8M1552 2814h8M1543 2872h8M1642 2868h8M1652 3047h8M1634 3060h8M1545 2965h8M1609 2985h8M1635 3033h8M1524 3007h8M1640 2930h8M1633 2966h8M1597 2923h8M1633 3018h8M1507 3005h8M1632 3011h8M1619 2979h8M1581 2950h8M1557 2969h8M1657 3132h8M1600 3129h8M1549 3048h8M1555 2765h8M1524 3014h8M1579 2980h8M1542 2983h8M1471 3026h8M1614 3054h8M1600 2953h8M1526 2751h8M1551 2885h8M1533 3028h8M1595 3068h8M1564 3086h8M1596 2964h8M1581 2899h8M1679 2940h8M1585 3239h8M1596 3073h8M1656 2983h8M1669 2904h8M1561 2832h8M1577 2920h8M1646 3033h8M1558 3009h8M1590 3096h8M1593 3066h8" stroke="#fa8932" stroke-width="8" fill="none"/>
<path d="M1056 2422h8M1060 2458h8M1032 2570h8M1061 2444h8M1073 2458h8M1092 2530h8M1081 2417h8M1091 2479h8M1039 2488h8M1071 2448h8M1047 2445h8M1105 2496h8M1056 2508h8M1016 2444h8M1057 2456h8M1047 2431h8M1057 2537h8M1066 2389h8M1050 2527h8M1058 2470h8M1049 2419h8M1042 2478h8M1064 2522h8M1030 2476h8M1069 2491h8M1046 2408h8M1051 2440h8M1090 2427h8M1061 2519h8M1059 2511h8M1029 2438h8M1055 2460h8M1091 2440h8M1049 2516h8M1052 2494h8M1034 2452h8M1054 2451h8M1089 2450h8M1027 2535h8M1100 2497h8M1061 2446h8M1058 2413h8M1040 2491h8M1051 2446h8M1074 2448h8M1096 2441h8M1087 2498h8M1037 2512h8M1056 2413h8M1089 2405h8M1036 2474h8M1037 2434h8M1092 2559h8M1091 2507h8M1032 2476h8M1052 2477h8M1067 2495h8M1034 2439h8M1094 2422h8M1060 2456h8M1075 2443h8M1072 2503h8M1047 2459h8M1052 2479h8M1083 2425h8M1052 2487h8M1052 2425h8M1071 2503h8M1069 2499h8M1090 2489h8" stroke="#fa8932" stroke-width="8" fill="none"/>
<path d="M1649 2605h8M1632 2594h8M1590 2579h8M1657 2607h8M1582 2573h8M1593 2584h8M1665 2614h8M1591 2567h8M1606 2584h8M1637 2600h8M1617 2592h8M1663 2606h8M1632 2602h8M1647 2604h8M1652 2604h8M1650 2606h8M1661 2602h8M1658 2609h8M1675 2613h8M1617 2588h8M1596 2582h8M1586 2577h8M1633 2596h8M1597 2581h8M1651 2614h8M1584 2575h8" stroke="#fa8932" stroke-width="8" fill="none"/>
<path d="M1348 2452h8M1373 2436h8M1386 2391h8M1488 2525h8M1420 2253h8M1514 2406h8M1540 2217h8M1355 2368h8M1342 2423h8M1450 2323h8M1407 2316h8M1413 2515h8M1467 2401h8M1109 2356h8M1524 2399h8M1444 2431h8M1432 2404h8M1311 2424h8M1497 2314h8M1344 2370h8M1264 2435h8M1304 2415h8M1335 2440h8M1451 2580h8M1439 2438h8M1358 2324h8M1396 2366h8M1392 2445h8M1319 2548h8M1480 2534h8M1395 2534h8M1598 2510h8M1414 2564h8M1337 2414h8M1313 2353h8M1442 2260h8M1409 2335h8M1217 2455h8M1414 2517h8M1348 2309h8M1295 2528h8M1317 2399h8M1616 2505h8M1432 2310h8M1403 2442h8M1361 2474h8M1367 2518h8M1420 2285h8M1451 2346h8M1391 2470h8M1391 2492h8M1424 2563h8M1414 2294h8M1417 2511h8M1343 2387h8M1427 2271h8M1460 2549h8M1366 2315h8M1435 2375h8M1377 2294h8M1117 2419h8M1609 2476h8M1265 2335h8M1368 2526h8M1319 2284h8M1365 2246h8M1353 2343h8M1414 2486h8M1358 2428h8M1340 2415h8M1400 2385h8M1477 2501h8M1360 2552h8M1337 2378h8M1341 2358h8M1423 2246h8M1331 2415h8M1325 2437h8M1483 2559h8M1368 2402h8M1259 2391h8M1414 2366h8M1465 2360h8M1631 2512h8M1403 2373h8M1485 2508h8M1457 2628h8M1446 2412h8M1304 2338h8M1711 2331h8M1351 2305h8M1322 2347h8M1124 2262h8M1343 2416h8M1535 2325h8M1519 2354h8M1479 2554h8M1425 2419h8M1392 2421h8M1488 2258h8M1276 2597h8M1404 2430h8M1505 2426h8M1534 2313h8M1359 2557h8M1451 2299h8M1133 2185h8M1475 2315h8M1308 2385h8M1501 2407h8M1453 2311h8M1497 2348h8M1517 2399h8M1447 2453h8M1254 2489h8M1519 2550h8M1395 2282h8M1528 2364h8M1348 2460h8M1519 2489h8M1385 2402h8M1306 2430h8M1423 2377h8M1362 2297h8M1423 2429h8M1365 2346h8M1209 2376h8M1416 2466h8M1379 2560h8M1281 2457h8M1308 2462h8M1402 2454h8M1504 2421h8M1270 2237h8M1493 2576h8M1527 2303h8M1329 2413h8M1300 2290h8M1413 2245h8M1207 2463h8M1339 2362h8M1506 2458h8M1415 2471h8M1430 2368h8M1348 2356h8M1398 2459h8M1330 2359h8M1557 2405h8M1351 2470h8M1384 2376h8M1583 2472h8M1209 2330h8M1367 2608h8M1348 2390h8M1259 2524h8M1331 2357h8M1388 2270h8M1411 2389h8M1506 2292h8M1358 2243h8" stroke="#fa8932" stroke-width="8" fill="none"/>
<path d="M1160 3133h8M1156 3016h8M1110 2824h8M1154 3004h8M1132 2547h8M1166 2807h8M1180 3207h8M1132 2766h8M1175 3161h8M1142 2937h8M1155 3156h8M1142 2894h8M1120 2973h8M1144 3344h8M1135 2766h8M1173 2705h8M1129 2806h8M1171 3092h8M1191 3080h8M1121 2970h8M1139 2900h8M1143 2976h8M1155 2971h8M1150 2884h8M1109 3203h8M1128 2848h8M1182 2905h8M1136 2785h8M1152 2795h8M1183 3100h8M1145 2628h8M1162 2694h8M1150 3166h8M1172 3108h8M1126 2897h8M1138 3084h8M1112 3162h8M1109 2837h8M1079 2497h8M1180 2947h8M1147 2756h8M1134 2703h8M1151 3056h8M1158 2933h8M1168 2742h8M1118 2900h8M1158 3080h8M1134 2996h8M1145 2788h8M1137 2721h8M1154 3002h8M1168 2683h8M1087 3146h8M1127 2859h8M1140 3013h8M1127 2904h8M1178 2885h8M1183 3148h8M1160 2845h8M1152 2874h8M1182 3045h8M1164 2975h8M1194 3079h8M1148 3311h8M1170 2983h8M1161 2976h8M1160 2909h8M1191 2980h8M1162 3095h8M1140 2652h8M1185 2637h8M1151 2985h8M1162 3129h8M1109 2702h8M1195 2755h8M1129 3063h8M1142 2791h8M1139 3006h8M1157 2758h8M1193 2727h8M1132 2821h8M1196 2773h8M1123 2959h8M1118 2620h8M1156 2705h8M1160 2984h8M1156 2554h8M1217 3119h8M1143 2856h8M1192 2923h8M1158 3047h8M1125 2989h8M1136 2847h8M1174 3138h8M1124 3043h8M1183 3015h8M1120 2828h8M1146 2850h8M1146 2826h8M1163 2896h8M1134 3184h8M1144 2722h8M1140 2802h8M1138 3010h8M1158 3079h8M1131 3003h8M1173 2975h8M1170 2854h8M1155 2631h8M1116 2904h8M1144 3044h8M1138 3150h8M1137 3027h8M1082 2798h8M1157 2608h8M1105 2939h8M1158 3002h8M1152 2790h8M1135 3177h8M1149 3140h8M1183 2978h8M1127 2960h8M1132 3075h8M1165 3065h8M1136 3103h8M1104 3040h8M1143 2882h8M1127 2815h8M1143 2553h8M1138 2854h8M1130 2860h8M1116 2846h8M1149 3056h8M1105 2692h8M1154 2993h8M1132 3060h8M1136 3006h8M1167 2862h8M1148 2981h8M1179 2830h8M1198 3195h8M1123 3029h8M1150 2923h8M1164 2834h8M1171 2397h8M1121 2833h8M1139 2889h8M1164 2637h8M1128 3012h8M1153 3001h8M1163 2786h8M1158 2832h8M1067 2763h8M1167 2952h8M1192 2921h8M1165 2664h8M1169 2784h8M1155 2353h8M1140 2889h8M1149 3268h8M1154 2810h8M1143 2731h8M1103 2994h8M1173 2862h8M1144 2839h8M1160 2854h8M1185 2819h8M1145 2855h8M1146 2847h8M1164 3099h8M1154 2956h8M1147 2983h8M1177 2799h8M1146 3105h8M1150 2739h8M1156 2755h8M1142 3024h8M1148 3039h8M1108 3025h8M1157 2992h8M1158 2880h8M1199 3108h8M1164 3038h8M1142 3022h8M1115 3355h8M1157 2941h8M1175 2827h8M1136 2819h8M1174 2862h8M1118 2875h8M1171 2846h8M1160 3157h8M1143 2971h8M1143 2848h8M1161 2922h8M1133 2786h8M1160 2834h8M1179 2977h8M1167 2941h8M1202 3038h8M1131 3159h8M1157 3210h8M1152 2639h8M1134 2957h8M1130 2578h8M1131 2771h8M1124 3194h8M1105 2847h8M1106 3072h8M1143 2758h8M1185 2983h8M1136 2923h8M1176 2933h8M1111 2933h8M1082 2959h8M1148 2914h8M1148 2915h8M1163 3031h8M1116 2832h8M1163 2896h8M1137 2971h8M1154 3182h8M1129 2797h8M1133 2976h8M1117 3088h8M1166 3060h8M1191 2642h8M1141 2713h8M1137 2876h8M1137 2870h8M1126 2934h8M1121 2820h8M1115 2912h8M1191 3204h8M1147 2821h8M1175 2770h8M1118 3106h8M1142 3041h8M1146 2912h8M1191 2608h8M1171 2862h8M1162 2712h8M1132 2711h8M1133 2946h8M1167 2973h8M1158 2948h8M1105 3063h8M1120 3160h8M1140 3167h8M1120 3086h8M1182 2617h8M1145 3009h8M1207 2807h8M1144 2953h8M1178 2987h8M1149 2967h8M1139 3079h8M1123 2994h8M1148 2900h8M1162 3078h8M1112 3047h8M1140 3017h8M1179 2917h8M1120 2934h8M1122 2977h8M1139 2713h8M1178 2948h8M1143 2623h8M1166 2864h8M1113 2884h8M1127 3078h8M1112 3110h8M1168 2996h8M1169 3167h8M1175 2892h8M1178 2788h8M1110 2731h8M1141 2797h8M1115 3355h8M1159 2933h8M1154 2850h8M1125 3049h8M1153 2921h8M1170 2798h8M1135 2995h8M1140 2985h8M1164 2772h8M1121 3125h8M1131 2861h8M1134 2624h8M1156 3128h8M1160 3040h8M1114 3045h8M1174 3000h8M1104 3095h8M1188 2872h8M1146 2743h8M1145 2607h8M1140 3054h8M1211 2843h8M1150 2762h8M1173 2735h8M1190 3056h8M1161 2717h8M1127 2673h8M1158 2793h8M1139 2961h8M1174 3036h8M1154 2720h8M1163 3009h8M1169 3091h8M1112 3178h8M1142 2820h8M1148 2949h8M1174 2881h8M1208 3028h8M1164 3144h8M1132 2794h8M1129 3149h8M1157 3040h8M1117 3423h8M1098 2837h8M1133 2864h8M1191 2867h8M1187 2679h8M1198 2757h8M1180 2826h8M1155 2878h8M1163 2784h8M1164 2666h8M1162 2975h8M1215 2983h8M1109 2995h8M1134 3010h8M1152 2866h8M1133 2853h8M1106 3029h8M1147 2666h8M1159 2921h8M1161 2901h8M1154 3089h8M1131 2721h8M1152 3012h8M1138 2874h8M1160 2989h8M1188 2911h8M1155 3154h8M1160 2955h8M1137 2462h8M1162 2928h8M1128 3003h8M1179 3032h8M1124 2710h8M1111 2930h8M1123 2960h8M1192 2927h8M1119 3140h8M1145 3080h8M1169 2671h8M1191 2814h8M1142 3115h8M1140 2556h8M1138 2906h8M1171 2669h8M1141 3295h8M1167 3253h8M1158 3041h8M1189 2972h8M1117 2714h8M1175 3032h8M1158 3191h8M1168 2849h8M1110 3165h8M1148 3044h8M1111 2895h8M1149 2962h8M1150 2959h8M1172 3189h8M1169 3053h8M1107 2998h8M1115 2858h8M1152 2891h8M1111 2648h8M1082 2871h8M1205 2794h8M1145 2830h8M1115 3265h8M1172 2969h8M1131 2810h8M1159 2883h8M1184 3061h8M1158 2572h8M1101 2862h8M1202 3084h8M1104 2951h8M1137 2829h8M1161 2729h8M1184 2917h8M1176 2743h8M1129 2988h8M1102 2936h8M1122 3173h8M1116 2824h8M1169 2692h8M1130 3278h8M1177 2935h8M1180 3006h8M1131 3031h8M1173 2892h8M1144 3263h8M1141 3055h8M1115 2965h8M1187 2907h8M1153 2940h8M1142 2760h8M1160 2875h8M1125 2928h8M1151 2920h8M1105 2697h8M1177 2510h8" stroke="#1976bf" stroke-width="8" fill="none"/>
<path d="M1116 2880h8M1111 3014h8M1114 2912h8M1119 3000h8M1100 2778h8M1141 3022h8M1094 3051h8M1163 3169h8M1108 3151h8M1096 3152h8M1117 2963h8M1103 3285h8M1105 3034h8M1096 2964h8M1064 2968h8M1095 2835h8M1056 3186h8M1099 2649h8M1057 3040h8M1063 2659h8M1104 3048h8M1065 2904h8M1085 2937h8M1122 2996h8M1118 3019h8M1114 2997h8M1151 2769h8M1057 2851h8M1084 2806h8M1099 2986h8M1149 3127h8M1088 2739h8M1131 3110h8M1139 3033h8M1123 2930h8M1122 3040h8M1122 3182h8M1087 2713h8M1089 2840h8M1123 2964h8M1123 3024h8M1105 2662h8M1093 3069h8M1098 2718h8M1090 3060h8M1085 2939h8M1105 3009h8M1094 2591h8M1101 3159h8M1080 3096h8M1094 3015h8M1105 2879h8M1050 3082h8M1101 2640h8M1086 3054h8M1127 2923h8M1059 2908h8M1098 2874h8M1098 3007h8M1119 2976h8M1072 3068h8M1110 2778h8M1109 2818h8M1091 2831h8M1103 3170h8M1149 2986h8M1097 3123h8M1112 3016h8M1122 2956h8M1122 2930h8M1110 2785h8M1104 2873h8M1121 2755h8M1138 2758h8M1077 2924h8M1092 2773h8M1094 3062h8M1079 2919h8M1097 2696h8M1117 2874h8M1088 3017h8M1100 2903h8M1072 2752h8M1097 2684h8M1113 2772h8M1134 3147h8M1090 3086h8M1105 3059h8M1122 2712h8M1123 2941h8M1081 3118h8M1099 3004h8M1143 3251h8M1082 2958h8M1121 3041h8M1122 3072h8M1076 2811h8M1135 2902h8M1121 3368h8M1138 2960h8M1077 3128h8M1096 2936h8M1100 2676h8M1149 2867h8M1081 3075h8M1080 3158h8M1092 2815h8M1102 2910h8M1111 2844h8M1114 2799h8M1136 3118h8M1083 3035h8M1091 2768h8M1120 2771h8M1104 3015h8M1117 3095h8M1115 2825h8M1113 3055h8M1110 2831h8M1094 2962h8M1127 3057h8M1067 2871h8M1101 2675h8M1125 3143h8M1126 3079h8M1123 2904h8M1129 2825h8M1081 3033h8M1127 2888h8M1122 2834h8" stroke="#fa8932" stroke-width="8" fill="none"/>
<path d="M906 3201h8M771 2807h8M520 2778h8M685 2814h8M631 2782h8M887 2729h8M1104 2908h8M933 2778h8M1079 2819h8M706 3140h8M1032 3148h8M474 2939h8M859 3189h8M431 3082h8M442 2831h8M804 2691h8M829 3143h8M956 3102h8M574 2894h8M512 2943h8M603 2961h8M1130 2948h8M606 2926h8M520 2883h8M790 2962h8M518 3062h8M870 2699h8M856 3140h8M846 3058h8M562 2700h8M431 2855h8M827 2749h8M834 3048h8M1098 2682h8M709 3006h8M1066 2758h8M824 2974h8M1046 2976h8M733 2680h8M998 3123h8M851 2821h8M689 2954h8M906 3199h8M991 2862h8M1030 2806h8M669 2930h8M615 2983h8M678 3068h8M888 2760h8M1077 2784h8M977 3128h8M833 3220h8M726 3190h8M569 3078h8M841 2865h8M799 2935h8M768 2987h8M962 2721h8M783 2704h8M459 2890h8M689 2926h8M453 3045h8M624 2655h8M1020 2744h8M868 2851h8M855 2792h8M946 3096h8M526 2882h8M836 2971h8M550 2970h8" stroke="#fa8932" stroke-width="8" fill="none"/>
<path d="M1139 2746h8M1254 2679h8M1210 2637h8M1141 2716h8M1247 2719h8M1254 2658h8M1179 2697h8M1202 2672h8M1208 2711h8M1278 2784h8M1214 2737h8M1251 2742h8M1237 2714h8M1327 2693h8M1218 2652h8M1250 2662h8M1278 2659h8M1204 2639h8M1158 2733h8M1214 2670h8M1239 2655h8M1243 2660h8M1275 2649h8M1241 2727h8M1257 2617h8M1268 2735h8M1292 2695h8M1315 2658h8M1314 2768h8M1244 2705h8M1149 2719h8M1165 2639h8M1291 2727h8M1263 2742h8M1227 2703h8M1169 2709h8M1215 2707h8M1150 2664h8M1210 2723h8M1172 2742h8M1186 2690h8M1163 2688h8M1178 2701h8M1269 2657h8M1217 2703h8M1259 2687h8M1109 2680h8M1212 2708h8M1227 2718h8M1250 2757h8M1186 2731h8M1228 2725h8M1227 2662h8M1202 2724h8M1234 2688h8M1210 2688h8M1192 2653h8M1226 2749h8M1144 2625h8M1242 2639h8" stroke="#1976bf" stroke-width="8" fill="none"/>
<path d="M1449 2354h8M1454 2427h8M1461 2349h8M1413 2427h8M1474 2308h8M1435 2385h8M1490 2425h8M1449 2427h8M1463 2382h8M1450 2527h8M1490 2401h8M1435 2509h8M1470 2260h8M1487 2434h8M1473 2424h8M1463 2532h8M1429 2408h8M1524 2479h8M1427 2438h8M1462 2484h8M1499 2391h8M1459 2480h8M1497 2429h8M1481 2474h8M1502 2512h8M1523 2437h8M1496 2459h8M1494 2345h8M1438 2447h8M1489 2441h8M1490 2364h8M1434 2401h8M1481 2431h8M1463 2393h8M1478 2380h8M1500 2484h8M1481 2411h8M1485 2504h8M1447 2456h8M1467 2500h8M1485 2414h8M1473 2446h8M1481 2445h8M1444 2374h8M1461 2513h8M1479 2472h8M1523 2378h8M1497 2470h8M1465 2392h8M1495 2473h8M1496 2480h8M1460 2326h8M1531 2559h8M1476 2495h8M1468 2409h8M1473 2383h8M1454 2567h8M1512 2513h8M1470 2377h8M1427 2308h8" stroke="#1976bf" stroke-width="8" fill="none"/>
<path d="M1485 3000h8M1143 3219h8M1170 2676h8M1342 3226h8M1346 3218h8M1148 2721h8M1248 2690h8M1130 3166h8M1478 2758h8M1476 2989h8M1480 3204h8M1457 3150h8M1427 2711h8M1410 2691h8M1348 2668h8M1335 3193h8M1275 2667h8M1351 3201h8M1499 2857h8M1461 3208h8M1347 3230h8M1491 2844h8M1441 3152h8M1328 2667h8M1253 2687h8M1398 3197h8M1190 2677h8M1163 2687h8M1438 2735h8M1122 3176h8M1440 3180h8M1339 3192h8M1446 2807h8M1357 3228h8M1501 2821h8M1493 2813h8M1514 3007h8M1490 3141h8M1211 2678h8M1401 3151h8M1463 3093h8M1369 3226h8M1491 3105h8M1509 2996h8M1359 3226h8M1327 3232h8M1436 2716h8M1498 2806h8M1481 2758h8M1305 2685h8M1435 2706h8M1172 2677h8M1151 3198h8M1510 2952h8M1173 2675h8M1193 2679h8M1304 3218h8M1485 2819h8M1425 2720h8M1470 2727h8M1178 2718h8M1485 2789h8M1360 2684h8M1491 2850h8M1505 3022h8M1112 3211h8M1382 2676h8M1352 2669h8M1234 2675h8M1212 3207h8M1504 3012h8M1472 3171h8M1486 3086h8M1499 3047h8M1515 2942h8M1449 3173h8M1409 2692h8M1285 3208h8M1514 2923h8M1321 2682h8M1124 3210h8M1495 3094h8M1389 3207h8M1362 3222h8M1484 3053h8M1458 2761h8M1211 2670h8M1300 3233h8M1460 3204h8M1504 2861h8M1499 2835h8M1215 2674h8M1477 2807h8M1309 2667h8M1497 2873h8M1445 3204h8M1480 2996h8M1502 2823h8M1222 2666h8M1505 3054h8M1165 2702h8M1297 3218h8M1397 2685h8M1489 2999h8M1146 2689h8M1474 3125h8M1495 3010h8M1516 2973h8M1111 3208h8M1498 3076h8M1498 2952h8M1471 3184h8M1489 3146h8M1309 3166h8M1487 3107h8M1439 2722h8M1121 3210h8M1422 3213h8M1268 2676h8M1193 2685h8M1504 3048h8M1188 2699h8M1197 3228h8M1497 2917h8M1492 2839h8M1410 2703h8M1261 2674h8M1360 2699h8M1367 2675h8M1182 3191h8M1112 3185h8M1335 2676h8M1197 2673h8M1406 3217h8M1120 3206h8M1310 3207h8M1297 3223h8M1427 2702h8M1474 3190h8M1233 2701h8M1504 2876h8M1467 3208h8M1200 3194h8M1165 2691h8M1161 3217h8M1251 2664h8M1441 2718h8M1112 3191h8M1472 2735h8M1491 3139h8M1397 3208h8M1487 2954h8M1497 3056h8M1446 3180h8M1190 3220h8M1190 3223h8M1483 3107h8M1190 2686h8M1470 3047h8M1282 3210h8M1279 2686h8M1245 3197h8M1471 3144h8M1413 2696h8M1298 2670h8M1383 2675h8M1431 3201h8M1206 2699h8M1234 3230h8M1439 3206h8M1506 3054h8M1222 2665h8M1480 3111h8M1164 3207h8M1406 2703h8M1284 2675h8M1202 2667h8M1497 3095h8M1337 3213h8M1354 3209h8M1511 2997h8M1161 3210h8M1469 2801h8M1495 3088h8M1168 3159h8M1197 2676h8M1291 3236h8M1378 2706h8M1434 3203h8M1496 2868h8M1173 2678h8M1256 2667h8M1407 3189h8M1512 2961h8M1471 2750h8M1267 2664h8M1488 3149h8M1504 3067h8M1217 2671h8M1279 2665h8M1381 3209h8M1417 3217h8M1352 2672h8M1480 3091h8M1113 3207h8M1170 2677h8M1391 2708h8M1256 3230h8M1478 3168h8M1438 2790h8M1503 3065h8M1301 3226h8M1232 2670h8M1518 2964h8M1408 3170h8M1471 3110h8M1193 2681h8M1482 2952h8M1506 2888h8M1277 2669h8M1472 3037h8M1486 2904h8M1493 2960h8M1480 3195h8M1139 3210h8M1487 2785h8M1511 2983h8M1498 3066h8M1260 3204h8M1496 2810h8M1480 2891h8M1260 3229h8M1168 2699h8M1302 2719h8M1490 3138h8M1512 2886h8M1264 3232h8M1418 3174h8M1292 3233h8M1337 2693h8M1494 2842h8M1120 3210h8M1446 3197h8M1376 3160h8M1218 3214h8M1513 2915h8M1456 2750h8M1124 3189h8M1488 2815h8M1504 2832h8M1493 3027h8M1158 2682h8M1172 3206h8M1426 3181h8M1337 3226h8M1240 2673h8M1327 2675h8M1474 3142h8M1513 2982h8M1372 3220h8M1453 2804h8M1481 2765h8M1517 2965h8M1473 3199h8M1469 2737h8M1514 2956h8M1448 2812h8M1302 2667h8M1515 2965h8M1270 2730h8M1453 3171h8M1354 2682h8M1420 2698h8M1413 2692h8M1483 2776h8M1217 3220h8M1266 2694h8M1402 3203h8M1498 3082h8M1312 3224h8M1253 3212h8M1415 3216h8M1477 2885h8M1442 2741h8M1329 2670h8M1503 2957h8M1487 3110h8M1200 3213h8M1421 2763h8M1234 3222h8M1477 3198h8M1393 2710h8M1367 3224h8M1463 3181h8M1232 2669h8M1499 2911h8M1334 2670h8M1471 2789h8M1472 3171h8M1330 3230h8M1513 2982h8M1442 3092h8M1345 3213h8M1155 3186h8M1300 3105h8M1152 2710h8M1164 3011h8M1392 2753h8M1310 2823h8M1491 2947h8M1413 2984h8M1135 2785h8M1148 3034h8M1425 3186h8M1230 3183h8M1344 2950h8M1311 2769h8M1179 2880h8M1368 3175h8M1278 2663h8M1265 2702h8M1494 3035h8M1465 3182h8M1196 2927h8M1197 2940h8M1262 3114h8M1407 2751h8M1150 3061h8M1140 3067h8M1474 2892h8M1314 3187h8M1473 2963h8M1229 2701h8M1299 3014h8M1303 3102h8M1261 3208h8M1288 3133h8M1245 2666h8M1435 2723h8M1340 2987h8M1249 2706h8M1299 2902h8M1294 2748h8M1218 2681h8M1355 3033h8M1160 2770h8M1142 2693h8M1360 3097h8M1505 2941h8M1333 2755h8M1326 3103h8M1281 2759h8M1491 2949h8M1269 2791h8M1365 3039h8M1233 2943h8M1428 3199h8M1325 2849h8M1133 3068h8M1209 2971h8M1312 3215h8M1231 2911h8M1257 3042h8M1277 2770h8M1236 3169h8M1392 3108h8M1281 2819h8M1319 3059h8M1362 3051h8M1347 3023h8M1141 3210h8M1298 2875h8M1310 3197h8M1389 2912h8M1174 2947h8M1237 2688h8M1204 3116h8M1255 2724h8M1184 2687h8M1452 2915h8M1369 3042h8M1229 2884h8M1434 3004h8M1275 3094h8M1389 2831h8M1152 3168h8M1427 3148h8M1168 2944h8M1417 2923h8M1153 2963h8M1347 2811h8M1173 3089h8M1228 2753h8M1405 2837h8M1306 2818h8M1115 3179h8M1324 3098h8M1370 3136h8M1233 2685h8M1095 3205h8M1334 2957h8M1294 2809h8M1473 3031h8M1499 2892h8M1148 2784h8M1356 3046h8M1380 2925h8M1259 2771h8M1372 2982h8M1322 3090h8M1475 3198h8M1209 2766h8M1377 2922h8M1386 2766h8M1404 2884h8M1148 2734h8M1286 2952h8M1345 2834h8M1299 3012h8M1276 2945h8M1305 2725h8M1429 2980h8M1479 2974h8M1169 2937h8M1365 2911h8M1430 2702h8M1281 3098h8M1318 2799h8M1220 2807h8M1251 2941h8M1293 2898h8M1292 2671h8M1246 3226h8M1446 3157h8M1237 3031h8M1340 2982h8M1324 2948h8M1465 2859h8M1421 3096h8M1232 2788h8M1266 2941h8M1482 3049h8M1341 2969h8M1455 2828h8M1149 2822h8M1358 2922h8M1137 2776h8M1299 2736h8M1299 3148h8M1481 3017h8M1407 2877h8M1372 3223h8M1310 2670h8M1435 2968h8M1261 2855h8M1454 3015h8M1324 2888h8M1173 2887h8M1296 2710h8M1353 2718h8M1197 2867h8M1226 2776h8M1432 2977h8M1375 2932h8M1373 2718h8M1279 2896h8M1268 3092h8M1165 2683h8M1333 3119h8M1407 3153h8M1385 3033h8M1244 2872h8M1331 2786h8M1403 2974h8M1309 2712h8M1189 2765h8M1140 3181h8M1342 2703h8M1331 3154h8M1172 2722h8M1160 2721h8M1234 3134h8M1429 3010h8M1367 2732h8M1249 3191h8M1341 2845h8M1363 2788h8M1305 2764h8M1366 3052h8M1453 2944h8M1402 3000h8M1172 3108h8M1184 2993h8M1206 2896h8M1183 2678h8M1406 3192h8M1160 2790h8M1162 2916h8M1322 2822h8M1272 2680h8M1212 3153h8M1403 3212h8M1197 2723h8M1250 2960h8M1480 3196h8M1293 3068h8M1318 2878h8M1220 3066h8M1466 3027h8M1297 2782h8M1182 2937h8M1415 2930h8M1292 3044h8M1261 2763h8M1431 3036h8M1328 3032h8M1115 3167h8M1400 2861h8M1175 2897h8M1250 2682h8M1327 2697h8M1136 3060h8M1273 2693h8M1394 2727h8M1151 2860h8M1460 2910h8M1279 2703h8M1384 2685h8M1189 3078h8M1315 2925h8M1405 3129h8M1250 2842h8M1364 3200h8M1161 2878h8M1265 2742h8M1304 3182h8M1148 2784h8M1298 2957h8M1492 2896h8M1482 3104h8M1157 3161h8M1422 2728h8M1319 3233h8M1433 2706h8M1283 2772h8M1380 2704h8M1470 3161h8M1277 3019h8M1497 2965h8M1195 3199h8M1317 2894h8M1213 2669h8M1258 3220h8M1168 2747h8M1178 2764h8M1477 2963h8M1245 3205h8M1320 2684h8M1144 2985h8M1292 2818h8M1428 2788h8M1394 2970h8M1464 2835h8M1279 2756h8M1383 2763h8M1380 2746h8M1452 3044h8M1313 2717h8M1310 3156h8M1400 2749h8M1276 2982h8M1237 3104h8M1279 3213h8M1171 2750h8M1508 3030h8M1182 3133h8M1279 3003h8M1335 3059h8M1260 3079h8M1180 3039h8M1307 3178h8M1469 3044h8M1254 2728h8M1235 2722h8M1238 3128h8M1510 3018h8M1310 2956h8M1426 3113h8M1383 2779h8M1487 2833h8M1440 2734h8M1244 3066h8M1293 2881h8M1365 2918h8M1412 3165h8M1391 2937h8M1458 3025h8M1405 2946h8M1315 2875h8M1139 2713h8M1487 3082h8M1146 3183h8M1374 3125h8M1491 2812h8M1490 3019h8M1208 3116h8M1333 2792h8M1495 3077h8M1480 2919h8M1506 3025h8M1254 3102h8M1400 2825h8M1386 2883h8M1321 3222h8M1312 3218h8M1388 2895h8M1344 2789h8M1138 3081h8M1334 2897h8M1340 2894h8M1191 2739h8M1267 2851h8M1261 3224h8M1182 3107h8M1204 2758h8M1196 2886h8M1444 3209h8M1144 2772h8M1232 2884h8M1327 2762h8M1301 2967h8M1269 3204h8M1501 2919h8M1169 3102h8M1460 3004h8M1178 2971h8M1198 2803h8M1332 3147h8M1225 2689h8M1326 2942h8M1407 2953h8M1417 2893h8M1416 2806h8M1318 2909h8M1408 2967h8M1335 3139h8M1318 2732h8M1217 2986h8M1165 3046h8M1301 2769h8M1323 3052h8M1135 3059h8M1387 2804h8M1238 3092h8M1154 2814h8M1263 2890h8M1165 3015h8M1503 2887h8M1408 2764h8M1261 2790h8M1357 2810h8M1410 2721h8M1248 3039h8M1138 2972h8M1494 3093h8M1337 3095h8M1282 2845h8M1385 2884h8M1236 2928h8M1185 3198h8M1450 2903h8M1514 2954h8M1464 3111h8M1410 2720h8M1220 3201h8M1226 3213h8M1442 3095h8M1325 2957h8M1199 3122h8M1333 3081h8M1323 2932h8M1379 2873h8M1437 2709h8M848 2632h8M704 2635h8M1091 2618h8M541 3146h8M783 3220h8M484 2806h8M515 2766h8M667 2654h8M906 3214h8M1124 2647h8M1079 3208h8M920 3231h8M399 2844h8M546 3095h8M873 3228h8M1092 2667h8M856 2630h8M854 3227h8M798 2664h8M1030 2629h8M513 3137h8M626 2665h8M458 3076h8M1106 2645h8M935 2637h8M536 2700h8M1019 3221h8M1076 3209h8M885 2632h8M954 2641h8M560 2716h8M934 3227h8M1089 2609h8M653 3160h8M405 2839h8M741 3210h8M959 2639h8M1046 2620h8M803 2635h8M483 2762h8M352 2964h8M371 3033h8M1037 2630h8M389 2878h8M706 2639h8M1080 2610h8M855 3194h8M1093 2635h8M568 3145h8M696 2653h8M712 2640h8M531 3136h8M348 2979h8M1001 2629h8M1059 3203h8M819 2639h8M345 2945h8M997 2630h8M824 2633h8M898 2661h8M573 3162h8M1053 3218h8M920 3217h8M1047 2627h8M365 2999h8M882 3227h8M481 2774h8M1076 3202h8M951 3225h8M398 3054h8M730 2668h8M372 3026h8M796 3192h8M1010 3226h8M483 3097h8M550 2685h8M889 3228h8M707 2640h8M905 2652h8M420 3068h8M1029 3213h8M503 2759h8M966 2632h8M790 2626h8M371 3038h8M696 2652h8M781 3209h8M910 2636h8M431 3084h8M471 2771h8M423 2851h8M417 3074h8M672 2647h8M516 2749h8M971 2631h8M556 2683h8M1001 3198h8M445 2809h8M538 3137h8M559 2688h8M695 3159h8M728 3202h8M1031 3226h8M546 2689h8M967 2641h8M548 2699h8M371 3029h8M341 2956h8M1120 2667h8M1016 3220h8M996 2632h8M381 3029h8M338 2993h8M851 3225h8M850 3223h8M560 3137h8M695 2636h8M419 2827h8M928 2648h8M1048 3209h8M804 2656h8M846 3219h8M461 2791h8M1088 2605h8M1083 2650h8M373 3014h8M1031 3223h8M569 2714h8M1005 3224h8M799 3210h8M554 2696h8M639 2667h8M847 2634h8M354 2927h8M500 3106h8M1119 2683h8M806 3218h8M383 3043h8M401 2850h8M938 3217h8M416 3079h8M1123 2646h8M562 3116h8M608 2662h8M410 2853h8M769 2637h8M930 2648h8M748 2657h8M1009 3222h8M467 3112h8M483 3122h8M407 3072h8M333 2985h8M757 3213h8M935 3217h8M690 2644h8M625 3174h8M1105 2629h8M777 2643h8M454 2833h8M513 2752h8M968 2659h8M967 3231h8M509 2730h8M626 3177h8M596 2692h8M389 3041h8M390 2885h8M460 2812h8M988 2628h8M729 2634h8M980 3227h8M600 2666h8M783 3166h8M766 3218h8M760 3216h8M997 2640h8M1128 2683h8M773 2629h8M636 2678h8M963 2637h8M674 2652h8M381 3008h8M1128 2668h8M1017 2643h8M878 3228h8M1132 2648h8M525 3111h8M601 3161h8M772 2635h8M1127 2662h8M385 3042h8M749 2645h8M791 2637h8M465 3098h8M380 3050h8M522 3128h8M900 3213h8M608 3176h8M1044 3219h8M718 2636h8M956 3228h8M1090 2655h8M1086 2623h8M861 3223h8M1073 2611h8M1125 2653h8M349 2944h8M595 2671h8M413 2843h8M556 3135h8M718 3182h8M844 3220h8M358 2931h8M824 3217h8M593 2674h8M1061 2612h8M775 2653h8M470 2771h8M908 3197h8M431 3076h8M383 2873h8M461 2785h8M603 2683h8M1038 2650h8M628 2666h8M719 2636h8M820 3211h8M706 3201h8M378 2984h8M844 2630h8M741 2633h8M685 3195h8M734 2633h8M1110 2628h8M406 3035h8M654 2670h8M810 2633h8M477 3121h8M370 3026h8M830 3211h8M1004 3203h8M553 3152h8M479 2761h8M774 2657h8M815 3222h8M711 3201h8M994 2638h8M764 3212h8M679 3193h8M341 2974h8M543 3131h8M905 2635h8M467 2798h8M1058 2620h8M892 2635h8M518 3139h8M717 2637h8M692 2646h8M333 2986h8M1129 2683h8M626 2659h8M1024 3223h8M350 2957h8M806 3216h8M530 2707h8M448 2834h8M933 3233h8M1029 3221h8M1043 2623h8M834 2628h8M719 2639h8M535 2714h8M800 2629h8M408 3071h8M913 2652h8M431 3080h8M533 3138h8M420 3064h8M955 3233h8M354 3011h8M682 3192h8M689 3179h8M720 3193h8M368 2881h8M1057 2633h8M748 3189h8M703 3199h8M1031 3202h8M733 3197h8M936 3226h8M361 2907h8M601 3172h8M557 3152h8M363 3026h8M379 2872h8M830 2649h8M1009 2633h8M593 2666h8M1036 2633h8M682 2643h8M698 3162h8M456 3106h8M536 3144h8M966 2639h8M589 3142h8M1080 2644h8M792 2663h8M558 3149h8M554 3154h8M472 3107h8M550 2691h8M667 3188h8M803 2631h8M591 3150h8M952 2637h8M682 3188h8M473 3117h8M525 2776h8M787 2644h8M354 2922h8M533 3126h8M465 3110h8M888 2651h8M351 2973h8M394 2858h8M664 3166h8M487 2756h8M921 2646h8M822 3193h8M384 2887h8M474 3118h8M1098 2631h8M801 2627h8M963 2654h8M601 2671h8M465 3110h8M908 2669h8M628 3171h8M386 2878h8M439 2808h8M997 2641h8M577 2683h8M1072 2611h8M567 2710h8M357 2929h8M694 3178h8M409 3050h8M495 3125h8M606 3119h8M990 2644h8M897 2643h8M566 2713h8M493 2763h8M1029 2625h8M658 3190h8M1069 2622h8M1124 2641h8M476 2813h8M806 2630h8M532 2714h8M368 2918h8M1082 2608h8M718 3201h8M570 2675h8M1111 2673h8M522 3139h8M836 2640h8M415 3042h8M1011 2691h8M1079 2602h8M978 2648h8M565 2682h8M333 2988h8M413 2851h8M753 2637h8M424 2843h8M429 3056h8M434 2859h8M359 2916h8M536 2703h8M668 3168h8M517 2719h8M749 2631h8M846 3213h8M511 3132h8M523 2718h8M991 3230h8M589 2686h8M1076 2608h8M428 3055h8M456 3064h8M894 3206h8M1009 2626h8M1020 2623h8M793 2997h8M916 3081h8M888 2682h8M739 2880h8M749 2770h8M449 3070h8M439 2939h8M872 2934h8M553 3063h8M945 3204h8M625 2741h8M722 2683h8M888 3152h8M818 2767h8M777 2767h8M515 2985h8M800 2677h8M481 2979h8M492 2781h8M709 3140h8M417 3023h8M499 2894h8M776 3007h8M512 2929h8M795 2762h8M858 2913h8M601 2787h8M855 2732h8M705 2769h8M595 2712h8M840 2959h8M465 3095h8M1010 2686h8M652 3111h8M375 2997h8M638 2926h8M984 3015h8M870 2983h8M919 3210h8M503 2800h8M498 2764h8M926 3133h8M688 2857h8M439 2945h8M698 3184h8M486 2752h8M900 3079h8M972 2785h8M523 3091h8M875 2771h8M808 2688h8M456 3020h8M649 2836h8M380 2936h8M649 2958h8M634 3114h8M882 2815h8M513 3007h8M800 2820h8M971 2640h8M741 2737h8M754 2744h8M911 2755h8M897 2970h8M787 3135h8M628 2923h8M592 3011h8M943 3032h8M977 3020h8M431 2837h8M833 3206h8M565 2747h8M763 2966h8M440 3004h8M1017 2709h8M646 2655h8M917 3153h8M955 3117h8M704 2767h8M982 2716h8M636 3108h8M484 2803h8M624 3168h8M642 2794h8M585 2919h8M720 2655h8M772 3210h8M607 3099h8M722 2677h8M581 3059h8M794 3137h8M963 2828h8M692 2636h8M710 3069h8M584 3124h8M656 2988h8M814 3014h8M653 2907h8M524 2938h8M568 2871h8M535 2725h8M1085 2624h8M523 2875h8M426 2838h8M514 3018h8M515 2924h8M862 2934h8M728 2741h8M822 2831h8M985 2744h8M1048 3222h8M647 3134h8M450 2975h8M891 2826h8M586 3021h8M876 2998h8M730 3036h8M904 2988h8M732 3056h8M1114 2671h8M471 3029h8M594 2885h8M614 3175h8M975 2825h8M669 2652h8M571 2708h8M638 2905h8M617 2847h8M943 2669h8M579 3076h8M887 2547h8M818 2372h8M1010 2491h8M1010 2526h8M937 2542h8M1049 2434h8M942 2312h8M882 2534h8M718 2417h8M723 2438h8M946 2533h8M717 2424h8M975 2537h8M1054 2405h8M907 2541h8M841 2537h8M992 2533h8M717 2499h8M1055 2394h8M954 2530h8M920 2521h8M779 2517h8M717 2419h8M779 2382h8M861 2380h8M733 2408h8M1063 2383h8M982 2317h8M1001 2319h8M858 2376h8M998 2535h8M1062 2444h8M851 2382h8M762 2536h8M753 2515h8M1017 2336h8M854 2538h8M717 2437h8M805 2547h8M772 2532h8M807 2542h8M797 2372h8M1027 2518h8M1053 2504h8M1028 2502h8M755 2534h8M722 2497h8M1064 2456h8M1057 2354h8M768 2398h8M734 2418h8M1058 2398h8M722 2453h8M752 2526h8M938 2530h8M967 2534h8M868 2538h8M1062 2459h8M735 2513h8M844 2370h8M758 2400h8M894 2519h8M998 2317h8M905 2374h8M1056 2499h8M1069 2468h8M988 2317h8M709 2441h8M885 2386h8M703 2467h8M1058 2388h8M1073 2483h8M870 2383h8M839 2371h8M1041 2335h8M736 2506h8M980 2522h8M932 2544h8M1012 2528h8M937 2324h8M1032 2521h8M876 2534h8M737 2517h8M880 2530h8M1034 2410h8M1056 2377h8M747 2398h8M847 2379h8M1050 2432h8M931 2349h8M993 2316h8M900 2376h8M1048 2427h8M734 2508h8M861 2367h8M880 2381h8M1010 2318h8M858 2376h8M841 2548h8M947 2524h8M816 2373h8M988 2329h8M903 2365h8M965 2349h8M713 2452h8M739 2522h8M955 2318h8M1061 2494h8M1061 2494h8M1068 2365h8M1057 2354h8M990 2336h8M917 2351h8M1024 2441h8M793 2534h8M962 2318h8M703 2476h8M751 2420h8M915 2358h8M734 2406h8M998 2332h8M1038 2333h8M1005 2509h8M755 2403h8M1067 2366h8M934 2325h8M817 2544h8M840 2393h8M956 2527h8M853 2549h8M704 2460h8M829 2381h8M738 2520h8M1049 2496h8M706 2436h8M878 2371h8M1070 2472h8M783 2383h8M1044 2490h8M850 2376h8M942 2313h8M913 2547h8M739 2414h8M1045 2349h8M1070 2482h8M775 2384h8M780 2527h8M1052 2435h8M774 2539h8M963 2317h8M1065 2493h8M922 2545h8M724 2432h8M1077 2483h8M1049 2464h8M771 2419h8M954 2316h8M840 2547h8M1045 2449h8M841 2535h8M1072 2474h8M801 2536h8M1060 2491h8M1054 2399h8M923 2364h8M980 2318h8M1059 2442h8M1066 2371h8M905 2382h8M999 2527h8M870 2375h8M749 2526h8M867 2549h8M788 2383h8M759 2419h8M918 2471h8M879 2366h8M974 2389h8M955 2452h8M904 2417h8M954 2324h8M922 2511h8M1013 2440h8M980 2438h8M807 2408h8M1044 2503h8M962 2444h8M1011 2348h8M845 2542h8M978 2517h8M1005 2480h8M1037 2476h8M749 2524h8M887 2396h8M824 2483h8M1003 2372h8M977 2416h8M1001 2498h8M1044 2471h8M799 2388h8M758 2498h8M772 2504h8M769 2429h8M855 2458h8M778 2487h8M945 2335h8M762 2402h8M1046 2433h8M891 2500h8M1009 2346h8M986 2487h8M882 2508h8M1001 2318h8M989 2431h8M932 2361h8M899 2493h8M877 2480h8M857 2539h8M907 2487h8M1050 2359h8M894 2369h8M1031 2408h8M799 2509h8M1063 2454h8M777 2536h8M897 2417h8M1010 2379h8M959 2346h8M1022 2323h8M870 2508h8M969 2329h8M1033 2346h8M858 2547h8M1018 2481h8M1057 2495h8M836 2388h8M828 2482h8M786 2530h8M886 2446h8M745 2481h8M974 2372h8M948 2331h8M862 2489h8M1028 2446h8M981 2438h8M1028 2491h8M787 2462h8M736 2437h8M815 2450h8M874 2411h8M976 2538h8M917 2456h8M758 2502h8M855 2400h8M788 2500h8M714 2423h8M882 2440h8M856 2393h8M933 2394h8M938 2490h8M909 2509h8M726 2499h8M866 2414h8M984 2460h8M961 2376h8M1024 2412h8M1040 2482h8M1039 2387h8M820 2404h8M911 2466h8M820 2414h8M975 2511h8M997 2420h8M962 2474h8M971 2425h8M1022 2352h8M916 2445h8M768 2471h8M767 2536h8M841 2389h8M835 2392h8M1034 2512h8M997 2360h8M953 2538h8M953 2410h8M1025 2498h8M855 2465h8M1011 2417h8M997 2321h8M999 2422h8M974 2330h8M973 2346h8M772 2457h8M939 2536h8M1026 2458h8M788 2527h8M792 2412h8M988 2326h8M898 2405h8M990 2412h8M929 2340h8M705 2473h8M958 2515h8M741 2414h8M869 2511h8M801 2381h8M940 2318h8M903 2506h8M746 2493h8M987 2505h8M955 2335h8M749 2538h8M794 2408h8M974 2375h8M836 2397h8M879 2452h8M1015 2406h8M917 2505h8M923 2501h8M799 2472h8M1069 2480h8M876 2408h8M952 2530h8M781 2519h8M841 2500h8M1472 2279h8M1501 2341h8M1489 2289h8M1526 2512h8M1499 2435h8M1365 2308h8M1496 2553h8M1426 2294h8M1482 2562h8M1415 2324h8M1436 2295h8M1471 2317h8M1391 2307h8M1381 2322h8M1518 2498h8M1368 2347h8M1476 2555h8M1453 2288h8M1494 2373h8M1403 2304h8M1494 2355h8M1345 2302h8M1414 2300h8M1490 2546h8M1394 2307h8M1507 2387h8M1473 2357h8M1506 2370h8M1472 2532h8M1508 2451h8M1506 2395h8M1481 2440h8M1370 2347h8M1496 2324h8M1492 2534h8M1453 2286h8M1410 2309h8M1465 2485h8M1455 2338h8M1503 2490h8M1395 2308h8M1480 2544h8M1526 2517h8M1369 2335h8M1533 2546h8M1358 2326h8M1485 2516h8M1477 2534h8M1475 2377h8M1502 2488h8M1505 2540h8M1494 2558h8M1488 2284h8M1514 2486h8M1396 2313h8M1446 2301h8M1420 2295h8M1380 2309h8M1430 2301h8M1480 2483h8M1495 2316h8M1502 2360h8M1485 2482h8M1511 2494h8M1498 2331h8M1420 2297h8M1494 2366h8M1486 2549h8M1415 2314h8M1358 2331h8M1491 2402h8M1504 2377h8M1386 2346h8M1468 2288h8M1376 2341h8M1495 2514h8M1484 2483h8M1484 2438h8M1522 2512h8M1407 2332h8M1485 2357h8M1378 2340h8M1458 2320h8M1487 2544h8M1487 2544h8M1360 2298h8M1512 2522h8M1376 2338h8M1498 2541h8M1454 2302h8M1483 2411h8M1427 2364h8M1385 2361h8M1491 2526h8M1396 2324h8M1493 2492h8M1464 2329h8M1443 2439h8M1405 2305h8M1504 2408h8M1401 2377h8M1522 2510h8M1479 2454h8M1516 2538h8M1483 2559h8M1477 2468h8M1464 2457h8M1429 2351h8M1468 2503h8M1434 2348h8M1539 2539h8M1385 2339h8M1455 2464h8M1474 2483h8M1420 2388h8M1505 2420h8M1497 2543h8M1469 2368h8M1461 2310h8M1464 2377h8M1503 2521h8M1487 2301h8M1435 2303h8M1450 2432h8M1439 2322h8M1505 2459h8M1396 2324h8M1498 2491h8M1461 2528h8M1453 2370h8M1442 2381h8M1431 2323h8M1460 2463h8M1449 2334h8M1421 2344h8M1460 2401h8M1438 2310h8M1450 2418h8M1442 2422h8M1478 2386h8M1448 2376h8M1487 2364h8M1460 2488h8M1503 2350h8M1469 2304h8M1491 2486h8M1348 2315h8M1432 2310h8M1466 2292h8M1450 2415h8M1483 2557h8M1451 2380h8M1464 2478h8M1364 2308h8M1442 2417h8M1478 2442h8M1463 2331h8M1481 2489h8M1522 2517h8M1453 2364h8M1487 2381h8M1490 2548h8M1352 2317h8M1473 2450h8M1438 2437h8M1455 2382h8M1492 2330h8M1468 2444h8M1335 2332h8M1373 2380h8M1216 2415h8M1251 2266h8M1179 2218h8M1312 2316h8M1179 2269h8M1366 2365h8M1181 2276h8M1426 2535h8M1380 2545h8M1180 2282h8M1344 2572h8M1371 2365h8M1265 2288h8M1282 2313h8M1265 2489h8M1183 2295h8M1365 2370h8M1237 2438h8M1246 2494h8M1211 2234h8M1260 2284h8M1292 2301h8M1374 2373h8M1416 2531h8M1176 2221h8M1369 2568h8M1271 2320h8M1392 2559h8M1258 2491h8M1283 2542h8M1245 2500h8M1189 2359h8M1250 2509h8M1327 2332h8M1342 2335h8M1342 2346h8M1435 2533h8M1324 2570h8M1313 2573h8M1210 2403h8M1190 2315h8M1240 2467h8M1202 2230h8M1186 2317h8M1185 2218h8M1336 2574h8M1256 2511h8M1368 2557h8M1229 2448h8M1305 2564h8M1254 2519h8M1270 2297h8M1193 2248h8M1286 2540h8M1271 2507h8M1200 2377h8M1338 2334h8M1321 2321h8M1345 2573h8M1349 2355h8M1178 2247h8M1197 2229h8M1310 2563h8M1187 2264h8M1276 2536h8M1172 2210h8M1294 2550h8M1187 2214h8M1322 2374h8M1293 2335h8M1185 2311h8M1408 2545h8M1376 2374h8M1266 2515h8M1300 2330h8M1187 2241h8M1247 2442h8M1301 2323h8M1315 2575h8M1189 2331h8M1219 2357h8M1443 2514h8M1180 2212h8M1186 2315h8M1246 2460h8M1170 2203h8M1242 2259h8M1381 2389h8M1223 2404h8M1184 2257h8M1187 2322h8M1227 2255h8M1178 2262h8M1260 2509h8M1358 2348h8M1182 2245h8M1242 2431h8M1290 2529h8M1315 2575h8M1201 2388h8M1188 2341h8M1321 2576h8M1420 2473h8M1238 2422h8M1278 2292h8M1333 2337h8M1306 2312h8M1181 2216h8M1207 2238h8M1233 2452h8M1207 2309h8M1193 2234h8M1230 2423h8M1272 2535h8M1308 2563h8M1352 2354h8M1317 2560h8M1181 2213h8M1364 2569h8M1190 2328h8M1334 2525h8M1403 2468h8M1285 2319h8M1212 2238h8M1292 2361h8M1368 2451h8M1377 2378h8M1293 2386h8M1302 2560h8M1411 2455h8M1402 2560h8M1190 2299h8M1276 2515h8M1231 2410h8M1362 2350h8M1198 2278h8M1394 2454h8M1388 2484h8M1288 2502h8M1362 2547h8M1327 2525h8M1323 2381h8M1389 2511h8M1337 2505h8M1363 2358h8M1398 2464h8M1188 2236h8M1235 2340h8M1199 2269h8M1347 2395h8M1403 2557h8M1252 2405h8M1372 2468h8M1401 2465h8M1349 2502h8M1256 2476h8M1282 2513h8M1363 2357h8M1207 2399h8M1276 2372h8M1193 2294h8M1315 2407h8M1241 2437h8M1428 2514h8M1384 2485h8M1195 2302h8M1205 2271h8M1426 2479h8M1280 2359h8M1433 2530h8M1347 2499h8M1340 2524h8M1278 2404h8M1296 2344h8M1291 2316h8M1250 2380h8M1358 2403h8M1305 2463h8M1323 2487h8M1206 2398h8M1329 2361h8M1350 2355h8M1397 2465h8M1383 2478h8M1260 2505h8M1404 2444h8M1439 2514h8M1238 2399h8M1335 2481h8M1393 2452h8M1399 2545h8M1351 2474h8M1231 2257h8M1240 2329h8M1314 2519h8M1234 2350h8M1184 2247h8M1363 2499h8M1365 2379h8M1255 2427h8M1409 2438h8M1218 2312h8M1229 2317h8M1325 2469h8M1393 2469h8M1345 2355h8M1263 2322h8M1281 2422h8M1291 2336h8M1205 2339h8M1261 2374h8M1366 2404h8M1403 2497h8M1329 2442h8M1417 2502h8M1266 2477h8M1400 2561h8M1235 2380h8M1330 2413h8M1239 2461h8M1287 2408h8M1318 2323h8M1251 2474h8M1302 2527h8M1272 2509h8M1394 2461h8M1346 2346h8M1329 2529h8M1293 2468h8M1186 2309h8M1359 2486h8M1334 2394h8M1379 2430h8M1296 2430h8M1267 2287h8M1352 2508h8M1360 2485h8M1437 2531h8M1409 2526h8M1359 2366h8M1264 2427h8M1315 2571h8M1393 2562h8M1406 2519h8M1257 2352h8M1274 2377h8M1397 2480h8M1331 2349h8M1260 2474h8M1333 2485h8M1266 2440h8M1207 2357h8M1359 2524h8M1344 2538h8M1184 2264h8M1188 2251h8M1201 2371h8M1281 2367h8M1258 2386h8M1928 2780h8M2026 2633h8M2012 2802h8M1903 2729h8M2047 2667h8M1914 2669h8M2027 2792h8M1922 2781h8M1944 2782h8M1902 2745h8M2047 2640h8M2056 2650h8M1958 2778h8M1920 2652h8M2024 2800h8M1931 2750h8M1925 2653h8M1963 2805h8M1912 2709h8M1925 2778h8M1918 2756h8M1993 2810h8M1950 2780h8M2064 2685h8M1956 2800h8M1976 2632h8M1936 2774h8M2054 2657h8M2058 2670h8M1918 2750h8M2000 2637h8M1902 2694h8M1922 2774h8M1988 2629h8M2062 2725h8M2029 2645h8M1954 2787h8M1986 2628h8M1905 2684h8M2072 2743h8M2022 2633h8M1921 2770h8M1958 2791h8M2066 2664h8M1901 2743h8M1958 2630h8M1938 2788h8M2037 2648h8M2080 2731h8M1996 2800h8M1896 2717h8M2068 2739h8M1971 2620h8M1936 2642h8M2044 2663h8M2009 2798h8M2075 2753h8M1947 2633h8M1936 2672h8M1981 2809h8M1923 2702h8M1970 2620h8M1991 2794h8M2069 2673h8M2078 2683h8M1962 2631h8M2049 2661h8M2070 2760h8M1941 2773h8M2064 2660h8M2004 2810h8M2059 2756h8M2044 2770h8M2059 2659h8M1963 2803h8M2008 2620h8M2081 2713h8M2068 2663h8M1977 2626h8M2071 2748h8M2085 2716h8M2012 2649h8M1916 2691h8M1966 2622h8M2058 2771h8M1993 2622h8M1999 2798h8M2018 2624h8M2046 2641h8M1908 2672h8M1951 2787h8M1915 2721h8M2067 2661h8M2052 2774h8M2039 2651h8M2077 2703h8M1899 2695h8M2039 2645h8M1984 2803h8M1917 2658h8M1959 2624h8M1921 2778h8M1923 2655h8M1973 2630h8M2060 2669h8M2061 2726h8M2062 2776h8M1909 2675h8M1928 2642h8M1943 2642h8M1964 2750h8M1993 2645h8M1922 2747h8M2013 2683h8M1996 2696h8M2032 2774h8M2049 2728h8M2044 2642h8M1951 2731h8M1982 2810h8M1983 2695h8M1982 2635h8M1972 2770h8M1909 2738h8M1959 2754h8M1968 2747h8M1992 2752h8M2028 2781h8M2035 2762h8M2080 2708h8M1901 2724h8M2067 2762h8M2076 2690h8M1988 2689h8M1987 2767h8M1913 2754h8M1971 2691h8M2059 2724h8M2010 2667h8M2025 2673h8M1935 2694h8M2038 2650h8M2000 2755h8M1991 2801h8M2035 2650h8M1920 2669h8M1938 2769h8M1940 2767h8M1941 2707h8M2010 2686h8M2006 2738h8M1957 2759h8M2010 2750h8M2035 2743h8M2072 2715h8M2039 2748h8M1967 2797h8M2064 2685h8M2012 2634h8M1977 2659h8M1972 2769h8M2056 2727h8M2067 2737h8M2040 2684h8M1981 2673h8M2013 2658h8M2036 2788h8M1947 2694h8M1916 2756h8M2082 2726h8M1940 2642h8M1976 2805h8M1963 2697h8M1939 2693h8M1952 2695h8M2034 2677h8M2034 2758h8M1933 2781h8M1978 2661h8M2042 2657h8M1958 2638h8M1939 2639h8M1984 2637h8M2033 2632h8M2038 2646h8M2048 2732h8M1990 2620h8M2039 2657h8M1959 2653h8M2030 2688h8M1983 2689h8M1951 2670h8M2014 2632h8M1975 2729h8M1980 2643h8M1998 2709h8M2057 2667h8M2039 2683h8M2046 2737h8M1908 2763h8M1912 2713h8M2026 2649h8M2004 2696h8M1992 2700h8M1992 2774h8M2020 2654h8M1902 2735h8M2053 2690h8M1998 2757h8M2036 2712h8M1912 2745h8M2053 2681h8M1977 2744h8M1921 2681h8M1965 2782h8M2062 2753h8M1981 2686h8M2007 2730h8M1942 2637h8M1912 2710h8M1986 2782h8M1937 2790h8M1979 2808h8M2072 2704h8M1928 2786h8M1959 2799h8M2010 2664h8M1994 2650h8M2056 2781h8M1968 2709h8M1976 2642h8M1972 2752h8M1960 2660h8M1919 2704h8M1964 2713h8M2015 2725h8M1959 2746h8M2031 2650h8M1954 2638h8M1915 2764h8" stroke="#fff" stroke-width="8" fill="none"/>
<path d="M1013 3105h8M989 2865h8M982 2937h8M996 2897h8M999 3031h8M994 2968h8M986 3021h8M984 2996h8M1082 2704h8M1093 3191h8M989 3038h8M1072 2707h8M1014 2840h8M987 2873h8M1029 3074h8M1025 2727h8M1124 2689h8M1013 2857h8M1035 2723h8M1093 2719h8M1126 2698h8M1000 3136h8M1006 2741h8M994 3074h8M1014 3061h8M1018 3089h8M993 2955h8M996 2880h8M1000 3153h8M1092 3191h8M1059 2707h8M1007 2743h8M995 2893h8M990 3005h8M1057 3188h8M1019 3171h8M989 3004h8M1012 2996h8M999 3038h8M996 3110h8M996 2848h8M1006 2752h8M991 2905h8M1005 2760h8M1021 2784h8M1048 3184h8M1018 3064h8M996 2773h8M1005 3125h8M983 2979h8M1092 3187h8M985 2936h8M1001 3144h8M1086 2698h8M991 2836h8M988 3036h8M1054 3193h8M1002 3047h8M1020 3068h8M1018 2861h8M1009 2750h8M1003 3175h8M1010 2800h8M1053 3177h8M995 3031h8M1014 2786h8M985 2984h8M1021 3175h8M1005 3001h8M1005 2780h8M1116 2773h8M1057 2771h8M1000 3150h8M1002 2852h8M1007 2719h8M1086 2967h8M1056 3176h8M1030 3087h8M1070 2977h8M1082 3132h8M1003 3139h8M1096 3147h8M1122 2939h8M1017 2891h8M1105 2839h8M1097 2698h8M998 3101h8M996 3075h8M1098 2862h8M1102 2962h8M1095 3167h8M1039 2934h8M1104 3088h8M1064 2901h8M1056 3102h8M1032 2999h8M997 3133h8M1005 3072h8M1118 3067h8M1106 3120h8M1120 3052h8M1004 3016h8M1112 3046h8M1097 3012h8M1007 2913h8M1121 2845h8M1051 3126h8M1098 2846h8M1027 3115h8M1122 2694h8M1058 2785h8M1102 3103h8M1423 2445h8M1440 2487h8M1427 2439h8M1455 2506h8M1422 2435h8M1414 2408h8M1414 2430h8M1369 2356h8M1411 2399h8M1380 2370h8M1407 2401h8M1446 2488h8M1437 2466h8M1402 2411h8M1407 2420h8M1457 2487h8" stroke="#1976bf" stroke-width="8" fill="none"/>
<path d="M1119 3090h8M1106 3174h8M1105 3080h8M1108 3064h8M1132 2768h8M1095 3181h8M1117 2852h8M1135 2780h8M1108 3117h8M1129 2991h8M1115 2756h8M1105 2961h8M1103 2913h8M1130 2806h8M1128 2948h8M1126 2997h8M1133 2760h8M1122 3027h8M1111 2922h8M1111 3141h8M1124 3020h8M1126 2754h8M1103 2998h8M1134 2724h8M1121 3002h8M1128 3032h8M1116 2890h8M1099 3166h8M1101 2752h8M1132 2723h8M1123 3016h8M1119 2986h8M1102 2907h8M1094 3165h8M1030 2853h8M1089 2997h8M1015 2829h8M1080 3120h8M1008 2740h8M1080 3095h8M1117 2966h8M1099 3160h8M1110 2768h8M1072 3105h8M1071 3032h8M1457 2496h8M1447 2479h8M1401 2396h8M1373 2365h8M1455 2513h8M1382 2378h8M1446 2465h8M1431 2462h8M1444 2496h8M1395 2403h8M1388 2386h8" stroke="#fa8932" stroke-width="8" fill="none"/>
</g>
<path d="M9.5,301.7 V324.7 H31.8" fill="none" stroke="#222" stroke-width=".55"/>
<path d="M8.4,302.1 L9.5,299.1 L10.6,302.1Z" fill="#222"/>
<path d="M31.3,323.6 L34.2,324.7 L31.3,325.8Z" fill="#222"/>
<text x="10.5" y="333.1" font-size="6.7" fill="#333">UMAP 1</text>
<text transform="translate(5.5 323.5) rotate(-90)" font-size="6.8" fill="#333">UMAP 2</text>
<circle cx="205.2" cy="231.2" r="2.2" fill="#1976bf"/>
<circle cx="205.2" cy="240.5" r="2.2" fill="#fa8932"/>
<text x="210" y="233.6" font-size="7.3" fill="#222" textLength="33.6" lengthAdjust="spacingAndGlyphs">Vertebrate</text>
<text x="210" y="242.9" font-size="7.3" fill="#222" textLength="39" lengthAdjust="spacingAndGlyphs">Invertebrate</text>
<text transform="translate(298 219.3) scale(1.14 1)" font-size="9.9" font-weight="bold" fill="#111" stroke="#111" stroke-width=".42" stroke-linejoin="round">h</text>
<path d="M404.0,261.5Q408.0,251.0 414.9,248.5Q421.7,246.0 430.0,245.5Q438.3,245.0 441.5,245.3Q444.6,245.6 451.9,245.6Q459.2,245.6 465.2,248.2Q471.2,250.8 474.2,255.8Q477.2,260.8 476.7,268.1Q476.2,275.4 472.7,280.4Q469.2,285.5 464.2,288.5Q459.2,291.5 450.9,292.6Q442.5,293.8 435.2,294.2Q428.0,294.6 421.5,291.3Q415.0,288.0 407.5,280.0Q400.0,272.0 404.0,261.5Z" fill="#fa8932"/>
<path d="M362.6,271.5Q362.5,268.0 366.6,265.8Q370.8,263.5 377.1,261.9Q383.3,260.2 387.6,259.8Q392.0,259.4 395.0,261.7Q398.0,264.0 401.0,269.5Q404.0,275.0 402.0,277.8Q400.0,280.5 391.5,280.1Q383.0,279.6 375.5,279.7Q368.0,279.8 365.4,277.4Q362.8,275.0 362.6,271.5Z" fill="#8f6bbd"/>
<path d="M349.2,285.7Q348.5,284.0 351.2,282.2Q354.0,280.4 361.4,279.7Q368.8,279.0 376.1,278.6Q383.3,278.2 390.1,278.9Q397.0,279.6 403.5,280.8Q410.0,282.0 415.0,284.0Q420.0,286.0 424.2,288.8Q428.5,291.5 427.1,294.1Q425.8,296.6 418.6,298.9Q411.3,301.2 404.0,300.7Q396.7,300.2 387.9,297.8Q379.0,295.4 370.8,293.2Q362.5,291.0 356.2,289.2Q350.0,287.4 349.2,285.7Z" fill="#d62a35"/>
<path d="M391.6,268.1Q388.5,265.0 394.6,261.5Q400.8,258.0 409.1,256.5Q417.5,255.0 425.9,256.0Q434.2,257.0 441.5,258.6Q448.8,260.2 454.8,263.6Q460.8,267.0 461.8,271.2Q462.8,275.4 458.9,279.4Q455.0,283.4 448.8,285.5Q442.5,287.6 436.2,287.6Q430.0,287.6 423.8,285.6Q417.5,283.6 411.2,280.6Q405.0,277.5 399.8,274.4Q394.6,271.3 391.6,268.1Z" fill="#1976bf"/>
<path d="M430.8,225.4Q431.4,226.2 430.7,227.0Q430.1,227.7 428.4,228.3Q426.7,228.8 424.4,229.0Q422.0,229.2 419.3,229.0Q416.7,228.8 414.4,228.3Q412.1,227.8 410.5,227.0Q408.9,226.3 408.4,225.4Q407.8,224.6 408.5,223.8Q409.1,223.1 410.8,222.5Q412.5,222.0 414.8,221.8Q417.2,221.6 419.9,221.8Q422.5,222.0 424.8,222.5Q427.1,223.0 428.7,223.8Q430.3,224.5 430.8,225.4Z" fill="#1976bf"/>
<path d="M411.5,236.1Q411.9,237.1 411.3,238.0Q410.8,238.9 409.3,239.5Q407.9,240.2 405.9,240.5Q403.9,240.7 401.7,240.6Q399.5,240.4 397.6,239.9Q395.6,239.3 394.3,238.5Q393.0,237.6 392.5,236.7Q392.1,235.7 392.7,234.8Q393.2,233.9 394.7,233.3Q396.1,232.6 398.1,232.3Q400.1,232.1 402.3,232.2Q404.5,232.4 406.4,232.9Q408.4,233.5 409.7,234.3Q411.0,235.2 411.5,236.1Z" fill="#1976bf"/>
<path d="M468.0,299.4Q468.5,300.3 468.2,301.3Q467.9,302.3 466.9,303.2Q465.8,304.2 464.1,304.8Q462.5,305.5 460.6,305.7Q458.7,306.0 456.9,305.8Q455.2,305.7 453.9,305.1Q452.6,304.5 452.0,303.6Q451.5,302.7 451.8,301.7Q452.1,300.7 453.1,299.8Q454.2,298.8 455.9,298.2Q457.5,297.5 459.4,297.3Q461.3,297.0 463.1,297.2Q464.8,297.3 466.1,297.9Q467.4,298.5 468.0,299.4Z" fill="#1976bf"/>
<path d="M449.3,298.7Q449.7,299.3 449.2,299.7Q448.7,300.2 447.6,300.4Q446.4,300.7 444.7,300.8Q443.1,300.8 441.3,300.6Q439.5,300.4 437.8,300.0Q436.2,299.7 435.1,299.1Q434.0,298.6 433.7,298.1Q433.3,297.5 433.8,297.1Q434.3,296.6 435.4,296.4Q436.6,296.1 438.3,296.0Q439.9,296.0 441.7,296.2Q443.5,296.4 445.2,296.8Q446.8,297.1 447.9,297.7Q449.0,298.2 449.3,298.7Z" fill="#1976bf"/>
<path d="M401.5,326.2Q396.0,325.6 402.0,323.1Q408.0,320.5 414.9,317.9Q421.7,315.2 427.9,312.7Q434.2,310.2 440.4,309.6Q446.7,309.0 449.6,311.3Q452.6,313.6 453.1,315.8Q453.6,318.0 452.1,320.6Q450.5,323.3 446.5,325.3Q442.5,327.3 438.4,328.8Q434.2,330.2 427.9,328.9Q421.7,327.6 414.4,327.2Q407.0,326.8 401.5,326.2Z" fill="#1976bf"/>
<g transform="scale(.1)">
<path d="M4145 2480h8M4715 2499h8M4577 2932h8M4602 2912h8M4101 2492h8M4116 2485h8M4417 2445h8M4705 2851h8M4208 2448h8M4570 2449h8M4726 2848h8M4770 2638h8M4669 2485h8M4325 2439h8M4416 2443h8M4389 2944h8M4582 2455h8M4368 2437h8M4364 2942h8M4742 2841h8M4767 2709h8M4101 2502h8M4563 2456h8M4597 2438h8M4533 2936h8M4618 2459h8M4367 2446h8M4554 2453h8M4396 2428h8M4655 2882h8M4057 2790h8M4095 2491h8M4050 2569h8M4276 2967h8M4702 2498h8M4393 2448h8M4131 2481h8M4617 2449h8M4580 2455h8M4562 2454h8M4715 2508h8M4285 2453h8M4095 2849h8M4042 2782h8M4498 2949h8M4564 2448h8M4116 2458h8M4051 2785h8M4771 2622h8M4769 2673h8M4096 2504h8M4709 2837h8M4056 2514h8M4578 2424h8M4776 2716h8M4128 2872h8M4538 2923h8M4745 2787h8M4426 2452h8M4159 2472h8M4227 2458h8M4050 2809h8M4664 2878h8M4772 2641h8M4251 2448h8M4104 2499h8M4599 2432h8M4770 2587h8M4554 2453h8M4208 2462h8M4681 2884h8M4543 2923h8M4302 2952h8M4724 2520h8M4598 2936h8M4455 2451h8M4325 2960h8M4464 2935h8M4766 2733h8M4097 2473h8M4710 2500h8M4397 2451h8M4128 2491h8M4105 2493h8M4517 2450h8M4690 2857h8M4701 2861h8M4343 2438h8M4097 2484h8M4591 2947h8M4455 2456h8M4271 2435h8M4208 2458h8M4737 2793h8M4777 2601h8M4665 2475h8M4574 2938h8M4493 2437h8M4787 2699h8M4473 2450h8M4389 2950h8M4602 2446h8M4381 2941h8M4200 2450h8M4543 2935h8M4084 2813h8M4542 2432h8M4578 2450h8M4711 2836h8M4555 2936h8M4769 2573h8M4553 2449h8M4595 2925h8M4743 2548h8M4796 2750h8M4036 2795h8M4564 2941h8M4383 2438h8M4782 2597h8M4201 2464h8M4587 2445h8M4706 2840h8M4601 2934h8M4323 2948h8M4257 2456h8M4320 2944h8M4793 2671h8M4497 2953h8M4748 2560h8M4335 2963h8M4342 2950h8M4034 2621h8M4750 2772h8M4767 2693h8M4223 2430h8M4550 2925h8M4170 2930h8M4339 2953h8M4614 2461h8M4064 2813h8M4665 2882h8M4071 2508h8M4172 2463h8M4775 2687h8M4121 2490h8M4521 2447h8M4164 2467h8M4053 2524h8M4778 2645h8M4152 2476h8M4745 2550h8M4652 2908h8M4156 2482h8M4631 2471h8M4748 2777h8M4450 2939h8M4741 2539h8M4738 2796h8M4056 2785h8M4135 2891h8M4077 2803h8M4167 2468h8M4751 2779h8M4703 2498h8M4357 2451h8M4186 2459h8M4467 2454h8M4646 2473h8M4409 2444h8M4592 2922h8M4050 2797h8M4164 2475h8M4750 2771h8M4552 2927h8M4225 2922h8M4775 2792h8M4764 2747h8M4287 2428h8M4331 2450h8M4329 2951h8M4249 2435h8M4708 2873h8M4738 2793h8M4183 2466h8M4671 2868h8M4512 2927h8M4766 2580h8M4730 2534h8M4774 2735h8M4099 2501h8M4074 2509h8M4732 2536h8M4144 2471h8M4254 2451h8M4344 2948h8M4173 2460h8M4388 2949h8M4105 2501h8M4749 2558h8M4141 2480h8M4058 2535h8M4669 2878h8M4618 2900h8M4553 2455h8M4669 2876h8M4773 2675h8M4576 2918h8M4085 2815h8M4066 2512h8M4681 2872h8M4266 2451h8M4515 2943h8M4675 2869h8M4336 2946h8M4582 2924h8M4352 2947h8M4515 2957h8M4461 2453h8M4777 2667h8M4743 2785h8M4475 2931h8M4764 2725h8M4648 2473h8M4416 2941h8M4677 2467h8M4467 2450h8M4765 2735h8M4632 2462h8M4247 2931h8M4354 2952h8M4482 2930h8M4575 2924h8M4119 2477h8M4607 2907h8M4589 2455h8M4061 2555h8M4636 2473h8M4329 2946h8M4184 2471h8M4660 2891h8M4743 2556h8M4733 2539h8M4774 2600h8M4623 2896h8M4223 2453h8M4683 2485h8M4753 2540h8M4796 2607h8M4577 2445h8M4719 2835h8M4775 2575h8M4267 2958h8M4482 2931h8M4699 2854h8M4102 2502h8M4762 2589h8M4726 2812h8M4769 2711h8M4077 2505h8M4766 2694h8M4521 2950h8M4771 2570h8M4768 2673h8M4772 2757h8M4750 2785h8M4067 2529h8M4780 2609h8M4173 2474h8M4784 2659h8M4776 2623h8M4726 2868h8M4068 2811h8M4714 2505h8M4748 2568h8M4725 2524h8M4504 2451h8M4638 2893h8M4372 2941h8M4039 2801h8M4344 2953h8M4775 2770h8M4517 2935h8M4690 2497h8M4380 2439h8M4466 2455h8M4753 2552h8M4137 2480h8M4119 2489h8M4715 2835h8M4437 2453h8M4727 2818h8M4481 2952h8M4764 2753h8M4293 2972h8M4745 2537h8M4326 2947h8M4768 2774h8M4036 2615h8M4748 2553h8M4758 2779h8M4749 2541h8M4523 2929h8M4592 2915h8M4763 2779h8M4054 2786h8M4634 2895h8M4771 2629h8M4391 2940h8M4456 2935h8M4340 2964h8M4719 2497h8M4776 2726h8M4711 2829h8M4765 2590h8M4528 2434h8M4697 2483h8M4290 2454h8M4065 2529h8M4291 2454h8M4277 2439h8M4775 2617h8M4776 2705h8M4342 2452h8M4314 2448h8M4698 2860h8M4647 2886h8M4723 2815h8M4636 2918h8M4465 2445h8M4778 2605h8M4572 2446h8M4613 2461h8M4786 2633h8M4233 2432h8M4780 2623h8M4707 2835h8M4309 2956h8M4360 2954h8M4208 2462h8M4329 2981h8M4460 2937h8M4778 2754h8M4437 2412h8M4409 2452h8M4530 2940h8M4405 2441h8M4661 2874h8M4707 2837h8M4295 2453h8M4663 2880h8M4516 2449h8M4018 2672h8M4644 2904h8M4250 2456h8M4706 2836h8M4304 2451h8M4737 2543h8M4473 2939h8M4770 2732h8M4534 2932h8M4628 2471h8M4379 2437h8M4570 2441h8M4598 2913h8M4597 2458h8M4672 2870h8M4554 2946h8M4263 2438h8M4751 2771h8M4054 2566h8M4248 2454h8M4087 2496h8M4331 2951h8M4772 2617h8M4556 2453h8M4075 2491h8M4129 2487h8M4199 2447h8M4495 2450h8M4636 2903h8M4553 2938h8M4521 2933h8M4745 2537h8M4281 2947h8M4758 2773h8M4709 2504h8M4404 2953h8M4750 2778h8M4625 2898h8M4774 2610h8M4163 2479h8M4085 2815h8M4741 2813h8M4764 2756h8M4598 2457h8M4646 2890h8M4299 2451h8M4122 2492h8M4381 2445h8M4778 2731h8M4548 2449h8M4141 2452h8M4390 2941h8M4548 2923h8M4768 2599h8M4707 2505h8M4780 2587h8M4493 2944h8M4710 2835h8M4679 2480h8M4430 2956h8M4076 2801h8M4751 2777h8M4190 2462h8M4223 2458h8M4415 2452h8M4142 2486h8M4477 2450h8M4775 2725h8M4564 2453h8M4643 2887h8M4789 2766h8M4768 2729h8M4435 2453h8M4629 2472h8M4207 2462h8M3999 2704h8M4370 2430h8M4240 2454h8M4768 2586h8M4773 2684h8M4290 2432h8M4421 2440h8M4155 2478h8M4069 2539h8M4389 2946h8M4316 2947h8M4728 2532h8M4155 2481h8M4128 2492h8M4382 2944h8M4767 2745h8M4675 2878h8M4473 2934h8M4203 2936h8M4073 2805h8M4316 2957h8M4490 2936h8M4782 2648h8M4045 2567h8M4641 2893h8M4434 2959h8M4320 2453h8M4583 2453h8M4585 2920h8M4093 2475h8M4714 2505h8M4570 2448h8M4745 2559h8M4237 2446h8M4108 2472h8M4533 2456h8M4509 2928h8M4257 2457h8M4288 2448h8M4648 2449h8M4441 2448h8M4220 2459h8M4366 2949h8M4691 2499h8M4080 2494h8M4540 2456h8M4431 2943h8M4687 2483h8M4446 2945h8M4700 2844h8M4503 2454h8M4042 2785h8M4763 2754h8M4210 2458h8M4360 2428h8M4734 2807h8M4521 2928h8M4701 2861h8M4744 2782h8M4610 2906h8M4607 2461h8M4425 2942h8M4225 2441h8M4726 2497h8M4545 2924h8M4702 2844h8M4127 2487h8M4055 2514h8M4065 2541h8M4098 2496h8M4547 2455h8M4607 2463h8M4286 2455h8M4061 2796h8M4271 2945h8M4426 2947h8M4782 2570h8M4160 2478h8M4709 2862h8M4289 2455h8M4764 2748h8M4358 2942h8M4248 2457h8M4634 2894h8M4289 2946h8M4089 2480h8M4771 2569h8M4730 2531h8M4728 2515h8M4337 2447h8M4065 2542h8M4631 2467h8M4373 2943h8M4556 2444h8M4457 2936h8M4716 2855h8M4391 2950h8M4776 2610h8" stroke="#fa8932" stroke-width="8" fill="none"/>
<path d="M3835 2591h8M3740 2814h8M3906 2594h8M3870 2567h8M3717 2597h8M3658 2645h8M3680 2646h8M3845 2582h8M3616 2686h8M3722 2627h8M3806 2604h8M3675 2633h8M3625 2761h8M3808 2602h8M3889 2596h8M3891 2595h8M3626 2743h8M3625 2711h8M3844 2814h8M3683 2641h8M3718 2630h8M3586 2755h8M3625 2706h8M3633 2659h8M3887 2588h8M4010 2793h8M3801 2610h8M4035 2683h8M3749 2613h8M4037 2779h8M3621 2741h8M3856 2597h8M3639 2772h8M3762 2620h8M3735 2624h8M3933 2600h8M3621 2711h8M3622 2692h8M3752 2580h8M3585 2704h8M3636 2658h8M3621 2727h8M3649 2775h8M3640 2662h8M3935 2605h8M3940 2810h8M3775 2582h8M3886 2588h8M3642 2660h8M3926 2559h8M3709 2627h8M4019 2790h8M3678 2651h8M3760 2619h8M3638 2762h8M3667 2647h8M3791 2799h8M3656 2778h8M3743 2613h8M3652 2781h8M3942 2588h8M3707 2634h8M3689 2633h8M3889 2596h8M3645 2778h8M3646 2658h8M3767 2605h8M3805 2597h8M3659 2789h8M3932 2602h8M3622 2730h8M3770 2616h8M3631 2673h8M3866 2596h8M3851 2559h8M3749 2820h8M3661 2784h8M3629 2678h8M3713 2633h8M3788 2797h8M4032 2767h8M3867 2598h8M3796 2605h8M3925 2597h8M3804 2803h8M3733 2593h8M3627 2738h8M3653 2649h8M3905 2579h8M3912 2590h8M3624 2718h8M3631 2656h8M3664 2796h8M3727 2620h8M3619 2741h8M3792 2612h8M3809 2607h8M4027 2780h8M3720 2630h8M3677 2649h8M3860 2591h8M3813 2598h8M3921 2803h8M3665 2642h8M3674 2639h8M3603 2724h8M3765 2617h8M3626 2799h8M3785 2608h8M3682 2641h8M3869 2591h8M3658 2621h8M3636 2646h8M3795 2590h8M3908 2592h8M3729 2607h8M3678 2641h8M3785 2610h8M3666 2633h8M3625 2722h8M3855 2598h8M3730 2619h8M3607 2667h8M3638 2672h8M3628 2764h8M4014 2787h8M3742 2624h8M4005 2801h8M3684 2644h8M3745 2624h8M3682 2642h8M3777 2615h8M3651 2665h8M3620 2735h8M3831 2594h8M3858 2592h8M3698 2640h8M4032 2729h8M4028 2782h8M3603 2691h8M4010 2794h8M3673 2652h8M3788 2614h8M3826 2593h8M3670 2652h8M3753 2617h8M3678 2630h8M3592 2708h8M3654 2663h8M3627 2746h8M3723 2809h8M3774 2613h8M3729 2624h8M3639 2666h8M4001 2666h8" stroke="#8f6bbd" stroke-width="8" fill="none"/>
<path d="M3830 2777h8M3963 3002h8M4181 2998h8M4239 2975h8M3678 2933h8M3715 2956h8M3785 2756h8M4033 3007h8M4122 2798h8M3784 2957h8M4093 2814h8M3902 2993h8M3523 2892h8M4182 2843h8M4202 2987h8M3674 2779h8M3717 2937h8M3659 2791h8M3605 2775h8M3593 2921h8M4146 3009h8M3828 2980h8M4035 3008h8M4002 3010h8M4088 3032h8M3512 2822h8M4275 2881h8M3917 2776h8M3585 2795h8M3683 2934h8M3879 2783h8M3810 2772h8M4226 2989h8M4057 3029h8M3918 2780h8M3998 2799h8M4257 2982h8M3512 2882h8M3707 2781h8M3656 2791h8M4004 2789h8M4130 2828h8M3532 2803h8M3556 2793h8M3660 2933h8M3494 2826h8M3488 2861h8M4102 2820h8M3836 2780h8M4152 2832h8M4219 2865h8M4098 3017h8M3875 2782h8M3620 2911h8M4033 2801h8M3580 2897h8M3587 2798h8M3817 2985h8M3695 2786h8M4181 2849h8M3944 2761h8M3837 2778h8M3974 2782h8M3656 2930h8M3768 2948h8M3509 2809h8M4291 2911h8M4067 3025h8M4239 2871h8M4278 2910h8M3723 2948h8M3525 2911h8M3508 2879h8M4059 3010h8M3632 2794h8M4263 2977h8M3948 2794h8M3802 2776h8M4020 2794h8M4123 3010h8M3720 2776h8M4012 3013h8M3530 2809h8M4183 3027h8M3649 2793h8M3829 2971h8M3579 2901h8M4152 3001h8M3694 2934h8M3974 2793h8M4285 2925h8M4131 2825h8M3490 2864h8M4215 2868h8M3826 2782h8M3494 2827h8M3867 2978h8M4182 2845h8M4118 2813h8M3768 2779h8M3715 2943h8M3746 2949h8M3825 2972h8M3836 2983h8M3614 2796h8M3951 3002h8M4130 2831h8M4068 3013h8M3475 2848h8M3496 2830h8M4192 2853h8M3750 2771h8M4222 2988h8M3675 2942h8M3516 2882h8M4285 2887h8M3990 3019h8M3876 2988h8M4207 2989h8M4242 2870h8M4205 2852h8M3576 2789h8M4301 2968h8M3478 2843h8M3866 2779h8M4102 3011h8M3599 2905h8M4130 3012h8M4124 2824h8M4279 2901h8M3572 2791h8M4283 2885h8M3698 2938h8M4241 2857h8M4256 2895h8M3599 2796h8M3615 2921h8M3968 3005h8M3581 2907h8M3823 2781h8M4164 3010h8M3606 2941h8M3507 2881h8M3721 2936h8M3746 2953h8M4062 3020h8M4238 2973h8M4089 3018h8M3964 3002h8M4297 2898h8M4118 3015h8M3717 2937h8M3701 2940h8M4240 2886h8M3589 2900h8M3634 2790h8M4208 2991h8M4201 2860h8M4249 2979h8M3648 2920h8M3544 2793h8M4298 2954h8M3842 2780h8M4001 3004h8M3805 2959h8M3550 2792h8M4121 3017h8M4289 2907h8M3737 2943h8M3587 2797h8M3538 2802h8M3704 2931h8M3778 2954h8M3968 2789h8M4013 2789h8M4200 2987h8M4199 2988h8M4280 2929h8M3493 2831h8M3743 2787h8M3940 2776h8M4182 3004h8M3677 2790h8M3596 2781h8M3816 2969h8M3680 2781h8M3578 2898h8M4226 2875h8M3846 2778h8M4138 2826h8M3598 2945h8M4082 3010h8M3672 2791h8M4051 2810h8M3897 2782h8M3665 2923h8M3575 2791h8M3770 2781h8M3556 2901h8M3981 3014h8M3643 2918h8M4276 2904h8M4155 2831h8M3685 2954h8M3832 2985h8M3940 3011h8M3488 2861h8M3471 2833h8M3754 2784h8M4297 2935h8M4070 3012h8M3632 2941h8M4134 3014h8M3702 2770h8M3682 2926h8M4145 3013h8M3936 3024h8M4198 2986h8M3570 2895h8M3526 2902h8M3995 3020h8M3895 2983h8M4039 2806h8M3702 2788h8M4021 3014h8M3846 2781h8M3812 2961h8M3771 2956h8M3802 2962h8M3517 2886h8M3754 2945h8M3625 2917h8M3720 2945h8M4275 2956h8M3961 2783h8M3900 2987h8M3480 2855h8M3756 2777h8M3680 2928h8M4046 3011h8M3497 2878h8M3496 2871h8M4269 2905h8M4253 2979h8M3672 2924h8M4260 2894h8M3617 2915h8M3882 2775h8M3943 3003h8M3848 2975h8M3646 2793h8M3918 2990h8M4191 2987h8M4054 3010h8M4010 2802h8M4145 3014h8M4120 3015h8M4264 2900h8M3489 2858h8M3813 2769h8M4124 2815h8M3942 2792h8M3575 2772h8M3819 2762h8M3498 2815h8M3782 2955h8M4243 2886h8M3641 2794h8M3775 2767h8M3775 2778h8M3545 2796h8M3513 2886h8M3633 2918h8M4152 3002h8M4057 2793h8M4164 2842h8M3862 2780h8M4204 2984h8M4161 3006h8M3488 2880h8M4202 2994h8M4059 2805h8M3619 2920h8M3685 2785h8M4212 2989h8M3903 2787h8M3595 2796h8M4219 2986h8M4160 2843h8M3648 2791h8M4194 2854h8M3765 2956h8M3680 2785h8M3641 2788h8M3906 2996h8M3951 3002h8M3892 2788h8M3939 2998h8M3725 2787h8M4133 2816h8M3869 2779h8M3603 2921h8M3659 2921h8M3604 2796h8M3548 2790h8M4179 2996h8M3608 2797h8M4269 2896h8M3809 2968h8M3812 2965h8M4283 2944h8M3885 2773h8M4014 3009h8M3951 2784h8M3901 2783h8M4196 2992h8M4271 2943h8M3825 2965h8M4211 2862h8M4051 3011h8M3607 2908h8M4241 2862h8M3544 2890h8M3572 2902h8M4006 3013h8M4195 3009h8M4238 2988h8M4252 2883h8M3783 2953h8M3751 2944h8M3579 2898h8M3557 2793h8M3484 2831h8M4064 3015h8M3912 2790h8M3778 2960h8M3965 3018h8M4212 2853h8M4158 2999h8M3895 2780h8M3484 2845h8M4273 2906h8M3895 2993h8M3491 2864h8M3935 2995h8M4276 2946h8M3796 2781h8M4288 2976h8M3559 2897h8M4319 2907h8M3491 2877h8M3532 2801h8M3923 2994h8M4198 2845h8M3794 2956h8M3660 2792h8M3826 2776h8M4291 2919h8M4066 3024h8M4000 3018h8M3736 2766h8M3548 2798h8M3787 2783h8M3531 2885h8M3835 2972h8M3945 2999h8M4265 2971h8M3519 2817h8M4038 2790h8M3608 2906h8M3843 2970h8M3763 2773h8M4223 2983h8M3691 2934h8M4146 2832h8M3942 2787h8M3688 2779h8M3652 2926h8M4230 2991h8M4138 3012h8M4079 2816h8M3820 2779h8M4115 2823h8M3779 2769h8M3729 2942h8M3578 2908h8M3833 2972h8M3806 2975h8M3761 2785h8M3967 2795h8M4096 2819h8M3717 2939h8M4223 2977h8M4088 2804h8M3605 2794h8M4083 2814h8M4293 2915h8M3526 2805h8M3565 2797h8M3876 2774h8M4290 2916h8M3727 2779h8M4017 2800h8M4275 2967h8M3915 2994h8M3721 2953h8M3841 2760h8M4182 2847h8M3749 2778h8M4271 2946h8M4026 3009h8M3999 3017h8M3801 2761h8M4036 2803h8M3834 2990h8M4287 2907h8M4060 2812h8M3958 3014h8M3839 2999h8M3909 2996h8M3841 2772h8M4013 2803h8M4248 2881h8M3499 2831h8M4031 3015h8M3628 2774h8M4205 2999h8M4073 2805h8M3593 2795h8M3883 2786h8M4275 2895h8M4181 2848h8M4149 2829h8M3684 2930h8M3937 3014h8M4102 3024h8M3485 2820h8M3530 2888h8M3663 2788h8M4109 2821h8M4068 2805h8M4261 2968h8M3533 2808h8M3959 3005h8M3970 3016h8M3867 2764h8M3752 2945h8M3969 2753h8M3753 2785h8M3774 2976h8M4081 3014h8M3905 2785h8M3987 3004h8M4097 3019h8M3551 2798h8M4067 2812h8M4037 2792h8M4076 2798h8M4294 2929h8M3572 2799h8M4110 2813h8M3752 2960h8M3620 2909h8M3661 2931h8M3601 2904h8M3579 2799h8M4241 2989h8M3598 2904h8M4154 2838h8M4254 2881h8M3826 2757h8M4156 3013h8M4201 2853h8M3774 2957h8M3954 2790h8M3662 2926h8M3835 2781h8M3516 2817h8M3541 2802h8M3590 2797h8M4284 2919h8M3994 2784h8M3739 2786h8M3479 2865h8M4197 2857h8M4302 2913h8M3924 2785h8M4045 3029h8M3816 2778h8M3715 2948h8M3646 2791h8M3643 2921h8M4084 3016h8M4020 2800h8M3624 2914h8M3496 2871h8M4268 2955h8M3579 2910h8M4179 3021h8M3599 2917h8M4252 2980h8M3494 2871h8M3687 2790h8M4280 2932h8M3525 2811h8M4155 2829h8M3675 2789h8M4165 2999h8M3748 2949h8M4217 2982h8" stroke="#d62a35" stroke-width="8" fill="none"/>
<path d="M4128 2551h8M4611 2665h8M4005 2545h8M4113 2560h8M4285 2877h8M4358 2573h8M4620 2720h8M3985 2737h8M3914 2627h8M4033 2777h8M3981 2581h8M4538 2630h8M4486 2887h8M4630 2674h8M4534 2840h8M4436 2585h8M4572 2649h8M4398 2581h8M4000 2758h8M4598 2636h8M4268 2882h8M4334 2555h8M4597 2650h8M4173 2547h8M4026 2562h8M3941 2714h8M4077 2792h8M3895 2699h8M4389 2899h8M4231 2856h8M4628 2768h8M4074 2804h8M4492 2593h8M4100 2801h8M4582 2818h8M4133 2542h8M4528 2595h8M4491 2600h8M4615 2678h8M4127 2556h8M3918 2600h8M4595 2801h8M4160 2835h8M4024 2577h8M4145 2529h8M4596 2640h8M4512 2855h8M3923 2604h8M4273 2555h8M4303 2554h8M4626 2777h8M4032 2575h8M4186 2532h8M4076 2809h8M4635 2764h8M4572 2641h8M3974 2730h8M3909 2683h8M4010 2573h8M4053 2547h8M4421 2878h8M4033 2769h8M4510 2605h8M4180 2846h8M4193 2874h8M4095 2810h8M3900 2631h8M4176 2847h8M4087 2561h8M3915 2627h8M4620 2665h8M4011 2786h8M4494 2855h8M4361 2878h8M4623 2786h8M4092 2796h8M4246 2550h8M3921 2623h8M3882 2699h8M4231 2555h8M4625 2728h8M4371 2878h8M4632 2727h8M4376 2889h8M3861 2615h8M4615 2695h8M4507 2865h8M3996 2564h8M4474 2860h8M4214 2550h8M4434 2590h8M4337 2556h8M4451 2877h8M3926 2705h8M4511 2861h8M4503 2602h8M4527 2616h8M3943 2721h8M3982 2595h8M4015 2550h8M4588 2804h8M4334 2558h8M3951 2601h8M4253 2556h8M4262 2545h8M4610 2805h8M4422 2878h8M4336 2569h8M4433 2876h8M4255 2557h8M4067 2804h8M4435 2577h8M4007 2575h8M4436 2571h8M4127 2550h8M4620 2783h8M3950 2596h8M4172 2531h8M4298 2879h8M4628 2762h8M4438 2587h8M3992 2584h8M4665 2758h8M4529 2855h8M4326 2918h8M3906 2673h8M4307 2897h8M3936 2591h8M4495 2875h8M3974 2589h8M3911 2611h8M4416 2546h8M4619 2830h8M4013 2574h8M4628 2722h8M4256 2902h8M4101 2534h8M4341 2567h8M3969 2728h8M4561 2641h8M4552 2833h8M4494 2856h8M3974 2788h8M4089 2558h8M4653 2753h8M4541 2843h8M4620 2817h8M4070 2790h8M4606 2824h8M4338 2879h8M4515 2847h8M3936 2614h8M4255 2554h8M3891 2657h8M4045 2558h8M4559 2850h8M4323 2528h8M4468 2593h8M4282 2532h8M4342 2882h8M4029 2559h8M4156 2552h8M3991 2561h8M4082 2797h8M4236 2547h8M3934 2701h8M3969 2749h8M4094 2557h8M4067 2543h8M3903 2702h8M4602 2782h8M4131 2505h8M4017 2577h8M4144 2550h8M4093 2798h8M4358 2897h8M4640 2767h8M4166 2545h8M4193 2549h8M4530 2845h8M4626 2759h8M4097 2559h8M4532 2857h8M4539 2631h8M4372 2564h8M4018 2775h8M4237 2536h8M4617 2773h8M4513 2602h8M4304 2928h8M4227 2552h8M4011 2754h8M4361 2878h8M4125 2542h8M4600 2794h8M4609 2775h8M4105 2815h8M3946 2601h8M4499 2880h8M3866 2672h8M4409 2583h8M4620 2704h8M4076 2568h8M4108 2805h8M4129 2815h8M4149 2534h8M4618 2662h8M4539 2839h8M3982 2751h8M4165 2534h8M4357 2558h8M3923 2607h8M4614 2688h8M4416 2579h8M4485 2860h8M4057 2780h8M4186 2852h8M3900 2631h8M4422 2569h8M4362 2912h8M4171 2529h8M4595 2788h8M4621 2724h8M4596 2641h8M4612 2687h8M4524 2600h8M3960 2566h8M3888 2672h8M4140 2824h8M4570 2628h8M4087 2814h8M4228 2553h8M4197 2552h8M3994 2582h8M4095 2798h8M4589 2824h8M4644 2741h8M4072 2555h8M4306 2877h8M3969 2727h8M4071 2798h8M4153 2541h8M4248 2879h8M4322 2547h8M4610 2676h8M4254 2865h8M4472 2869h8M4419 2882h8M4082 2542h8M4069 2567h8M4580 2838h8M4617 2691h8M4381 2880h8M4212 2854h8M4634 2742h8M3923 2627h8M4616 2768h8M4587 2657h8M4112 2809h8M4096 2559h8M4565 2853h8M4638 2745h8M3897 2628h8M4501 2866h8M3954 2589h8M4116 2839h8M4417 2563h8M4610 2786h8M4003 2752h8M4149 2546h8M4562 2612h8M4033 2564h8M3913 2691h8M4111 2829h8M4251 2537h8M4141 2824h8M3914 2683h8M4394 2581h8M3933 2720h8M4408 2889h8M4299 2882h8M4481 2594h8M4627 2704h8M4610 2779h8M4392 2578h8M4292 2883h8M4450 2579h8M4598 2790h8M4358 2878h8M4461 2896h8M4599 2789h8M4215 2547h8M4263 2557h8M3891 2635h8M4530 2623h8M4136 2537h8M4479 2863h8M4289 2547h8M4045 2798h8M4452 2877h8M4193 2550h8M4084 2839h8M4002 2567h8M3955 2757h8M4113 2551h8M4325 2896h8M3880 2678h8M3984 2736h8M4109 2562h8M4568 2855h8M4419 2586h8M3911 2630h8M4180 2851h8M4466 2889h8M4211 2546h8M4245 2558h8M4293 2563h8M4409 2890h8M4217 2860h8M4025 2773h8M3931 2698h8M4501 2860h8M4587 2647h8M4305 2883h8M4236 2557h8M4193 2862h8M4507 2611h8M3931 2701h8M4095 2558h8M4290 2876h8M4083 2566h8M4355 2573h8M4641 2730h8M4089 2802h8M4579 2808h8M4481 2593h8M4368 2879h8M4179 2545h8M4221 2542h8M4223 2890h8M4549 2615h8M4064 2562h8M3946 2607h8M4667 2731h8M3920 2697h8M4086 2565h8M4256 2518h8M4111 2543h8M4185 2866h8M4063 2807h8M4109 2830h8M4404 2571h8M4578 2647h8M4586 2797h8M4202 2545h8M4270 2549h8M4111 2551h8M4013 2788h8M4213 2857h8M4525 2844h8M3994 2588h8M4001 2562h8M4327 2562h8M3952 2582h8M4366 2559h8M3901 2669h8M4238 2872h8M4392 2886h8M3941 2709h8M4116 2807h8M4413 2878h8M4114 2845h8M4400 2900h8M4401 2566h8M4318 2567h8M4301 2522h8M4219 2535h8M4087 2531h8M3981 2763h8M3918 2685h8M3878 2637h8M4437 2540h8M4636 2723h8M4580 2632h8M4001 2771h8M4091 2802h8M4267 2904h8M4044 2818h8M4631 2757h8M4378 2894h8M4067 2562h8M4629 2741h8M4258 2554h8M4049 2556h8M3992 2741h8M4489 2871h8M4283 2876h8M4157 2833h8M3931 2602h8M4106 2802h8M3982 2588h8M3952 2563h8M3895 2615h8M4107 2532h8M4663 2654h8M4618 2780h8M4509 2600h8M4324 2878h8M4593 2870h8M4569 2835h8M4670 2743h8M4484 2856h8M4652 2757h8M4279 2559h8M4203 2858h8M4159 2551h8M4478 2883h8M3854 2633h8M4631 2659h8M4350 2563h8M3908 2695h8M4395 2878h8M4625 2723h8M4336 2884h8M4403 2896h8M4512 2878h8M4013 2577h8M4611 2682h8M3962 2752h8M4236 2554h8M4246 2861h8M4635 2711h8M4418 2887h8M4359 2899h8M3928 2617h8M4380 2876h8M4366 2905h8M4596 2641h8M4597 2789h8M4511 2847h8M4057 2821h8M4357 2560h8M4528 2854h8M3948 2613h8M4179 2548h8M4184 2840h8M4515 2858h8M4112 2811h8M4304 2562h8M3992 2584h8M4180 2840h8M3970 2600h8M3974 2587h8M4169 2842h8M4233 2553h8M3926 2601h8M4657 2777h8M4455 2875h8M4256 2557h8M4080 2791h8M4071 2566h8M4295 2876h8M4098 2561h8M4220 2553h8M4393 2878h8M4623 2650h8M3990 2570h8M4038 2572h8M4483 2593h8M3923 2702h8M4072 2549h8M4611 2772h8M4432 2580h8M4627 2705h8M3873 2649h8M3960 2728h8M4376 2908h8M4306 2565h8M4096 2800h8M4311 2524h8M4497 2593h8M4285 2889h8M4101 2555h8M4645 2792h8M3951 2582h8M4528 2620h8M3973 2596h8M4401 2877h8M3969 2735h8M3940 2713h8M4546 2619h8M3922 2715h8M4342 2564h8M4022 2796h8M4589 2809h8M4200 2867h8M4631 2760h8M4344 2878h8M4029 2563h8M4599 2823h8M4100 2818h8M4050 2804h8M4197 2531h8M4489 2587h8M4458 2884h8M4084 2805h8M4158 2846h8M4142 2823h8M4154 2551h8M4624 2689h8M4554 2841h8M4167 2531h8M4335 2888h8M4096 2536h8M4438 2578h8M4508 2864h8M3961 2757h8M4284 2532h8M4036 2770h8M4616 2691h8M4352 2894h8M4608 2607h8M4151 2827h8M4040 2574h8M4238 2857h8M4176 2842h8M4563 2639h8M4348 2568h8M3949 2607h8M4166 2547h8M4627 2707h8M4405 2565h8M4637 2845h8M4601 2666h8M3929 2701h8M4411 2880h8M4198 2853h8M3931 2701h8M3967 2747h8M4582 2640h8M4266 2560h8M4568 2874h8M4481 2582h8M4483 2573h8M4558 2638h8M4296 2877h8M4517 2610h8M4383 2882h8M4535 2843h8M4197 2845h8M3975 2594h8M4229 2857h8M4514 2846h8M4394 2886h8M3931 2703h8M3990 2589h8M4407 2887h8M4071 2565h8M4578 2640h8M4391 2579h8M4261 2878h8M4602 2666h8M4053 2778h8M4623 2730h8M4437 2873h8M4096 2559h8M3994 2776h8M4608 2777h8M3951 2611h8M3971 2570h8M3980 2580h8M4612 2776h8M4530 2867h8M4062 2796h8M4543 2625h8M4005 2580h8M3957 2571h8M4308 2562h8M4065 2809h8M4404 2579h8M3946 2747h8M4299 2886h8M4558 2614h8M4138 2854h8M3949 2734h8" stroke="#1976bf" stroke-width="8" fill="none"/>
<path d="M4148 2210h8M4084 2267h8M4139 2214h8M4228 2298h8M4185 2216h8M4225 2299h8M4066 2255h8M4209 2291h8M4180 2296h8M4105 2278h8M4224 2215h8M4081 2240h8M4298 2241h8M4084 2261h8M4262 2220h8M4117 2277h8M4256 2223h8M4307 2240h8M4199 2291h8M4079 2234h8M4258 2225h8M4135 2215h8M4125 2291h8M4273 2228h8M4144 2209h8M4243 2306h8M4249 2225h8M4172 2216h8M4196 2302h8M4206 2292h8M4070 2255h8M4272 2226h8M4295 2285h8M4230 2219h8M4085 2232h8M4177 2211h8M4254 2302h8M4265 2291h8M4261 2292h8M4091 2269h8M4096 2221h8M4311 2274h8M4250 2291h8M4274 2231h8M4229 2297h8M4097 2285h8M4155 2291h8M4080 2267h8M4140 2204h8M4243 2291h8M4262 2290h8M4113 2291h8M4149 2215h8M4116 2286h8M4141 2283h8M4313 2259h8M4297 2234h8M4308 2246h8M4106 2226h8M4271 2287h8M4107 2283h8M4220 2218h8M4174 2289h8M4172 2212h8M4115 2279h8M4193 2292h8M4164 2209h8M4322 2257h8M4168 2290h8M4115 2277h8M4128 2217h8M4129 2216h8M4257 2290h8M4092 2264h8M4095 2227h8M4263 2228h8M4093 2226h8M4264 2221h8M4271 2288h8M4155 2216h8M4078 2229h8M4192 2296h8M4283 2288h8M4157 2211h8M4261 2222h8M4139 2218h8M4223 2294h8M4250 2289h8M4306 2242h8M4220 2218h8M4249 2307h8M4249 2289h8M4310 2271h8M4079 2237h8M4215 2212h8M4169 2288h8M4202 2217h8M4311 2269h8M4279 2285h8M4127 2219h8M4194 2297h8M4107 2273h8M4268 2291h8M4297 2226h8M4238 2217h8M4303 2234h8" stroke="#1976bf" stroke-width="8" fill="none"/>
<path d="M4066 2324h8M3929 2383h8M4020 2320h8M4075 2330h8M4017 2321h8M4002 2311h8M4132 2354h8M4116 2350h8M3938 2333h8M3963 2323h8M4113 2383h8M4007 2315h8M4001 2410h8M4093 2334h8M4045 2407h8M3960 2395h8M3941 2332h8M4116 2376h8M4109 2348h8M4023 2409h8M3962 2401h8M4079 2402h8M3923 2377h8M4136 2356h8M4126 2379h8M4084 2332h8M4034 2321h8M4001 2318h8M4068 2327h8M3921 2343h8M3918 2344h8M4001 2405h8M4120 2373h8M4113 2392h8M3929 2342h8M4076 2417h8M4001 2423h8M3924 2371h8M3917 2337h8M3989 2416h8M3932 2337h8M3961 2399h8M3925 2345h8M3941 2326h8M3979 2323h8M4013 2313h8M4008 2408h8M3931 2379h8M4007 2414h8M4107 2348h8M3921 2380h8M4047 2324h8M3923 2374h8M3997 2313h8M4047 2323h8M4053 2411h8M4102 2412h8M3928 2378h8M4068 2405h8M3921 2345h8M3927 2385h8M4107 2390h8M3964 2398h8M4070 2410h8M4011 2311h8M4024 2322h8M4045 2308h8M3992 2412h8M4013 2320h8M3953 2325h8M3926 2335h8M4057 2411h8M4019 2319h8M3962 2407h8M4129 2354h8M3989 2316h8M3918 2339h8M4084 2412h8M3921 2370h8M3947 2388h8M3951 2395h8M3960 2399h8M4083 2334h8M4022 2320h8M3957 2322h8M4035 2409h8M3924 2371h8M3976 2318h8M4118 2368h8M4120 2378h8M3966 2400h8M4071 2330h8M3931 2377h8M3958 2302h8M4077 2418h8M3948 2396h8M4043 2308h8M3918 2366h8M3927 2393h8M4074 2404h8M4119 2341h8M3954 2400h8M4012 2406h8M3993 2322h8M4007 2318h8M3942 2388h8M3958 2323h8M3971 2398h8M3979 2406h8M3927 2324h8M4066 2405h8M4137 2374h8M4069 2405h8M4082 2324h8M3919 2360h8M4013 2319h8M4022 2409h8M4043 2321h8M3988 2322h8M4104 2395h8M4087 2324h8M4019 2321h8M4112 2383h8M4093 2338h8M4020 2321h8M4069 2324h8M4072 2331h8M4082 2333h8M3984 2404h8" stroke="#1976bf" stroke-width="8" fill="none"/>
<path d="M4692 3005h8M4586 3062h8M4544 3053h8M4552 2979h8M4585 2971h8M4592 3065h8M4675 2984h8M4664 3039h8M4532 2987h8M4513 3058h8M4546 3071h8M4685 3007h8M4570 2966h8M4679 2993h8M4618 2965h8M4523 3005h8M4599 2968h8M4651 2966h8M4686 3014h8M4610 2970h8M4519 3010h8M4590 2967h8M4567 2976h8M4601 3062h8M4652 3062h8M4654 2968h8M4628 2971h8M4682 2995h8M4514 3013h8M4521 3005h8M4582 2971h8M4643 2972h8M4544 3059h8M4636 2959h8M4660 3043h8M4604 3058h8M4548 2979h8M4682 2992h8M4661 3071h8M4634 3052h8M4668 2980h8M4579 3062h8M4684 2998h8M4688 3002h8M4661 3053h8M4616 3060h8M4612 3059h8M4579 3061h8M4597 3065h8M4573 2976h8M4574 3061h8M4520 3055h8M4507 3029h8M4524 3056h8M4616 2969h8M4541 2988h8M4599 3060h8M4514 3025h8M4516 3039h8M4587 2971h8M4655 3045h8M4703 3004h8M4680 2993h8M4610 3059h8M4518 2994h8M4677 2987h8M4663 3037h8M4664 2968h8M4590 2969h8M4506 3033h8M4670 2982h8M4644 3049h8M4515 3008h8M4534 2994h8M4605 3062h8M4566 3070h8M4513 3051h8M4515 3044h8M4517 3044h8M4578 3062h8M4518 3035h8M4578 2973h8M4602 2968h8M4516 3018h8M4642 2972h8M4579 2974h8M4654 2974h8M4531 3050h8M4512 3028h8M4576 3065h8M4670 2973h8M4665 2960h8M4643 2970h8M4627 2959h8M4605 2971h8M4696 3044h8M4683 3018h8M4511 3042h8M4628 3075h8M4505 3024h8M4693 3006h8M4600 2971h8M4639 3063h8M4549 2984h8M4662 3056h8" stroke="#1976bf" stroke-width="8" fill="none"/>
<path d="M4341 2991h8M4417 2958h8M4351 2950h8M4436 3018h8M4472 2972h8M4395 3005h8M4342 2990h8M4497 2967h8M4478 2955h8M4475 3011h8M4336 2984h8M4443 2955h8M4484 2976h8M4347 2999h8M4497 3000h8M4395 3013h8M4416 3008h8M4439 2963h8M4392 2960h8M4439 2963h8M4354 2964h8M4338 2987h8M4384 2957h8M4479 2976h8M4443 2964h8M4406 2958h8M4494 2996h8M4398 2957h8M4398 2956h8M4386 3006h8M4430 3012h8M4433 2963h8M4396 2956h8M4428 2961h8M4445 3014h8M4464 3013h8M4380 2957h8M4463 3037h8M4397 3005h8M4385 3008h8M4429 2959h8M4446 3014h8M4404 2956h8M4431 2963h8M4359 3000h8M4379 2959h8M4479 2974h8M4486 3002h8M4354 3000h8M4459 2961h8M4494 2988h8M4367 3010h8M4343 2956h8M4479 3013h8M4329 2991h8M4423 3019h8M4331 2971h8M4423 3012h8M4449 3014h8M4337 2981h8M4333 2968h8M4401 2960h8M4417 2943h8M4442 2955h8M4395 3005h8M4386 3006h8M4469 3009h8M4401 3005h8M4432 3015h8M4410 2952h8M4431 3008h8M4486 2976h8M4390 2958h8M4418 3019h8M4441 2965h8M4419 3014h8M4417 2960h8M4368 2961h8M4352 2961h8M4492 2986h8M4476 3020h8M4416 3007h8M4344 2989h8M4427 2958h8M4422 2961h8M4477 2972h8M4480 2972h8M4398 2958h8M4487 2980h8M4472 2973h8M4428 3021h8M4335 2988h8M4431 3012h8M4409 2959h8M4368 2947h8M4466 2969h8M4494 3000h8M4340 2964h8" stroke="#1976bf" stroke-width="8" fill="none"/>
<path d="M4430 3089h8M4476 3075h8M4431 3091h8M4203 3276h8M4304 3108h8M4178 3165h8M4025 3272h8M4113 3190h8M4463 3085h8M4057 3194h8M4181 3280h8M4481 3252h8M4055 3271h8M4186 3151h8M4042 3210h8M4450 3261h8M4214 3286h8M4113 3271h8M4508 3228h8M4550 3191h8M4425 3274h8M4498 3097h8M4008 3230h8M4013 3265h8M4115 3191h8M4171 3169h8M4341 3305h8M4023 3208h8M4394 3085h8M4081 3272h8M4335 3105h8M3989 3266h8M4136 3173h8M4075 3206h8M4544 3179h8M4538 3178h8M4314 3306h8M3966 3261h8M4202 3143h8M4436 3269h8M4421 3283h8M4102 3277h8M4106 3181h8M4510 3123h8M4029 3264h8M4078 3195h8M4241 3294h8M4212 3140h8M4444 3089h8M4103 3187h8M4326 3107h8M4524 3218h8M4292 3120h8M4022 3220h8M4141 3273h8M3960 3254h8M4201 3149h8M3985 3261h8M4102 3271h8M4176 3288h8M3998 3227h8M4126 3271h8M4532 3141h8M4258 3287h8M4490 3105h8M4061 3199h8M4393 3287h8M4163 3281h8M4265 3286h8M4174 3165h8M4186 3280h8M4319 3299h8M4152 3285h8M4487 3246h8M4497 3108h8M4269 3130h8M4346 3087h8M3967 3272h8M4037 3204h8M4497 3109h8M4464 3090h8M4485 3100h8M4507 3117h8M4365 3315h8M4137 3177h8M4515 3113h8M4292 3292h8M4377 3301h8M4260 3133h8M4374 3294h8M4511 3244h8M4268 3304h8M4116 3271h8M4080 3199h8M4273 3116h8M4434 3275h8M4373 3080h8M4208 3279h8M4121 3188h8M4010 3273h8M4323 3108h8M4309 3115h8M4280 3308h8M4236 3143h8M4529 3145h8M4075 3270h8M4212 3153h8M4384 3092h8M4540 3142h8M3979 3259h8M3964 3254h8M3968 3251h8M4259 3127h8M3969 3252h8M4068 3186h8M4315 3112h8M4082 3198h8M4474 3251h8M4060 3198h8M4279 3294h8M4372 3300h8M4120 3284h8M3980 3237h8M3994 3240h8M4375 3097h8M4176 3276h8M4515 3224h8M4480 3089h8M4357 3308h8M4532 3188h8M3968 3236h8M3986 3240h8M4037 3216h8M4512 3124h8M4497 3243h8M4499 3113h8M4485 3250h8M4238 3124h8M4287 3297h8M3996 3238h8M4309 3110h8M4100 3284h8M3979 3247h8M4256 3303h8M4412 3282h8M4230 3281h8M4161 3154h8M4541 3200h8M4464 3089h8M4529 3119h8M4536 3176h8M4487 3104h8M3973 3258h8M4387 3289h8M4083 3289h8M4446 3086h8M4099 3285h8M4299 3103h8M4130 3289h8M4095 3278h8M4196 3276h8M4536 3205h8M4537 3170h8M4250 3127h8M4310 3297h8M4052 3208h8M4528 3131h8M4147 3178h8M4492 3246h8M4117 3273h8M3999 3238h8M4534 3161h8M4537 3192h8M4472 3251h8M4230 3139h8M4109 3272h8M4154 3173h8M4310 3300h8M4125 3276h8M4061 3270h8M4144 3180h8M4520 3129h8M4510 3121h8M3961 3254h8M4350 3097h8M3985 3260h8M4471 3091h8M4000 3281h8M4250 3138h8M4104 3270h8M4040 3265h8M4129 3185h8M4087 3277h8M3964 3269h8M4138 3277h8M4457 3258h8M4025 3226h8M4218 3140h8M4215 3141h8M4177 3278h8M4309 3107h8M4114 3272h8M4136 3274h8M4399 3095h8M4229 3139h8M4335 3302h8M4059 3193h8M4328 3305h8M4304 3302h8M4514 3122h8M4179 3166h8M3963 3260h8M4205 3276h8M4149 3168h8M4340 3302h8M4011 3268h8M4071 3279h8M4143 3178h8M4110 3191h8M4535 3166h8M4271 3287h8M4500 3237h8M4401 3084h8M4424 3093h8M4166 3276h8M4337 3097h8M4527 3210h8M3966 3252h8M4332 3104h8M4129 3172h8M4097 3270h8M4149 3272h8M4198 3287h8M4260 3289h8M4239 3123h8M4141 3272h8M3967 3257h8M4239 3125h8M3972 3258h8M4069 3209h8M4086 3273h8M4337 3092h8M4057 3213h8M4215 3277h8M4468 3253h8M4543 3161h8M3959 3238h8M4424 3276h8M4101 3275h8M4091 3181h8M4051 3213h8M4470 3251h8M4373 3292h8M4120 3281h8M4232 3280h8M4195 3154h8M4299 3105h8M4310 3110h8M4366 3098h8M4001 3232h8M4157 3160h8M4402 3303h8M4106 3193h8M4156 3173h8M4217 3152h8M4428 3075h8M4109 3186h8M4488 3263h8M4542 3157h8M3968 3248h8M4322 3099h8M4331 3301h8M4370 3091h8M4077 3275h8M4001 3270h8M4381 3097h8M4436 3077h8M4033 3270h8M4409 3080h8M4327 3107h8M4283 3290h8M4536 3171h8M4502 3248h8M4012 3263h8M4095 3284h8M4120 3277h8" stroke="#1976bf" stroke-width="8" fill="none"/>
<path d="M4061 2650h8M4503 2699h8M4541 2461h8M4237 2738h8M4038 2737h8M4483 2654h8M4656 2804h8M4518 2784h8M4557 2803h8M4500 2685h8M4663 2683h8M4128 2872h8M4333 2761h8M4109 2701h8M4113 2628h8M4275 2695h8M4382 2739h8M4148 2789h8M4289 2730h8M4439 2788h8M4380 2929h8M4265 2559h8M4289 2755h8M4023 2791h8M4123 2815h8M4124 2639h8M4310 2709h8M4365 2702h8M4078 2674h8M4121 2643h8M4280 2645h8M3940 2676h8M4274 2744h8M3905 2786h8M4317 2803h8M4182 2686h8M4217 2629h8M4347 2648h8M4184 2805h8M4284 2667h8M4191 2795h8M4367 2740h8M4492 2617h8M4700 2817h8M4223 2627h8M4616 2748h8M4418 2727h8M3675 2702h8M4307 2537h8M4362 2970h8M4174 2726h8M4441 2839h8M4446 2799h8M4341 2821h8M4676 2846h8M4399 2628h8M4451 2747h8M4655 2852h8M4055 2626h8M4606 2686h8M4371 3042h8M4390 2867h8M4331 2580h8M4149 2944h8M4415 2641h8M4199 2608h8M4335 2635h8M4739 2763h8M4148 2682h8M4392 2635h8M4524 2779h8M4549 2729h8M4156 2677h8M4116 2675h8M4427 2792h8M4062 2746h8M4449 2733h8M4150 2586h8M4396 2830h8M4584 2724h8M4727 2774h8M4016 2802h8M4313 2792h8M4608 2797h8M4085 2534h8M4044 2661h8M4124 2716h8M4117 2537h8M3856 2545h8M4432 2659h8M4549 2625h8M4301 2711h8M4681 2894h8M4323 2620h8M4381 2644h8M4234 2695h8M4470 2596h8M4357 2635h8M4550 2863h8M4503 2582h8M4829 2682h8M4149 2569h8M4236 2565h8M4762 2718h8M4636 2975h8M4176 2626h8M4146 2789h8M4300 2806h8M4188 2679h8M4246 2577h8M4087 2674h8M4505 2690h8M4206 2805h8M4224 2747h8M3786 2654h8M3824 2661h8M3834 2619h8M3915 2702h8M4458 2704h8M4297 2695h8M4563 2780h8M4496 2739h8M4648 2799h8M4265 2908h8M3980 2537h8M4033 2734h8M4433 2792h8M4305 2632h8M3990 2668h8M4193 2604h8M4401 2755h8M4524 2733h8M4258 2730h8M3923 2502h8M4888 2668h8M4079 2638h8M4316 2727h8M4284 2683h8M4147 2590h8M3980 2675h8M4330 2608h8M4173 2797h8M4138 2767h8M4165 2738h8M4491 2888h8M4240 2840h8M4417 2579h8M4155 2769h8M4590 2816h8M3964 2626h8M4560 2671h8M4799 2868h8M4309 2538h8M4290 2710h8M3943 2715h8M4447 2708h8M4375 2802h8M4194 2711h8M4391 2701h8M3924 2813h8M4375 2849h8M4061 2694h8M4337 2611h8M4091 2704h8M4305 2810h8M4068 2549h8M4065 2601h8M4260 2571h8M4537 2723h8M4301 2694h8M4303 2693h8M4404 2667h8M4631 2812h8M4380 2713h8M4473 2686h8M4769 2768h8M4253 2573h8M4588 2687h8M4346 2734h8M4607 2567h8M3994 2565h8M4007 2798h8M4453 2729h8M4504 2619h8M4248 2569h8M4024 2608h8M4271 2669h8M4220 2683h8M4153 2790h8M4179 2613h8M4256 2450h8M4561 2704h8M4546 2589h8M4618 2782h8M4182 2773h8M4470 2696h8M4218 2642h8M4633 2672h8M4129 2732h8M4474 2653h8M4530 2537h8M4885 2645h8M4018 2584h8M4640 2799h8M4040 2800h8M3911 2683h8M4121 2624h8M4456 2898h8M4365 2623h8M4723 2774h8M4570 2636h8M3991 2865h8M4430 2653h8M4638 2851h8M4120 2759h8M4138 2729h8M4585 2777h8M4287 2851h8M4276 2624h8M4100 2869h8M4242 2591h8M4110 2631h8M4365 2534h8M4547 2627h8M4583 2775h8M4208 2734h8M4332 2580h8M4357 2789h8M4567 2706h8M4892 2790h8M4238 2772h8M4341 2720h8M4689 2628h8M3974 2697h8M4838 2611h8M4392 2718h8M4302 2752h8M4426 2599h8M4537 2749h8M4582 2728h8M4635 2771h8M4382 2494h8M4361 2582h8M4210 2692h8M4279 2857h8M4374 2651h8M4476 2864h8M4582 2759h8M4396 2515h8M4554 2787h8M4392 2734h8M4118 2711h8M4031 2631h8M4497 2703h8M4138 2715h8M4260 2716h8M4464 2785h8M4466 2767h8M4093 2840h8M4264 2614h8M4740 2793h8M4298 2465h8M4248 2754h8M4069 2675h8M4375 2782h8M4210 2780h8M4361 2702h8M4547 2758h8M4318 2809h8M4178 2694h8M4353 2888h8M4681 2755h8M4801 2647h8M4647 2696h8M4449 2695h8M4584 2712h8M4343 2643h8M4514 2855h8M4085 2575h8M4383 2689h8M3838 2650h8M4042 2664h8M4411 2732h8M3979 2742h8M4371 2719h8M4531 2873h8M4555 2890h8M4286 2768h8M4418 2732h8M4432 2643h8M4304 2714h8M4684 2644h8M4346 2694h8M4068 2623h8M4695 2833h8M4286 2706h8M4051 2670h8M4150 2905h8M4175 2713h8M4334 2661h8M4449 2686h8M4474 2782h8M4280 2554h8M4369 2829h8M4500 2511h8M4346 2833h8M4531 2842h8M4308 2702h8M4386 2774h8M4324 2692h8M4549 2657h8M4391 2601h8M4164 2617h8M4504 2670h8M4091 2572h8M4271 2628h8M4141 2647h8M4101 2817h8M4357 2666h8M3852 2553h8M4312 2637h8M4425 2743h8M3977 2712h8M4162 2687h8M3897 2703h8M4366 2665h8M4526 2785h8M4109 2716h8M4116 2683h8M4454 2566h8M4165 2722h8M4357 2583h8M4143 2686h8M4435 2827h8M4551 2841h8M4071 2563h8M4363 2776h8M4438 2819h8M4305 2661h8M4468 2641h8M4384 2860h8M4216 2674h8M4171 2558h8M4142 2843h8M3813 2733h8M4090 2863h8M3988 2678h8M4188 2820h8M4440 2654h8M4709 2452h8M4150 2528h8M4319 2625h8M4076 2559h8M4323 2739h8M4200 2728h8M4498 2572h8M4515 2825h8M4248 2754h8M4083 2523h8M4262 2837h8M4268 2664h8M4238 2619h8M4640 2631h8M4073 2866h8M3875 2798h8M4332 2786h8M4375 2904h8M4509 2779h8M4461 2588h8M4139 2620h8M3977 2805h8M4539 2713h8M4632 2495h8M4146 2713h8M4369 2816h8M4440 2879h8M4195 2967h8M4402 2824h8M4561 2718h8M4218 2871h8M4668 2868h8M4296 2617h8M4310 2612h8M4287 2728h8M4429 2645h8M4253 2653h8M4505 2842h8M4864 2683h8M4209 2544h8M4348 2887h8M4314 2740h8M4056 2692h8M3876 2713h8M4404 2780h8M4042 2442h8M4465 2799h8M4240 2760h8M4119 2729h8M4299 2582h8M4048 2700h8M4774 2880h8M4263 2717h8M4188 2532h8M4484 2587h8M4151 2668h8M4510 2672h8M4504 2868h8M4360 2728h8M4166 2585h8M4312 2719h8M4304 2798h8M4259 2882h8M4253 2922h8M3985 2789h8M4147 2607h8M4375 2737h8M3899 2738h8M4411 2590h8M4031 2411h8M4510 2674h8M4780 2701h8M4163 2561h8M4023 2747h8M4337 2984h8M4282 2766h8M4220 2611h8M4338 2624h8M4570 2748h8M4271 2608h8M4130 2604h8M4463 2785h8M4390 2685h8M4762 2644h8M4377 2613h8M4276 2707h8M4538 2820h8M4358 2794h8M3912 2874h8M4589 2573h8M4082 2731h8M4016 2597h8M4016 2870h8M4147 2653h8M4305 2613h8M4137 2679h8M4509 2744h8M4430 2650h8M4425 2587h8M4400 2780h8M3931 2734h8M4396 2776h8M4419 2620h8M4064 2786h8M4537 2782h8M4381 2609h8M4315 2790h8M4192 2629h8M4560 2700h8M3987 2724h8M4416 2726h8M4157 2777h8M4377 2544h8M4484 2715h8M4196 2583h8M4386 2703h8M4261 2793h8M3911 2656h8M4544 2673h8M4202 2790h8M4411 2657h8M4579 2600h8M4170 2530h8M4115 2726h8M4557 2616h8M4482 2809h8M4299 2699h8M4381 2704h8M4221 2662h8M4124 2798h8M4334 2778h8M4563 2724h8M4861 2869h8M4492 2865h8M4090 2591h8M4370 2618h8M4156 2933h8M4523 2602h8M4156 2683h8M3589 2841h8M4157 2727h8M3784 2748h8M4656 2799h8M4273 2841h8M4665 2708h8M4567 2908h8M4352 2641h8M4089 2759h8M4054 2603h8M4288 2694h8M4253 2579h8M4438 2701h8M4162 2709h8M4394 2671h8M4110 2679h8M4539 2764h8M4437 2531h8M3933 2689h8M4348 2803h8M4495 2844h8M4112 2756h8M4410 2652h8M4134 2770h8M3983 2699h8M4240 2611h8M4289 2696h8M4696 2535h8M4286 2712h8M4266 2901h8M4445 2749h8M4282 2677h8M3960 2772h8M4248 2856h8M4021 2792h8M4259 2651h8M3967 2506h8M4703 2808h8M4172 2654h8M4381 2442h8M4492 2675h8M4360 2707h8M3937 2628h8M4493 2596h8M4348 2650h8M4502 2611h8M4528 2694h8M4321 2852h8M4547 2861h8M4211 2767h8M4294 2684h8M4623 2681h8M4768 2789h8M4561 2778h8M4146 2699h8M4263 2835h8M4318 2715h8M4576 2564h8M4544 2673h8M4232 2750h8M4218 2730h8M4440 2853h8M3877 2768h8M4169 2562h8M4565 2701h8M3817 2765h8M4590 2814h8M4218 2888h8M4235 2661h8M4574 2759h8M4522 2707h8M4393 2741h8M4511 2568h8M4440 2723h8M4255 2622h8M4456 2801h8M4713 2788h8M4288 2589h8M4136 2604h8M4030 2711h8M4313 2837h8M4585 2633h8M4260 2624h8M4538 2795h8M3962 2674h8M4128 2779h8M4109 2857h8M4184 2821h8M4526 2868h8M4348 2777h8M4204 2764h8M4301 2755h8M3990 2655h8M4377 2787h8M4513 2839h8M4421 2726h8M4289 2794h8M4428 2680h8M4540 2698h8M4294 2723h8M4298 2803h8M4871 2797h8M4507 2689h8M4262 2826h8M4050 2669h8M4311 2693h8M4157 2816h8M4024 2710h8M4115 2631h8M4275 2747h8M4502 2630h8M4529 2638h8M4121 2787h8M4271 2648h8M4316 2712h8M4463 2773h8M4446 2776h8M4106 2804h8M4115 2832h8M4086 2758h8M4671 2810h8M3917 2652h8M4591 2788h8M4363 2774h8M4215 2700h8M4298 2761h8M4555 2834h8M4540 2636h8M4480 2759h8M4580 2737h8M4612 2833h8M4294 2907h8M4652 2646h8M4158 2708h8M3901 2655h8M4617 2507h8M4300 2671h8M4285 2729h8M3971 2712h8M4904 2692h8M4565 2780h8M4588 2678h8M4687 2657h8M4260 2879h8M4549 2823h8M4077 2935h8M4145 2620h8M3994 2607h8M4440 2924h8M4603 2747h8M4498 2975h8M3681 2821h8M4386 2773h8M4071 2639h8M4131 2713h8M4490 2653h8M4252 2786h8M4601 2569h8M4189 2795h8M4276 2778h8M4273 2854h8M4323 2763h8M4351 2558h8M4121 2713h8M4514 2810h8M4520 2693h8M4509 2778h8M4192 2803h8M4304 2789h8M4333 2716h8M4080 2835h8M4418 2705h8M4558 2667h8M4685 2747h8M4150 2708h8M4679 2926h8M4287 2677h8M4280 2756h8M4390 2695h8M4407 2920h8M3716 2679h8M4749 2606h8M4498 2700h8M4517 2811h8M4649 2695h8M4310 2793h8M3955 2709h8M4167 2583h8M4141 2809h8M3883 2639h8M4468 2827h8M4563 2648h8M4326 2800h8M4052 2763h8M4533 2745h8M4085 2682h8M4268 2740h8M4021 2764h8M4342 2711h8M4136 2575h8M4440 2493h8M4440 2642h8M4108 2636h8M4525 2700h8M4571 2637h8M4277 2683h8M4450 2750h8M4485 2665h8M4185 2853h8M4150 2791h8M3886 2733h8M4977 2772h8M4451 2801h8M4392 2846h8M4135 2819h8M4282 2750h8M4496 2731h8M4007 2795h8M4174 2658h8M4025 2834h8M4682 2650h8M4195 2682h8M4464 2928h8M4254 2650h8M4363 2762h8M4108 2646h8M4616 2686h8M5030 2782h8M4242 2776h8M4231 2718h8M4481 2633h8M4315 2457h8M4070 2649h8M4287 2708h8M4491 2864h8M4338 2725h8M4008 2728h8M3878 2785h8M4340 2666h8M4097 2781h8M4394 2621h8M4133 2566h8M4573 2825h8M4322 2815h8M4341 2907h8M4131 2775h8M4048 2668h8M4094 2570h8M4458 2669h8M3884 2675h8M4170 2689h8M4343 2636h8M4013 2557h8M4776 2729h8M4584 2610h8M4456 2746h8M4532 2937h8M4472 2845h8M4439 2831h8M4177 2704h8M4485 2732h8M4567 2884h8M4190 2690h8M4393 2924h8M4137 2786h8M4453 2836h8M4390 3083h8M4208 2575h8M4199 2920h8M4213 2717h8M4275 2596h8M4525 2613h8M4357 2875h8M4628 2726h8M4156 2762h8M4421 2772h8M4070 2561h8M4472 2662h8M4248 2665h8M4678 2866h8M4552 2721h8M4333 2609h8M4453 2744h8M4403 2755h8M4138 2777h8M3903 2641h8M4433 2795h8M4132 2727h8M4160 2670h8M4366 2637h8M4471 2631h8M4250 2697h8M4164 2657h8M4520 2885h8M4318 2674h8M4228 2560h8M4398 2727h8M4076 2743h8M4271 2596h8M4074 2660h8M4514 2844h8M4025 2816h8M4257 2803h8M4290 2626h8M4371 2870h8M4192 2651h8M3929 2746h8M3950 2746h8M4367 2796h8M4428 2874h8M4226 2755h8M4422 2662h8M3929 2583h8M4443 2639h8M4367 2749h8M4182 2838h8M3984 2662h8M4200 2809h8M4213 2885h8M4332 2821h8M4152 2739h8M4185 2716h8M4300 2619h8M4259 2621h8M4220 2731h8M4453 2595h8M4387 2781h8M4489 2494h8M4597 2613h8M4456 2737h8M4398 2688h8M4010 2756h8M3889 2668h8M4331 2670h8M4585 2741h8M4397 2593h8M4061 2771h8M4536 2635h8M4190 2662h8M4241 2685h8M4152 2539h8M4302 2606h8M4618 2700h8M4385 2707h8M3779 2664h8M4276 2626h8M4257 2777h8M4563 2758h8M4182 2792h8M4421 2835h8M4657 2894h8M4611 2753h8M4305 2653h8M4388 2752h8M4178 2793h8M3885 2770h8M4684 2736h8M4390 2950h8M4343 2676h8M4210 2858h8M4298 2830h8M4217 2644h8M4552 2824h8M4573 2698h8M4194 2598h8M4321 2647h8M4104 2871h8M4442 2622h8M3938 2869h8M4680 2767h8M4269 2792h8M4503 2722h8M4540 3017h8M4248 2821h8M4390 2831h8M4175 2534h8M4128 2957h8M4121 2555h8M4238 2887h8M4622 2803h8M4617 2687h8M4055 2646h8M4438 2800h8M4363 2764h8M4338 2725h8M4632 2813h8M4682 2727h8M4372 2847h8M4125 2814h8M4110 2656h8M4415 2648h8M4798 2564h8M4424 2600h8M4645 2746h8M4658 2888h8M4082 2873h8M3906 2574h8M4727 2617h8M4220 2918h8M4581 2678h8M4665 2663h8M4316 2809h8M4690 2562h8M4455 2758h8M4616 2668h8M4466 2696h8M4473 2855h8M4704 2555h8M4390 2867h8M4099 2896h8M4444 2676h8M4363 2741h8" stroke="#1976bf" stroke-width="8" fill="none"/>
<path d="M3964 2681h8M3988 2729h8M3884 2669h8M3974 2747h8M3987 2722h8M3930 2769h8M3900 2756h8M3906 2707h8M3940 2656h8M4016 2614h8M4040 2759h8M3961 2695h8M4007 2694h8M3912 2687h8M4000 2635h8M4011 2603h8M3985 2753h8M4026 2648h8M4029 2635h8M3977 2686h8M4045 2778h8M3908 2664h8M4036 2650h8M3985 2664h8M3980 2792h8M4027 2695h8M3984 2666h8M3989 2647h8M3894 2693h8M4035 2678h8M3955 2596h8M3925 2671h8M3986 2717h8M3945 2680h8M4008 2828h8M4030 2704h8M3919 2584h8M3920 2745h8M3952 2756h8M3995 2691h8M3971 2633h8M4034 2775h8M3912 2781h8M4041 2761h8M3966 2638h8M4075 2726h8M3948 2725h8M4050 2767h8M4065 2608h8M3977 2695h8M3929 2720h8M4005 2639h8M4022 2612h8M3882 2692h8M3985 2699h8M4001 2638h8M4040 2725h8M4039 2746h8M3986 2839h8M3971 2740h8M3970 2634h8M3920 2685h8M3977 2726h8M3992 2633h8M4009 2598h8M3891 2662h8M3920 2539h8M3957 2716h8M3962 2671h8M4070 2585h8M3944 2682h8M4046 2696h8M4045 2712h8M4040 2754h8M3990 2720h8M3913 2721h8M4090 2720h8M4035 2722h8M3854 2712h8M3897 2834h8M3874 2696h8M4009 2600h8M3981 2736h8M3989 2657h8M3961 2611h8M3954 2763h8M4131 2770h8M4094 2659h8M4054 2672h8M4095 2687h8M3953 2616h8M3993 2683h8M3989 2655h8M4037 2667h8M3979 2637h8M3976 2648h8M3978 2679h8M3950 2820h8M4003 2746h8M3886 2665h8M4003 2693h8M4097 2693h8M3988 2711h8M3909 2725h8M3986 2660h8M4061 2725h8M3941 2682h8M3932 2738h8M3935 2754h8M3968 2646h8M3949 2656h8M3986 2621h8M3986 2782h8M4010 2743h8M4004 2677h8M3936 2677h8M4000 2739h8M3892 2736h8M3818 2723h8M3981 2611h8M4037 2734h8M4024 2689h8M3955 2653h8M4048 2681h8M3883 2807h8M4018 2753h8M3995 2657h8M3886 2648h8M3933 2672h8M4006 2719h8M3989 2847h8M3998 2662h8M3931 2733h8M3894 2770h8M3969 2676h8M3991 2648h8M3902 2741h8M4108 2698h8M4033 2726h8M4066 2655h8M3861 2637h8M3931 2710h8M3914 2656h8M3992 2713h8M3981 2675h8M3970 2636h8M4004 2675h8M3992 2701h8M3907 2688h8M3961 2723h8M3996 2617h8M3968 2722h8M3939 2698h8M3926 2703h8M3976 2724h8M3998 2711h8M4127 2742h8M3981 2725h8M3999 2707h8M3891 2723h8M3867 2720h8M4037 2663h8M4094 2722h8M4049 2666h8M3992 2735h8M3980 2733h8M3983 2667h8M3944 2668h8M3933 2730h8M3807 2765h8M3893 2672h8M4019 2753h8M3940 2707h8M3995 2659h8M3930 2744h8M4000 2702h8M4126 2644h8M4127 2671h8M3916 2683h8M3960 2622h8M3962 2688h8M3989 2640h8M3930 2765h8M3980 2677h8M3989 2674h8M3990 2721h8M4015 2711h8M3935 2601h8M3913 2792h8M3975 2645h8M3903 2703h8M4029 2709h8M4029 2704h8M3913 2582h8M3960 2714h8M3949 2672h8M3982 2730h8M4004 2650h8M3955 2663h8M3750 2606h8" stroke="#1976bf" stroke-width="8" fill="none"/>
<path d="M4501 2649h8M4529 2815h8M4294 2848h8M4270 2647h8M4303 2663h8M4266 2732h8M4246 2808h8M4082 2785h8M4361 2620h8M4429 2620h8M4265 2568h8M4199 2636h8M4148 2776h8M4394 2812h8M4473 2855h8M4284 2854h8M4017 2698h8M4300 2650h8M3982 2606h8M4377 2622h8M4028 2593h8M4219 2679h8M4388 2732h8M4112 2689h8M4427 2624h8M4118 2631h8M4260 2717h8M4594 2716h8M4127 2724h8M4280 2620h8M4493 2649h8M4301 2692h8M4042 2606h8M4480 2737h8M4165 2646h8M4154 2616h8M4362 2808h8M4149 2809h8M4565 2648h8M4167 2564h8M4552 2801h8M4103 2794h8M3982 2607h8M4155 2690h8M4333 2864h8M4103 2642h8M4179 2618h8M4198 2595h8M4347 2796h8M4063 2775h8M4423 2685h8M4252 2683h8M3944 2645h8M4236 2678h8M4350 2744h8M4262 2687h8M4484 2733h8M4012 2661h8M4088 2762h8M4171 2786h8M4276 2852h8M4433 2856h8M4172 2678h8M4454 2824h8M4552 2703h8M4185 2688h8M4141 2809h8M4497 2646h8M4057 2759h8M4308 2608h8M4362 2603h8M4239 2794h8M4026 2647h8M4116 2780h8M4469 2667h8M4261 2591h8M4582 2694h8M4476 2752h8M4037 2669h8M4591 2703h8M4365 2688h8M4150 2727h8M4413 2639h8M4182 2821h8M4255 2826h8M4204 2635h8M4279 2674h8M4251 2845h8M4408 2863h8M4268 2840h8M4582 2783h8M4130 2653h8M4021 2585h8M4349 2683h8M4576 2687h8M4480 2633h8M4222 2695h8M4355 2718h8M4361 2706h8M4497 2785h8M4165 2675h8M4255 2814h8M4111 2804h8M4349 2575h8M4506 2655h8M4037 2685h8M4523 2790h8M4382 2742h8M4504 2751h8M4378 2831h8M4030 2759h8M4328 2787h8M4549 2752h8M4329 2734h8M4042 2626h8M4452 2663h8M4097 2647h8M4504 2653h8M4259 2790h8M4117 2670h8M4516 2791h8M4298 2733h8M4488 2638h8M4242 2657h8M4114 2769h8M4453 2821h8M4365 2613h8M4009 2735h8M4364 2875h8M4012 2593h8M4592 2737h8M4292 2618h8M4150 2820h8M4140 2818h8M4485 2689h8M4165 2705h8M4309 2757h8M4212 2821h8M4235 2573h8M3962 2696h8M4265 2693h8M4104 2784h8M4256 2621h8M4284 2582h8M4299 2654h8M4518 2621h8M4438 2846h8M4496 2751h8M4072 2574h8M4251 2709h8M4138 2661h8M4500 2624h8M4499 2615h8M4350 2824h8M4513 2758h8M4463 2691h8M4355 2691h8M4251 2787h8M4237 2839h8M4163 2694h8M4098 2683h8M4310 2771h8M4091 2710h8M4271 2836h8M4502 2627h8M4191 2691h8M4037 2662h8M4423 2595h8M4039 2615h8M4461 2716h8M4126 2774h8M4385 2707h8M4185 2766h8M4417 2688h8M4475 2724h8M4091 2687h8M4212 2843h8M4247 2717h8M4211 2660h8M4121 2561h8M4501 2733h8M4185 2554h8M4206 2712h8M4450 2823h8M4058 2741h8M4121 2715h8M4554 2733h8M4493 2794h8M4189 2798h8M4154 2760h8M4474 2774h8M4318 2612h8M4098 2719h8M4305 2667h8M4461 2601h8M4433 2795h8M3968 2660h8M4227 2747h8M4517 2726h8M4436 2807h8M4094 2582h8M4307 2824h8M4115 2777h8M4262 2750h8M4525 2838h8M4206 2705h8M4030 2707h8M4317 2812h8M4156 2735h8M4264 2862h8M4181 2787h8M4115 2797h8M4305 2838h8M4225 2702h8M4229 2638h8M4211 2674h8M4011 2696h8M4059 2722h8M4236 2748h8M4084 2620h8M4216 2633h8M4459 2794h8M4479 2607h8M4258 2721h8M4126 2625h8M4475 2641h8M4255 2783h8M4504 2755h8M4120 2635h8M4320 2682h8" stroke="#fa8932" stroke-width="8" fill="none"/>
<path d="M4423 2418h8M4425 2402h8M4420 2410h8M4419 2402h8M4426 2390h8M4427 2389h8M4414 2458h8M4417 2407h8M4414 2411h8M4411 2456h8M4404 2437h8M4395 2431h8M4434 2399h8M4426 2406h8M4431 2400h8M4426 2426h8M4415 2436h8M4437 2403h8M4409 2447h8M4419 2447h8M4410 2449h8M4418 2419h8M4433 2433h8M4428 2402h8M4430 2388h8M4419 2409h8M4401 2413h8M4401 2408h8M4421 2429h8M4426 2410h8M4415 2427h8M4409 2393h8M4425 2417h8M4423 2421h8M4420 2407h8M4418 2407h8M4427 2403h8M4439 2396h8M4426 2394h8M4430 2414h8M4425 2457h8M4419 2380h8M4423 2415h8M4407 2404h8M4421 2421h8M4433 2389h8M4424 2426h8M4434 2399h8M4445 2371h8M4410 2405h8M4415 2413h8M4421 2469h8M4433 2394h8M4435 2363h8M4419 2450h8M4423 2424h8M4423 2427h8M4423 2388h8M4421 2474h8M4434 2401h8" stroke="#fa8932" stroke-width="8" fill="none"/>
<path d="M4370 3216h8M4333 3135h8M4397 3185h8M4427 3196h8M4344 3169h8M4432 3221h8M4368 3074h8M4321 3203h8M4459 3114h8M4411 3199h8M4456 3150h8M4418 3171h8M4387 3146h8M4494 3244h8M4383 3182h8M4475 3234h8M4368 3231h8M4367 3237h8M4324 3242h8M4474 3241h8M4336 3229h8M4359 3189h8M4333 3166h8M4395 3193h8M4321 3167h8M4341 3190h8M4444 3160h8M4480 3256h8M4430 3205h8M4458 3153h8M4486 3168h8M4465 3165h8M4403 3176h8M4345 3211h8M4477 3144h8M4364 3202h8M4375 3256h8M4396 3268h8M4345 3163h8M4514 3128h8M4385 3152h8M4471 3159h8M4380 3196h8M4365 3261h8M4484 3122h8M4412 3191h8M4372 3153h8M4361 3198h8M4300 3209h8M4274 3181h8M4472 3113h8M4391 3189h8M4430 3162h8M4349 3211h8M4340 3233h8M4387 3105h8M4338 3218h8M4416 3218h8M4438 3195h8M4394 3170h8" stroke="#fa8932" stroke-width="8" fill="none"/>
<path d="M3975 2713h8M4033 2710h8M4049 2668h8M3981 2746h8M4041 2733h8M4064 2698h8M4005 2719h8M4094 2696h8M4089 2701h8M4033 2744h8M4080 2753h8M4028 2735h8M3976 2698h8M4052 2700h8M4023 2753h8M3964 2699h8M4009 2711h8M4023 2703h8M4022 2747h8M4087 2733h8M4076 2734h8M3893 2704h8M3995 2709h8M4027 2726h8M4013 2672h8M4057 2713h8M3990 2694h8M4084 2717h8M3974 2720h8M4027 2740h8M3949 2644h8M4001 2736h8M3886 2739h8M4072 2698h8M4019 2730h8M3967 2698h8M4050 2837h8M3979 2662h8M3961 2671h8M3977 2701h8M3995 2726h8M3955 2720h8M4010 2762h8M4026 2740h8M4039 2774h8M3933 2718h8M4018 2739h8M3993 2791h8M4111 2667h8M4074 2741h8" stroke="#fa8932" stroke-width="8" fill="none"/>
<path d="M4262 3132h8M4271 3089h8M4268 3112h8M4289 3117h8M4257 3107h8M4279 3107h8M4288 3075h8M4266 3129h8M4251 3126h8M4266 3125h8M4264 3118h8M4262 3156h8M4291 3132h8M4277 3125h8M4246 3125h8M4245 3108h8M4258 3132h8M4253 3132h8M4320 3126h8M4280 3090h8M4285 3132h8M4244 3113h8M4245 3120h8M4254 3100h8M4280 3129h8M4267 3114h8M4289 3117h8M4275 3108h8M4251 3129h8M4254 3107h8M4306 3133h8M4259 3100h8M4263 3131h8M4254 3149h8M4234 3140h8M4274 3101h8M4276 3093h8M4283 3110h8M4259 3115h8M4288 3128h8M4289 3144h8M4296 3110h8M4274 3084h8M4276 3135h8M4288 3133h8M4281 3117h8M4254 3105h8M4247 3134h8M4284 3127h8M4284 3106h8M4260 3134h8M4277 3124h8M4267 3081h8M4255 3142h8M4227 3108h8M4258 3132h8M4269 3098h8M4288 3118h8M4279 3082h8M4280 3130h8M4288 3152h8M4270 3126h8M4280 3123h8M4261 3143h8M4258 3122h8M4307 3100h8M4260 3128h8M4288 3108h8M4284 3115h8M4245 3121h8M4261 3133h8M4281 3122h8M4246 3149h8M4261 3123h8M4271 3138h8M4292 3132h8M4271 3130h8M4276 3112h8M4274 3172h8M4264 3109h8M4272 3124h8M4264 3103h8M4250 3110h8M4278 3147h8M4263 3098h8M4267 3112h8M4243 3130h8M4227 3137h8M4255 3131h8M4285 3108h8M4267 3132h8M4278 3103h8M4251 3142h8M4298 3135h8M4265 3157h8M4285 3110h8M4305 3109h8M4271 3110h8M4241 3082h8M4280 3124h8M4318 3134h8M4280 3124h8M4266 3096h8M4249 3130h8M4299 3112h8M4278 3137h8M4257 3124h8M4263 3150h8M4270 3111h8M4259 3115h8M4233 3148h8M4279 3119h8M4269 3105h8M4243 3147h8M4259 3116h8M4265 3088h8M4233 3146h8M4271 3131h8M4260 3132h8M4275 3103h8M4268 3101h8M4278 3114h8M4270 3116h8M4306 3122h8M4260 3106h8M4273 3107h8M4285 3110h8M4289 3120h8M4255 3134h8M4246 3104h8" stroke="#d62a35" stroke-width="8" fill="none"/>
<path d="M4326 3273h8M4354 3293h8M4344 3305h8M4339 3283h8M4370 3297h8M4356 3289h8M4356 3292h8M4342 3283h8M4290 3312h8M4330 3295h8M4316 3294h8M4332 3303h8M4320 3297h8M4358 3283h8M4397 3266h8M4353 3297h8M4352 3296h8M4347 3285h8M4312 3297h8M4319 3295h8M4369 3258h8M4321 3288h8M4345 3273h8M4366 3278h8M4354 3303h8M4393 3285h8M4354 3284h8M4357 3283h8M4377 3269h8M4363 3280h8M4348 3275h8M4358 3277h8M4388 3277h8M4370 3259h8M4348 3295h8M4358 3275h8M4345 3291h8M4355 3282h8M4354 3272h8M4315 3300h8M4344 3276h8M4369 3266h8M4374 3287h8M4333 3293h8M4361 3286h8M4315 3303h8M4365 3305h8M4352 3288h8M4338 3286h8M4338 3272h8M4357 3289h8M4343 3290h8M4325 3295h8M4360 3272h8M4359 3282h8M4381 3271h8M4368 3289h8M4376 3297h8M4315 3299h8M4342 3275h8M4348 3292h8M4380 3275h8M4391 3294h8M4392 3278h8M4383 3280h8M4361 3291h8M4405 3262h8M4402 3275h8M4305 3300h8M4354 3290h8" stroke="#d62a35" stroke-width="8" fill="none"/>
<path d="M3406 2812h8M3415 2779h8M3421 2820h8M3379 2821h8M3360 2784h8M3393 2787h8M3416 2807h8M3407 2811h8M3384 2799h8M3411 2800h8M3402 2787h8M3410 2812h8M3408 2806h8M3382 2816h8M3383 2774h8M3384 2794h8M3393 2806h8M3393 2807h8M3413 2794h8M3386 2782h8M3391 2812h8M3390 2758h8M3410 2784h8M3392 2797h8M3379 2822h8M3383 2777h8M3389 2781h8M3389 2788h8M3402 2781h8M3412 2804h8M3392 2783h8M3361 2799h8M3383 2787h8M3393 2804h8M3410 2816h8M3374 2792h8M3398 2826h8M3382 2776h8M3407 2811h8M3373 2800h8M3368 2797h8M3381 2793h8M3382 2815h8M3398 2815h8M3397 2792h8M3395 2804h8M3386 2790h8M3411 2804h8M3398 2806h8M3430 2798h8M3403 2784h8M3412 2796h8M3409 2829h8M3402 2800h8M3365 2824h8M3394 2775h8M3424 2820h8M3381 2782h8M3387 2785h8M3411 2804h8" stroke="#d62a35" stroke-width="8" fill="none"/>
<path d="M4182 2271h8M4166 2278h8M4157 2258h8M4179 2272h8M4164 2266h8M4161 2270h8M4163 2264h8M4169 2252h8M4164 2271h8M4164 2256h8M4163 2263h8M4161 2255h8M4168 2274h8M4154 2267h8M4160 2253h8M4145 2267h8" stroke="#d62a35" stroke-width="8" fill="none"/>
<path d="M4009 2402h8M4037 2394h8M4021 2396h8M4043 2390h8M4024 2395h8M4024 2399h8M4037 2406h8M4042 2390h8M4018 2404h8M4004 2390h8M4042 2388h8M4021 2397h8M4028 2388h8M4036 2389h8" stroke="#d62a35" stroke-width="8" fill="none"/>
<path d="M4198 2919h8M4104 2877h8M4110 2903h8M4069 2878h8M4115 2871h8M4219 2877h8M4201 2893h8M4195 2909h8M4132 2869h8M4193 2949h8M4219 2900h8M4132 2869h8M4260 2880h8M4157 2840h8M4109 2911h8M4171 2907h8M4283 2845h8M4271 2929h8M4231 2893h8M4203 2811h8M4125 2881h8M4265 2903h8M4185 2872h8M4073 2840h8M4148 2800h8M4188 2859h8M4168 2892h8M4137 2855h8M4172 2896h8M4122 2861h8M4210 2817h8M4092 2870h8M4081 2796h8M4145 2864h8M4188 2877h8M4041 2781h8M4287 2888h8M4193 2872h8M4143 2846h8M4176 2840h8M4099 2878h8M4129 2853h8M4122 2853h8M4191 2920h8M4066 2853h8M4218 2927h8M4151 2877h8M4216 2856h8M4131 2882h8M4217 2850h8M4180 2866h8M4182 2834h8M4274 2963h8M4076 2804h8M4126 2853h8M4081 2883h8M4224 2918h8M4145 2840h8M4158 2880h8M4169 2871h8M4244 2895h8M4265 2886h8M4181 2894h8M4053 2849h8M4119 2904h8M4120 2852h8M4120 2854h8M4176 2856h8M4172 2922h8M4122 2862h8M4088 2829h8M4210 2859h8M4093 2859h8M4196 2845h8M4248 2831h8M4182 2825h8M4161 2865h8M4054 2860h8M4125 2906h8M4154 2889h8M4131 2846h8M4178 2836h8M4209 2845h8M4183 2810h8M4202 2890h8M4122 2840h8M4174 2917h8M4269 2959h8M4084 2873h8M4094 2846h8M4219 2857h8M4177 2905h8M4070 2845h8M4207 2884h8M4119 2899h8M4195 2854h8M4177 2868h8M4137 2870h8M4281 2920h8M4176 2837h8M4166 2827h8M4179 2874h8M4132 2871h8M4178 2848h8M4159 2895h8M4266 2847h8M4236 2865h8M4203 2889h8M4067 2845h8M4200 2866h8M4117 2901h8M4224 2885h8M4073 2860h8M4182 2863h8M4270 2849h8M4114 2850h8M4222 2915h8M4158 2900h8M4170 2907h8M4281 2940h8" stroke="#d62a35" stroke-width="8" fill="none"/>
<path d="M3910 2713h8M3929 2642h8M3904 2680h8M3964 2578h8M3983 2687h8M3976 2721h8M4007 2633h8M3997 2733h8M3936 2684h8M3989 2615h8M3996 2812h8M3898 2781h8M3935 2776h8M3992 2663h8M3928 2696h8M3965 2669h8M3924 2711h8M3946 2719h8M3891 2656h8M3945 2676h8M3902 2679h8M3931 2682h8M3968 2661h8M3938 2668h8M3954 2786h8M4040 2693h8M3991 2707h8M3887 2703h8M3968 2626h8M3962 2622h8M3920 2690h8M4010 2563h8M3930 2722h8M3904 2687h8M3941 2663h8M3987 2670h8M3976 2753h8M3940 2714h8M3870 2697h8M3953 2665h8M3947 2711h8M3956 2718h8M3959 2656h8M3951 2658h8M4009 2702h8M3982 2623h8M3982 2731h8M3928 2708h8M3900 2619h8M3873 2801h8M3942 2696h8M3872 2742h8M3968 2795h8M3957 2676h8M3924 2739h8M3896 2655h8M4009 2741h8M3855 2762h8M3968 2638h8M3988 2692h8M3903 2637h8M3985 2708h8M3965 2737h8M3935 2786h8M3953 2690h8M3881 2733h8M3996 2712h8M3948 2688h8M3923 2645h8M4031 2682h8M3920 2646h8M3960 2723h8M4029 2743h8M4014 2695h8M3863 2764h8M4024 2711h8M3923 2720h8M4006 2723h8M4001 2712h8M3989 2718h8M3945 2730h8M4000 2690h8M4035 2699h8M3913 2645h8M3987 2757h8M3979 2659h8M3842 2643h8M4003 2676h8M3910 2668h8M4003 2704h8M4015 2766h8M4083 2667h8M3953 2716h8M3932 2670h8M3935 2791h8M4024 2758h8M3913 2749h8M4013 2649h8M3880 2675h8M4020 2777h8M3900 2598h8M3827 2713h8M3915 2730h8M3989 2687h8M3909 2648h8M3914 2692h8M4003 2677h8M3939 2704h8M3958 2682h8M3964 2701h8" stroke="#8f6bbd" stroke-width="8" fill="none"/>
<path d="M3202 2752h8M3220 2755h8M3202 2746h8M3185 2779h8M3195 2776h8M3213 2778h8M3176 2769h8M3201 2782h8M3166 2794h8M3214 2770h8M3218 2737h8M3193 2758h8M3234 2755h8M3181 2780h8M3201 2742h8M3175 2793h8M3209 2749h8M3296 2737h8M3180 2767h8M3224 2748h8M3151 2760h8M3189 2764h8M3263 2744h8M3232 2747h8M3267 2736h8M3244 2741h8M3187 2755h8M3187 2746h8M3177 2770h8M3143 2770h8M3212 2755h8M3221 2743h8M3195 2760h8M3207 2746h8M3215 2751h8M3209 2759h8M3205 2763h8M3201 2777h8M3232 2767h8M3205 2768h8M3212 2772h8M3147 2760h8M3181 2763h8M3199 2772h8M3276 2756h8M3167 2764h8M3222 2748h8M3240 2749h8M3281 2750h8M3202 2774h8M3211 2750h8M3186 2779h8M3165 2760h8M3191 2753h8M3227 2751h8M3154 2767h8M3161 2768h8M3237 2795h8M3171 2767h8M3197 2764h8M3216 2774h8M3154 2752h8M3220 2759h8M3190 2770h8M3217 2760h8M3238 2735h8M3180 2779h8M3224 2753h8M3207 2749h8M3161 2775h8M3213 2759h8M3211 2748h8M3228 2749h8M3182 2759h8M3212 2768h8M3253 2748h8M3197 2756h8M3248 2730h8M3230 2745h8M3196 2762h8M3179 2777h8M3210 2775h8M3176 2768h8M3249 2752h8M3188 2755h8M3258 2761h8M3235 2746h8M3138 2753h8M3205 2743h8M3195 2779h8M3244 2752h8M3230 2759h8M3226 2775h8M3196 2752h8M3252 2744h8M3187 2742h8M3185 2766h8M3220 2772h8M3181 2759h8M3133 2747h8M3224 2740h8M3191 2777h8M3258 2769h8M3234 2741h8M3154 2782h8M3197 2746h8M3204 2762h8M3191 2778h8M3159 2767h8M3185 2747h8M3242 2771h8M3150 2780h8M3196 2761h8M3177 2767h8M3189 2751h8M3220 2753h8M3263 2780h8M3253 2746h8M3208 2733h8M3196 2750h8M3207 2781h8M3249 2746h8M3270 2758h8M3251 2766h8M3217 2763h8M3189 2767h8M3185 2783h8M3207 2768h8M3196 2765h8M3204 2769h8" stroke="#1976bf" stroke-width="8" fill="none"/>
<path d="M3168 2810h8M3119 2828h8M3133 2823h8M3150 2835h8M3130 2813h8M3126 2825h8M3133 2803h8M3095 2848h8M3172 2811h8M3109 2837h8M3150 2836h8M3071 2853h8M3162 2805h8M3118 2819h8M3086 2843h8M3145 2842h8M3112 2847h8M3124 2826h8M3069 2842h8M3131 2827h8M3112 2830h8M3129 2829h8M3105 2844h8M3107 2825h8M3110 2820h8M3080 2827h8M3057 2864h8M3116 2838h8M3091 2848h8M3178 2803h8M3133 2819h8M3150 2827h8M3118 2827h8M3166 2830h8M3133 2813h8M3147 2822h8M3060 2823h8M3116 2832h8M3053 2854h8M3122 2803h8M3133 2824h8M3138 2825h8M3155 2845h8M3069 2853h8M3035 2828h8M3150 2830h8M3165 2831h8M3149 2814h8M3143 2835h8M3130 2829h8M3071 2832h8M3124 2814h8M3067 2828h8M3132 2803h8M3102 2822h8M3090 2833h8M3097 2843h8M3098 2820h8M3097 2823h8M3095 2808h8M3103 2852h8M3129 2819h8M3084 2829h8M3071 2848h8M3067 2869h8M3110 2835h8M3124 2834h8M3093 2829h8M3102 2839h8M3088 2818h8M3095 2835h8M3155 2818h8M3124 2838h8M3100 2829h8M3009 2837h8M3094 2842h8M3164 2809h8M3090 2823h8M3138 2822h8M3090 2832h8M3064 2830h8M3136 2810h8M3033 2853h8M3084 2823h8M3079 2833h8M3111 2807h8M3054 2849h8M3081 2830h8M3135 2810h8M3110 2827h8M3142 2810h8M3108 2837h8M3156 2812h8M3141 2825h8M3068 2839h8M3146 2842h8M3140 2828h8M3096 2843h8M3130 2836h8M3164 2815h8M3137 2820h8M3105 2827h8M3120 2822h8M3077 2834h8M3080 2819h8M3108 2822h8M3096 2867h8M3125 2824h8M3124 2821h8M3108 2830h8M3137 2855h8M3144 2810h8M3116 2822h8M3120 2827h8M3068 2842h8M3064 2836h8M3174 2827h8M3135 2844h8M3113 2821h8M3089 2821h8M3132 2843h8M3103 2834h8M3032 2837h8M3135 2828h8M3117 2828h8M3091 2834h8M3120 2788h8M3118 2829h8M3090 2823h8M3163 2835h8" stroke="#1976bf" stroke-width="8" fill="none"/>
<path d="M3168 2805h8M3128 2805h8M3134 2825h8M3211 2778h8M3130 2809h8M3191 2791h8M3138 2811h8M3185 2786h8M3185 2795h8M3166 2806h8M3212 2774h8M3167 2800h8M3211 2800h8M3144 2818h8M3127 2802h8M3135 2806h8M3104 2802h8M3179 2789h8M3199 2779h8M3179 2787h8M3152 2806h8M3204 2784h8M3170 2809h8M3167 2812h8M3089 2822h8M3156 2802h8M3127 2817h8M3196 2780h8M3213 2789h8M3215 2797h8M3165 2802h8M3192 2774h8M3187 2796h8M3150 2786h8M3176 2780h8M3230 2771h8M3222 2766h8M3181 2779h8M3193 2781h8M3142 2803h8M3118 2815h8M3163 2780h8M3213 2781h8M3108 2815h8M3194 2786h8M3168 2774h8M3200 2774h8M3128 2804h8M3165 2811h8M3128 2804h8M3188 2788h8M3150 2792h8M3204 2787h8M3174 2783h8M3180 2783h8M3222 2747h8M3128 2810h8M3131 2806h8M3137 2813h8M3155 2795h8M3127 2794h8M3163 2802h8M3154 2814h8M3214 2784h8M3146 2793h8M3205 2778h8M3176 2804h8M3149 2783h8M3148 2801h8M3125 2806h8M3166 2784h8M3122 2807h8M3176 2778h8M3039 2829h8M3198 2778h8M3175 2780h8M3215 2775h8M3154 2809h8M3245 2770h8M3184 2782h8M3238 2773h8M3153 2800h8M3172 2818h8M3116 2807h8M3145 2803h8M3130 2805h8M3154 2810h8M3173 2789h8M3161 2795h8M3193 2764h8M3195 2786h8M3207 2795h8M3162 2796h8M3268 2750h8M3177 2815h8M3154 2796h8M3152 2786h8M3159 2770h8M3155 2790h8M3204 2761h8M3227 2781h8M3214 2769h8M3148 2814h8M3165 2808h8M3179 2805h8M3171 2769h8M3168 2780h8M3143 2804h8M3192 2779h8M3222 2778h8" stroke="#d62a35" stroke-width="8" fill="none"/>
<path d="M3265 2799h8M3251 2778h8M3244 2786h8M3247 2777h8M3253 2785h8M3248 2781h8M3243 2771h8M3252 2785h8M3250 2785h8M3243 2796h8M3259 2812h8M3246 2787h8M3242 2808h8M3258 2789h8M3242 2786h8M3256 2794h8M3257 2786h8M3254 2810h8M3264 2784h8M3241 2783h8M3238 2777h8M3256 2793h8M3244 2795h8M3248 2795h8M3247 2785h8M3242 2786h8" stroke="#8f6bbd" stroke-width="8" fill="none"/>
<path d="M4195 2643h8M3982 2638h8M4596 2662h8M3825 2574h8M4062 2810h8M3976 2522h8M4202 2584h8M3914 2683h8M4559 2685h8M4224 2583h8M3996 2614h8M4097 2578h8M4153 2612h8M4409 2707h8M4138 2648h8M4259 2687h8M4447 2784h8M4397 2648h8M4502 2649h8M4175 2705h8M4585 2882h8M4256 2558h8M4305 2714h8M4583 2638h8M4569 2570h8M4202 2744h8M4266 2776h8M4220 2756h8M3741 2617h8M3690 2655h8M4193 2740h8M3691 2681h8M4145 2704h8M4459 2668h8M4165 2714h8M4314 2497h8M4479 2857h8M4353 2394h8M4320 2733h8M4306 2499h8M4523 3252h8M4510 3266h8M4532 3275h8M4521 3270h8M4534 3275h8M4525 3255h8M4518 3274h8M4529 3263h8" stroke="#4db24f" stroke-width="8" fill="none"/>
<path d="M4182 2889h8M4156 2851h8M4179 2883h8M4104 2823h8M4101 2826h8M4207 2899h8M4109 2833h8M4159 2872h8M4169 2873h8M4173 2887h8M4237 2909h8M4131 2858h8M4177 2880h8M4200 2899h8M4271 2930h8M4202 2899h8M4251 2915h8M4197 2899h8M4217 2901h8M4201 2900h8M4145 2868h8M3914 2799h8M3995 2803h8M3798 2793h8M3934 2793h8M3865 2795h8M3773 2793h8M3733 2794h8M3984 2803h8M3732 2791h8M3812 2789h8M3911 2798h8" stroke="#d62a35" stroke-width="8" fill="none"/>
<path d="M4526 2461h8M4153 2491h8M4688 2505h8M4607 2893h8M4737 2550h8M4321 2906h8M4765 2662h8M4465 2460h8M4281 2940h8M4762 2594h8M4769 2630h8M4413 2471h8M4770 2629h8M4418 2466h8M4124 2530h8M4546 2466h8M4757 2687h8M4384 2909h8M4654 2877h8M4658 2859h8M4333 2459h8M4331 2461h8M4283 2937h8M4316 2478h8M4693 2511h8M4678 2499h8M4701 2532h8M4723 2531h8M4225 2468h8M4719 2814h8M4646 2876h8M4582 2484h8M4716 2804h8M4213 2497h8M4539 2459h8M4740 2616h8M4541 2466h8M4725 2559h8M4631 2883h8M4401 2918h8M4114 2823h8M4529 2920h8M4411 2924h8M4186 2475h8M4766 2601h8M4754 2687h8M4389 2462h8M4704 2521h8M4086 2811h8M4072 2793h8M4749 2768h8M4707 2524h8M4432 2471h8M4459 2930h8M4519 2456h8M4566 2917h8M4375 2940h8M4357 2452h8M4679 2503h8M4759 2688h8M4694 2828h8M4356 2899h8M4320 2943h8M4283 2936h8M4650 2872h8M4561 2474h8M4529 2463h8M4762 2745h8M4299 2938h8M4170 2502h8M4359 2926h8M4498 2474h8M4374 2937h8M4552 2472h8M4680 2513h8M4383 2924h8M4652 2492h8M4462 2462h8M4447 2922h8M4722 2550h8M4509 2913h8M4129 2498h8M4407 2927h8M4733 2757h8M4717 2517h8M4091 2512h8M4345 2460h8M4727 2792h8M4108 2500h8M4262 2461h8M4257 2460h8M4385 2458h8M4459 2927h8M4649 2880h8M4582 2474h8M4146 2522h8M4573 2474h8M4764 2643h8M4693 2501h8M4752 2761h8M4635 2872h8M4508 2891h8M4358 2939h8M4211 2462h8M4084 2806h8M4757 2696h8M4574 2481h8M4469 2911h8M4483 2927h8M4081 2806h8M4136 2508h8M4408 2467h8M4741 2763h8M4604 2875h8M4765 2668h8M4084 2806h8M4758 2726h8M4510 2924h8M4439 2459h8M4326 2939h8M4394 2472h8M4672 2866h8M4607 2477h8M4530 2917h8M4079 2515h8M4760 2710h8M4070 2794h8M4770 2623h8M4410 2925h8M4472 2457h8M4703 2528h8M4771 2608h8M4518 2461h8M4343 2457h8M4461 2928h8M4583 2457h8M4759 2631h8M4310 2457h8M4635 2889h8M4729 2607h8M4720 2529h8M4399 2921h8M4756 2597h8M4459 2933h8M4080 2798h8M4137 2514h8M4444 2460h8M4754 2620h8M4754 2641h8M4706 2522h8M4193 2471h8M4758 2715h8M4730 2782h8M4697 2512h8M4262 2458h8M4182 2491h8M4077 2549h8M4322 2455h8M4571 2907h8M4728 2778h8M4696 2825h8M4597 2459h8M4438 2926h8M4574 2509h8M4643 2877h8M4748 2579h8M4683 2858h8M4607 2467h8M4635 2876h8M4394 2471h8M4402 2935h8M4766 2624h8M4240 2461h8M4698 2830h8M4386 2940h8M4711 2818h8M4613 2900h8M4135 2497h8M4569 2459h8M4377 2455h8M4768 2617h8M4756 2729h8M4117 2520h8M4642 2883h8M4446 2928h8M4454 2470h8M4480 2917h8M4665 2489h8M4754 2659h8M4683 2516h8M4471 2891h8M4734 2682h8M4136 2491h8M4524 2457h8M4741 2779h8M4178 2486h8M4070 2795h8M4084 2515h8M4670 2496h8M4735 2788h8M4489 2918h8M4577 2468h8M4251 2465h8M4642 2518h8M4540 2460h8M4556 2462h8M4735 2562h8M4101 2504h8M4628 2491h8M4387 2925h8M4429 2932h8M4079 2801h8M4659 2506h8M4372 2939h8M4569 2456h8M4527 2472h8M4129 2509h8M4083 2519h8M4397 2925h8M4601 2909h8M4643 2880h8M4397 2924h8M4279 2460h8M4432 2468h8M4581 2914h8M4498 2457h8M4480 2474h8M4081 2533h8M4368 2455h8M4708 2807h8M4734 2769h8M4502 2496h8M4280 2930h8M4767 2684h8M4509 2913h8M4430 2460h8M4466 2458h8M4077 2535h8M4642 2480h8M4755 2761h8M4412 2464h8M4550 2472h8M4764 2710h8M4525 2481h8M4551 2459h8M4724 2770h8M4656 2517h8M4363 2463h8M4208 2466h8M4289 2460h8M4595 2889h8M4303 2480h8M4372 2470h8M4596 2910h8M4494 2470h8M4445 2931h8M4648 2839h8M4226 2462h8M4277 2478h8M4160 2500h8M4125 2497h8M4486 2910h8M4526 2886h8M4347 2915h8M4510 2923h8M4169 2486h8M4339 2934h8M4754 2731h8M4144 2550h8M4075 2538h8M4425 2471h8M4596 2477h8M4572 2476h8M4489 2925h8M4326 2456h8M4260 2470h8M4756 2645h8M4457 2932h8M4450 2487h8M4099 2523h8M4313 2941h8M4728 2797h8M4747 2771h8M4067 2783h8M4217 2469h8M4642 2645h8M4388 2934h8M4533 2522h8M4306 2535h8M4528 2856h8M4383 2939h8M4218 2510h8M4750 2608h8M4556 2581h8M4595 2493h8M4562 2885h8M4562 2460h8M4674 2667h8M4431 2572h8M4508 2889h8M4464 2480h8M4406 2477h8M4301 2488h8M4683 2693h8M4400 2915h8M4484 2553h8M4493 2457h8M4653 2619h8M4487 2875h8M4351 2496h8M4514 2464h8M4563 2851h8M4719 2681h8M4224 2480h8M4408 2566h8M4747 2625h8M4381 2925h8M4439 2497h8M4676 2797h8M4320 2557h8M4657 2790h8M4375 2881h8M4231 2538h8M4595 2838h8M4694 2752h8M4620 2539h8M4623 2815h8M4365 2924h8M4648 2724h8M4070 2789h8M4713 2639h8M4310 2556h8M4345 2928h8M4728 2634h8M4362 2567h8M4323 2520h8M4505 2485h8M4277 2494h8M4681 2703h8M4649 2663h8M4730 2650h8M4616 2517h8M4552 2919h8M4136 2546h8M4616 2864h8M4534 2540h8M4597 2617h8M4272 2893h8M4310 2911h8M4664 2756h8M4695 2514h8M4527 2605h8M4630 2516h8M4316 2879h8M4656 2594h8M4384 2551h8M4541 2890h8M4641 2664h8M4267 2477h8M4610 2866h8M4342 2889h8M4686 2728h8M4700 2765h8M4464 2524h8M4664 2589h8M4723 2659h8M4697 2643h8M3869 2781h8M3761 2645h8M3671 2657h8M3725 2683h8M3632 2737h8M3934 2786h8M3645 2723h8M3699 2649h8M3773 2628h8M3852 2613h8M3879 2608h8M3635 2699h8M3871 2611h8M3739 2640h8M3670 2657h8M3637 2712h8M3929 2787h8M3804 2618h8M3798 2635h8M3929 2601h8M3872 2623h8M3868 2780h8M3900 2600h8M3677 2760h8M3684 2654h8M3863 2618h8M3746 2764h8M3651 2697h8M3915 2595h8M3980 2795h8M3752 2783h8M3673 2666h8M3989 2799h8M3838 2766h8M3976 2775h8M3625 2686h8M4018 2770h8M4011 2786h8M3699 2782h8M3859 2783h8M4011 2787h8M3708 2638h8M3690 2693h8M3799 2618h8M3660 2760h8M3829 2606h8M4023 2773h8M3931 2621h8M3728 2640h8M3681 2778h8M3664 2768h8M3645 2751h8M3700 2786h8M4020 2777h8M3667 2670h8M3721 2643h8M3858 2782h8M3629 2737h8M3977 2785h8M3835 2606h8M3657 2767h8M3669 2761h8M3751 2632h8M3826 2612h8M3646 2680h8M3732 2637h8M3735 2778h8M3981 2796h8M3727 2637h8M3956 2781h8M3804 2625h8M3920 2606h8M3784 2783h8M3767 2627h8M3646 2673h8M3701 2762h8M3834 2609h8M3787 2619h8M3645 2673h8M3646 2684h8M3755 2623h8M3896 2755h8M3682 2658h8M3652 2676h8M3903 2600h8M3655 2763h8M3817 2782h8M3643 2676h8M3989 2774h8M3632 2708h8M3701 2639h8M3719 2761h8M3768 2620h8M3668 2669h8M3857 2600h8M3733 2629h8M3683 2714h8M3886 2600h8M3766 2623h8M3635 2676h8M3930 2610h8M4007 2766h8M3944 2615h8M4003 2788h8M3636 2742h8M3760 2785h8M3636 2745h8M3704 2783h8M4021 2775h8M3816 2706h8M3701 2774h8M3911 2600h8M3931 2743h8M3714 2666h8M3729 2745h8M3996 2768h8M3978 2773h8M4008 2766h8M4000 2746h8M3856 2780h8M3768 2622h8M3662 2736h8M3980 2760h8M3646 2684h8M3824 2728h8M3790 2636h8M3652 2704h8M3729 2691h8M3956 2784h8M3976 2792h8M3758 2765h8M3712 2784h8M3920 2763h8M3867 2775h8M3885 2656h8M3860 2759h8M3831 2713h8M3763 2637h8M3844 2667h8M3811 2738h8M3733 2645h8M3918 2713h8M3642 2699h8M3629 2694h8M3921 2730h8M3693 2658h8M3845 2637h8M4013 2774h8M3862 2718h8M3653 2705h8M3761 2721h8M3737 2762h8M3995 2746h8M3856 2649h8M3809 2672h8M3868 2599h8M3683 2672h8M3959 2751h8M3800 2708h8M3656 2740h8M3982 2760h8M3726 2746h8M3820 2713h8M3920 2719h8M3940 2730h8M3783 2643h8M3770 2647h8M3766 2649h8M3829 2658h8M3781 2750h8M3935 2779h8M3869 2786h8M3889 2663h8M3873 2696h8M3862 2743h8M3876 2604h8M3891 2728h8M3926 2787h8M3938 2741h8M3742 2739h8M3827 2721h8M3806 2748h8M3652 2665h8M3924 2765h8M3641 2685h8M3791 2738h8M3765 2782h8M3791 2757h8M3673 2661h8M3787 2707h8M3823 2639h8M3743 2770h8M3657 2756h8M3838 2774h8M3788 2700h8M3653 2687h8M3767 2620h8M3855 2633h8M3859 2704h8M3693 2693h8M3939 2761h8M3668 2662h8M3784 2782h8M3917 2697h8M3761 2735h8M3833 2655h8M3708 2640h8M3908 2776h8M3957 2756h8M3730 2785h8M3712 2762h8M3827 2772h8M3864 2761h8M3873 2711h8M3757 2728h8M3664 2722h8M3713 2695h8M3695 2781h8M3916 2625h8M3739 2785h8M3677 2675h8M3932 2773h8M3749 2689h8M3794 2710h8M3820 2750h8M3800 2694h8M3711 2711h8M3710 2703h8M3844 2602h8M3733 2652h8M3777 2733h8M3745 2775h8M3904 2718h8M3743 2696h8M3978 2748h8M3822 2730h8M3823 2605h8M3661 2725h8M3661 2740h8M3864 2822h8M3580 2885h8M3977 2868h8M4045 2833h8M3553 2889h8M3887 2959h8M3718 2910h8M3709 2800h8M3717 2925h8M4037 3006h8M4024 2806h8M4202 2983h8M4086 3001h8M3620 2902h8M3886 2960h8M3664 2897h8M3553 2865h8M3707 2927h8M3851 2821h8M3984 3001h8M3542 2805h8M3574 2832h8M3772 2931h8M3888 2821h8M3659 2896h8M3848 2968h8M3739 2938h8M3848 2816h8M3520 2858h8M3693 2912h8M4068 2836h8M3758 2813h8M3720 2934h8M3839 2966h8M3517 2827h8M4067 3008h8M3663 2897h8M4077 2990h8M3969 2986h8M4218 2941h8M3954 2819h8M4055 2864h8M3578 2890h8M4008 2819h8M3624 2907h8M4034 2975h8M3500 2844h8M3977 2996h8M4080 2819h8M3842 2949h8M3884 2977h8M3892 2930h8M3660 2890h8M3839 2938h8M4118 3006h8M3995 3001h8M4054 3008h8M4063 2836h8M4085 2818h8M3564 2880h8M3562 2884h8M3866 2974h8M3511 2846h8M4029 2824h8M3500 2866h8M4263 2947h8M3673 2905h8M3598 2802h8M3906 2840h8M4191 2926h8M4041 2989h8M3513 2876h8M3827 2951h8M3644 2795h8M4003 2820h8M3605 2897h8M3652 2917h8M3908 2949h8M3857 2946h8M4036 2997h8M3578 2807h8M3917 2980h8M3723 2924h8M4115 2992h8M4137 2978h8M3699 2799h8M3594 2809h8M3961 2977h8M4054 2831h8M3496 2834h8M3879 2977h8M4041 2984h8M4087 2992h8M3995 2993h8M3990 2997h8M3485 2840h8M4057 3002h8M3611 2903h8M3776 2943h8M3512 2841h8M4148 2944h8M3915 2982h8M3908 2984h8M3866 2821h8M3743 2935h8M3622 2815h8M3854 2956h8M4007 2981h8M3561 2802h8M4216 2977h8M3704 2929h8M3816 2958h8M3574 2895h8M4126 2993h8M3923 2972h8M4041 3007h8M3771 2947h8M3865 2812h8M4255 2965h8M3651 2916h8M4023 2999h8M3873 2963h8M3949 2964h8M4033 2832h8M3669 2802h8M3822 2962h8M3869 2807h8M4076 3009h8M3515 2865h8M3951 2993h8M3943 2976h8M3951 2837h8M3660 2918h8M3944 2811h8M4021 2806h8M3618 2813h8M3957 2949h8M4034 2996h8M3703 2831h8M3759 2937h8M3575 2880h8M3640 2799h8M4098 3003h8M3959 2982h8M4108 3010h8M3910 2950h8M3522 2877h8M3688 2798h8M4051 3003h8M3908 2981h8M3947 2810h8M3702 2924h8M3767 2941h8M3802 2956h8M3751 2928h8M4028 3005h8M3988 2870h8M4069 2815h8M3686 2878h8M3809 2958h8M3797 2956h8M3915 2825h8M4043 2810h8M3911 2979h8M4248 2961h8M3596 2883h8M4041 2839h8M3663 2919h8M3863 2801h8M4082 2819h8M3599 2899h8M3846 2962h8M3987 2981h8M3968 2999h8M4143 2996h8M3765 2901h8M3855 2810h8M3491 2853h8M3886 2952h8M4046 2814h8M4061 2995h8M4084 2835h8M3828 2803h8M4263 2938h8M4000 2828h8M3733 2939h8M3548 2855h8M3633 2799h8M3626 2810h8M3605 2801h8M4259 2947h8M3594 2803h8M4239 2967h8M3669 2794h8M3495 2857h8M3698 2916h8M4157 2990h8M3828 2931h8M4219 2977h8M3724 2935h8M3740 2798h8M3528 2813h8M4099 2831h8M3900 2980h8M3716 2913h8M3766 2910h8M4185 2981h8M3973 2996h8M3626 2910h8M3580 2807h8M3718 2817h8M3646 2898h8M4050 3000h8M3799 2806h8M3750 2798h8M4042 3006h8M3553 2805h8M3664 2915h8M4262 2946h8M3555 2883h8M3890 2807h8M3711 2930h8M4128 3000h8M3597 2802h8M3651 2846h8M4159 2983h8M3600 2800h8M4212 2968h8M3576 2890h8M3747 2895h8M3985 2992h8M4021 2807h8M3796 2922h8M3550 2886h8M3819 2799h8M4166 2956h8M4106 2864h8M3935 2981h8M3977 2819h8M3918 2960h8M3593 2890h8M3930 2983h8M3489 2841h8M3915 2985h8M3903 2803h8M3572 2813h8M3619 2805h8M3492 2845h8M4025 2820h8M3491 2841h8M3658 2868h8M4179 2918h8M3649 2903h8M4256 2953h8M3820 2878h8M3990 2856h8M3715 2917h8M3896 2954h8M3915 2855h8M3651 2806h8M3801 2797h8M4108 2880h8M3909 2863h8M3671 2913h8M3997 2957h8M4037 2844h8M3965 2869h8M4097 2870h8M3876 2836h8M3879 2801h8M4225 2969h8M3939 2956h8M3986 2865h8M3616 2882h8M3985 2947h8M3567 2817h8M3778 2819h8M3893 2882h8M3831 2905h8M3643 2889h8M3853 2918h8M3778 2807h8M3841 2897h8M3822 2947h8M3747 2909h8M4036 2940h8M3524 2836h8M3693 2902h8M4045 2981h8M3852 2968h8M4221 2962h8M3958 2975h8M3731 2831h8M3603 2885h8M3741 2917h8M4134 3000h8M4180 2938h8M4045 2991h8M3825 2934h8M3690 2909h8M3995 2969h8M3733 2840h8M4107 2958h8M4069 2998h8M3899 2858h8M3719 2897h8M4107 2982h8M3648 2795h8M4002 2840h8M3829 2951h8M3561 2825h8M3859 2871h8M4016 2992h8M3956 2874h8M3803 2822h8M4112 2905h8M4067 2955h8M3835 2931h8M3915 2977h8M3842 2856h8M3536 2808h8M3906 2906h8M3534 2828h8M3671 2856h8M4040 2976h8M4080 2957h8M3783 2814h8M3734 2808h8M3851 2964h8M3849 2894h8M3824 2869h8M3967 2859h8M3629 2819h8M3863 2945h8M4132 2960h8M4030 2859h8M3848 2843h8M3706 2891h8M4070 2967h8M3977 2831h8M3759 2853h8M3528 2868h8M3575 2835h8M4235 2925h8M3897 2943h8M3753 2910h8M3920 2860h8M3699 2916h8M4169 2990h8M4025 2891h8M3623 2890h8M3956 2993h8M3947 2886h8M4034 2827h8M3932 2915h8M3981 2818h8M3823 2877h8M3954 2899h8M3923 2823h8M3647 2858h8M3783 2804h8M4261 2950h8M3981 2822h8M3592 2877h8M3527 2851h8M4190 2944h8M3961 2907h8M4188 2963h8M3907 2979h8M4259 2956h8M3908 2880h8M3612 2834h8M3999 2991h8M3911 2818h8M3894 2815h8M3902 2973h8M4047 2939h8M3958 2949h8M3507 2871h8M3687 2884h8M4100 2912h8M4255 2941h8M3519 2825h8M4039 2989h8M3749 2873h8M3534 2854h8M4091 2824h8M4132 2932h8M3902 2897h8M3587 2827h8M3927 2852h8M4150 2978h8M4036 2827h8M4187 2951h8M3660 2808h8M3922 2851h8M3536 2882h8M4092 2949h8M3546 2864h8M3562 2821h8M3693 2828h8M3773 2801h8M3684 2925h8M3804 2958h8M4068 2871h8M3987 2947h8M3780 2888h8M3894 2833h8M3753 2838h8M3941 2921h8M4043 2962h8M3828 2850h8M4148 2943h8M3797 2872h8M4017 2999h8M3837 2861h8M3801 2822h8M3835 2844h8M3556 2812h8M4093 3005h8M3773 2911h8M3639 2841h8M3678 2882h8M3884 2928h8M3852 2907h8M4168 2901h8M3994 2986h8M4106 2839h8M3672 2892h8M3994 2975h8M3631 2862h8M4131 2899h8M3567 2808h8M3742 2874h8M3695 2851h8M3594 2835h8M3815 2824h8M3866 2955h8M3502 2863h8M3678 2885h8M3909 2924h8M3648 2835h8M3774 2797h8M3749 2809h8M3840 2881h8M4098 2973h8M3790 2884h8M3782 2920h8M3780 2838h8M3926 2947h8M3980 2825h8M3582 2830h8M4036 2931h8M3964 2842h8M4064 2885h8M3830 2843h8M4045 2992h8M3899 2970h8M4073 2965h8M3592 2836h8M4197 2951h8M4064 2940h8M4107 2954h8M4002 3000h8M3501 2871h8M4037 2824h8M3927 2817h8M4246 2953h8M4047 2922h8M3962 2947h8M4003 2882h8M3560 2854h8M4114 2956h8M3837 2845h8M4182 2921h8M3574 2854h8M4162 2977h8M3684 2861h8M3784 2949h8M4082 2918h8M3550 2882h8M3910 2802h8M3899 2978h8M3493 2852h8M3697 2896h8M3746 2881h8M4210 2931h8M3527 2817h8M3924 2882h8M4176 2981h8M3765 2805h8M4102 2963h8M3878 2902h8M3657 2833h8M4101 2869h8M3607 2822h8M3881 2949h8M4054 2865h8M3713 2868h8M3875 2843h8M3783 2863h8M3677 2801h8M3891 2886h8M3692 2923h8M4121 2978h8M3781 2868h8M4147 2906h8M4101 2944h8M3922 2946h8M4073 3003h8M3936 2919h8M3603 2894h8M3613 2883h8M3691 2845h8M4235 2961h8M3765 2821h8M4021 2968h8M3859 2929h8M3813 2812h8M4027 2933h8M3630 2830h8M4154 2911h8M3956 2869h8M4031 2834h8M3688 2880h8M3569 2803h8M4048 2985h8M4076 2885h8M3889 2978h8M3657 2835h8M3986 2978h8M3950 2878h8M3914 2812h8M4074 2943h8M3787 2801h8M3693 2900h8M3544 2862h8M4165 2902h8M3886 2822h8M3857 2970h8M3846 2887h8M3788 2924h8M4115 2979h8M4054 2853h8M3683 2815h8M3784 2906h8M3744 2884h8M3694 2860h8M4088 2970h8M3782 2913h8M3861 2911h8M4103 2840h8M4112 2896h8M3574 2860h8M4150 2917h8M4045 2965h8M4104 2993h8M3984 2880h8M3992 2911h8M3901 2965h8M3979 2866h8M3998 2946h8M3512 2848h8M4149 2955h8M3788 2913h8M3974 2907h8M3899 2831h8M3852 2942h8M3786 2815h8M3864 2831h8M3939 2896h8M4040 2815h8M4057 2993h8M3713 2827h8M4039 2925h8M4076 2948h8M3930 2985h8M4176 2991h8M3724 2865h8M3906 2841h8M4070 2822h8M4050 2890h8M3721 2906h8M4012 2952h8M3993 2981h8M3613 2825h8M4028 2868h8M4078 2954h8M3568 2864h8M3996 2847h8M3874 2944h8M3936 2860h8M4122 2854h8M3708 2904h8M3710 2889h8M4041 3000h8M3969 2931h8M4108 2870h8M3988 2983h8M4063 2849h8M3878 2850h8M3978 2899h8M4103 2961h8M3889 2854h8M3504 2829h8M3894 2936h8M4243 2940h8M3767 2889h8M4076 2952h8M3668 2895h8M3691 2909h8M3840 2883h8M3799 2933h8M4091 2964h8M3882 2936h8M4155 2890h8M4134 2982h8M3673 2842h8M3557 2829h8M3507 2844h8M3732 2798h8M4235 2955h8M3681 2818h8M4184 2910h8M3755 2809h8M3931 2815h8M4122 3007h8M3902 2904h8M3529 2866h8M3757 2798h8M4045 2829h8M3649 2884h8M3974 2936h8M4219 2932h8M4167 2938h8M3722 2843h8M3601 2848h8M3640 2840h8M4003 2875h8M3865 2956h8M4030 2833h8M3839 2893h8M4045 2910h8M3872 2802h8M3914 2801h8M3757 2847h8M4038 2871h8M3956 2867h8M3932 2893h8M4211 2955h8M4116 2974h8M3976 2828h8M3809 2919h8M3772 2896h8M3940 2990h8M3924 2806h8M3598 2886h8M4045 2944h8M3780 2798h8M3961 2839h8M3642 2886h8M4089 2824h8M4038 2895h8M3874 2970h8M4212 2962h8M4034 2912h8M4090 2918h8M3897 2907h8M4051 2862h8M3617 2840h8M3755 2917h8M3931 2907h8M3793 2839h8M3810 2831h8M3572 2885h8M4160 2935h8M3829 2799h8M4219 2956h8M3901 2886h8M3915 2884h8M4032 2849h8M3650 2808h8M3751 2885h8M3947 2850h8M4048 2901h8M3693 2896h8M4036 2812h8M3713 2837h8M4026 2918h8M4084 2830h8M3981 2941h8M3899 2913h8M4254 2949h8M4010 2931h8M3682 2803h8M3690 2843h8M3852 2863h8M3845 2839h8M4135 2909h8M3807 2862h8M4008 2945h8M4147 2922h8M4027 2941h8M3722 2867h8M4104 3009h8M3801 2919h8M4015 2864h8M3551 2858h8M3896 2898h8M4045 2922h8M3850 2888h8M3833 2927h8M3782 2852h8M3922 2813h8M3925 2821h8M3869 2901h8M3583 2820h8M4020 2843h8M4068 2836h8M4241 2955h8M3739 2823h8M3754 2894h8M3854 2845h8M4242 2290h8M4217 2284h8M4120 2221h8M4234 2287h8M4111 2225h8M4087 2248h8M4111 2227h8M4284 2270h8M4309 2261h8M4173 2287h8M4276 2279h8M4174 2284h8M4267 2234h8M4267 2288h8M4182 2234h8M4197 2218h8M4144 2280h8M4237 2223h8M4303 2264h8M4113 2267h8M4086 2242h8M4170 2218h8M4150 2222h8M4138 2280h8M4085 2243h8M4246 2228h8M4312 2260h8M4092 2264h8M4105 2229h8M4155 2222h8M4091 2242h8M4087 2255h8M4135 2220h8M4177 2285h8M4089 2234h8M4207 2219h8M4212 2287h8M4093 2231h8M4111 2225h8M4226 2286h8M4158 2223h8M4304 2263h8M4244 2224h8M4175 2222h8M4296 2272h8M4097 2253h8M4255 2289h8M4254 2228h8M4289 2276h8M4307 2252h8M4178 2282h8M4311 2265h8M4298 2253h8M4228 2291h8M4222 2291h8M4093 2262h8M4181 2222h8M4168 2218h8M4220 2226h8M4224 2287h8M4177 2217h8M4296 2249h8M4134 2234h8M4156 2226h8M4212 2232h8M4308 2268h8M4190 2235h8M4158 2223h8M4262 2278h8M4194 2238h8M4198 2225h8M4137 2221h8M4163 2285h8M4251 2245h8M4224 2269h8M4211 2288h8M4157 2266h8M4185 2226h8M4264 2277h8M4235 2234h8M4283 2269h8M4303 2264h8M4050 2328h8M3969 2395h8M3995 2404h8M4006 2323h8M4114 2362h8M3993 2403h8M3968 2395h8M3936 2342h8M4045 2329h8M3939 2382h8M4062 2332h8M3939 2382h8M4112 2356h8M4031 2399h8M3951 2380h8M3990 2401h8M3956 2385h8M4075 2402h8M4029 2406h8M3994 2324h8M4110 2382h8M3983 2324h8M4006 2321h8M3969 2395h8M4080 2401h8M4034 2333h8M4102 2361h8M4061 2399h8M4070 2402h8M4071 2332h8M4075 2398h8M3974 2325h8M4097 2352h8M4038 2404h8M4067 2334h8M4032 2407h8M4106 2384h8M4113 2380h8M4087 2395h8M4011 2322h8M4025 2327h8M3931 2369h8M4045 2406h8M3953 2373h8M4109 2351h8M4110 2384h8M4016 2403h8M4057 2328h8M4110 2382h8M3929 2345h8M4077 2335h8M4093 2347h8M3927 2348h8M4109 2359h8M3952 2341h8M3959 2330h8M4061 2329h8M4073 2383h8M4024 2329h8M4071 2337h8M4033 2365h8M3972 2339h8M3959 2362h8M4070 2364h8M4041 2362h8M4039 2383h8M4067 2347h8M4013 2334h8M3973 2388h8M3990 2328h8M3952 2380h8M4038 2406h8M3972 2338h8M4648 3035h8M4651 2985h8M4662 3034h8M4679 3017h8M4559 3055h8M4566 3049h8M4675 2993h8M4630 3053h8M4542 2991h8M4554 2993h8M4669 2984h8M4664 2985h8M4595 3058h8M4591 2974h8M4524 3039h8M4548 2988h8M4651 2976h8M4669 2984h8M4558 2983h8M4573 2981h8M4610 2985h8M4569 3053h8M4625 3043h8M4669 3002h8M4577 2980h8M4647 2981h8M4528 3033h8M4680 3009h8M4603 3052h8M4579 2985h8M4549 2993h8M4661 3038h8M4611 3055h8M4666 2996h8M4636 3045h8M4544 2990h8M4676 3018h8M4673 3013h8M4575 3055h8M4550 2992h8M4593 2976h8M4580 3055h8M4547 2996h8M4543 2997h8M4600 3057h8M4597 3057h8M4597 2974h8M4596 3055h8M4523 3032h8M4592 3054h8M4618 2972h8M4666 2995h8M4618 3056h8M4652 3038h8M4630 3051h8M4674 3020h8M4672 3012h8M4522 3035h8M4570 3033h8M4550 3040h8M4568 3027h8M4595 3011h8M4552 3045h8M4614 3004h8M4568 3057h8M4637 2994h8M4664 2993h8M4531 2998h8M4590 2974h8M4637 2980h8M4615 3032h8M4596 3002h8M4646 2980h8M4533 3043h8M4395 2963h8M4355 2991h8M4421 3002h8M4466 3006h8M4486 2991h8M4414 2962h8M4395 2981h8M4439 3005h8M4429 3004h8M4390 2964h8M4476 2982h8M4419 2963h8M4365 2983h8M4339 2974h8M4441 3004h8M4427 2964h8M4489 2982h8M4491 2997h8M4356 2992h8M4400 2965h8M4444 2967h8M4458 2971h8M4343 2966h8M4459 2981h8M4380 2996h8M4389 2962h8M4422 2971h8M4447 2973h8M4487 2999h8M4483 2980h8M4372 2999h8M4490 2986h8M4412 2963h8M4444 3000h8M4456 2971h8M4404 3005h8M4352 2976h8M4492 2991h8M4458 2970h8M4378 2964h8M4419 3004h8M4489 2984h8M4399 2961h8M4423 3000h8M4464 2976h8M4479 3002h8M4472 2974h8M4337 2978h8M4388 2962h8M4420 2962h8M4390 2998h8M4398 2968h8M4353 2972h8M4464 2987h8M4455 2976h8M4430 3003h8M4405 2964h8M4463 2971h8M4356 2978h8M4375 2989h8M4365 2972h8M4428 2979h8M4412 2986h8M4485 2985h8M4479 3230h8M4241 3147h8M4472 3245h8M4081 3260h8M4435 3094h8M4026 3260h8M4221 3267h8M4488 3107h8M4157 3272h8M4061 3266h8M4237 3148h8M4330 3109h8M4454 3092h8M4138 3183h8M4215 3274h8M4318 3296h8M4476 3246h8M4507 3229h8M3970 3252h8M4129 3189h8M4017 3238h8M4136 3271h8M4424 3262h8M4251 3280h8M4370 3100h8M4146 3269h8M4486 3239h8M4491 3112h8M4351 3283h8M4058 3266h8M4204 3263h8M4398 3267h8M3975 3256h8M4051 3227h8M4453 3254h8M4077 3259h8M4481 3234h8M4301 3121h8M4184 3257h8M4060 3244h8M4118 3191h8M4511 3135h8M4370 3113h8M4281 3130h8M4329 3110h8M4061 3213h8M4527 3154h8M4027 3260h8M3972 3257h8M4349 3295h8M4288 3285h8M4271 3277h8M4524 3191h8M4249 3141h8M4044 3258h8M4468 3247h8M4463 3254h8M4085 3268h8M4505 3224h8M4186 3164h8M4033 3229h8M4516 3129h8M4304 3121h8M4104 3216h8M4273 3280h8M4270 3134h8M4228 3255h8M4434 3096h8M3989 3259h8M4528 3157h8M4511 3129h8M4154 3185h8M4520 3144h8M3988 3256h8M3986 3253h8M4394 3098h8M4256 3138h8M4106 3253h8M4498 3125h8M4521 3133h8M4382 3282h8M4239 3148h8M3995 3248h8M4341 3110h8M4286 3133h8M4033 3229h8M4107 3269h8M4482 3234h8M4048 3261h8M4504 3123h8M4104 3253h8M4466 3091h8M4414 3098h8M4222 3273h8M4039 3261h8M4474 3101h8M4305 3293h8M4231 3147h8M4323 3298h8M4325 3297h8M4455 3253h8M4508 3208h8M4246 3277h8M4220 3153h8M4528 3146h8M4523 3167h8M4105 3203h8M4042 3223h8M4243 3143h8M4518 3142h8M4199 3166h8M4440 3262h8M4387 3098h8M4217 3153h8M4305 3139h8M4098 3202h8M4437 3111h8M4508 3226h8M4374 3105h8M4526 3155h8M4514 3138h8M4194 3165h8M4402 3249h8M4508 3227h8M4247 3143h8M4416 3095h8M4012 3261h8M4395 3102h8M4492 3239h8M4277 3266h8M4175 3271h8M4276 3285h8M4220 3275h8M4345 3293h8M4406 3098h8M4478 3246h8M4358 3105h8M4382 3276h8M4338 3112h8M4405 3098h8M4118 3268h8M4242 3142h8M4232 3148h8M4471 3107h8M4015 3256h8M4191 3163h8M4254 3274h8M4392 3270h8M4013 3236h8M4136 3187h8M4440 3265h8M4086 3263h8M4262 3135h8M4112 3193h8M4241 3277h8M4433 3261h8M4487 3140h8M4438 3096h8M4294 3287h8M4008 3248h8M4469 3243h8M4026 3229h8M4176 3168h8M4384 3099h8M4522 3152h8M4131 3267h8M4470 3241h8M4251 3144h8M4461 3100h8M4315 3139h8M4398 3113h8M4079 3246h8M4528 3191h8M4419 3163h8M4180 3258h8M4240 3161h8M4531 3171h8M4150 3204h8M4211 3230h8M4480 3153h8M4341 3172h8M4409 3135h8M4515 3197h8M4422 3259h8M4221 3276h8M4168 3188h8M4381 3275h8M4092 3256h8M4182 3220h8M4321 3294h8M4485 3214h8M4059 3260h8M4344 3255h8M4377 3237h8M4252 3208h8M4316 3122h8M4297 3166h8M4179 3247h8M4401 3252h8M4241 3266h8M4280 3254h8M4331 3225h8M4097 3234h8M4405 3175h8M4224 3166h8M4033 3239h8M4292 3259h8M4403 3197h8M4237 3190h8M4314 3262h8M4399 3104h8M4316 3219h8M4310 3157h8M4296 3159h8M4312 3196h8M4327 3153h8M4269 3187h8M4416 3268h8M4348 3267h8M4431 3233h8M4013 3260h8M4433 3200h8M4338 3215h8M4385 3196h8M4082 3217h8M4369 3218h8M4467 3229h8M4515 3190h8M4477 3140h8M4253 3167h8M4091 3257h8M4265 3190h8M4064 3224h8M4364 3143h8M4428 3107h8M4431 3097h8M4273 3275h8" stroke="#fff" stroke-width="8" fill="none"/>
<path d="M4064 2753h8M4056 2578h8M4060 2589h8M4019 2693h8M4019 2673h8M4024 2663h8M4086 2792h8M4041 2763h8M4061 2580h8M4020 2678h8M4025 2654h8M4055 2626h8M4034 2649h8M4038 2639h8M4069 2779h8M4066 2612h8M4069 2573h8M4063 2765h8M4038 2642h8M4460 2672h8M4611 2692h8M4134 2762h8M4373 2662h8M4119 2726h8M4519 2623h8M4303 2688h8M4260 2756h8M4550 2759h8M4318 2796h8M4327 2795h8M4268 2695h8M4165 2621h8M4285 2800h8M4316 2802h8M4406 2736h8M4192 2823h8M4582 2717h8M4434 2614h8M4123 2649h8M4352 2713h8M4604 2743h8M4526 2807h8M4431 2847h8M4163 2773h8M4274 2858h8M3952 2627h8M3954 2629h8M4030 2758h8M4008 2705h8M3990 2670h8M3967 2648h8M4021 2726h8M3953 2643h8M4015 2727h8M3965 2647h8M4015 2751h8M3993 2736h8M3970 2635h8M3925 2652h8M4003 2715h8M3957 2693h8M4001 2744h8" stroke="#1976bf" stroke-width="8" fill="none"/>
<path d="M4037 2752h8M4019 2738h8M4008 2715h8M3950 2799h8M3784 2789h8M3853 2790h8M3955 2801h8M3869 2787h8M3686 2791h8M3754 2797h8M3930 2796h8M3774 2787h8M3678 2793h8M3824 2783h8" stroke="#8f6bbd" stroke-width="8" fill="none"/>
<path d="M4268 2922h8M4247 2896h8M4182 2854h8M4146 2842h8M4173 2852h8M4198 2892h8M4243 2901h8M4236 2922h8M4122 2832h8M4263 2903h8M4275 2926h8M4268 2921h8M4246 2895h8M4167 2873h8M4232 2885h8M4227 2896h8M4179 2862h8M4194 2878h8M4166 2853h8M4108 2824h8M4226 2897h8M4221 2908h8M4146 2871h8M4126 2849h8M4156 2875h8M4229 2917h8" stroke="#fa8932" stroke-width="8" fill="none"/>
</g>
<path d="M307.5,301.7 V324.7 H329.8" fill="none" stroke="#222" stroke-width=".55"/>
<path d="M306.4,302.1 L307.5,299.1 L308.6,302.1Z" fill="#222"/>
<path d="M329.3,323.6 L332.2,324.7 L329.3,325.8Z" fill="#222"/>
<text x="308.5" y="333.1" font-size="6.7" fill="#333">UMAP 1</text>
<text transform="translate(303.5 323.5) rotate(-90)" font-size="6.8" fill="#333">UMAP 2</text>
<circle cx="492.1" cy="231.1" r="2.25" fill="#d62a35"/>
<text x="497" y="233.5" font-size="7.1" fill="#222">Worm</text>
<circle cx="492.1" cy="240.34" r="2.25" fill="#8f6bbd"/>
<text x="497" y="242.74" font-size="7.1" fill="#222">Fly</text>
<circle cx="492.1" cy="249.58" r="2.25" fill="#1976bf"/>
<text x="497" y="251.98" font-size="7.1" fill="#222">Zebrafish</text>
<circle cx="492.1" cy="258.82" r="2.25" fill="#4db24f"/>
<text x="497" y="261.22" font-size="7.1" fill="#222">Killifish</text>
<circle cx="492.1" cy="268.06" r="2.25" fill="#fa8932"/>
<text x="497" y="270.46" font-size="7.1" fill="#222">Mouse</text>
<circle cx="492.1" cy="277.3" r="2.25" fill="#8c564b"/>
<text x="497" y="279.7" font-size="7.1" fill="#222">Human</text>
<text transform="translate(0.6 352.3) scale(1.14 1)" font-size="9.9" font-weight="bold" fill="#111" stroke="#111" stroke-width=".42" stroke-linejoin="round">i</text>
<g fill="none" stroke="#d9d9d9" stroke-width=".45">
<circle cx="137.5" cy="422.3" r="7.92"/>
<circle cx="137.5" cy="422.3" r="15.85"/>
<circle cx="137.5" cy="422.3" r="23.77"/>
<circle cx="137.5" cy="422.3" r="31.7"/>
<circle cx="137.5" cy="422.3" r="39.62"/>
<circle cx="137.5" cy="422.3" r="47.55"/>
<circle cx="137.5" cy="422.3" r="55.48"/>
<path d="M137.5,422.3L137.5,358.9M137.5,422.3L153.9,361.1M137.5,422.3L169.2,367.4M137.5,422.3L182.3,377.5M137.5,422.3L192.4,390.6M137.5,422.3L198.7,405.9M137.5,422.3L200.9,422.3M137.5,422.3L198.7,438.7M137.5,422.3L192.4,454.0M137.5,422.3L182.3,467.1M137.5,422.3L169.2,477.2M137.5,422.3L153.9,483.5M137.5,422.3L137.5,485.7M137.5,422.3L121.1,483.5M137.5,422.3L105.8,477.2M137.5,422.3L92.7,467.1M137.5,422.3L82.6,454.0M137.5,422.3L76.3,438.7M137.5,422.3L74.1,422.3M137.5,422.3L76.3,405.9M137.5,422.3L82.6,390.6M137.5,422.3L92.7,377.5M137.5,422.3L105.8,367.4M137.5,422.3L121.1,361.1"/>
</g>
<circle cx="137.5" cy="422.3" r="63.4" fill="none" stroke="#bdbdbd" stroke-width=".7"/>
<polygon points="137.5,366.3 149.1,378.8 153.5,394.6 172.5,387.3 181.0,397.2 159.7,416.3 192.4,422.3 196.2,438.0 172.1,442.3 157.8,442.6 149.3,442.8 143.1,443.1 137.5,455.6 129.5,452.1 134.6,427.3 134.5,425.3 117.6,433.8 133.0,423.5 108.7,422.3 129.5,420.2 109.5,406.2 131.0,415.8 107.5,370.3 121.6,362.8" fill="#1f77b4" fill-opacity=".36"/>
<polygon points="137.5,401.3 143.7,399.1 153.7,394.3 152.3,407.5 157.4,410.8 169.9,413.6 155.5,422.3 155.9,427.2 160.8,435.8 160.7,445.5 155.4,453.3 147.1,458.0 137.5,454.3 128.4,456.1 116.1,459.4 104.0,455.8 104.1,441.6 93.1,434.2 100.7,422.3 94.0,410.7 111.5,407.3 106.6,391.4 127.5,405.0 133.1,405.9" fill="#f0842f" fill-opacity=".40"/>
<g fill="none" stroke="#eee" stroke-width=".4" opacity=".45">
<circle cx="137.5" cy="422.3" r="7.92"/>
<circle cx="137.5" cy="422.3" r="15.85"/>
<circle cx="137.5" cy="422.3" r="23.77"/>
<circle cx="137.5" cy="422.3" r="31.7"/>
<circle cx="137.5" cy="422.3" r="39.62"/>
<circle cx="137.5" cy="422.3" r="47.55"/>
<circle cx="137.5" cy="422.3" r="55.48"/>
<path d="M137.5,422.3L137.5,358.9M137.5,422.3L153.9,361.1M137.5,422.3L169.2,367.4M137.5,422.3L182.3,377.5M137.5,422.3L192.4,390.6M137.5,422.3L198.7,405.9M137.5,422.3L200.9,422.3M137.5,422.3L198.7,438.7M137.5,422.3L192.4,454.0M137.5,422.3L182.3,467.1M137.5,422.3L169.2,477.2M137.5,422.3L153.9,483.5M137.5,422.3L137.5,485.7M137.5,422.3L121.1,483.5M137.5,422.3L105.8,477.2M137.5,422.3L92.7,467.1M137.5,422.3L82.6,454.0M137.5,422.3L76.3,438.7M137.5,422.3L74.1,422.3M137.5,422.3L76.3,405.9M137.5,422.3L82.6,390.6M137.5,422.3L92.7,377.5M137.5,422.3L105.8,367.4M137.5,422.3L121.1,361.1"/>
</g>
<polygon points="137.5,366.3 149.1,378.8 153.5,394.6 172.5,387.3 181.0,397.2 159.7,416.3 192.4,422.3 196.2,438.0 172.1,442.3 157.8,442.6 149.3,442.8 143.1,443.1 137.5,455.6 129.5,452.1 134.6,427.3 134.5,425.3 117.6,433.8 133.0,423.5 108.7,422.3 129.5,420.2 109.5,406.2 131.0,415.8 107.5,370.3 121.6,362.8" fill="none" stroke="#3a82bb" stroke-width=".6" stroke-linejoin="round"/>
<polygon points="137.5,401.3 143.7,399.1 153.7,394.3 152.3,407.5 157.4,410.8 169.9,413.6 155.5,422.3 155.9,427.2 160.8,435.8 160.7,445.5 155.4,453.3 147.1,458.0 137.5,454.3 128.4,456.1 116.1,459.4 104.0,455.8 104.1,441.6 93.1,434.2 100.7,422.3 94.0,410.7 111.5,407.3 106.6,391.4 127.5,405.0 133.1,405.9" fill="none" stroke="#f09a58" stroke-width=".6" stroke-linejoin="round"/>
<text x="117.72" y="372.88" font-size="2.3" text-anchor="middle" fill="#444">0.8</text>
<text x="120.62" y="380.25" font-size="2.3" text-anchor="middle" fill="#444">0.6</text>
<text x="123.53" y="387.63" font-size="2.3" text-anchor="middle" fill="#444">0.4</text>
<text x="126.43" y="395" font-size="2.3" text-anchor="middle" fill="#444">0.2</text>
<text x="129.34" y="402.37" font-size="2.3" text-anchor="middle" fill="#444">0.0</text>
<text x="132.24" y="409.75" font-size="2.3" text-anchor="middle" fill="#444">-0.2</text>
<text x="135.15" y="417.12" font-size="2.3" text-anchor="middle" fill="#444">-0.4</text>
<text x="138.05" y="424.5" font-size="2.3" text-anchor="middle" fill="#444">-0.6</text>
<text x="137.8" y="356.6" font-size="6.8" text-anchor="middle" fill="#1a1a1a" textLength="15.6" lengthAdjust="spacingAndGlyphs">Area</text>
<rect x="152.5" y="348.3" width="39.4" height="8.8" fill="#d6d2ee"/>
<text x="172.2" y="355.1" font-size="6.8" text-anchor="middle" fill="#1a1a1a" textLength="35.8" lengthAdjust="spacingAndGlyphs">Crista_area</text>
<rect x="171.7" y="358.2" width="43.6" height="8.8" fill="#d6d2ee"/>
<text x="193.5" y="365" font-size="6.8" text-anchor="middle" fill="#1a1a1a" textLength="40" lengthAdjust="spacingAndGlyphs">Crista_angle</text>
<rect x="186" y="370.6" width="43.8" height="8.8" fill="#d6d2ee"/>
<text x="207.9" y="377.4" font-size="6.8" text-anchor="middle" fill="#1a1a1a" textLength="40.2" lengthAdjust="spacingAndGlyphs">Crista_minor</text>
<rect x="196" y="384" width="44.1" height="8.8" fill="#d6d2ee"/>
<text x="218.05" y="390.8" font-size="6.8" text-anchor="middle" fill="#1a1a1a" textLength="40.5" lengthAdjust="spacingAndGlyphs">Crista_major</text>
<rect x="202.2" y="401.2" width="30.1" height="8.8" fill="#d6d2ee"/>
<text x="217.25" y="408" font-size="6.8" text-anchor="middle" fill="#1a1a1a" textLength="26.5" lengthAdjust="spacingAndGlyphs">Kurtosis</text>
<rect x="204.7" y="419.7" width="36" height="8.8" fill="#d6d2ee"/>
<text x="222.7" y="426.5" font-size="6.8" text-anchor="middle" fill="#1a1a1a" textLength="32.4" lengthAdjust="spacingAndGlyphs">Skewness</text>
<text x="226.25" y="445.3" font-size="6.8" text-anchor="middle" fill="#1a1a1a" textLength="47.5" lengthAdjust="spacingAndGlyphs">Feret diameter</text>
<text x="200.65" y="462.7" font-size="6.8" text-anchor="middle" fill="#1a1a1a" textLength="8.7" lengthAdjust="spacingAndGlyphs">AR</text>
<text x="198" y="475.7" font-size="6.8" text-anchor="middle" fill="#1a1a1a" textLength="24" lengthAdjust="spacingAndGlyphs">Solidity</text>
<text x="190" y="488" font-size="6.8" text-anchor="middle" fill="#1a1a1a" textLength="36" lengthAdjust="spacingAndGlyphs">Roundness</text>
<text x="170.35" y="496.4" font-size="6.8" text-anchor="middle" fill="#1a1a1a" textLength="33.3" lengthAdjust="spacingAndGlyphs">Circularity</text>
<rect x="102.2" y="502.1" width="69.5" height="8.8" fill="#d6d2ee"/>
<text x="136.95" y="508.9" font-size="6.8" text-anchor="middle" fill="#1a1a1a" textLength="65.9" lengthAdjust="spacingAndGlyphs">Intensity_SD%_norm</text>
<rect x="72.9" y="491" width="49.2" height="8.8" fill="#d6d2ee"/>
<text x="97.5" y="497.8" font-size="6.8" text-anchor="middle" fill="#1a1a1a" textLength="45.6" lengthAdjust="spacingAndGlyphs">Intensity_SD%</text>
<rect x="37.7" y="480.3" width="63.8" height="8.8" fill="#d6d2ee"/>
<text x="69.6" y="487.1" font-size="6.8" text-anchor="middle" fill="#1a1a1a" textLength="60.2" lengthAdjust="spacingAndGlyphs">Intensity_SD_norm</text>
<rect x="44.2" y="469.3" width="43.1" height="8.8" fill="#d6d2ee"/>
<text x="65.75" y="476.1" font-size="6.8" text-anchor="middle" fill="#1a1a1a" textLength="39.5" lengthAdjust="spacingAndGlyphs">Intensity_SD</text>
<rect x="28.5" y="455.4" width="48" height="8.8" fill="#d6d2ee"/>
<text x="52.5" y="462.2" font-size="6.8" text-anchor="middle" fill="#1a1a1a" textLength="44.4" lengthAdjust="spacingAndGlyphs">TotalInt_norm</text>
<rect x="42.7" y="438.5" width="28.1" height="8.8" fill="#d6d2ee"/>
<text x="56.75" y="445.3" font-size="6.8" text-anchor="middle" fill="#1a1a1a" textLength="24.5" lengthAdjust="spacingAndGlyphs">TotalInt</text>
<rect x="13.5" y="420" width="55.6" height="8.8" fill="#d6d2ee"/>
<text x="41.3" y="426.8" font-size="6.8" text-anchor="middle" fill="#1a1a1a" textLength="52" lengthAdjust="spacingAndGlyphs">MedianInt_norm</text>
<rect x="35.7" y="401.2" width="35.4" height="8.8" fill="#d6d2ee"/>
<text x="53.4" y="408" font-size="6.8" text-anchor="middle" fill="#1a1a1a" textLength="31.8" lengthAdjust="spacingAndGlyphs">MedianInt</text>
<rect x="27.2" y="384.3" width="49.1" height="8.8" fill="#d6d2ee"/>
<text x="51.75" y="391.1" font-size="6.8" text-anchor="middle" fill="#1a1a1a" textLength="45.5" lengthAdjust="spacingAndGlyphs">MeanInt_norm</text>
<rect x="57.7" y="370.3" width="30.1" height="8.8" fill="#d6d2ee"/>
<text x="72.75" y="377.1" font-size="6.8" text-anchor="middle" fill="#1a1a1a" textLength="26.5" lengthAdjust="spacingAndGlyphs">MeanInt</text>
<text x="80.25" y="365.7" font-size="6.8" text-anchor="middle" fill="#1a1a1a" textLength="48.5" lengthAdjust="spacingAndGlyphs">Area/perimeter</text>
<text x="104.15" y="357.7" font-size="6.8" text-anchor="middle" fill="#1a1a1a" textLength="30.7" lengthAdjust="spacingAndGlyphs">Perimeter</text>
<text transform="translate(271.3 353.5) scale(1.14 1)" font-size="9.9" font-weight="bold" fill="#111" stroke="#111" stroke-width=".42" stroke-linejoin="round">j</text>
<g fill="none" stroke="#d9d9d9" stroke-width=".45">
<circle cx="408.5" cy="422.3" r="7.92"/>
<circle cx="408.5" cy="422.3" r="15.85"/>
<circle cx="408.5" cy="422.3" r="23.77"/>
<circle cx="408.5" cy="422.3" r="31.7"/>
<circle cx="408.5" cy="422.3" r="39.62"/>
<circle cx="408.5" cy="422.3" r="47.55"/>
<circle cx="408.5" cy="422.3" r="55.48"/>
<path d="M408.5,422.3L408.5,358.9M408.5,422.3L424.9,361.1M408.5,422.3L440.2,367.4M408.5,422.3L453.3,377.5M408.5,422.3L463.4,390.6M408.5,422.3L469.7,405.9M408.5,422.3L471.9,422.3M408.5,422.3L469.7,438.7M408.5,422.3L463.4,454.0M408.5,422.3L453.3,467.1M408.5,422.3L440.2,477.2M408.5,422.3L424.9,483.5M408.5,422.3L408.5,485.7M408.5,422.3L392.1,483.5M408.5,422.3L376.8,477.2M408.5,422.3L363.7,467.1M408.5,422.3L353.6,454.0M408.5,422.3L347.3,438.7M408.5,422.3L345.1,422.3M408.5,422.3L347.3,405.9M408.5,422.3L353.6,390.6M408.5,422.3L363.7,377.5M408.5,422.3L376.8,367.4M408.5,422.3L392.1,361.1"/>
</g>
<circle cx="408.5" cy="422.3" r="63.4" fill="none" stroke="#bdbdbd" stroke-width=".7"/>
<polygon points="408.5,384.9 416.7,391.7 421.5,399.8 432.2,398.6 439.5,404.4 429.4,416.7 457.5,422.3 452.9,434.2 444.0,442.8 429.0,442.8 417.2,437.5 413.7,441.6 408.5,452.7 400.6,451.7 400.9,435.6 397.5,433.3 388.8,433.7 398.0,425.1 383.9,422.3 405.6,421.5 386.6,409.7 405.5,419.3 393.1,395.5 398.4,384.5" fill="#d62a35" fill-opacity=".27"/>
<polygon points="408.5,363.8 417.0,390.7 423.8,395.9 433.0,397.8 439.5,404.4 440.0,413.9 461.5,422.3 457.3,435.4 439.2,440.1 433.7,447.5 427.8,455.6 417.7,456.6 408.5,454.1 400.7,451.3 393.9,447.7 396.5,434.3 385.5,435.6 389.2,427.5 377.5,422.3 379.5,414.5 381.7,406.8 384.6,398.4 378.2,369.8 393.5,366.3" fill="#8f6bbd" fill-opacity=".27"/>
<polygon points="408.5,395.3 415.9,394.9 422.6,398.0 428.0,402.8 432.7,408.4 435.7,415.0 434.3,422.3 436.0,429.7 434.9,437.6 430.3,444.1 424.2,449.5 416.6,452.4 408.5,453.2 400.3,452.7 390.8,453.0 386.4,444.4 382.5,437.3 378.6,430.3 378.5,422.3 380.5,414.8 383.8,408.1 388.7,402.5 395.0,398.9 401.5,396.2" fill="#1976bf" fill-opacity=".27"/>
<polygon points="408.5,394.8 415.9,394.7 422.8,397.6 428.3,402.5 433.0,408.2 436.1,414.9 437.1,422.3 437.0,429.9 435.2,437.7 430.4,444.2 424.0,449.1 416.5,452.2 408.5,453.3 400.1,453.8 388.0,457.8 385.2,445.6 382.5,437.3 378.3,430.4 378.5,422.3 380.0,414.7 383.4,407.8 388.3,402.1 394.5,398.1 401.4,395.7" fill="#3aa845" fill-opacity=".27"/>
<polygon points="408.5,394.3 415.7,395.3 423.9,395.7 427.3,403.5 431.9,408.8 442.5,413.2 431.5,422.3 433.6,429.0 432.7,436.3 431.8,445.6 425.4,451.7 417.5,455.7 408.5,453.6 400.4,452.6 393.6,448.0 381.1,449.7 380.4,438.6 372.3,432.0 376.5,422.3 362.7,410.0 379.1,405.4 375.4,389.2 394.1,397.4 401.3,395.3" fill="#fa8932" fill-opacity=".27"/>
<polygon points="408.5,395.3 415.7,395.3 422.5,398.1 427.9,402.9 432.7,408.3 435.5,415.1 435.5,422.3 435.5,429.5 434.0,437.1 430.4,444.2 427.2,454.8 418.5,459.7 408.5,453.8 400.6,451.8 393.5,448.3 387.6,443.2 383.4,436.8 380.0,429.9 379.0,422.3 380.5,414.8 383.8,408.1 388.7,402.5 395.0,398.9 401.5,396.2" fill="#8c564b" fill-opacity=".27"/>
<polygon points="408.5,395.3 415.7,395.3 422.5,398.1 427.9,402.9 432.7,408.4 435.5,415.1 434.3,422.3 435.5,429.5 434.0,437.1 430.3,444.1 424.0,449.1 416.5,452.2 408.5,453.2 400.6,451.8 393.5,448.3 387.6,443.2 383.4,436.8 380.0,429.9 379.0,422.3 380.5,414.8 383.8,408.1 388.7,402.5 395.0,398.9 401.5,396.2" fill="#8e9079" fill-opacity=".7"/>
<g fill="none" stroke="#eee" stroke-width=".4" opacity=".45">
<circle cx="408.5" cy="422.3" r="7.92"/>
<circle cx="408.5" cy="422.3" r="15.85"/>
<circle cx="408.5" cy="422.3" r="23.77"/>
<circle cx="408.5" cy="422.3" r="31.7"/>
<circle cx="408.5" cy="422.3" r="39.62"/>
<circle cx="408.5" cy="422.3" r="47.55"/>
<circle cx="408.5" cy="422.3" r="55.48"/>
<path d="M408.5,422.3L408.5,358.9M408.5,422.3L424.9,361.1M408.5,422.3L440.2,367.4M408.5,422.3L453.3,377.5M408.5,422.3L463.4,390.6M408.5,422.3L469.7,405.9M408.5,422.3L471.9,422.3M408.5,422.3L469.7,438.7M408.5,422.3L463.4,454.0M408.5,422.3L453.3,467.1M408.5,422.3L440.2,477.2M408.5,422.3L424.9,483.5M408.5,422.3L408.5,485.7M408.5,422.3L392.1,483.5M408.5,422.3L376.8,477.2M408.5,422.3L363.7,467.1M408.5,422.3L353.6,454.0M408.5,422.3L347.3,438.7M408.5,422.3L345.1,422.3M408.5,422.3L347.3,405.9M408.5,422.3L353.6,390.6M408.5,422.3L363.7,377.5M408.5,422.3L376.8,367.4M408.5,422.3L392.1,361.1"/>
</g>
<polygon points="408.5,384.9 416.7,391.7 421.5,399.8 432.2,398.6 439.5,404.4 429.4,416.7 457.5,422.3 452.9,434.2 444.0,442.8 429.0,442.8 417.2,437.5 413.7,441.6 408.5,452.7 400.6,451.7 400.9,435.6 397.5,433.3 388.8,433.7 398.0,425.1 383.9,422.3 405.6,421.5 386.6,409.7 405.5,419.3 393.1,395.5 398.4,384.5" fill="none" stroke="#d62a35" stroke-opacity=".85" stroke-width=".55" stroke-linejoin="round"/>
<polygon points="408.5,363.8 417.0,390.7 423.8,395.9 433.0,397.8 439.5,404.4 440.0,413.9 461.5,422.3 457.3,435.4 439.2,440.1 433.7,447.5 427.8,455.6 417.7,456.6 408.5,454.1 400.7,451.3 393.9,447.7 396.5,434.3 385.5,435.6 389.2,427.5 377.5,422.3 379.5,414.5 381.7,406.8 384.6,398.4 378.2,369.8 393.5,366.3" fill="none" stroke="#8f6bbd" stroke-opacity=".85" stroke-width=".55" stroke-linejoin="round"/>
<polygon points="408.5,395.3 415.9,394.9 422.6,398.0 428.0,402.8 432.7,408.4 435.7,415.0 434.3,422.3 436.0,429.7 434.9,437.6 430.3,444.1 424.2,449.5 416.6,452.4 408.5,453.2 400.3,452.7 390.8,453.0 386.4,444.4 382.5,437.3 378.6,430.3 378.5,422.3 380.5,414.8 383.8,408.1 388.7,402.5 395.0,398.9 401.5,396.2" fill="none" stroke="#1976bf" stroke-opacity=".85" stroke-width=".55" stroke-linejoin="round"/>
<polygon points="408.5,394.8 415.9,394.7 422.8,397.6 428.3,402.5 433.0,408.2 436.1,414.9 437.1,422.3 437.0,429.9 435.2,437.7 430.4,444.2 424.0,449.1 416.5,452.2 408.5,453.3 400.1,453.8 388.0,457.8 385.2,445.6 382.5,437.3 378.3,430.4 378.5,422.3 380.0,414.7 383.4,407.8 388.3,402.1 394.5,398.1 401.4,395.7" fill="none" stroke="#3aa845" stroke-opacity=".85" stroke-width=".55" stroke-linejoin="round"/>
<polygon points="408.5,394.3 415.7,395.3 423.9,395.7 427.3,403.5 431.9,408.8 442.5,413.2 431.5,422.3 433.6,429.0 432.7,436.3 431.8,445.6 425.4,451.7 417.5,455.7 408.5,453.6 400.4,452.6 393.6,448.0 381.1,449.7 380.4,438.6 372.3,432.0 376.5,422.3 362.7,410.0 379.1,405.4 375.4,389.2 394.1,397.4 401.3,395.3" fill="none" stroke="#fa8932" stroke-opacity=".85" stroke-width=".55" stroke-linejoin="round"/>
<polygon points="408.5,395.3 415.7,395.3 422.5,398.1 427.9,402.9 432.7,408.3 435.5,415.1 435.5,422.3 435.5,429.5 434.0,437.1 430.4,444.2 427.2,454.8 418.5,459.7 408.5,453.8 400.6,451.8 393.5,448.3 387.6,443.2 383.4,436.8 380.0,429.9 379.0,422.3 380.5,414.8 383.8,408.1 388.7,402.5 395.0,398.9 401.5,396.2" fill="none" stroke="#8c564b" stroke-opacity=".85" stroke-width=".55" stroke-linejoin="round"/>
<text x="388.72" y="372.88" font-size="2.3" text-anchor="middle" fill="#444">1.5</text>
<text x="391.62" y="380.25" font-size="2.3" text-anchor="middle" fill="#444">1.0</text>
<text x="394.53" y="387.63" font-size="2.3" text-anchor="middle" fill="#444">0.5</text>
<text x="397.43" y="395" font-size="2.3" text-anchor="middle" fill="#444">0.0</text>
<text x="400.34" y="402.37" font-size="2.3" text-anchor="middle" fill="#444">-0.5</text>
<text x="403.24" y="409.75" font-size="2.3" text-anchor="middle" fill="#444">-1.0</text>
<text x="406.15" y="417.12" font-size="2.3" text-anchor="middle" fill="#444">-1.5</text>
<text x="408.8" y="356.6" font-size="6.8" text-anchor="middle" fill="#1a1a1a" textLength="15.6" lengthAdjust="spacingAndGlyphs">Area</text>
<rect x="423.5" y="348.3" width="39.4" height="8.8" fill="#d6d2ee"/>
<text x="443.2" y="355.1" font-size="6.8" text-anchor="middle" fill="#1a1a1a" textLength="35.8" lengthAdjust="spacingAndGlyphs">Crista_area</text>
<rect x="442.7" y="358.2" width="43.6" height="8.8" fill="#d6d2ee"/>
<text x="464.5" y="365" font-size="6.8" text-anchor="middle" fill="#1a1a1a" textLength="40" lengthAdjust="spacingAndGlyphs">Crista_angle</text>
<rect x="457" y="370.6" width="43.8" height="8.8" fill="#d6d2ee"/>
<text x="478.9" y="377.4" font-size="6.8" text-anchor="middle" fill="#1a1a1a" textLength="40.2" lengthAdjust="spacingAndGlyphs">Crista_minor</text>
<rect x="467" y="384" width="44.1" height="8.8" fill="#d6d2ee"/>
<text x="489.05" y="390.8" font-size="6.8" text-anchor="middle" fill="#1a1a1a" textLength="40.5" lengthAdjust="spacingAndGlyphs">Crista_major</text>
<rect x="473.2" y="401.2" width="30.1" height="8.8" fill="#d6d2ee"/>
<text x="488.25" y="408" font-size="6.8" text-anchor="middle" fill="#1a1a1a" textLength="26.5" lengthAdjust="spacingAndGlyphs">Kurtosis</text>
<rect x="475.7" y="419.7" width="36" height="8.8" fill="#d6d2ee"/>
<text x="493.7" y="426.5" font-size="6.8" text-anchor="middle" fill="#1a1a1a" textLength="32.4" lengthAdjust="spacingAndGlyphs">Skewness</text>
<text x="497.25" y="445.3" font-size="6.8" text-anchor="middle" fill="#1a1a1a" textLength="47.5" lengthAdjust="spacingAndGlyphs">Feret diameter</text>
<text x="471.65" y="462.7" font-size="6.8" text-anchor="middle" fill="#1a1a1a" textLength="8.7" lengthAdjust="spacingAndGlyphs">AR</text>
<text x="469" y="475.7" font-size="6.8" text-anchor="middle" fill="#1a1a1a" textLength="24" lengthAdjust="spacingAndGlyphs">Solidity</text>
<text x="461" y="488" font-size="6.8" text-anchor="middle" fill="#1a1a1a" textLength="36" lengthAdjust="spacingAndGlyphs">Roundness</text>
<text x="441.35" y="496.4" font-size="6.8" text-anchor="middle" fill="#1a1a1a" textLength="33.3" lengthAdjust="spacingAndGlyphs">Circularity</text>
<rect x="373.2" y="502.1" width="69.5" height="8.8" fill="#d6d2ee"/>
<text x="407.95" y="508.9" font-size="6.8" text-anchor="middle" fill="#1a1a1a" textLength="65.9" lengthAdjust="spacingAndGlyphs">Intensity_SD%_norm</text>
<rect x="343.9" y="491" width="49.2" height="8.8" fill="#d6d2ee"/>
<text x="368.5" y="497.8" font-size="6.8" text-anchor="middle" fill="#1a1a1a" textLength="45.6" lengthAdjust="spacingAndGlyphs">Intensity_SD%</text>
<rect x="308.7" y="480.3" width="63.8" height="8.8" fill="#d6d2ee"/>
<text x="340.6" y="487.1" font-size="6.8" text-anchor="middle" fill="#1a1a1a" textLength="60.2" lengthAdjust="spacingAndGlyphs">Intensity_SD_norm</text>
<rect x="315.2" y="469.3" width="43.1" height="8.8" fill="#d6d2ee"/>
<text x="336.75" y="476.1" font-size="6.8" text-anchor="middle" fill="#1a1a1a" textLength="39.5" lengthAdjust="spacingAndGlyphs">Intensity_SD</text>
<rect x="299.5" y="455.4" width="48" height="8.8" fill="#d6d2ee"/>
<text x="323.5" y="462.2" font-size="6.8" text-anchor="middle" fill="#1a1a1a" textLength="44.4" lengthAdjust="spacingAndGlyphs">TotalInt_norm</text>
<rect x="313.7" y="438.5" width="28.1" height="8.8" fill="#d6d2ee"/>
<text x="327.75" y="445.3" font-size="6.8" text-anchor="middle" fill="#1a1a1a" textLength="24.5" lengthAdjust="spacingAndGlyphs">TotalInt</text>
<rect x="284.5" y="420" width="55.6" height="8.8" fill="#d6d2ee"/>
<text x="312.3" y="426.8" font-size="6.8" text-anchor="middle" fill="#1a1a1a" textLength="52" lengthAdjust="spacingAndGlyphs">MedianInt_norm</text>
<rect x="306.7" y="401.2" width="35.4" height="8.8" fill="#d6d2ee"/>
<text x="324.4" y="408" font-size="6.8" text-anchor="middle" fill="#1a1a1a" textLength="31.8" lengthAdjust="spacingAndGlyphs">MedianInt</text>
<rect x="298.2" y="384.3" width="49.1" height="8.8" fill="#d6d2ee"/>
<text x="322.75" y="391.1" font-size="6.8" text-anchor="middle" fill="#1a1a1a" textLength="45.5" lengthAdjust="spacingAndGlyphs">MeanInt_norm</text>
<rect x="328.7" y="370.3" width="30.1" height="8.8" fill="#d6d2ee"/>
<text x="343.75" y="377.1" font-size="6.8" text-anchor="middle" fill="#1a1a1a" textLength="26.5" lengthAdjust="spacingAndGlyphs">MeanInt</text>
<text x="351.25" y="365.7" font-size="6.8" text-anchor="middle" fill="#1a1a1a" textLength="48.5" lengthAdjust="spacingAndGlyphs">Area/perimeter</text>
<text x="375.15" y="357.7" font-size="6.8" text-anchor="middle" fill="#1a1a1a" textLength="30.7" lengthAdjust="spacingAndGlyphs">Perimeter</text>
<text transform="translate(20.6 529.6) scale(1.14 1)" font-size="9.9" font-weight="bold" fill="#111" stroke="#111" stroke-width=".42" stroke-linejoin="round">k</text>
<text x="121.8" y="540.9" font-size="6.9" text-anchor="middle" font-weight="bold" fill="#111" textLength="94" lengthAdjust="spacingAndGlyphs">Test accuracy score: 0.9443</text>
<rect x="71.3" y="545.5" width="50.4" height="50.2" fill="#90cc82"/>
<rect x="121.7" y="545.5" width="50.3" height="50.2" fill="#4a98d0"/>
<rect x="71.3" y="595.7" width="50.4" height="50.5" fill="#5c4699"/>
<rect x="121.7" y="595.7" width="50.3" height="50.5" fill="#f2d98a"/>
<rect x="71.3" y="545.5" width="100.7" height="100.7" fill="none" stroke="#666" stroke-width=".4"/>
<text x="96.5" y="573" font-size="7" text-anchor="middle" fill="#262626">0.86</text>
<text x="146.85" y="573" font-size="7" text-anchor="middle" fill="#fff">0.14</text>
<text x="96.5" y="623.35" font-size="7" text-anchor="middle" fill="#fff">0.02</text>
<text x="146.85" y="623.35" font-size="7" text-anchor="middle" fill="#262626">0.98</text>
<path d="M68.3,570.6H71.3M68.3,620.95H71.3M96.5,646.2v3M146.85,646.2v3" stroke="#444" stroke-width=".5"/>
<text x="66.8" y="573.1" font-size="7" text-anchor="end" fill="#333" textLength="18.2" lengthAdjust="spacingAndGlyphs">Invert</text>
<text x="66.8" y="623.45" font-size="7" text-anchor="end" fill="#333" textLength="12.4" lengthAdjust="spacingAndGlyphs">Vert</text>
<text x="96.5" y="655.7" font-size="7" text-anchor="middle" fill="#333" textLength="18" lengthAdjust="spacingAndGlyphs">Invert</text>
<text x="146.85" y="655.7" font-size="7" text-anchor="middle" fill="#333" textLength="12.4" lengthAdjust="spacingAndGlyphs">Vert</text>
<text x="121.3" y="667" font-size="7" text-anchor="middle" fill="#333">Predicted labels</text>
<text transform="translate(43 596) rotate(-90)" font-size="7" text-anchor="middle" fill="#333">True labels</text>
<defs><linearGradient id="cbk" x1="0" y1="0" x2="0" y2="1"><stop offset="0" stop-color="#f2d98a"/><stop offset=".12" stop-color="#e9dc8c"/><stop offset=".3" stop-color="#b4d486"/><stop offset=".42" stop-color="#86c68a"/><stop offset=".53" stop-color="#58b4a8"/><stop offset=".64" stop-color="#4a9dcc"/><stop offset=".78" stop-color="#4f7cc4"/><stop offset=".9" stop-color="#5a58ab"/><stop offset="1" stop-color="#5c4699"/></linearGradient></defs>
<rect x="182.5" y="545.5" width="8.3" height="100.7" fill="url(#cbk)" stroke="#666" stroke-width=".35"/>
<path d="M190.8,556.8h2.6" stroke="#444" stroke-width=".5"/>
<text x="194.8" y="559.3" font-size="7" fill="#333">0.8</text>
<path d="M190.8,583.0h2.6" stroke="#444" stroke-width=".5"/>
<text x="194.8" y="585.5" font-size="7" fill="#333">0.6</text>
<path d="M190.8,609.3h2.6" stroke="#444" stroke-width=".5"/>
<text x="194.8" y="611.8" font-size="7" fill="#333">0.4</text>
<path d="M190.8,634.6h2.6" stroke="#444" stroke-width=".5"/>
<text x="194.8" y="637.1" font-size="7" fill="#333">0.2</text>
<text transform="translate(213.8 595.8) rotate(90)" font-size="7.3" text-anchor="middle" fill="#333" textLength="74" lengthAdjust="spacingAndGlyphs">Invertebrate prediction</text>
<text transform="translate(274.6 529.6) scale(1.14 1)" font-size="9.9" font-weight="bold" fill="#111" stroke="#111" stroke-width=".42" stroke-linejoin="round">l</text>
<path d="M415.6,518.8V667" stroke="#9a9a9a" stroke-width=".6"/>
<path d="M350,527H481M350,536.32H481M350,545.64H481M350,554.96H481M350,564.28H481M350,573.6H481M350,582.92H481M350,592.24H481M350,601.56H481M350,610.88H481M350,620.2H481M350,629.52H481M350,638.84H481M350,648.16H481M350,657.48H481" stroke="#e4e4e4" stroke-width=".4" stroke-dasharray=".6 .8"/>
<defs>
<linearGradient id="sg0" gradientUnits="userSpaceOnUse" x1="355" y1="0" x2="447.2" y2="0"><stop offset="0" stop-color="#2a84df"/><stop offset=".12" stop-color="#2a84df"/><stop offset=".22" stop-color="#8a4fb0"/><stop offset=".45" stop-color="#d02a78"/><stop offset=".66" stop-color="#f5145c"/><stop offset="1" stop-color="#f5145c"/></linearGradient>
<linearGradient id="sg1" gradientUnits="userSpaceOnUse" x1="363" y1="0" x2="468.5" y2="0"><stop offset="0" stop-color="#2a84df"/><stop offset="0.32" stop-color="#2a84df"/><stop offset="0.5" stop-color="#8a4fb0"/><stop offset="0.62" stop-color="#f5145c"/><stop offset="1" stop-color="#f5145c"/></linearGradient>
<linearGradient id="sg2" gradientUnits="userSpaceOnUse" x1="377.5" y1="0" x2="455" y2="0"><stop offset="0" stop-color="#f5145c"/><stop offset="0.31" stop-color="#f5145c"/><stop offset="0.49" stop-color="#8a4fb0"/><stop offset="0.61" stop-color="#2a84df"/><stop offset="1" stop-color="#2a84df"/></linearGradient>
<linearGradient id="sg3" gradientUnits="userSpaceOnUse" x1="386" y1="0" x2="430" y2="0"><stop offset="0" stop-color="#f5145c"/><stop offset="0.49" stop-color="#f5145c"/><stop offset="0.67" stop-color="#8a4fb0"/><stop offset="0.79" stop-color="#2a84df"/><stop offset="1" stop-color="#2a84df"/></linearGradient>
<linearGradient id="sg4" gradientUnits="userSpaceOnUse" x1="385" y1="0" x2="421.8" y2="0"><stop offset="0" stop-color="#2a84df"/><stop offset="0.65" stop-color="#2a84df"/><stop offset="0.83" stop-color="#2a84df"/><stop offset="0.95" stop-color="#2a84df"/><stop offset="1" stop-color="#2a84df"/></linearGradient>
<linearGradient id="sg5" gradientUnits="userSpaceOnUse" x1="390.8" y1="0" x2="462" y2="0"><stop offset="0" stop-color="#f5145c"/><stop offset="0.17" stop-color="#f5145c"/><stop offset="0.35" stop-color="#f5145c"/><stop offset="0.47" stop-color="#f5145c"/><stop offset="1" stop-color="#f5145c"/></linearGradient>
<linearGradient id="sg6" gradientUnits="userSpaceOnUse" x1="382" y1="0" x2="441.5" y2="0"><stop offset="0" stop-color="#2a84df"/><stop offset="0.38" stop-color="#2a84df"/><stop offset="0.56" stop-color="#8a4fb0"/><stop offset="0.68" stop-color="#f5145c"/><stop offset="1" stop-color="#f5145c"/></linearGradient>
<linearGradient id="sg7" gradientUnits="userSpaceOnUse" x1="378.8" y1="0" x2="427.8" y2="0"><stop offset="0" stop-color="#f5145c"/><stop offset="0.57" stop-color="#f5145c"/><stop offset="0.75" stop-color="#8a4fb0"/><stop offset="0.87" stop-color="#2a84df"/><stop offset="1" stop-color="#2a84df"/></linearGradient>
<linearGradient id="sg8" gradientUnits="userSpaceOnUse" x1="400.5" y1="0" x2="422.2" y2="0"><stop offset="0" stop-color="#2a84df"/><stop offset="0.52" stop-color="#2a84df"/><stop offset="0.7" stop-color="#8a4fb0"/><stop offset="0.82" stop-color="#f5145c"/><stop offset="1" stop-color="#f5145c"/></linearGradient>
<linearGradient id="sg9" gradientUnits="userSpaceOnUse" x1="403" y1="0" x2="427.2" y2="0"><stop offset="0" stop-color="#f5145c"/><stop offset="0.34" stop-color="#f5145c"/><stop offset="0.52" stop-color="#8a4fb0"/><stop offset="0.64" stop-color="#2a84df"/><stop offset="1" stop-color="#2a84df"/></linearGradient>
<linearGradient id="sg10" gradientUnits="userSpaceOnUse" x1="377.5" y1="0" x2="424.8" y2="0"><stop offset="0" stop-color="#f5145c"/><stop offset="0.63" stop-color="#f5145c"/><stop offset="0.81" stop-color="#8a4fb0"/><stop offset="0.93" stop-color="#2a84df"/><stop offset="1" stop-color="#2a84df"/></linearGradient>
<linearGradient id="sg11" gradientUnits="userSpaceOnUse" x1="408" y1="0" x2="425.5" y2="0"><stop offset="0" stop-color="#2a84df"/><stop offset="0.25" stop-color="#2a84df"/><stop offset="0.43" stop-color="#8a4fb0"/><stop offset="0.55" stop-color="#f5145c"/><stop offset="1" stop-color="#f5145c"/></linearGradient>
<linearGradient id="sg12" gradientUnits="userSpaceOnUse" x1="399.2" y1="0" x2="425.2" y2="0"><stop offset="0" stop-color="#2a84df"/><stop offset="0.45" stop-color="#2a84df"/><stop offset="0.63" stop-color="#8a4fb0"/><stop offset="0.75" stop-color="#f5145c"/><stop offset="1" stop-color="#f5145c"/></linearGradient>
<linearGradient id="sg13" gradientUnits="userSpaceOnUse" x1="391.2" y1="0" x2="418.5" y2="0"><stop offset="0" stop-color="#2a84df"/><stop offset="0.71" stop-color="#2a84df"/><stop offset="0.89" stop-color="#8a4fb0"/><stop offset="1" stop-color="#f5145c"/><stop offset="1" stop-color="#f5145c"/></linearGradient>
<linearGradient id="sg14" gradientUnits="userSpaceOnUse" x1="367" y1="0" x2="422.8" y2="0"><stop offset="0" stop-color="#f5145c"/><stop offset="0.69" stop-color="#f5145c"/><stop offset="0.87" stop-color="#8a4fb0"/><stop offset="0.99" stop-color="#2a84df"/><stop offset="1" stop-color="#2a84df"/></linearGradient>
<linearGradient id="cbl" x1="0" y1="0" x2="0" y2="1"><stop offset="0" stop-color="#f5145c"/><stop offset=".5" stop-color="#9a3fb0"/><stop offset="1" stop-color="#2a84df"/></linearGradient>
</defs>
<rect x="323.2" y="523.5" width="24.8" height="7" fill="#d6d2ee"/>
<text x="345.8" y="529.1" font-size="6.1" text-anchor="end" fill="#222" textLength="20.3" lengthAdjust="spacingAndGlyphs">TotalInt</text>
<rect x="355" y="526.35" width="92.2" height="1.3" rx=".6" fill="url(#sg0)"/>
<rect x="415.2" y="526.05" width="26" height="1.9" rx=".9" fill="url(#sg0)"/>
<ellipse cx="429.2" cy="527" rx="1.25" ry="3.75" fill="#f5145c"/>
<ellipse cx="431.1" cy="527" rx=".9" ry="1.79" fill="#f5145c" opacity=".9"/>
<ellipse cx="427.5" cy="527" rx=".8" ry="1.5" fill="#f5145c" opacity=".8"/>
<rect x="310.5" y="532.82" width="37.5" height="7" fill="#d6d2ee"/>
<text x="345.8" y="538.42" font-size="6.1" text-anchor="end" fill="#222" textLength="33" lengthAdjust="spacingAndGlyphs">Intensity_SD</text>
<rect x="363" y="535.67" width="105.5" height="1.3" rx=".6" fill="url(#sg1)"/>
<rect x="411" y="535.37" width="26" height="1.9" rx=".9" fill="url(#sg1)"/>
<ellipse cx="425" cy="536.32" rx="1.25" ry="3.5" fill="#b03a9a"/>
<ellipse cx="426.9" cy="536.32" rx=".9" ry="1.67" fill="#b03a9a" opacity=".9"/>
<ellipse cx="423.3" cy="536.32" rx=".8" ry="1.4" fill="#b03a9a" opacity=".8"/>
<rect x="317" y="542.14" width="31" height="7" fill="#d6d2ee"/>
<text x="345.8" y="547.74" font-size="6.1" text-anchor="end" fill="#222" textLength="26.5" lengthAdjust="spacingAndGlyphs">Skewness</text>
<rect x="377.5" y="544.99" width="77.5" height="1.3" rx=".6" fill="url(#sg2)"/>
<rect x="405" y="544.69" width="26" height="1.9" rx=".9" fill="url(#sg2)"/>
<ellipse cx="419" cy="545.64" rx="1.25" ry="3.25" fill="#5a60c8"/>
<ellipse cx="420.9" cy="545.64" rx=".9" ry="1.55" fill="#5a60c8" opacity=".9"/>
<ellipse cx="417.3" cy="545.64" rx=".8" ry="1.3" fill="#5a60c8" opacity=".8"/>
<text x="345.8" y="557.06" font-size="6.1" text-anchor="end" fill="#222" textLength="26.6" lengthAdjust="spacingAndGlyphs">Perimeter</text>
<rect x="386" y="554.31" width="44" height="1.3" rx=".6" fill="url(#sg3)"/>
<rect x="404.5" y="554.01" width="25.5" height="1.9" rx=".9" fill="url(#sg3)"/>
<ellipse cx="418.5" cy="554.96" rx="1.25" ry="3.5" fill="#2a84df"/>
<ellipse cx="420.4" cy="554.96" rx=".9" ry="1.67" fill="#2a84df" opacity=".9"/>
<ellipse cx="416.8" cy="554.96" rx=".8" ry="1.4" fill="#2a84df" opacity=".8"/>
<rect x="320" y="560.78" width="28" height="7" fill="#d6d2ee"/>
<text x="345.8" y="566.38" font-size="6.1" text-anchor="end" fill="#222" textLength="23.5" lengthAdjust="spacingAndGlyphs">Int_SD_%</text>
<rect x="385" y="563.63" width="36.8" height="1.3" rx=".6" fill="url(#sg4)"/>
<rect x="404" y="563.33" width="17.8" height="1.9" rx=".9" fill="url(#sg4)"/>
<ellipse cx="418" cy="564.28" rx="1.25" ry="3.25" fill="#2a84df"/>
<ellipse cx="419.9" cy="564.28" rx=".9" ry="1.55" fill="#2a84df" opacity=".9"/>
<ellipse cx="416.3" cy="564.28" rx=".8" ry="1.3" fill="#2a84df" opacity=".8"/>
<rect x="302.5" y="570.1" width="45.5" height="7" fill="#d6d2ee"/>
<text x="345.8" y="575.7" font-size="6.1" text-anchor="end" fill="#222" textLength="41" lengthAdjust="spacingAndGlyphs">Median-nt_corr</text>
<rect x="390.8" y="572.95" width="71.2" height="1.3" rx=".6" fill="url(#sg5)"/>
<rect x="400" y="572.65" width="26" height="1.9" rx=".9" fill="url(#sg5)"/>
<ellipse cx="414" cy="573.6" rx="1.25" ry="4" fill="#f5145c"/>
<ellipse cx="415.9" cy="573.6" rx=".9" ry="1.9" fill="#f5145c" opacity=".9"/>
<ellipse cx="412.3" cy="573.6" rx=".8" ry="1.6" fill="#f5145c" opacity=".8"/>
<rect x="313" y="579.42" width="35" height="7" fill="#d6d2ee"/>
<text x="345.8" y="585.02" font-size="6.1" text-anchor="end" fill="#222" textLength="30.5" lengthAdjust="spacingAndGlyphs">Int_SD_corr</text>
<rect x="382" y="582.27" width="59.5" height="1.3" rx=".6" fill="url(#sg6)"/>
<rect x="402.5" y="581.97" width="26" height="1.9" rx=".9" fill="url(#sg6)"/>
<ellipse cx="416.5" cy="582.92" rx="1.25" ry="3.5" fill="#f5145c"/>
<ellipse cx="418.4" cy="582.92" rx=".9" ry="1.67" fill="#f5145c" opacity=".9"/>
<ellipse cx="414.8" cy="582.92" rx=".8" ry="1.4" fill="#f5145c" opacity=".8"/>
<text x="345.8" y="594.34" font-size="6.1" text-anchor="end" fill="#222" textLength="12" lengthAdjust="spacingAndGlyphs">Area</text>
<rect x="378.8" y="591.59" width="49" height="1.3" rx=".6" fill="url(#sg7)"/>
<rect x="402.5" y="591.29" width="25.3" height="1.9" rx=".9" fill="url(#sg7)"/>
<ellipse cx="416.5" cy="592.24" rx="1.25" ry="3.5" fill="#2a84df"/>
<ellipse cx="418.4" cy="592.24" rx=".9" ry="1.67" fill="#2a84df" opacity=".9"/>
<ellipse cx="414.8" cy="592.24" rx=".8" ry="1.4" fill="#2a84df" opacity=".8"/>
<rect x="317" y="598.06" width="31" height="7" fill="#d6d2ee"/>
<text x="345.8" y="603.66" font-size="6.1" text-anchor="end" fill="#222" textLength="26.5" lengthAdjust="spacingAndGlyphs">MedianInt</text>
<rect x="400.5" y="600.91" width="21.7" height="1.3" rx=".6" fill="url(#sg8)"/>
<rect x="403.2" y="600.61" width="19" height="1.9" rx=".9" fill="url(#sg8)"/>
<ellipse cx="417.2" cy="601.56" rx="1.25" ry="3.25" fill="#c02a80"/>
<ellipse cx="419.1" cy="601.56" rx=".9" ry="1.55" fill="#c02a80" opacity=".9"/>
<ellipse cx="415.5" cy="601.56" rx=".8" ry="1.3" fill="#c02a80" opacity=".8"/>
<text x="345.8" y="612.98" font-size="6.1" text-anchor="end" fill="#222" textLength="42.6" lengthAdjust="spacingAndGlyphs">Ferret diameter</text>
<rect x="403" y="610.23" width="24.2" height="1.3" rx=".6" fill="url(#sg9)"/>
<rect x="403" y="609.93" width="24.2" height="1.9" rx=".9" fill="url(#sg9)"/>
<ellipse cx="416" cy="610.88" rx="1.25" ry="3.5" fill="#2a84df"/>
<ellipse cx="417.9" cy="610.88" rx=".9" ry="1.67" fill="#2a84df" opacity=".9"/>
<ellipse cx="414.3" cy="610.88" rx=".8" ry="1.4" fill="#2a84df" opacity=".8"/>
<text x="345.8" y="622.3" font-size="6.1" text-anchor="end" fill="#222" textLength="41.6" lengthAdjust="spacingAndGlyphs">Area/perimeter</text>
<rect x="377.5" y="619.55" width="47.3" height="1.3" rx=".6" fill="url(#sg10)"/>
<rect x="402" y="619.25" width="22.8" height="1.9" rx=".9" fill="url(#sg10)"/>
<ellipse cx="416" cy="620.2" rx="1.25" ry="3.5" fill="#2a84df"/>
<ellipse cx="417.9" cy="620.2" rx=".9" ry="1.67" fill="#2a84df" opacity=".9"/>
<ellipse cx="414.3" cy="620.2" rx=".8" ry="1.4" fill="#2a84df" opacity=".8"/>
<rect x="319.5" y="626.02" width="28.5" height="7" fill="#d6d2ee"/>
<text x="345.8" y="631.62" font-size="6.1" text-anchor="end" fill="#222" textLength="24" lengthAdjust="spacingAndGlyphs">Mean_Int</text>
<rect x="408" y="628.87" width="17.5" height="1.3" rx=".6" fill="url(#sg11)"/>
<rect x="408" y="628.57" width="17.5" height="1.9" rx=".9" fill="url(#sg11)"/>
<ellipse cx="417" cy="629.52" rx="1.25" ry="3.25" fill="#f5145c"/>
<ellipse cx="418.9" cy="629.52" rx=".9" ry="1.55" fill="#f5145c" opacity=".9"/>
<ellipse cx="415.3" cy="629.52" rx=".8" ry="1.3" fill="#f5145c" opacity=".8"/>
<rect x="322.5" y="635.34" width="25.5" height="7" fill="#d6d2ee"/>
<text x="345.8" y="640.94" font-size="6.1" text-anchor="end" fill="#222" textLength="21" lengthAdjust="spacingAndGlyphs">Kurtosis</text>
<rect x="399.2" y="638.19" width="26" height="1.3" rx=".6" fill="url(#sg12)"/>
<rect x="401.8" y="637.89" width="23.4" height="1.9" rx=".9" fill="url(#sg12)"/>
<ellipse cx="415.8" cy="638.84" rx="1.25" ry="3.25" fill="#a040a0"/>
<ellipse cx="417.7" cy="638.84" rx=".9" ry="1.55" fill="#a040a0" opacity=".9"/>
<ellipse cx="414.1" cy="638.84" rx=".8" ry="1.3" fill="#a040a0" opacity=".8"/>
<text x="345.8" y="650.26" font-size="6.1" text-anchor="end" fill="#222" textLength="30" lengthAdjust="spacingAndGlyphs">Roundness</text>
<rect x="391.2" y="647.51" width="27.3" height="1.3" rx=".6" fill="url(#sg13)"/>
<rect x="401.5" y="647.21" width="17" height="1.9" rx=".9" fill="url(#sg13)"/>
<ellipse cx="415.5" cy="648.16" rx="1.25" ry="3.25" fill="#f5145c"/>
<ellipse cx="417.4" cy="648.16" rx=".9" ry="1.55" fill="#f5145c" opacity=".9"/>
<ellipse cx="413.8" cy="648.16" rx=".8" ry="1.3" fill="#f5145c" opacity=".8"/>
<text x="345.8" y="659.58" font-size="6.1" text-anchor="end" fill="#222" textLength="51.3" lengthAdjust="spacingAndGlyphs">Sum of 10 features</text>
<rect x="367" y="656.83" width="55.8" height="1.3" rx=".6" fill="url(#sg14)"/>
<rect x="402" y="656.53" width="20.8" height="1.9" rx=".9" fill="url(#sg14)"/>
<ellipse cx="416" cy="657.48" rx="1.25" ry="3.5" fill="#2a84df"/>
<ellipse cx="417.9" cy="657.48" rx=".9" ry="1.67" fill="#2a84df" opacity=".9"/>
<ellipse cx="414.3" cy="657.48" rx=".8" ry="1.4" fill="#2a84df" opacity=".8"/>
<circle cx="371.2" cy="527.0" r="1.1" fill="#2a84df"/>
<ellipse cx="412.2" cy="573.6" rx="1.6" ry="2.6" fill="#f5145c"/>
<ellipse cx="412.8" cy="582.92" rx="2.2" ry="2.2" fill="#4a66cc"/>
<path d="M463,573.6H476" stroke="#f5145c" stroke-width=".9" stroke-dasharray="1 1.1"/>
<circle cx="373.8" cy="620.2" r=".7" fill="#f5145c"/>
<path d="M350,667H481" stroke="#444" stroke-width=".5"/>
<path d="M355.6,667v2" stroke="#444" stroke-width=".5"/>
<text x="354.6" y="674.4" font-size="6.6" text-anchor="middle" fill="#333">-0.4</text>
<path d="M370.6,667v2" stroke="#444" stroke-width=".5"/>
<text x="369.6" y="674.4" font-size="6.6" text-anchor="middle" fill="#333">-0.3</text>
<path d="M385.6,667v2" stroke="#444" stroke-width=".5"/>
<text x="384.6" y="674.4" font-size="6.6" text-anchor="middle" fill="#333">-0.2</text>
<path d="M400.6,667v2" stroke="#444" stroke-width=".5"/>
<text x="399.6" y="674.4" font-size="6.6" text-anchor="middle" fill="#333">-0.1</text>
<path d="M415.6,667v2" stroke="#444" stroke-width=".5"/>
<text x="415.6" y="674.4" font-size="6.6" text-anchor="middle" fill="#333">0</text>
<path d="M430.6,667v2" stroke="#444" stroke-width=".5"/>
<text x="430.6" y="674.4" font-size="6.6" text-anchor="middle" fill="#333">0.1</text>
<path d="M445.6,667v2" stroke="#444" stroke-width=".5"/>
<text x="445.6" y="674.4" font-size="6.6" text-anchor="middle" fill="#333">0.2</text>
<path d="M460.6,667v2" stroke="#444" stroke-width=".5"/>
<text x="460.6" y="674.4" font-size="6.6" text-anchor="middle" fill="#333">0.3</text>
<path d="M475.6,667v2" stroke="#444" stroke-width=".5"/>
<text x="475.6" y="674.4" font-size="6.6" text-anchor="middle" fill="#333">0.4</text>
<text x="419.3" y="683.8" font-size="7.2" text-anchor="middle" fill="#333" textLength="122.5" lengthAdjust="spacingAndGlyphs">SHAP value (impact on model output)</text>
<rect x="483.4" y="538" width="1.5" height="110.8" fill="url(#cbl)"/>
<text x="476.8" y="535.2" font-size="7.4" fill="#333">High</text>
<text x="477.8" y="656" font-size="7.4" fill="#333">Low</text>
<text transform="translate(491.5 592) rotate(90)" font-size="7.2" text-anchor="middle" fill="#333">Feature value</text>
</svg></body></html>
